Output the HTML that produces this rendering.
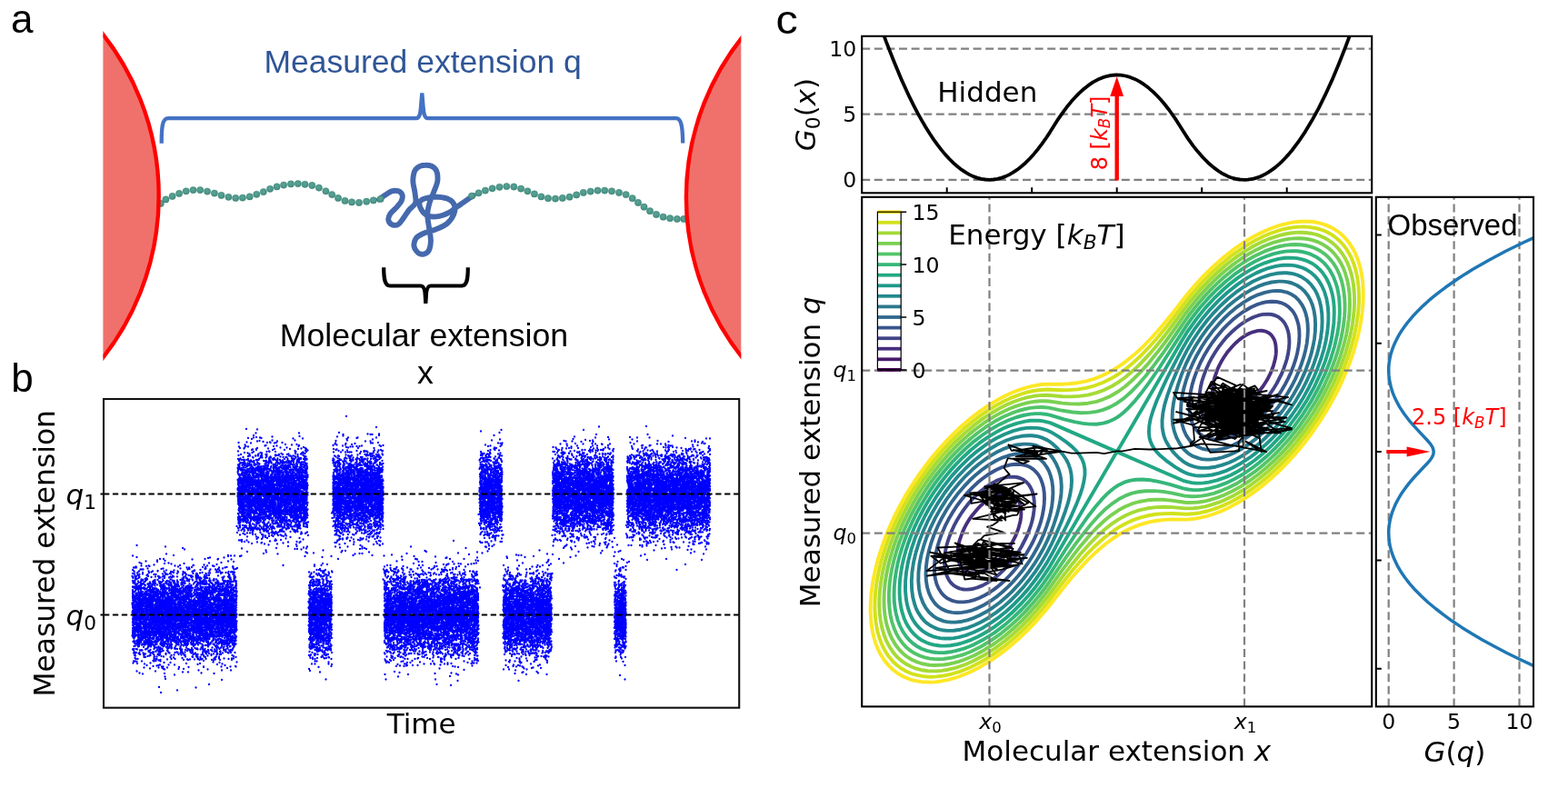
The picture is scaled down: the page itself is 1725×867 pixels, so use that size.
<!DOCTYPE html>
<html><head><meta charset="utf-8"><title>Figure</title>
<style>html,body{margin:0;padding:0;background:#fff;width:1725px;height:867px;overflow:hidden}svg{display:block}</style>
</head><body>
<svg width="1725" height="867" viewBox="0 0 1725 867">
<path transform="scale(.5)" fill="none" stroke="#0000ff" stroke-width="4.6" stroke-linecap="round" d="M291 1399h0m0-131h0m0 62h0m0 17h0m0-20h0m1-29h0m0 36h0m0-80h0m0 141h0m0-74h0m0-42h0m0 83h0m0-139h0m0 69h0m0 9h0m0 86h0m0 5h0m0-16h0m0-68h0m0 36h0m0-66h0m0-8h0m0 78h0m0-69h0m0 12h0m0 14h0m0 77h0m0 16h0m0-61h0m0 55h0m0-21h0m0 58h0m0-93h0m0-74h0m0 126h0m0-21h0m0-16h0m0-38h0m0 3h0m0-4h0m0 88h0m1-37h0m0-4h0m0 8h0m0-96h0m0 77h0m0 6h0m0 58h0m0-73h0m0 6h0m0 16h0m0-47h0m0 62h0m0-93h0m0 120h0m0-95h0m0 122h0m0-113h0m0 142h0m0-70h0m0-61h0m0 35h0m0-91h0m0 117h0m0-46h0m0 39h0m0-23h0m0-1h0m0-42h0m0-24h0m1-13h0m0 54h0m0 104h0m0-93h0m0 19h0m0-16h0m0 84h0m0-111h0m0 37h0m0 22h0m0 76h0m0-134h0m0 12h0m0-18h0m0 20h0m0-13h0m0 56h0m0 51h0m0-180h0m0 138h0m0 41h0m0-60h0m0 36h0m0-3h0m0-44h0m0-47h0m0 94h0m0-79h0m0 2h0m0-71h0m0 127h0m1-61h0m0 52h0m0 38h0m0-63h0m0 23h0m0 8h0m0 15h0m0-48h0m0 45h0m0-101h0m0 102h0m0-30h0m0-5h0m0 26h0m0 38h0m0-58h0m0 16h0m0-56h0m0 86h0m0-30h0m0-7h0m0-94h0m0 63h0m0-2h0m0 40h0m0 22h0m0-68h0m0-32h0m0 103h0m0-58h0m0 14h0m0 26h0m0-76h0m1 43h0m0-90h0m0 91h0m0-33h0m0 16h0m0 97h0m0-77h0m0-23h0m0 77h0m0-27h0m0-126h0m0 121h0m0-27h0m0 62h0m0-69h0m0 53h0m0-105h0m0 148h0m0-129h0m0 28h0m0 7h0m0-17h0m0 106h0m0-134h0m1 13h0m0-3h0m0 61h0m0 7h0m0-45h0m0 11h0m0 14h0m0 0h0m0 24h0m0 16h0m0 47h0m0-180h0m0 81h0m0-8h0m0-18h0m0 93h0m0-167h0m0 152h0m0-78h0m0 18h0m0-60h0m0 33h0m0 21h0m0 103h0m0-44h0m0-3h0m0 64h0m0-58h0m0-11h0m0-36h0m0-65h0m1 99h0m0-61h0m0-5h0m0 40h0m0 26h0m0 37h0m0-31h0m0-90h0m0 90h0m0-74h0m0-40h0m0 47h0m0 18h0m0 102h0m0-74h0m0-13h0m0-83h0m1 123h0m0-29h0m0 23h0m0-63h0m0 38h0m0-23h0m0 17h0m0-62h0m0 86h0m0 14h0m0-43h0m0 19h0m0-52h0m0 78h0m0 29h0m0 22h0m0-103h0m0-50h0m0 48h0m0-38h0m0-20h0m0 9h0m0 40h0m0-89h0m0 136h0m0-72h0m0-39h0m0 55h0m0-36h0m0-5h0m0 49h0m1 17h0m0-28h0m0 8h0m0-26h0m0 76h0m0-71h0m0-5h0m0 52h0m0 10h0m0 7h0m0-1h0m0-106h0m0 102h0m0-121h0m0 121h0m0-15h0m0 0h0m0 23h0m0-48h0m0 81h0m0-56h0m0 28h0m0 2h0m0-93h0m0 144h0m1-87h0m0 40h0m0-38h0m0 65h0m0-58h0m0-84h0m0 72h0m0 34h0m0-92h0m0 23h0m0 145h0m0-112h0m0 133h0m0-116h0m0 56h0m0-50h0m0 9h0m0-84h0m0 47h0m0-139h0m0 176h0m0-43h0m0 27h0m0 20h0m0-75h0m0 49h0m0 23h0m0-44h0m0-107h0m1 104h0m0 10h0m0 31h0m0-11h0m0 100h0m0-71h0m0 1h0m0-59h0m0 67h0m0-137h0m0 112h0m0-57h0m0 28h0m0-53h0m0 107h0m0-101h0m0 82h0m0-3h0m0 5h0m0-96h0m0 127h0m0-74h0m0 91h0m0-100h0m0 26h0m0 55h0m0-69h0m0-24h0m1 35h0m0-57h0m0 56h0m0-32h0m0 66h0m0-70h0m0 11h0m0 65h0m0-72h0m0 101h0m0-56h0m0-57h0m0 143h0m0-33h0m0-61h0m0-30h0m0 15h0m0 20h0m0-15h0m0-3h0m0 3h0m0-86h0m0 118h0m0-113h0m0 52h0m0 75h0m0-65h0m0 81h0m0-77h0m1 40h0m0-23h0m0-27h0m0 64h0m0-47h0m0-59h0m0 56h0m0-43h0m0 111h0m0-7h0m0-42h0m0 47h0m0-62h0m0 23h0m0 22h0m0-23h0m0 21h0m0-34h0m0 67h0m0-74h0m0-7h0m0-38h0m0 96h0m0 31h0m0-96h0m1-25h0m0 89h0m0-109h0m0-10h0m0 108h0m0 23h0m0 6h0m0 4h0m0-70h0m0-9h0m0 8h0m0-18h0m0 21h0m0-1h0m0-8h0m0-15h0m0 6h0m0 111h0m0-127h0m0 47h0m0-60h0m0 33h0m1 35h0m0-98h0m0 67h0m0-78h0m0 82h0m0 37h0m0-47h0m0 2h0m0 49h0m0-20h0m0 37h0m0-101h0m0 33h0m0 93h0m0-117h0m0 83h0m0-49h0m0 16h0m0 44h0m0 6h0m0-91h0m0 103h0m0-58h0m0-1h0m0-10h0m0-36h0m0 77h0m0-98h0m0 99h0m0-50h0m0 3h0m0-5h0m0-4h0m0-64h0m0 105h0m0 16h0m0-52h0m0 25h0m0-75h0m0 69h0m0-10h0m0 29h0m0-34h0m1 12h0m0-34h0m0 84h0m0-51h0m0-116h0m0 129h0m0 30h0m0-13h0m0-66h0m0 56h0m0-59h0m0 83h0m0-44h0m0 13h0m0 36h0m0 15h0m0-95h0m0-59h0m0 96h0m0-90h0m0 59h0m0-25h0m0 40h0m0 2h0m0-28h0m0 22h0m0 74h0m0-120h0m0 53h0m0 62h0m0-33h0m0 1h0m0-65h0m0 45h0m0 79h0m0-122h0m0 34h0m0 133h0m0-186h0m0 32h0m0 50h0m0-20h0m1-29h0m0-12h0m0 5h0m0-9h0m0-24h0m0 71h0m0-25h0m0 106h0m0-54h0m0 5h0m0 18h0m0-101h0m0 67h0m0 15h0m0-19h0m0 40h0m0-61h0m0-43h0m0 61h0m0 63h0m0-92h0m0 6h0m0-21h0m0 86h0m0-99h0m0 40h0m0 46h0m1 12h0m0-71h0m0-4h0m0 1h0m0-11h0m0 39h0m0-27h0m0 35h0m0-16h0m0 26h0m0-28h0m0 29h0m0-100h0m0 73h0m0-102h0m0 155h0m0-103h0m0 72h0m0-60h0m0 17h0m0-7h0m0-6h0m0 36h0m1 16h0m0-84h0m0 77h0m0-40h0m0 68h0m0 37h0m0-70h0m0-6h0m0 5h0m0-60h0m0 53h0m0-10h0m0-16h0m0 52h0m0-93h0m0 5h0m0-12h0m0 44h0m0 3h0m0-17h0m0 103h0m0-81h0m0 21h0m0 39h0m0-12h0m0-51h0m0-45h0m0 131h0m0-20h0m0-14h0m0-26h0m0 17h0m0-74h0m0 56h0m1-78h0m0 117h0m0-80h0m0 40h0m0-2h0m0 12h0m0-122h0m0 105h0m0 13h0m0-25h0m0-31h0m0 40h0m0-48h0m0 137h0m0-25h0m0-73h0m0 39h0m0-48h0m0 35h0m0-39h0m0 19h0m0 62h0m0-30h0m0-43h0m0-83h0m0 39h0m0 48h0m0 68h0m0-41h0m0 72h0m0-29h0m0-62h0m0 46h0m0-56h0m0 75h0m0-43h0m0-60h0m0 103h0m1 4h0m0-81h0m0 16h0m0 16h0m0-54h0m0 149h0m0-106h0m0-23h0m0 1h0m0 34h0m0 22h0m0 25h0m0-132h0m0 48h0m0-20h0m0 69h0m0-79h0m0-41h0m0 145h0m0-52h0m0-19h0m0-22h0m0-18h0m0 71h0m0-6h0m0-18h0m0 85h0m0-51h0m0-28h0m0-1h0m1-32h0m0 1h0m0 18h0m0 33h0m0 30h0m0 42h0m0-76h0m0-19h0m0 58h0m0 25h0m0-84h0m0-49h0m0 32h0m0 72h0m0-112h0m0 93h0m0-41h0m0 62h0m0-31h0m0-55h0m0 4h0m0-7h0m0 31h0m0 5h0m0 30h0m0 4h0m1-97h0m0 46h0m0 11h0m0 22h0m0 128h0m0-66h0m0-46h0m0-41h0m0 40h0m0-40h0m0-3h0m0-64h0m0 58h0m0 70h0m0-89h0m0-42h0m0 55h0m0 48h0m0-31h0m0-6h0m0 5h0m0 30h0m0-84h0m0 50h0m0-32h0m0 112h0m0-82h0m1 79h0m0-35h0m0-29h0m0 97h0m0-120h0m0 37h0m0 5h0m0-36h0m0 58h0m0-49h0m0 47h0m0 21h0m0-147h0m0 121h0m0 25h0m0-56h0m0 2h0m0-61h0m0 73h0m0-17h0m0 60h0m0-6h0m0 7h0m0-8h0m0-50h0m0 24h0m0 32h0m1-4h0m0-81h0m0 19h0m0 91h0m0-101h0m0 43h0m0-21h0m0-31h0m0-6h0m0 5h0m0 36h0m0 92h0m0-87h0m0-60h0m0 14h0m0-15h0m0 86h0m0-32h0m0 27h0m0 15h0m1-59h0m0 26h0m0-75h0m0 86h0m0-58h0m0 60h0m0 42h0m0 2h0m0-73h0m0-24h0m0 12h0m0 63h0m0-36h0m0-3h0m0 6h0m0 27h0m0 34h0m0-44h0m0 8h0m0-61h0m0-7h0m0 154h0m0-23h0m0-62h0m0-26h0m0 84h0m0-84h0m0-36h0m0-2h0m0 7h0m0 58h0m1-79h0m0 72h0m0-91h0m0 129h0m0-16h0m0 16h0m0-82h0m0-29h0m0 134h0m0-142h0m0 66h0m0-45h0m0 143h0m0-168h0m0 93h0m0 11h0m0-46h0m0 53h0m0-2h0m0-49h0m0 30h0m0-6h0m0 7h0m1-46h0m0-58h0m0 100h0m0 24h0m0 13h0m0-138h0m0 133h0m0-50h0m0 5h0m0-31h0m0 59h0m0 10h0m0-48h0m0 16h0m0-18h0m0 30h0m0 9h0m0 25h0m0-29h0m0-54h0m0-1h0m0 29h0m0-10h0m0 13h0m0-62h0m0 109h0m0-140h0m0 88h0m0 28h0m1-44h0m0-27h0m0 59h0m0 16h0m0-16h0m0-76h0m0 68h0m0-3h0m0-62h0m0-17h0m0 158h0m0-78h0m0-43h0m0 12h0m0 45h0m0-43h0m0-26h0m0 59h0m0 67h0m0-112h0m0 2h0m0 58h0m0-68h0m0 34h0m0-37h0m0 46h0m0 67h0m0-121h0m0 34h0m0-22h0m0 7h0m1-50h0m0 92h0m0 15h0m0 7h0m0-27h0m0 44h0m0-87h0m0 45h0m0-53h0m0 95h0m0-42h0m0-6h0m0-55h0m0 23h0m0-9h0m0 32h0m0-7h0m0 5h0m0-114h0m0 128h0m0-56h0m0 69h0m0 12h0m0 10h0m0-35h0m0-53h0m0-14h0m0 43h0m0 51h0m0-60h0m0 7h0m0-1h0m0 17h0m1 50h0m0-131h0m0 32h0m0 35h0m0 7h0m0 34h0m0-47h0m0-28h0m0 15h0m0 76h0m0-49h0m0 26h0m0 23h0m0-49h0m0 30h0m0-73h0m0 83h0m0-70h0m0 38h0m0-45h0m0 107h0m0-91h0m0-23h0m0-57h0m0 109h0m0 46h0m0 12h0m0-20h0m1-18h0m0-71h0m0 34h0m0 75h0m0-24h0m0 75h0m0-100h0m0-19h0m0 24h0m0-93h0m0 101h0m0-111h0m0 61h0m0 19h0m0-38h0m0 81h0m0-20h0m0 12h0m0-86h0m0 24h0m0 25h0m0 9h0m0 32h0m0-2h0m0-51h0m0-31h0m0 127h0m0-44h0m0 1h0m0-51h0m0 5h0m0 35h0m0-37h0m0 12h0m0 20h0m0-15h0m0-19h0m0 50h0m0 26h0m1-137h0m0 77h0m0 29h0m0-32h0m0 67h0m0-26h0m0-67h0m0 3h0m0 29h0m0-34h0m0 19h0m0 20h0m0-38h0m0 73h0m0-19h0m0-27h0m0-48h0m0 74h0m0-52h0m0 72h0m1-63h0m0 77h0m0-14h0m0-33h0m0-97h0m0 82h0m0-1h0m0 81h0m0-86h0m0-5h0m0-84h0m0 99h0m0 9h0m0-74h0m0 116h0m0-63h0m0-22h0m0 42h0m0-41h0m0 80h0m0-42h0m0 36h0m0 53h0m0-80h0m1-58h0m0 28h0m0 73h0m0 9h0m0-12h0m0-75h0m0-42h0m0 47h0m0-35h0m0 125h0m0-52h0m0-80h0m0 18h0m0-42h0m0 63h0m0 25h0m0 32h0m0-7h0m0 39h0m0-64h0m0 0h0m0 25h0m0 23h0m1-78h0m0 106h0m0-106h0m0 70h0m0-96h0m0 134h0m0-69h0m0-45h0m0 97h0m0-160h0m0 101h0m0 21h0m0 14h0m0-61h0m0 24h0m0-111h0m0 77h0m0 35h0m0 55h0m0-15h0m0-71h0m1 57h0m0 2h0m0-31h0m0 40h0m0 28h0m0-98h0m0 91h0m0-131h0m0 14h0m0 57h0m0 21h0m0 11h0m0-45h0m0-15h0m0 8h0m0 1h0m0-46h0m0 99h0m0-78h0m0 23h0m0-20h0m0 49h0m0 7h0m0 34h0m0-19h0m0-51h0m0 1h0m0 7h0m0-43h0m0 53h0m0 60h0m0-23h0m0-129h0m0 41h0m1 48h0m0 84h0m0-66h0m0-34h0m0 18h0m0-15h0m0 55h0m0-49h0m0 66h0m0-107h0m0 76h0m0-32h0m0-27h0m0 100h0m0 25h0m0-109h0m0 35h0m0-26h0m0 2h0m0-4h0m0 41h0m0-49h0m0 21h0m0-32h0m0 20h0m0 28h0m0-53h0m0 32h0m0-60h0m0 110h0m0-153h0m1 171h0m0-86h0m0 87h0m0-35h0m0-52h0m0 38h0m0 13h0m0 20h0m0-5h0m0-99h0m0 110h0m0-115h0m0 82h0m0-48h0m0 53h0m0-40h0m0 131h0m0-142h0m0-22h0m0 43h0m0 3h0m0-72h0m0 123h0m0-55h0m0-53h0m0 23h0m1 140h0m0-154h0m0 28h0m0 17h0m0-9h0m0 89h0m0-140h0m0 19h0m0 61h0m0-10h0m0-24h0m0 61h0m0-36h0m0-77h0m0 45h0m0 36h0m0-48h0m0 121h0m0-1h0m0-73h0m0 11h0m0-24h0m0 21h0m0 70h0m0-39h0m1 7h0m0-64h0m0-43h0m0 26h0m0 2h0m0 92h0m0-102h0m0-12h0m0 5h0m0 107h0m0-64h0m0-56h0m0 11h0m0 49h0m0-17h0m0 50h0m0-44h0m0 48h0m0-50h0m0-17h0m0 18h0m0 30h0m0-20h0m0-54h0m0 57h0m0 52h0m0-80h0m0-14h0m0 28h0m0 42h0m0-66h0m0 54h0m1 9h0m0-14h0m0-2h0m0 40h0m0-36h0m0-16h0m0-3h0m0 7h0m0 8h0m0-80h0m0 120h0m0-69h0m0 48h0m0-131h0m0 30h0m0 76h0m0-95h0m0 65h0m0-26h0m0 28h0m0-13h0m0 3h0m0-6h0m0 39h0m0-22h0m0-21h0m0 9h0m0-22h0m0-6h0m0 121h0m0-129h0m0 74h0m1-10h0m0-22h0m0 5h0m0-16h0m0 18h0m0 78h0m0-117h0m0 82h0m0-47h0m0 84h0m0-66h0m0-41h0m0-22h0m0 95h0m0 32h0m0-68h0m0 3h0m0-41h0m0 15h0m0 32h0m0 3h0m0-25h0m0 33h0m0-35h0m0 8h0m0 63h0m1 7h0m0-50h0m0-44h0m0 45h0m0-25h0m0-52h0m0 86h0m0 34h0m0-61h0m0 70h0m0-51h0m0-64h0m0 116h0m0-29h0m0 49h0m0-148h0m0 1h0m0 98h0m0-37h0m0 8h0m0-45h0m0-16h0m0 70h0m1-24h0m0-20h0m0 81h0m0-91h0m0 51h0m0 1h0m0-79h0m0 54h0m0 30h0m0-76h0m0 99h0m0-113h0m0 90h0m0 48h0m0-69h0m0-92h0m0 116h0m0-23h0m0 63h0m0-23h0m0-52h0m0-5h0m0 20h0m0-32h0m0 0h0m0 50h0m0 26h0m0-49h0m0-28h0m0 59h0m0 13h0m0-63h0m0 56h0m0 12h0m0-31h0m0-41h0m0 15h0m0-21h0m1 55h0m0-60h0m0 65h0m0-58h0m0 10h0m0 63h0m0-21h0m0-14h0m0 80h0m0-87h0m0-69h0m0 117h0m0-50h0m0-15h0m0 131h0m0-160h0m0 129h0m0-62h0m0-20h0m0 101h0m0-111h0m0 19h0m0 11h0m0 7h0m0-76h0m0 25h0m0 23h0m0 51h0m0-56h0m0 53h0m0-28h0m0-67h0m0 42h0m0 56h0m0-51h0m0-42h0m0 65h0m0-17h0m0-25h0m1 36h0m0-56h0m0 5h0m0 41h0m0-11h0m0 18h0m0-15h0m0 38h0m0-6h0m0-38h0m0 16h0m0 40h0m0 6h0m0-4h0m0-48h0m0 4h0m0 17h0m0-18h0m0-55h0m0-4h0m0 105h0m0-42h0m0 57h0m0-70h0m0 34h0m0-39h0m0-44h0m0-22h0m0 68h0m0 89h0m0-91h0m0-26h0m1 53h0m0 13h0m0 44h0m0-164h0m0 74h0m0 112h0m0-73h0m0-82h0m0-52h0m0 212h0m0-9h0m0-5h0m0-58h0m0-100h0m0 82h0m0-43h0m0 45h0m0-58h0m0 95h0m0-11h0m0-129h0m0 21h0m0 64h0m0-69h0m0 72h0m0 31h0m0-36h0m0 94h0m0-19h0m0-62h0m0-64h0m0 104h0m1-31h0m0-25h0m0-3h0m0 55h0m0 17h0m0 32h0m0-55h0m0-1h0m0-35h0m0 22h0m0-74h0m0 62h0m0-56h0m0 9h0m0-22h0m0 84h0m0-15h0m0 48h0m0-50h0m0-11h0m0 75h0m0-129h0m0 49h0m0-43h0m0 88h0m0-71h0m0 32h0m0-30h0m0 76h0m1-122h0m0 13h0m0 110h0m0-45h0m0 9h0m0-68h0m0 72h0m0 11h0m0-100h0m0 119h0m0-43h0m0-75h0m0 115h0m0-27h0m0-6h0m0-39h0m0 35h0m0-53h0m0 45h0m0-36h0m0-31h0m0 132h0m0-69h0m0 47h0m0-54h0m0-5h0m0 19h0m1 30h0m0-77h0m0 67h0m0 0h0m0-37h0m0-66h0m0 141h0m0-87h0m0 18h0m0 0h0m0 78h0m0-70h0m0 6h0m0-25h0m0 54h0m0 93h0m0-193h0m0 24h0m0 117h0m0-83h0m0 32h0m0-62h0m0 32h0m0-12h0m0 26h0m0 52h0m0-20h0m0-23h0m0-31h0m0 17h0m0 12h0m1-23h0m0 73h0m0 19h0m0-115h0m0 57h0m0-46h0m0 56h0m0 0h0m0-53h0m0 56h0m0-94h0m0 95h0m0 60h0m0-111h0m0 22h0m0 4h0m0-39h0m0 59h0m0-19h0m0-34h0m0 65h0m0 57h0m0-190h0m0 65h0m0-3h0m0 107h0m1-67h0m0 27h0m0 1h0m0-32h0m0-30h0m0 53h0m0-39h0m0-8h0m0-26h0m0 59h0m0 25h0m0 3h0m0-32h0m0-67h0m0 105h0m0-63h0m0 21h0m0 21h0m0-65h0m0 23h0m0-30h0m0 26h0m0 56h0m0 12h0m1-33h0m0-64h0m0 69h0m0-16h0m0 40h0m0-100h0m0 87h0m0-69h0m0 98h0m0 47h0m0-109h0m0 69h0m0-72h0m0 26h0m0-72h0m0 57h0m0-11h0m0-16h0m0 108h0m0-107h0m0 12h0m0 100h0m0-90h0m0-64h0m0 21h0m0 30h0m0-22h0m0 86h0m0-34h0m1-25h0m0 24h0m0-72h0m0 39h0m0-56h0m0 53h0m0 26h0m0 36h0m0-34h0m0-53h0m0 98h0m0-30h0m0-62h0m0 71h0m0-25h0m0-49h0m0 29h0m0 26h0m0-8h0m0 8h0m0-42h0m0 0h0m0-3h0m0 35h0m0-20h0m0-10h0m0 23h0m0-123h0m0 65h0m0 43h0m0-28h0m0 46h0m0-33h0m0 104h0m0-194h0m0 176h0m1-7h0m0-21h0m0 28h0m0-22h0m0-59h0m0-8h0m0 85h0m0-152h0m0 87h0m0-67h0m0 87h0m0-53h0m0 61h0m0-23h0m0 82h0m0-56h0m0-13h0m0-21h0m0 0h0m0 48h0m0-64h0m0 52h0m0-119h0m0 102h0m0-47h0m0 32h0m0-38h0m0 28h0m0 106h0m1-113h0m0 22h0m0-12h0m0 102h0m0-115h0m0 59h0m0-74h0m0 67h0m0-67h0m0 15h0m0 30h0m0-38h0m0-18h0m0 82h0m0-41h0m0-23h0m0 67h0m0-7h0m0 5h0m0-20h0m0-61h0m0 6h0m0 10h0m0 65h0m0 25h0m0-20h0m0-17h0m0-29h0m0 21h0m0 20h0m0-11h0m0 34h0m0-46h0m0 19h0m0-109h0m0 102h0m0 1h0m0 54h0m0-100h0m0 69h0m0-60h0m0-1h0m0-1h0m0 12h0m1 90h0m0-100h0m0-8h0m0 56h0m0-57h0m0 98h0m0-108h0m0 138h0m0-92h0m0-40h0m0-8h0m0 156h0m0-153h0m0 3h0m0 69h0m0-8h0m0-30h0m0 114h0m0-128h0m0 60h0m0-53h0m0 64h0m0-70h0m0-29h0m0 28h0m1 12h0m0 19h0m0-14h0m0-16h0m0 63h0m0-17h0m0 10h0m0-9h0m0-23h0m0-2h0m0-43h0m0 196h0m0-70h0m0-141h0m0 45h0m0 51h0m0 29h0m0-60h0m0 11h0m0-55h0m0 30h0m0 44h0m0 13h0m0-65h0m0 25h0m0-35h0m0 44h0m0-9h0m0-17h0m0-80h0m0 8h0m0 55h0m0-66h0m1 121h0m0-15h0m0 14h0m0-105h0m0 57h0m0 45h0m0 48h0m0-3h0m0-34h0m0 10h0m0-31h0m0 16h0m0-43h0m0 78h0m0-57h0m0-48h0m0 5h0m0 21h0m0-45h0m0 28h0m0 26h0m0-16h0m0 24h0m0-49h0m0 25h0m1-111h0m0 233h0m0-143h0m0 9h0m0 2h0m0 12h0m0 53h0m0-61h0m0 58h0m0-42h0m0 22h0m0 59h0m0-143h0m0 97h0m0-80h0m0 134h0m0-108h0m0-5h0m0 58h0m0-71h0m0 31h0m0 43h0m0-108h0m0 87h0m0 12h0m0 51h0m0-37h0m0-29h0m0-21h0m0-7h0m0 52h0m0-62h0m0 5h0m0 105h0m1-72h0m0-29h0m0 64h0m0-65h0m0-16h0m0 82h0m0-98h0m0 71h0m0-90h0m0-12h0m0 111h0m0-18h0m0 33h0m0-2h0m0-3h0m0-46h0m0 45h0m0 3h0m0 11h0m0 2h0m0-45h0m0 18h0m0 75h0m0-117h0m0 46h0m0-25h0m0 47h0m0 22h0m0 24h0m0-138h0m0 82h0m0-8h0m0-21h0m0 66h0m0-110h0m0 54h0m0 39h0m0 9h0m0-23h0m0 16h0m0-98h0m0 108h0m1-105h0m0-13h0m0 25h0m0-9h0m0 21h0m0-5h0m0-1h0m0 43h0m0-9h0m0 29h0m0-29h0m0 11h0m0-62h0m0-32h0m0 73h0m0 48h0m0-76h0m0 49h0m0-89h0m0-10h0m0 110h0m0-16h0m0-13h0m0 32h0m0-71h0m0 11h0m0 184h0m0-165h0m0 33h0m0-69h0m0 11h0m1 100h0m0-60h0m0 70h0m0-62h0m0 17h0m0-78h0m0 16h0m0-9h0m0 23h0m0-45h0m0 42h0m0-96h0m0 151h0m0-16h0m0-48h0m0 32h0m0-31h0m0 11h0m0 18h0m0 21h0m0-24h0m0 28h0m0-62h0m0 30h0m0-41h0m0 39h0m0-29h0m0 69h0m0-52h0m0 26h0m0-85h0m1 40h0m0 22h0m0-26h0m0 22h0m0 61h0m0 1h0m0-70h0m0-58h0m0 86h0m0-40h0m0 41h0m0 99h0m0-139h0m0-33h0m0 26h0m0-30h0m0 129h0m0-133h0m0 86h0m0-25h0m0-67h0m0 74h0m0-9h0m0 70h0m0-15h0m0-53h0m0 12h0m0-47h0m1 30h0m0 27h0m0-40h0m0 59h0m0-49h0m0 89h0m0-88h0m0 32h0m0 21h0m0-43h0m0-27h0m0-19h0m0 77h0m0-45h0m0 81h0m0-66h0m0-22h0m0 53h0m0-7h0m0-42h0m0 16h0m0 34h0m0-17h0m0-23h0m0 6h0m0-12h0m0 42h0m0 90h0m0-100h0m0-34h0m0-27h0m0 119h0m0-65h0m0 41h0m1-135h0m0 90h0m0-60h0m0 74h0m0-49h0m0 10h0m0-30h0m0 42h0m0-16h0m0 39h0m0 28h0m0-35h0m0-5h0m0-20h0m0 30h0m0 102h0m0-89h0m0-117h0m0 107h0m0 41h0m0-9h0m0-26h0m0-13h0m0 4h0m0-50h0m0-42h0m0 88h0m0 19h0m0-16h0m0 52h0m0-42h0m0-50h0m0-35h0m0 103h0m0-92h0m0 114h0m0-20h0m0-31h0m1-12h0m0 63h0m0-70h0m0 21h0m0 4h0m0-36h0m0 78h0m0-77h0m0 30h0m0-38h0m0 95h0m0 44h0m0-83h0m0-63h0m0 9h0m0 18h0m0 46h0m0 14h0m0-49h0m0-29h0m0 49h0m0 37h0m0-17h0m0-88h0m0 81h0m0-141h0m0 57h0m0 33h0m0 70h0m0-12h0m0-2h0m0-119h0m0 28h0m0 48h0m0 78h0m0-86h0m0 22h0m1 49h0m0-18h0m0-86h0m0-18h0m0 150h0m0-77h0m0-16h0m0-48h0m0 44h0m0-15h0m0-36h0m0 87h0m0-28h0m0-29h0m0 40h0m0-28h0m0 133h0m0-69h0m0-94h0m0 57h0m0-136h0m0 190h0m0-131h0m0 47h0m0 24h0m0-74h0m0 106h0m0 7h0m0 2h0m1-37h0m0-28h0m0-40h0m0-9h0m0 71h0m0 32h0m0 7h0m0-48h0m0-16h0m0-66h0m0 89h0m0-23h0m0 21h0m0-17h0m0 24h0m0-76h0m0 100h0m0-28h0m0 101h0m0-71h0m0 30h0m0-119h0m0 25h0m0-34h0m0 86h0m0-70h0m0-48h0m1 142h0m0-46h0m0-44h0m0 33h0m0 131h0m0-171h0m0 44h0m0-55h0m0 76h0m0-9h0m0 23h0m0-3h0m0-109h0m0 149h0m0-146h0m0 32h0m0 23h0m0-59h0m0 30h0m0 35h0m0 22h0m0 40h0m0-15h0m0-83h0m0 185h0m0-110h0m0 49h0m0-89h0m0 57h0m0-28h0m0-121h0m0 126h0m1-16h0m0 23h0m0-61h0m0 6h0m0 17h0m0-16h0m0 94h0m0-73h0m0 16h0m0 133h0m0-109h0m0-72h0m0 21h0m0-5h0m0 80h0m0-65h0m0 65h0m0-76h0m0 11h0m0 28h0m0-66h0m0-11h0m0 43h0m0 5h0m0-77h0m0 62h0m0-89h0m0 83h0m0-23h0m0 28h0m0-2h0m1-5h0m0 73h0m0-60h0m0-5h0m0 74h0m0-65h0m0 15h0m0 35h0m0-26h0m0 12h0m0-45h0m0 73h0m0-81h0m0 71h0m0 5h0m0-58h0m0 161h0m0-82h0m0-69h0m0-140h0m0 194h0m0-8h0m0-44h0m0 53h0m0-46h0m0 48h0m0-58h0m1 96h0m0-133h0m0-1h0m0 45h0m0 24h0m0-93h0m0 20h0m0 58h0m0-11h0m0-83h0m0 59h0m0 24h0m0 17h0m0 76h0m0-24h0m0-87h0m0 13h0m0 1h0m0 13h0m0 46h0m0-63h0m0 60h0m0-59h0m0 48h0m0-69h0m0-36h0m0 45h0m0-66h0m1 101h0m0-57h0m0 118h0m0-53h0m0-48h0m0 43h0m0 14h0m0-60h0m0 61h0m0 29h0m0-155h0m0 150h0m0 4h0m0-25h0m0-37h0m0-128h0m0 110h0m0 50h0m0 2h0m0-87h0m0 41h0m0 2h0m0 7h0m0-16h0m0 1h0m0 1h0m1 48h0m0-47h0m0 59h0m0-14h0m0-15h0m0-30h0m0 31h0m0-46h0m0-31h0m0 59h0m0-27h0m0 62h0m0 4h0m0-57h0m0 69h0m0-3h0m0-112h0m0 74h0m0 0h0m0 7h0m0 44h0m0-50h0m0-74h0m0 66h0m0 31h0m0-37h0m0 0h0m0 44h0m0-56h0m0 15h0m0-48h0m0 66h0m0 44h0m1-88h0m0 89h0m0-40h0m0 13h0m0 39h0m0 13h0m0-90h0m0-17h0m0 30h0m0 27h0m0 16h0m0-13h0m0 24h0m0-71h0m0 65h0m0-50h0m0 8h0m0-15h0m0 28h0m0-21h0m0 74h0m0-57h0m0 99h0m0-129h0m0 67h0m0-70h0m0-4h0m0 31h0m0 31h0m0-44h0m0 1h0m0 99h0m0-121h0m0-6h0m0 86h0m0-52h0m0 23h0m0 20h0m0-40h0m0-27h0m0-25h0m0-5h0m0 77h0m0-103h0m1 41h0m0-10h0m0 123h0m0-137h0m0 12h0m0 110h0m0-76h0m0 30h0m0-49h0m0 31h0m0-11h0m0 9h0m0 61h0m0-16h0m0-20h0m0-64h0m0 44h0m0 19h0m0-60h0m0-51h0m0 51h0m0 33h0m0-5h0m0-12h0m0 4h0m0 5h0m0 82h0m1-61h0m0 2h0m0 9h0m0-46h0m0 49h0m0-56h0m0 64h0m0-76h0m0 48h0m0-13h0m0-17h0m0-11h0m0 79h0m0 11h0m0-55h0m0-28h0m0 52h0m0-25h0m0 61h0m0-56h0m0 34h0m0-37h0m0 77h0m0-76h0m0-18h0m1 42h0m0-31h0m0 119h0m0-85h0m0-61h0m0 95h0m0-173h0m0 97h0m0 38h0m0 61h0m0-70h0m0-54h0m0 114h0m0-63h0m0 74h0m0-148h0m0 83h0m0-50h0m0 27h0m0-11h0m0 36h0m0-34h0m0 6h0m0 34h0m0-6h0m0 20h0m0 14h0m0-30h0m0-92h0m0 58h0m0 16h0m1 13h0m0-34h0m0 11h0m0 4h0m0-60h0m0 37h0m0 51h0m0-102h0m0 96h0m0 42h0m0-85h0m0 16h0m0-77h0m0 97h0m0-38h0m0 65h0m0-63h0m0 53h0m0-48h0m0 54h0m0-28h0m0-64h0m0 68h0m0-26h0m0 2h0m0 50h0m0-93h0m1-19h0m0 156h0m0-83h0m0-49h0m0 34h0m0-8h0m0-36h0m0 47h0m0 46h0m0 12h0m0 25h0m0-94h0m0 58h0m0-31h0m0-12h0m0 2h0m0 71h0m0-103h0m0-36h0m0 71h0m0 14h0m0 32h0m0-58h0m0-6h0m0 15h0m0-3h0m0-24h0m0 23h0m0 17h0m1-10h0m0-28h0m0-10h0m0 64h0m0-8h0m0 32h0m0-47h0m0 43h0m0-44h0m0 8h0m0-38h0m0 65h0m0 16h0m0 1h0m0-48h0m0-70h0m0 61h0m0 30h0m0 44h0m0-135h0m0-25h0m0 64h0m0 66h0m0-3h0m0 0h0m0-53h0m0-17h0m0 44h0m0-28h0m1 21h0m0 11h0m0-61h0m0 58h0m0-95h0m0 100h0m0-14h0m0 54h0m0-59h0m0 96h0m0-56h0m0-85h0m0 47h0m0-7h0m0-17h0m0-53h0m0 183h0m0-85h0m0-26h0m0-50h0m0 36h0m0 41h0m0-41h0m0 52h0m0-96h0m0 72h0m1 48h0m0-127h0m0 111h0m0-26h0m0 5h0m0-24h0m0 19h0m0-3h0m0-65h0m0 0h0m0-17h0m0-19h0m0 138h0m0-117h0m0 70h0m0-10h0m0-86h0m0 102h0m0 5h0m0 16h0m0-57h0m0 51h0m0 39h0m0-57h0m0-1h0m0-16h0m0 17h0m0 51h0m0-42h0m1-69h0m0 121h0m0 9h0m0-59h0m0-64h0m0 20h0m0-66h0m0 77h0m0-4h0m0-4h0m0-20h0m0 57h0m0-63h0m0 100h0m0-5h0m0-40h0m0-12h0m0 98h0m0-141h0m0 10h0m0 63h0m0-26h0m0-28h0m0 130h0m0-134h0m0-75h0m0 124h0m0-21h0m0-59h0m0 136h0m0-47h0m0-63h0m1 98h0m0-81h0m0 33h0m0-11h0m0 4h0m0 15h0m0 49h0m0 7h0m0-132h0m0 48h0m0-2h0m0 27h0m0 25h0m0-11h0m0-10h0m0-46h0m0-35h0m0 75h0m0 62h0m0-155h0m0 76h0m0 61h0m0-85h0m0 5h0m0-28h0m0 16h0m0 37h0m0-21h0m0 20h0m0-24h0m0 82h0m0-65h0m0 31h0m0-26h0m0 4h0m1-18h0m0 24h0m0-67h0m0 53h0m0-33h0m0-5h0m0 28h0m0 50h0m0 16h0m0-82h0m0-3h0m0 17h0m0 48h0m0-63h0m0-29h0m0 60h0m0 28h0m0 5h0m0-106h0m0 106h0m0-81h0m0 27h0m0 55h0m0-36h0m0-30h0m0 15h0m0 64h0m0-7h0m0-71h0m0 86h0m0-39h0m0-7h0m0-39h0m0 78h0m1-96h0m0-35h0m0 85h0m0-8h0m0 5h0m0 13h0m0 43h0m0 0h0m0-100h0m0 18h0m0 21h0m0-85h0m0 44h0m0 25h0m0 18h0m0 14h0m0 3h0m0-57h0m0 14h0m0 53h0m0-43h0m0 28h0m0 43h0m0-36h0m0 16h0m0-24h0m0-62h0m0 5h0m0 75h0m0-11h0m1-14h0m0-12h0m0 26h0m0 46h0m0-57h0m0 34h0m0-25h0m0-13h0m0 9h0m0 17h0m0-19h0m0 3h0m0-7h0m0-53h0m0 45h0m0-34h0m0-30h0m0 70h0m0-52h0m0 19h0m0 12h0m0 55h0m0-46h0m1 21h0m0-33h0m0 45h0m0 0h0m0 37h0m0-70h0m0-69h0m0-47h0m0 180h0m0-123h0m0 112h0m0-14h0m0 12h0m0-35h0m0 6h0m0 12h0m0-74h0m0 42h0m0 47h0m0 9h0m0-17h0m0-35h0m0-33h0m0 70h0m0-75h0m0 141h0m0-187h0m1 18h0m0 49h0m0 42h0m0-23h0m0 46h0m0-35h0m0-61h0m0 90h0m0-131h0m0 29h0m0 157h0m0-75h0m0-26h0m0 36h0m0-40h0m0-44h0m0 46h0m0 28h0m0 45h0m1-11h0m0-42h0m0 37h0m0-90h0m0 9h0m0 46h0m0 39h0m0-20h0m0-10h0m0-9h0m0-76h0m0-3h0m0 52h0m0 31h0m0 40h0m0 59h0m0-109h0m0 40h0m0-72h0m0 82h0m0-70h0m0 77h0m0-16h0m0 12h0m0-67h0m0 72h0m0-122h0m0 61h0m0-49h0m0 61h0m0 27h0m0-38h0m0-21h0m0 31h0m0-17h0m0 50h0m0 90h0m0-58h0m0-51h0m0-26h0m0-41h0m0 52h0m1 37h0m0-102h0m0 129h0m0 11h0m0-116h0m0 23h0m0 0h0m0 16h0m0-63h0m0 4h0m0 63h0m0-71h0m0 93h0m0 0h0m0 7h0m0-38h0m0-67h0m0 77h0m0 24h0m0-25h0m0 15h0m0-44h0m0-45h0m0 55h0m0 42h0m0-2h0m0-49h0m0 34h0m0-36h0m0 38h0m0-126h0m0 145h0m0-33h0m0-57h0m0 25h0m0 125h0m0-105h0m1 19h0m0-37h0m0 19h0m0-4h0m0 1h0m0-9h0m0 66h0m0-89h0m0 27h0m0 72h0m0 18h0m0-78h0m0 6h0m0-48h0m0 84h0m0 19h0m0-68h0m0 57h0m0-59h0m0-37h0m0 97h0m0-26h0m0-5h0m0-4h0m0-10h0m0 39h0m1-32h0m0-12h0m0 25h0m0-17h0m0-15h0m0-8h0m0 9h0m0-8h0m0 9h0m0-49h0m0 24h0m0 0h0m0-4h0m0 104h0m0-90h0m0 16h0m0-28h0m0 96h0m0-35h0m0 17h0m1-30h0m0-8h0m0-19h0m0-5h0m0 58h0m0-6h0m0-25h0m0-74h0m0 63h0m0-6h0m0-5h0m0-52h0m0 70h0m0 47h0m0 7h0m0-65h0m0 4h0m0-36h0m0-20h0m0 83h0m0-76h0m0-17h0m0 68h0m0-12h0m0 33h0m0-21h0m0-9h0m0-54h0m0 55h0m0-5h0m0 1h0m1 76h0m0-50h0m0-10h0m0 45h0m0 6h0m0-99h0m0 0h0m0 2h0m0 42h0m0-52h0m0 17h0m0-7h0m0 19h0m0 25h0m0 52h0m0 1h0m0 5h0m0-3h0m0-30h0m0-44h0m0 47h0m0 3h0m0-12h0m0-8h0m0-26h0m0 51h0m0 44h0m1 84h0m0-199h0m0 40h0m0-98h0m0 15h0m0 129h0m0-63h0m0 8h0m0 14h0m0 52h0m0-50h0m0-37h0m0 12h0m0 1h0m0 8h0m0 7h0m0-14h0m0 22h0m0-97h0m0 73h0m0-62h0m0 36h0m0 112h0m0-69h0m0-2h0m1 9h0m0 27h0m0-136h0m0 147h0m0-107h0m0 65h0m0-27h0m0-33h0m0 71h0m0-56h0m0 24h0m0 17h0m0 4h0m0-58h0m0 6h0m0 42h0m0 84h0m0-140h0m0-11h0m0 40h0m0-12h0m0-3h0m1 97h0m0-126h0m0 68h0m0 26h0m0 26h0m0-113h0m0 87h0m0 15h0m0-143h0m0 136h0m0-19h0m0-17h0m0 60h0m0-32h0m0-85h0m0 76h0m0 12h0m0-119h0m0 32h0m0-5h0m0 86h0m0-58h0m0 15h0m0 49h0m0-52h0m0 79h0m0 1h0m0-42h0m0-22h0m0-24h0m0 88h0m0-95h0m0 17h0m0 27h0m0-11h0m0-7h0m0 28h0m0 7h0m0-60h0m0 36h0m0-21h0m1 113h0m0-23h0m0-61h0m0 4h0m0 24h0m0-33h0m0-33h0m0 72h0m0-49h0m0-27h0m0 50h0m0-31h0m0 11h0m0-11h0m0 18h0m0 14h0m0 13h0m0 30h0m0-15h0m0-75h0m0 101h0m0-85h0m0 24h0m0 114h0m0-92h0m0-31h0m0 15h0m0-35h0m0 84h0m0-41h0m1-82h0m0 82h0m0 5h0m0 5h0m0-8h0m0-50h0m0 69h0m0 2h0m0-72h0m0 16h0m0 57h0m0-95h0m0 64h0m0-22h0m0-40h0m0 47h0m0-34h0m0 152h0m0-86h0m0-46h0m0 38h0m0-66h0m0-10h0m0 88h0m0-51h0m0 44h0m0-38h0m0 12h0m1 24h0m0-49h0m0 59h0m0-31h0m0-13h0m0-17h0m0 39h0m0 16h0m0-1h0m0-51h0m0 21h0m0-47h0m0 92h0m0 2h0m0-79h0m0 61h0m0-1h0m0-49h0m0 37h0m0-50h0m0-1h0m1 39h0m0-110h0m0 90h0m0 94h0m0-104h0m0 2h0m0-22h0m0 67h0m0-30h0m0 14h0m0-30h0m0 0h0m0-3h0m0 89h0m0-32h0m0-82h0m0 45h0m0 31h0m0-42h0m0 97h0m0-18h0m0-49h0m0 46h0m0-91h0m0 12h0m0-33h0m0 76h0m0 15h0m1-62h0m0 24h0m0 75h0m0-126h0m0 99h0m0-61h0m0-34h0m0 124h0m0-117h0m0 30h0m0 1h0m0 8h0m0-18h0m0-19h0m0 21h0m0 46h0m0-126h0m0 115h0m0-1h0m0-46h0m0 21h0m0-6h0m0 12h0m0 20h0m0 71h0m0-161h0m1 84h0m0-5h0m0-34h0m0 74h0m0-53h0m0 6h0m0 29h0m0 20h0m0-44h0m0 17h0m0 12h0m0-27h0m0 5h0m0 44h0m0 11h0m0-73h0m0 24h0m0-20h0m0 0h0m0-41h0m0 44h0m0-47h0m0 55h0m0-19h0m0 0h0m0 5h0m0-11h0m0 4h0m0-41h0m0 138h0m0-1h0m0-30h0m0-19h0m1-22h0m0-78h0m0 23h0m0 22h0m0 37h0m0-38h0m0 18h0m0-30h0m0 14h0m0 14h0m0 28h0m0 7h0m0-65h0m0 1h0m0 58h0m0-50h0m0 41h0m0 38h0m0-98h0m0 45h0m0 33h0m0-94h0m0 74h0m0-20h0m0 78h0m0-134h0m0 20h0m0 136h0m0-109h0m0-6h0m0-20h0m0 83h0m0-11h0m0-48h0m0 26h0m0-24h0m1 97h0m0-152h0m0 92h0m0-43h0m0-25h0m0 95h0m0 15h0m0-35h0m0-2h0m0-19h0m0 26h0m0-99h0m0 92h0m0-12h0m0-4h0m0-73h0m0 148h0m0-116h0m0 102h0m0-64h0m0-50h0m0 92h0m1-54h0m0-37h0m0 48h0m0-81h0m0 41h0m0 134h0m0-84h0m0 71h0m0-23h0m0-106h0m0 34h0m0-48h0m0 48h0m0 19h0m0 7h0m0-80h0m0 111h0m0 8h0m0 7h0m0-108h0m0 23h0m0 32h0m0 27h0m0 50h0m0-99h0m0-45h0m1 108h0m0-5h0m0-58h0m0 9h0m0-81h0m0 27h0m0 51h0m0 51h0m0 85h0m0-153h0m0 31h0m0-36h0m0-115h0m0 111h0m0-40h0m0 23h0m0 34h0m0-27h0m0 44h0m0 41h0m0-109h0m0-9h0m1 65h0m0-42h0m0 83h0m0 8h0m0-12h0m0-94h0m0 94h0m0-15h0m0 23h0m0-73h0m0 74h0m0-33h0m0-56h0m0-38h0m0 99h0m0-5h0m0-26h0m0 78h0m0-127h0m0 82h0m0 35h0m0-42h0m0 14h0m0 72h0m0-176h0m0 89h0m0 20h0m0-66h0m0-5h0m1 23h0m0 9h0m0 23h0m0 9h0m0-12h0m0 69h0m0-74h0m0 15h0m0-13h0m0-19h0m0-60h0m0 140h0m0-67h0m0-25h0m0 73h0m0-45h0m0-57h0m0 86h0m0 3h0m0-1h0m0 75h0m0-95h0m0 115h0m0-94h0m0-19h0m0-86h0m0 74h0m0 43h0m0-34h0m0 3h0m0 41h0m1-46h0m0 60h0m0 5h0m0-12h0m0-94h0m0 67h0m0-140h0m0 172h0m0-47h0m0-33h0m0 54h0m0 1h0m0-9h0m0 63h0m0-80h0m0-7h0m0 15h0m0-39h0m0 8h0m0-55h0m0 109h0m0-78h0m0 51h0m0-37h0m0 17h0m1 72h0m0-121h0m0-87h0m0 133h0m0 1h0m0-29h0m0 46h0m0-60h0m0 21h0m0 39h0m0-23h0m0 38h0m0-52h0m0 21h0m0 59h0m0-76h0m0 28h0m0-10h0m0 23h0m0 4h0m0-1h0m0-23h0m0-52h0m0 26h0m0 120h0m0-99h0m1-40h0m0 21h0m0 28h0m0 4h0m0 35h0m0-68h0m0 10h0m0 39h0m0-88h0m0 133h0m0-45h0m0 63h0m0-175h0m0 19h0m0 82h0m0 34h0m0-86h0m0 64h0m0 23h0m0 1h0m0 1h0m0-46h0m0 33h0m0-30h0m0-18h0m0 22h0m0 82h0m0-114h0m0-33h0m0 91h0m0-53h0m1 44h0m0 27h0m0-93h0m0 83h0m0-8h0m0-40h0m0-30h0m0 52h0m0-72h0m0 60h0m0 5h0m0 70h0m0-111h0m0 5h0m0 13h0m0 50h0m0-39h0m0 20h0m0-16h0m0 18h0m0 3h0m0-111h0m0 118h0m0 50h0m0-162h0m0 56h0m0 87h0m0-46h0m0-31h0m0 111h0m1-141h0m0 116h0m0-10h0m0-47h0m0 45h0m0 9h0m0-31h0m0-25h0m0-41h0m0 76h0m0-6h0m0-99h0m0 18h0m0-14h0m0 75h0m0-40h0m0 85h0m0-106h0m0 45h0m0-38h0m0 86h0m0-23h0m0-56h0m0 47h0m0 2h0m0 10h0m0 29h0m0-95h0m0-45h0m0 51h0m1 103h0m0-74h0m0-12h0m0-27h0m0 4h0m0 93h0m0-85h0m0 74h0m0-99h0m0 98h0m0-53h0m0-80h0m0 113h0m0-8h0m0 6h0m0-44h0m0 60h0m0-54h0m0 31h0m0-95h0m0 90h0m0 2h0m0-51h0m0 44h0m0-39h0m0 41h0m0 100h0m0-41h0m0-29h0m1-99h0m0 49h0m0 3h0m0 5h0m0-58h0m0 52h0m0-2h0m0 40h0m0-48h0m0 69h0m0-88h0m0 40h0m0-23h0m0-30h0m0 2h0m0-53h0m0 66h0m0 62h0m0-41h0m0 19h0m0-38h0m0 93h0m0-55h0m0 13h0m1 52h0m0-41h0m0 53h0m0-45h0m0-114h0m0 61h0m0 59h0m0 27h0m0-95h0m0-47h0m0 81h0m0 8h0m0 51h0m0-78h0m0-28h0m0 80h0m0-36h0m0-52h0m0 97h0m0-94h0m0 91h0m0-36h0m0-44h0m0 52h0m0-21h0m0 53h0m0 49h0m0-90h0m1 0h0m0-22h0m0-24h0m0 48h0m0 15h0m0-83h0m0 110h0m0-3h0m0-126h0m0-23h0m0 175h0m0-99h0m0 82h0m0-75h0m0 79h0m0-47h0m0 0h0m0 4h0m0-36h0m0 29h0m0 21h0m0-44h0m1 30h0m0-60h0m0 23h0m0 144h0m0-136h0m0-45h0m0 64h0m0-21h0m0 5h0m0 49h0m0-47h0m0 69h0m0-34h0m0 69h0m0-94h0m0-65h0m0 35h0m0-10h0m0-14h0m0 34h0m0 56h0m0-86h0m0 80h0m0-48h0m0 8h0m0-9h0m0 26h0m0-76h0m0 163h0m0-110h0m1-24h0m0-2h0m0-8h0m0 90h0m0-44h0m0 75h0m0-74h0m0 14h0m0-103h0m0 90h0m0-31h0m0-7h0m0 26h0m0-17h0m0 15h0m0-43h0m0 81h0m0 6h0m0-73h0m0 17h0m0 138h0m0-140h0m0 21h0m0 59h0m0-27h0m0-85h0m0 57h0m0 0h0m1 52h0m0-46h0m0-38h0m0 62h0m0-20h0m0-46h0m0-15h0m0 75h0m0 9h0m0-44h0m0-50h0m0 48h0m0-34h0m0 52h0m0-109h0m0 53h0m0 6h0m0 81h0m0-70h0m0 80h0m0-16h0m0-10h0m0-94h0m0 132h0m0-34h0m1 6h0m0-45h0m0-9h0m0-17h0m0 22h0m0-82h0m0 23h0m0 122h0m0 34h0m0-93h0m0-36h0m0 39h0m0 50h0m0-51h0m0-1h0m0-3h0m0 94h0m0-110h0m0 44h0m0-34h0m0-5h0m0 66h0m0-6h0m0-1h0m0-21h0m0-78h0m1 61h0m0-9h0m0-14h0m0 81h0m0-14h0m0 13h0m0-70h0m0-21h0m0 17h0m0 60h0m0-18h0m0-77h0m0 65h0m0-69h0m0 44h0m0 18h0m0-10h0m0-7h0m0-12h0m0 47h0m0 81h0m0-94h0m0-59h0m0 36h0m0-13h0m0 75h0m1-39h0m0-54h0m0 104h0m0-66h0m0 20h0m0-9h0m0 83h0m0-65h0m0 14h0m0-94h0m0-23h0m0 71h0m0-37h0m0 98h0m0-71h0m0 42h0m0-43h0m0 73h0m0-61h0m0 56h0m0-1h0m0-8h0m0-22h0m0-6h0m0-18h0m0 21h0m0-4h0m0-6h0m0-44h0m0 28h0m0-14h0m1 56h0m0 0h0m0-42h0m0 0h0m0-13h0m0-54h0m0 88h0m0-3h0m0-17h0m0 11h0m0-7h0m0 47h0m0-78h0m0 24h0m0 14h0m0 15h0m0 14h0m0-21h0m0-44h0m0 51h0m0 1h0m0 51h0m0-9h0m0-40h0m0 66h0m0-16h0m1-66h0m0-11h0m0-18h0m0-13h0m0 48h0m0 30h0m0-3h0m0-112h0m0 167h0m0-145h0m0 68h0m0-26h0m0 39h0m0 45h0m0-36h0m0-16h0m0-78h0m0-21h0m0 95h0m0-6h0m0 12h0m0-53h0m0-21h0m0 94h0m0-67h0m0 36h0m0-10h0m0-46h0m0 23h0m0 106h0m0-25h0m0-49h0m0 7h0m0-49h0m0 58h0m0 7h0m1 36h0m0 0h0m0-80h0m0-6h0m0 12h0m0 45h0m0-20h0m0-43h0m0 58h0m0-40h0m0 30h0m0 13h0m0-22h0m0-68h0m0 13h0m0-8h0m0 43h0m0 58h0m0 26h0m0-91h0m0 17h0m0-17h0m0 94h0m0-26h0m0-71h0m0 26h0m0 52h0m0-41h0m0-121h0m0 138h0m0-21h0m1-8h0m0-6h0m0-120h0m0 116h0m0 0h0m0 85h0m0-89h0m0-68h0m0 106h0m0-28h0m0-30h0m0 46h0m0 76h0m0-36h0m0-32h0m0-1h0m0 43h0m0-68h0m0-57h0m0 52h0m0 30h0m0-64h0m0-54h0m0 142h0m1-31h0m0 77h0m0-80h0m0 17h0m0-106h0m0 63h0m0 105h0m0-113h0m0-38h0m0 57h0m0-39h0m0 97h0m0-63h0m0 84h0m0-91h0m0-15h0m0 111h0m0-87h0m0 54h0m0-133h0m0 132h0m0-10h0m0-97h0m0 105h0m0-3h0m0-63h0m1 85h0m0-174h0m0 142h0m0-142h0m0 132h0m0 34h0m0-67h0m0 12h0m0-8h0m0-90h0m0 74h0m0-9h0m0 6h0m0 112h0m0-178h0m0 66h0m0 76h0m0-12h0m0-53h0m0 15h0m0 3h0m0 62h0m0-13h0m0-39h0m1 45h0m0-101h0m0 89h0m0-63h0m0-5h0m0 48h0m0-40h0m0 51h0m0-147h0m0 125h0m0 28h0m0-16h0m0-31h0m0-29h0m0 101h0m0-7h0m0-40h0m0 11h0m0-1h0m0-17h0m0 6h0m0-30h0m0 26h0m0 1h0m0-26h0m0-60h0m1 54h0m0-1h0m0 40h0m0 14h0m0-59h0m0-7h0m0 66h0m0-88h0m0 68h0m0 7h0m0-19h0m0-6h0m0 17h0m0-39h0m0 3h0m0 20h0m0 37h0m0 47h0m0-134h0m0 86h0m0-31h0m0-27h0m0-14h0m0 7h0m0-3h0m1-1h0m0-67h0m0 154h0m0-51h0m0-3h0m0-99h0m0 70h0m0-8h0m0 86h0m0-67h0m0 114h0m0-86h0m0-45h0m0-38h0m0 101h0m0-83h0m0 43h0m0 26h0m0-22h0m0-1h0m0 41h0m0-28h0m0-42h0m0 40h0m0 34h0m0-93h0m0 28h0m1 47h0m0 0h0m0-8h0m0 61h0m0-62h0m0-30h0m0 3h0m0 46h0m0-62h0m0 22h0m0 76h0m0-88h0m0 35h0m0-27h0m0 41h0m0-57h0m0 31h0m0-61h0m0 15h0m0 83h0m0-8h0m0-27h0m0-5h0m0 2h0m0-27h0m0 83h0m1-82h0m0-20h0m0 22h0m0-49h0m0 103h0m0-35h0m0-2h0m0 15h0m0-32h0m0-6h0m0 2h0m0 78h0m0-66h0m0 20h0m0 7h0m0 1h0m0 5h0m0 48h0m0 19h0m0-105h0m0-8h0m0 21h0m0 25h0m0-2h0m1-17h0m0 51h0m0 38h0m0-107h0m0 37h0m0 5h0m0 30h0m0 108h0m0-247h0m0 96h0m0-11h0m0-40h0m0 62h0m0 20h0m0-18h0m0-105h0m0 54h0m0 36h0m0-31h0m0-39h0m0 73h0m0 21h0m0-36h0m0-24h0m0-54h0m0 72h0m0-8h0m0 6h0m0 5h0m0 21h0m0 0h0m0 23h0m0-13h0m1-114h0m0 183h0m0-85h0m0-63h0m0 76h0m0-99h0m0 24h0m0 118h0m0 12h0m0 13h0m0-79h0m0 48h0m0-54h0m0 58h0m0-117h0m0 95h0m0-90h0m0 35h0m0 32h0m0-55h0m0 22h0m0 0h0m0-4h0m0 32h0m0-42h0m0 40h0m0 35h0m0-57h0m0 26h0m1 14h0m0-106h0m0 30h0m0-13h0m0-21h0m0 100h0m0 13h0m0-59h0m0 118h0m0-95h0m0-68h0m0 33h0m0 60h0m0-106h0m0 58h0m0-1h0m0 47h0m0 41h0m0-100h0m0-25h0m0 55h0m0-8h0m0 42h0m0-14h0m1 26h0m0-80h0m0 35h0m0-13h0m0 80h0m0-146h0m0 64h0m0 43h0m0-26h0m0 48h0m0-122h0m0 109h0m0-34h0m0-12h0m0-2h0m0 78h0m0-45h0m0-11h0m0 53h0m0-48h0m0-34h0m0 1h0m0 66h0m0 36h0m0-93h0m0 58h0m0-43h0m0 13h0m0-1h0m0-12h0m0-8h0m0 74h0m0-15h0m1-36h0m0 3h0m0-81h0m0 86h0m0 21h0m0-83h0m0 7h0m0 16h0m0 29h0m0-8h0m0-9h0m0-21h0m0 58h0m0 0h0m0-49h0m0-38h0m0 145h0m0 22h0m0-33h0m0-66h0m0 50h0m0-91h0m0 125h0m0 3h0m0-39h0m0-128h0m0-11h0m0 16h0m0 157h0m0-88h0m1-11h0m0 8h0m0-10h0m0 6h0m0-1h0m0-21h0m0 15h0m0-21h0m0 19h0m0 9h0m0 20h0m0-42h0m0 25h0m0 6h0m0-92h0m0 118h0m0 65h0m0-36h0m0 5h0m0-74h0m0-36h0m0 22h0m0-37h0m0 110h0m0-23h0m0-28h0m0-32h0m0-12h0m0 73h0m0-17h0m0-60h0m0 68h0m0-74h0m0 89h0m0-11h0m1 29h0m0-31h0m0-63h0m0 96h0m0-69h0m0-57h0m0 65h0m0 41h0m0-118h0m0 105h0m0-29h0m0 17h0m0 13h0m0 17h0m0-19h0m0-33h0m0 32h0m0 28h0m0 74h0m0-75h0m0-22h0m0-1h0m0-23h0m0 46h0m0 7h0m0-91h0m0 2h0m0 57h0m0-64h0m1 66h0m0 29h0m0-64h0m0-33h0m0-25h0m0 92h0m0-51h0m0 12h0m0-29h0m0 35h0m0 38h0m0-18h0m0-24h0m0-11h0m0-4h0m0 18h0m0-1h0m0 36h0m0 26h0m0-18h0m0 10h0m0 9h0m0-20h0m0-3h0m0-24h0m0 49h0m0-101h0m0 84h0m0-42h0m0-5h0m1 18h0m0-84h0m0 99h0m0 17h0m0-94h0m0 31h0m0 12h0m0 44h0m0 20h0m0 47h0m0-120h0m0-48h0m0 64h0m0 12h0m0 12h0m0-46h0m0 43h0m0-3h0m0-37h0m0 86h0m0-64h0m0-39h0m0-40h0m0 54h0m0 10h0m1-19h0m0 63h0m0 22h0m0-39h0m0-5h0m0 33h0m0-71h0m0 23h0m0 61h0m0-89h0m0 37h0m0-75h0m0 90h0m0-21h0m0 61h0m0-92h0m0-54h0m0 24h0m0 37h0m0 138h0m0-98h0m0 18h0m0-35h0m0 16h0m0-65h0m0 20h0m0 81h0m0-33h0m0 51h0m0-14h0m0-5h0m0-18h0m0-23h0m0 17h0m0 15h0m1-98h0m0 79h0m0-34h0m0-27h0m0-36h0m0 37h0m0-17h0m0 4h0m0 68h0m0-19h0m0 66h0m0 6h0m0-162h0m0 26h0m0 45h0m0 104h0m0-108h0m0 5h0m0 123h0m0-85h0m0-50h0m0 13h0m0 119h0m0-129h0m0-1h0m0 46h0m0-58h0m0-25h0m0 110h0m0-26h0m1 34h0m0-21h0m0-61h0m0 76h0m0-70h0m0 6h0m0 52h0m0-13h0m0 17h0m0-25h0m0 25h0m0 10h0m0-4h0m0-109h0m0 86h0m0 22h0m0 6h0m0-82h0m0 24h0m0-21h0m0 66h0m0 11h0m0-34h0m0-8h0m0-7h0m0 28h0m0-65h0m0 45h0m0-58h0m0 14h0m0 27h0m0-55h0m1 62h0m0-18h0m0 118h0m0-98h0m0 30h0m0-24h0m0 30h0m0 46h0m0-97h0m0 49h0m0 15h0m0 1h0m0-10h0m0-11h0m0-22h0m0-50h0m0 104h0m0-83h0m0 52h0m0-100h0m0 100h0m0 16h0m0-51h0m0 113h0m0-118h0m0 22h0m0 20h0m0-61h0m0-30h0m0 89h0m0-17h0m0 51h0m0-45h0m0-10h0m0-20h0m0 149h0m0-89h0m0 2h0m1-24h0m0-72h0m0 30h0m0-35h0m0 81h0m0-13h0m0-47h0m0 20h0m0 17h0m0-15h0m0 45h0m0-8h0m0-57h0m0 81h0m0-36h0m0 16h0m0 13h0m0-7h0m0-20h0m0-55h0m0 60h0m0 38h0m0-53h0m0 37h0m0-3h0m0-40h0m1 35h0m0-46h0m0-76h0m0 150h0m0-63h0m0 32h0m0-27h0m0-16h0m0 35h0m0-17h0m0-41h0m0 80h0m0-54h0m0 30h0m0-35h0m0-49h0m0 83h0m0-20h0m0-34h0m0 136h0m0-88h0m0-14h0m0-8h0m0-5h0m0-42h0m0 87h0m0 14h0m0-84h0m0 38h0m0-1h0m0 10h0m0 65h0m0-4h0m0-95h0m0 36h0m0 40h0m1-58h0m0 85h0m0-88h0m0-56h0m0 138h0m0-141h0m0 51h0m0 110h0m0-55h0m0-137h0m0 58h0m0 44h0m0 10h0m0 9h0m0 22h0m0-3h0m0-21h0m0 0h0m0-3h0m0-36h0m0-36h0m0 11h0m0 133h0m0-69h0m0-21h0m0 19h0m0 60h0m0-20h0m0-112h0m0 136h0m0-55h0m0 22h0m0-70h0m0 55h0m0-61h0m0 67h0m0-75h0m0 33h0m0-10h0m1 14h0m0-13h0m0-28h0m0 34h0m0-2h0m0-27h0m0 73h0m0-24h0m0-59h0m0 132h0m0-95h0m0-19h0m0-20h0m0-23h0m0 95h0m0-56h0m0-35h0m0 81h0m0 70h0m0-103h0m0-22h0m0 61h0m0-7h0m0-3h0m0-28h0m0 57h0m0 8h0m0-85h0m0 110h0m0-121h0m1 101h0m0-92h0m0 53h0m0 41h0m0-75h0m0 6h0m0-17h0m0 95h0m0 42h0m0-107h0m0-46h0m0 141h0m0-136h0m0 161h0m0-118h0m0 119h0m0-128h0m0-3h0m0-1h0m0 37h0m0-35h0m0 6h0m0-26h0m1 127h0m0-46h0m0-28h0m0-11h0m0-16h0m0 31h0m0-54h0m0 52h0m0-48h0m0-4h0m0-51h0m0 98h0m0-62h0m0 31h0m0 58h0m0-9h0m0-110h0m0 73h0m0-65h0m0 60h0m0 59h0m0 5h0m0-95h0m0 20h0m0 40h0m0-95h0m0 8h0m0-43h0m0 123h0m0 28h0m1-82h0m0 53h0m0 1h0m0 23h0m0-85h0m0 74h0m0 28h0m0-25h0m0 49h0m0-41h0m0-33h0m0-10h0m0-80h0m0 91h0m0-51h0m0 53h0m0 46h0m0-48h0m0-14h0m0 26h0m0-37h0m0-49h0m0 13h0m0 136h0m0-33h0m0-75h0m0 33h0m0-41h0m1 41h0m0 4h0m0 40h0m0-51h0m0-17h0m0 1h0m0-8h0m0 76h0m0-62h0m0 51h0m0-12h0m0-35h0m0 37h0m0-35h0m0-34h0m0 11h0m0-71h0m0 44h0m0 49h0m0-71h0m0 87h0m0-22h0m0 49h0m0-86h0m0 51h0m0-61h0m0 34h0m0 102h0m0-45h0m0-24h0m0-30h0m0 22h0m0 47h0m0-168h0m0 126h0m1 6h0m0-8h0m0-23h0m0-13h0m0 60h0m0-52h0m0-3h0m0 123h0m0-94h0m0 84h0m0-91h0m0 75h0m0-32h0m0-89h0m0 18h0m0 41h0m0-25h0m0 24h0m0-7h0m0 23h0m0-125h0m0 60h0m0-11h0m0 71h0m0-99h0m0 49h0m0 76h0m0-45h0m1 26h0m0-54h0m0-49h0m0-10h0m0 55h0m0 14h0m0 42h0m0-49h0m0 17h0m0 39h0m0-64h0m0-37h0m0 29h0m0 17h0m0 23h0m0-15h0m0 69h0m0-98h0m0 80h0m0-133h0m0 129h0m0-64h0m0 134h0m0-66h0m0-21h0m0 9h0m0 35h0m0-121h0m0 125h0m0-58h0m0-53h0m1 13h0m0 50h0m0 2h0m0 1h0m0 22h0m0-59h0m0 21h0m0 26h0m0 34h0m0-72h0m0 50h0m0-116h0m0 72h0m0-9h0m0 17h0m0 0h0m0 43h0m0-34h0m0-8h0m0 14h0m0-20h0m0 10h0m0-78h0m0 107h0m0 53h0m0-127h0m0-27h0m0 119h0m0-38h0m0 67h0m0-151h0m0 75h0m0-15h0m0 31h0m1-2h0m0-17h0m0-87h0m0 57h0m0-32h0m0 4h0m0 30h0m0 12h0m0-73h0m0 122h0m0-103h0m0 108h0m0-83h0m0 69h0m0-85h0m0 38h0m0 0h0m0 46h0m0 31h0m0-9h0m0 14h0m0-41h0m0 6h0m0-36h0m0 33h0m0-58h0m0-3h0m0 54h0m0-1h0m0-67h0m0 69h0m1 14h0m0-111h0m0 44h0m0 58h0m0 13h0m0-62h0m0 37h0m0-5h0m0 37h0m0 26h0m0-61h0m0-13h0m0-36h0m0-65h0m0 57h0m0 133h0m0-68h0m0 0h0m0 25h0m0-87h0m0 63h0m0-26h0m0 33h0m0-25h0m0-7h0m0-51h0m0 115h0m0-7h0m0-84h0m1 31h0m0-32h0m0 98h0m0-47h0m0 14h0m0 0h0m0-35h0m0 98h0m0-48h0m0-32h0m0 40h0m0-8h0m0-94h0m0 68h0m0-4h0m0-25h0m0-42h0m0 116h0m0-42h0m0-53h0m0-18h0m0 118h0m0 54h0m0-137h0m0 43h0m0-53h0m0 13h0m1-7h0m0 91h0m0-51h0m0 43h0m0 1h0m0-71h0m0 24h0m0-63h0m0 69h0m0-13h0m0-44h0m0 81h0m0-37h0m0 13h0m0 6h0m0-30h0m0-123h0m0 118h0m0-27h0m0-12h0m0 46h0m0-12h0m0-11h0m0 17h0m0 65h0m0 18h0m0-57h0m1 60h0m0-116h0m0 18h0m0-38h0m0 63h0m0-21h0m0 68h0m0-42h0m0-31h0m0 36h0m0-109h0m0 154h0m0-83h0m0 2h0m0 41h0m0-53h0m0-36h0m0 92h0m0-27h0m0 66h0m0-66h0m0 18h0m0 29h0m0-62h0m0 82h0m0-45h0m1 3h0m0 130h0m0-143h0m0 13h0m0-90h0m0 78h0m0-125h0m0 100h0m0-17h0m0 116h0m0-54h0m0-46h0m0 37h0m0 5h0m0 5h0m0-7h0m0-18h0m0-69h0m0 70h0m0-95h0m0 130h0m0-1h0m0-79h0m0 4h0m0 99h0m0-117h0m0 115h0m0-31h0m0-53h0m0-55h0m0 101h0m0-43h0m0 43h0m0-82h0m0-4h0m0 81h0m0-25h0m0-55h0m1 58h0m0-58h0m0 61h0m0-18h0m0 8h0m0 35h0m0-101h0m0 46h0m0 72h0m0-124h0m0 129h0m0 15h0m0-11h0m0-61h0m0 45h0m0-38h0m0 3h0m0-99h0m1 76h0m0 15h0m0-14h0m0-34h0m0 37h0m0 3h0m0 38h0m0-88h0m0 17h0m0 80h0m0-45h0m0 26h0m0-78h0m0 64h0m0 9h0m0-85h0m0 71h0m0-12h0m0-8h0m0 6h0m0 24h0m0 8h0m0-105h0m0 90h0m0-124h0m1 130h0m0 37h0m0-83h0m0 72h0m0-79h0m0 73h0m0-85h0m0 108h0m0-58h0m0 33h0m0-66h0m0 42h0m0-11h0m0 77h0m0-97h0m0-6h0m0 41h0m0-47h0m0-55h0m0 114h0m0-36h0m0-49h0m0 89h0m0 8h0m0-53h0m0-48h0m0 112h0m0-27h0m0-42h0m1-12h0m0 34h0m0-14h0m0 11h0m0 11h0m0-23h0m0 33h0m0 0h0m0-13h0m0 17h0m0 24h0m0-75h0m0 44h0m0 56h0m0-13h0m0-24h0m0-3h0m0-31h0m0 26h0m0 7h0m0-27h0m0 49h0m0 0h0m0-21h0m0 6h0m0-2h0m0-13h0m0 9h0m0 53h0m1-99h0m0-12h0m0 50h0m0-33h0m0 55h0m0-64h0m0-25h0m0 41h0m0-36h0m0 46h0m0-18h0m0 107h0m0-159h0m0 112h0m0-39h0m0 31h0m0-83h0m0 40h0m0 54h0m0-7h0m0-30h0m0 6h0m0-3h0m0 23h0m0 5h0m0 48h0m0-88h0m0 16h0m0-1h0m1-22h0m0 9h0m0-18h0m0-42h0m0 82h0m0-44h0m0 59h0m0 40h0m0-87h0m0-13h0m0 21h0m0 33h0m0-4h0m0 11h0m0-38h0m0 4h0m0 32h0m0-36h0m0 26h0m0-19h0m0 91h0m0-153h0m0 95h0m0-48h0m0 14h0m0 20h0m0-74h0m0 71h0m0-58h0m1-1h0m0-28h0m0 28h0m0 19h0m0 45h0m0-21h0m0-13h0m0 52h0m0 10h0m0-53h0m0 5h0m0-63h0m0 77h0m0-17h0m0 33h0m0-85h0m0 45h0m0 11h0m0 26h0m0 22h0m0-27h0m0-29h0m0 78h0m0-87h0m0-44h0m0-18h0m0 67h0m0 19h0m0-20h0m0 75h0m0-82h0m0 20h0m0-16h0m0 12h0m0 38h0m1-31h0m0 1h0m0-9h0m0-15h0m0-10h0m0-88h0m0 60h0m0 26h0m0 80h0m0-104h0m0 68h0m0 34h0m0-94h0m0 43h0m0-49h0m0 24h0m0-15h0m0 48h0m0-37h0m0-41h0m0 76h0m0-58h0m0 75h0m0-38h0m0 20h0m0-35h0m0-34h0m0 103h0m0-8h0m0-48h0m0-4h0m0 47h0m0-86h0m0 57h0m1 40h0m0-4h0m0-114h0m0 88h0m0-2h0m0-26h0m0 42h0m0-23h0m0 48h0m0-37h0m0-70h0m0 96h0m0-20h0m0 27h0m0-40h0m0-73h0m0 96h0m0-13h0m0 47h0m0-19h0m0 59h0m0-74h0m0-18h0m0-14h0m0-20h0m0-22h0m0 35h0m0-30h0m0-2h0m1 31h0m0 96h0m0-40h0m0-102h0m0 105h0m0-73h0m0 54h0m0 7h0m0 18h0m0-41h0m0 13h0m0-77h0m0 42h0m0-42h0m0 39h0m0 37h0m0-11h0m0-48h0m0 133h0m1-48h0m0-15h0m0 14h0m0-45h0m0 18h0m0 28h0m0-48h0m0-58h0m0-4h0m0 81h0m0-49h0m0 155h0m0-187h0m0 0h0m0 63h0m0-17h0m0 32h0m0-17h0m0-66h0m0-44h0m0 150h0m0-122h0m0 116h0m0 59h0m0-104h0m0-68h0m0 89h0m0-42h0m1 105h0m0-10h0m0-96h0m0 35h0m0-16h0m0-25h0m0 60h0m0 22h0m0-48h0m0 68h0m0-21h0m0 36h0m0-119h0m0 30h0m0-1h0m0 29h0m0-4h0m0-15h0m0 30h0m0-69h0m0 41h0m0 10h0m0 11h0m0-34h0m1-51h0m0 44h0m0 38h0m0-37h0m0 14h0m0 40h0m0-75h0m0-12h0m0 86h0m0-57h0m0 15h0m0-53h0m0 91h0m0-93h0m0-6h0m0 14h0m0 76h0m0-51h0m0 34h0m0 24h0m0-53h0m1 115h0m0-126h0m0 131h0m0-95h0m0 44h0m0-147h0m0 107h0m0 62h0m0-8h0m0-69h0m0 43h0m0-34h0m0-9h0m0-10h0m0 33h0m0-22h0m0 87h0m0-60h0m0 18h0m0-20h0m0-51h0m0-38h0m0 40h0m0 8h0m0 21h0m0-20h0m0-6h0m1 58h0m0-49h0m0 29h0m0 5h0m0-71h0m0 24h0m0-8h0m0-30h0m0 52h0m0 1h0m0 14h0m0 8h0m0-4h0m0-5h0m0-30h0m0 91h0m0-46h0m0 43h0m0-96h0m0 77h0m0 21h0m0-62h0m0 20h0m0-6h0m0-61h0m0 94h0m1-56h0m0-1h0m0 65h0m0-48h0m0-79h0m0 84h0m0-39h0m0 10h0m0 34h0m0-30h0m0 38h0m0-21h0m0-35h0m0 109h0m0-114h0m0 79h0m0-97h0m0 66h0m0-100h0m0 87h0m0-47h0m0 81h0m0 33h0m0-39h0m0-3h0m0-8h0m0-20h0m0 59h0m0 43h0m1-190h0m0 126h0m0-48h0m0 6h0m0-26h0m0 46h0m0-14h0m0 75h0m0-139h0m0 20h0m0 139h0m0-67h0m0-52h0m0 108h0m0-31h0m0-57h0m0 43h0m0 17h0m0 14h0m0 20h0m0-78h0m0-73h0m0 28h0m0 10h0m0 47h0m0-31h0m0-29h0m0 123h0m0-190h0m1 106h0m0 77h0m0-57h0m0-30h0m0 13h0m0 27h0m0-35h0m0 50h0m0-112h0m0 112h0m0-20h0m0-23h0m0-38h0m0 37h0m0 27h0m0 0h0m0 86h0m0-145h0m0 23h0m0 11h0m0-61h0m0 88h0m0 21h0m0-35h0m0-20h0m0 2h0m0 25h0m0-11h0m1-37h0m0 2h0m0 45h0m0-45h0m0 30h0m0 9h0m0-27h0m0-12h0m0 39h0m0-84h0m0 51h0m0 27h0m0 42h0m0-73h0m0 0h0m0-2h0m0 66h0m0-70h0m0 28h0m0-63h0m0-1h0m0 154h0m0-67h0m0-77h0m0 64h0m0-51h0m0-13h0m0 114h0m0-178h0m0 47h0m0 145h0m1-41h0m0-14h0m0 38h0m0-176h0m0 132h0m0 14h0m0-109h0m0 29h0m0 129h0m0-114h0m0 25h0m0-4h0m0-10h0m0 39h0m0 47h0m0-57h0m0 37h0m0-129h0m0 86h0m0-26h0m0 15h0m0-82h0m0 71h0m0 13h0m0-40h0m0 120h0m0-42h0m0-22h0m0-45h0m1 39h0m0 32h0m0 39h0m0-61h0m0-1h0m0-54h0m0 84h0m0-133h0m0 106h0m0-41h0m0 28h0m0 39h0m0-103h0m0 66h0m0 25h0m0-37h0m0-3h0m0 61h0m0-103h0m0 24h0m0 44h0m0-54h0m0 79h0m0 0h0m0-99h0m0 92h0m0-23h0m0-65h0m0 37h0m0 47h0m0-31h0m0 26h0m0-54h0m0 84h0m0-74h0m1-5h0m0 33h0m0-33h0m0 7h0m0-17h0m0 74h0m0-65h0m0 84h0m0-20h0m0-11h0m0-26h0m0 69h0m0-29h0m0-46h0m0 111h0m0-3h0m0-127h0m0 25h0m0 17h0m0-25h0m0 38h0m0-4h0m0 19h0m0 56h0m0-78h0m0 19h0m0-19h0m0-118h0m0 138h0m0-52h0m0 61h0m1-85h0m0 41h0m0 7h0m0-37h0m0 136h0m0-134h0m0 39h0m0-31h0m0-3h0m0-11h0m0 57h0m0 13h0m0-72h0m0 0h0m0 65h0m0-43h0m0-16h0m0-23h0m0 62h0m0 40h0m0-15h0m0-85h0m0 62h0m0 52h0m0-73h0m0-87h0m0 80h0m0-16h0m0 63h0m0-60h0m0 40h0m0 20h0m0-16h0m0 62h0m0-64h0m1-58h0m0 10h0m0 84h0m0-39h0m0-65h0m0 64h0m0 74h0m0-76h0m0 42h0m0 40h0m0-110h0m0-38h0m0 58h0m0-18h0m0-1h0m0 65h0m0-31h0m0-6h0m0 36h0m0 57h0m0-132h0m0 86h0m0-75h0m1 42h0m0-5h0m0-109h0m0 58h0m0 1h0m0 23h0m0-32h0m0 50h0m0-4h0m0 37h0m0-69h0m0 110h0m0-97h0m0 33h0m0-83h0m0 140h0m0-27h0m0 11h0m0 28h0m0-45h0m0-94h0m0 92h0m0-30h0m0 78h0m0-154h0m0 6h0m0 39h0m0-20h0m0 81h0m0-26h0m0 33h0m0 36h0m1-9h0m0-92h0m0 46h0m0-1h0m0-11h0m0-20h0m0-5h0m0 1h0m0-25h0m0-21h0m0 25h0m0 1h0m0 68h0m0 3h0m0 20h0m0-54h0m0-59h0m0-39h0m0 87h0m0 14h0m0-9h0m0 57h0m0-57h0m0 57h0m0-94h0m0 123h0m0-121h0m0 43h0m0 17h0m0-57h0m1 3h0m0 66h0m0-51h0m0-32h0m0 43h0m0 116h0m0-96h0m0 26h0m0-4h0m0-32h0m0-9h0m0 55h0m0-20h0m0 24h0m0-32h0m0 35h0m0-66h0m0 27h0m0-48h0m0-1h0m0-2h0m0 37h0m0 6h0m0-17h0m0 7h0m0-34h0m0 26h0m0-21h0m0-90h0m0 154h0m0-9h0m0-81h0m0 111h0m0-63h0m0-66h0m1 97h0m0 32h0m0-114h0m0 70h0m0-83h0m0 21h0m0 28h0m0 65h0m0 22h0m0-65h0m0 56h0m0-48h0m0-38h0m0 45h0m0 50h0m0-32h0m0-11h0m0-26h0m0 143h0m0-78h0m0-39h0m0 96h0m0-165h0m1 53h0m0-15h0m0 42h0m0-58h0m0 27h0m0 0h0m0-60h0m0 60h0m0-99h0m0 67h0m0 4h0m0-30h0m0 26h0m0-30h0m0 40h0m0 56h0m0-107h0m0 45h0m0 130h0m0-64h0m0-28h0m0 28h0m0-33h0m0-33h0m0 6h0m0 45h0m0-56h0m0 90h0m0-87h0m0 55h0m0-38h0m0-47h0m0 63h0m0-70h0m0 7h0m0 78h0m0-13h0m0 38h0m0-131h0m0 86h0m0-2h0m0-56h0m0-6h0m1 95h0m0-39h0m0 49h0m0-107h0m0 91h0m0 28h0m0-113h0m0 3h0m0 93h0m0-142h0m0 70h0m0 27h0m0-2h0m0-17h0m0 48h0m0 37h0m0-82h0m0-32h0m0-4h0m0 71h0m0-7h0m0-50h0m0 57h0m0-91h0m0 54h0m0 107h0m0-50h0m1-6h0m0-40h0m0-51h0m0 84h0m0 52h0m0-49h0m0 7h0m0-24h0m0 14h0m0 35h0m0-53h0m0-49h0m0-23h0m0 75h0m0 28h0m0-77h0m0 103h0m0-32h0m0-31h0m0 49h0m0-13h0m0-32h0m0-82h0m1 58h0m0 101h0m0-81h0m0-13h0m0-38h0m0 126h0m0-117h0m0 62h0m0 41h0m0-29h0m0-86h0m0 97h0m0-113h0m0 1h0m0 107h0m0-30h0m0 2h0m0-6h0m0 24h0m0-26h0m0 34h0m0-44h0m0-17h0m0 93h0m0-30h0m0-59h0m0 60h0m0-16h0m1-57h0m0 107h0m0-112h0m0 60h0m0-60h0m0 22h0m0-48h0m0 126h0m0-48h0m0-2h0m0-10h0m0-29h0m0 89h0m0-51h0m0-9h0m0-124h0m0 99h0m0-21h0m0 144h0m0-130h0m0 50h0m0-7h0m0-53h0m0 13h0m0-41h0m0 85h0m0-35h0m0 36h0m0-34h0m0-36h0m0 67h0m0-56h0m0 50h0m0 72h0m0-55h0m0-106h0m0 57h0m0 39h0m0-4h0m1-50h0m0-29h0m0-4h0m0 87h0m0 33h0m0-31h0m0-41h0m0 28h0m0-9h0m0-10h0m0 29h0m0-50h0m0 47h0m0-28h0m0-23h0m0 48h0m0-25h0m0-32h0m0 103h0m0-6h0m0 17h0m0-107h0m0 16h0m0 61h0m0-65h0m0 78h0m0-59h0m0 8h0m1 14h0m0-9h0m0-54h0m0 70h0m0-119h0m0 57h0m0 32h0m0 71h0m0-49h0m0-48h0m0-19h0m0 125h0m0 46h0m0-94h0m0-16h0m0-8h0m0 2h0m0 48h0m0-91h0m0 47h0m0-30h0m0 67h0m0-1h0m0-46h0m0-20h0m1 71h0m0 41h0m0-65h0m0 45h0m0-78h0m0 64h0m0-53h0m0 67h0m0-135h0m0 69h0m0 45h0m0-18h0m0-21h0m0 25h0m0 6h0m0-56h0m0-17h0m0 10h0m0 22h0m0-25h0m0 29h0m0-4h0m0-41h0m0 129h0m0-76h0m0-46h0m1 120h0m0-71h0m0-2h0m0-59h0m0 34h0m0 7h0m0-46h0m0 76h0m0-16h0m0-6h0m0-59h0m0 93h0m0 35h0m0-57h0m0 1h0m0 23h0m0 6h0m0-56h0m0 19h0m0-10h0m0 52h0m0-77h0m0 44h0m0 54h0m0-117h0m0 103h0m0-141h0m0 101h0m0 10h0m0 58h0m0-66h0m0-18h0m0 69h0m0 20h0m0-105h0m0 32h0m0-43h0m0 67h0m1-106h0m0 118h0m0-54h0m0-6h0m0 3h0m0 46h0m0 6h0m0-32h0m0-65h0m0 4h0m0 27h0m0 6h0m0 34h0m0 29h0m0-47h0m0 40h0m0-61h0m0 21h0m0 25h0m0 8h0m0-18h0m0 24h0m0-53h0m0 76h0m0-29h0m0 2h0m0-19h0m0-61h0m0 109h0m0-96h0m0 9h0m0 50h0m1-20h0m0 67h0m0-101h0m0-27h0m0 4h0m0 20h0m0 29h0m0 29h0m0-39h0m0-46h0m0-2h0m0 54h0m0 59h0m0 3h0m0-43h0m0 46h0m0-120h0m0 9h0m0 33h0m0 72h0m0-62h0m0-33h0m0-59h0m1 161h0m0 10h0m0-121h0m0 66h0m0-79h0m0 62h0m0 69h0m0-115h0m0 113h0m0-30h0m0 18h0m0 5h0m0-126h0m0 97h0m0-18h0m0-25h0m0 5h0m0 15h0m0 41h0m0-22h0m0-46h0m0 142h0m0-144h0m0 71h0m0-107h0m0 91h0m0-40h0m0 14h0m0 11h0m0 4h0m0-8h0m0-52h0m1 69h0m0-50h0m0 23h0m0-15h0m0 83h0m0-107h0m0 97h0m0-79h0m0 38h0m0-65h0m0 88h0m0-14h0m0-78h0m0 63h0m0-20h0m0 65h0m0-61h0m0 23h0m0-31h0m0-13h0m0 93h0m0-56h0m0-16h0m0 37h0m0 36h0m0-112h0m0 78h0m0-25h0m0 64h0m0-17h0m0-80h0m0 26h0m0 60h0m0 0h0m0-65h0m0 78h0m0 9h0m0-40h0m0 2h0m0 3h0m0-81h0m1-34h0m0 117h0m0-60h0m0 32h0m0-71h0m0 99h0m0-68h0m0 13h0m0 14h0m0-93h0m0-8h0m0 74h0m0-113h0m0 159h0m0-18h0m0-139h0m0 73h0m0 13h0m0 28h0m0 56h0m0-55h0m0-16h0m0-2h0m0-40h0m0 23h0m0 53h0m0-8h0m0-114h0m0 93h0m0 87h0m0-14h0m0-43h0m0-28h0m0 38h0m0-90h0m0 85h0m1 56h0m0 31h0m0-56h0m0-57h0m0-30h0m0 17h0m0-33h0m0 79h0m0 49h0m0-71h0m0-22h0m0 41h0m0 50h0m0-63h0m0-10h0m0 8h0m0-12h0m0 38h0m0-86h0m0 68h0m0-57h0m0 36h0m0 7h0m0-2h0m0 10h0m0 83h0m0-101h0m0 18h0m0-96h0m0 122h0m0-18h0m1-43h0m0 9h0m0 63h0m0 16h0m0-36h0m0-18h0m0-25h0m0-37h0m0-24h0m0 130h0m0-96h0m0-37h0m0 78h0m0-32h0m0 79h0m0 28h0m0-29h0m0-120h0m0 163h0m0-123h0m0-37h0m0 67h0m0 4h0m0 0h0m0-32h0m1 56h0m0-100h0m0 73h0m0 8h0m0-15h0m0 57h0m0-26h0m0-84h0m0 77h0m0 3h0m0-13h0m0 2h0m0 8h0m0-63h0m0-22h0m0 102h0m0-66h0m0 102h0m0-89h0m0-17h0m0 68h0m0-44h0m0 83h0m0-46h0m1-47h0m0 106h0m0-142h0m0 65h0m0-25h0m0-36h0m0-11h0m0 17h0m0 107h0m0-39h0m0-23h0m0-22h0m0 22h0m0 78h0m0-77h0m0 18h0m0 78h0m0-88h0m0-43h0m0 2h0m0 47h0m0-29h0m0 20h0m0-3h0m0 47h0m0-55h0m0 70h0m0-58h0m0 32h0m0 1h0m1-5h0m0-79h0m0 43h0m0 59h0m0-108h0m0 95h0m0-6h0m0-33h0m0 41h0m0-24h0m0 49h0m0-74h0m0 13h0m0-20h0m0 47h0m0-34h0m0-20h0m0 147h0m0-97h0m0-43h0m0 61h0m0-117h0m0 107h0m0 27h0m0-61h0m0-13h0m0 91h0m0-11h0m1-81h0m0 51h0m0-81h0m0 5h0m0 48h0m0-13h0m0 54h0m0-17h0m0-4h0m0-57h0m0 43h0m0-2h0m0-45h0m0-13h0m0-1h0m0 55h0m0-3h0m0-19h0m0 42h0m0-29h0m0-14h0m0 22h0m0-38h0m0 34h0m0 1h0m0-57h0m0-33h0m0 70h0m0-106h0m0 142h0m0 23h0m0 48h0m0-45h0m0 45h0m0-85h0m0 124h0m0-174h0m0 76h0m0-56h0m0-28h0m0 100h0m0-23h0m0 60h0m0-155h0m1 107h0m0-21h0m0-12h0m0-69h0m0 151h0m0-53h0m0-97h0m0 112h0m0-27h0m0 6h0m0-93h0m0 46h0m0-34h0m0 19h0m0 71h0m0-44h0m0 16h0m0-21h0m0-101h0m0 131h0m0 18h0m0 32h0m0-86h0m0 78h0m0-50h0m0 7h0m0 9h0m0-60h0m1 12h0m0 67h0m0-66h0m0 46h0m0-8h0m0 25h0m0 25h0m0-75h0m0 41h0m0 75h0m0-87h0m0-34h0m0 9h0m0-41h0m0 56h0m0-97h0m0 191h0m0-112h0m0 34h0m0 30h0m0 4h0m0-46h0m0-44h0m0 87h0m0-17h0m0-97h0m0 27h0m0 59h0m0-69h0m0 80h0m0 21h0m0-87h0m0 53h0m1 38h0m0-55h0m0 44h0m0-83h0m0 126h0m0-147h0m0 38h0m0 26h0m0-20h0m0 8h0m0 69h0m0-95h0m0-8h0m0 53h0m0 65h0m0-87h0m0 22h0m0-10h0m1-19h0m0-28h0m0 119h0m0-67h0m0 0h0m0 39h0m0-85h0m0 77h0m0-50h0m0 67h0m0-97h0m0 8h0m0 99h0m0-121h0m0 24h0m0 17h0m0 71h0m0-122h0m0 56h0m0 17h0m0 0h0m0-114h0m0 145h0m0-105h0m0 45h0m0 9h0m0-34h0m0 52h0m0-51h0m0 22h0m0 27h0m0 30h0m0-7h0m0-83h0m0 80h0m0-4h0m1-123h0m0 13h0m0 40h0m0 68h0m0-124h0m0 110h0m0 34h0m0-35h0m0 13h0m0-110h0m0 127h0m0-37h0m0 13h0m0 31h0m0-66h0m0 16h0m0-4h0m0 87h0m0-46h0m0-47h0m0-29h0m0-24h0m0-16h0m0 151h0m0-154h0m0 97h0m0-6h0m0 7h0m1-14h0m0-109h0m0 62h0m0 11h0m0 52h0m0-44h0m0 4h0m0 123h0m0 5h0m0-99h0m0-23h0m0-34h0m0 50h0m0-20h0m0 5h0m0 27h0m0-2h0m0 33h0m0-55h0m0-11h0m0-26h0m0 44h0m0 1h0m0 40h0m0-32h0m0 32h0m0 24h0m0-44h0m0-5h0m0-39h0m0 51h0m0-20h0m0 29h0m0 30h0m1-59h0m0-93h0m0 81h0m0-65h0m0 7h0m0 74h0m0 55h0m0-11h0m0-40h0m0-30h0m0 67h0m0-25h0m0 12h0m0-12h0m0-5h0m0-12h0m0-29h0m0 14h0m0 10h0m0-71h0m0 150h0m0-68h0m0 67h0m0-48h0m0-115h0m0 158h0m1 2h0m0-96h0m0 87h0m0-90h0m0 2h0m0 75h0m0-131h0m0 67h0m0 56h0m0-88h0m0 24h0m0 64h0m0-20h0m0-13h0m0-81h0m0 69h0m0 28h0m0 10h0m0 36h0m0-93h0m0-65h0m0 104h0m0 8h0m0 41h0m0-9h0m0-181h0m0 153h0m1-20h0m0-44h0m0-4h0m0 0h0m0-36h0m0 73h0m0 53h0m0 3h0m0-23h0m0-38h0m0 41h0m0-23h0m0-80h0m0 75h0m0 64h0m0-63h0m0-61h0m0 80h0m0 63h0m0-48h0m0-32h0m0 28h0m0 7h0m0-81h0m1 94h0m0-85h0m0 71h0m0 28h0m0-53h0m0 23h0m0 10h0m0-108h0m0 176h0m0-143h0m0 4h0m0 8h0m0 4h0m0-69h0m0 90h0m0 4h0m0 12h0m0-97h0m0 95h0m0 34h0m0-47h0m0-26h0m0 43h0m0-78h0m0 89h0m1 15h0m0-56h0m0 39h0m0-56h0m0-49h0m0 128h0m0-20h0m0-10h0m0-21h0m0-46h0m0-12h0m0 79h0m0 37h0m0-126h0m0 176h0m0-21h0m0-65h0m0-82h0m0 59h0m0-106h0m0 128h0m0-2h0m0-34h0m0 65h0m0-72h0m0 1h0m0-51h0m0 63h0m0 8h0m0-55h0m0 39h0m0-24h0m0 32h0m0-18h0m1-5h0m0 29h0m0-77h0m0 64h0m0-54h0m0 81h0m0-12h0m0-63h0m0 88h0m0-46h0m0 34h0m0-4h0m0-51h0m0 63h0m0-94h0m0 116h0m0-69h0m0-7h0m0 53h0m0-4h0m0-66h0m0 70h0m0-58h0m0-25h0m0 23h0m1-15h0m0-2h0m0 11h0m0 40h0m0-51h0m0 85h0m0-19h0m0 90h0m0-299h0m1 92h0m0-78h0m1-94h0m0 12h0m0 3h0m0-37h0m0-17h0m0 36h0m0-45h0m0 55h0m1 19h0m0 58h0m0-76h0m0-10h0m0 2h0m0 60h0m0-95h0m0 15h0m0 8h0m0 8h0m0 26h0m0 9h0m0-21h0m0-95h0m0 111h0m0-81h0m0 11h0m0 56h0m0 53h0m0-81h0m0 68h0m0 9h0m0-53h0m0-76h0m0 99h0m0-72h0m0 60h0m1 9h0m0-43h0m0 6h0m0 4h0m0 94h0m0-93h0m0-20h0m0 52h0m0-73h0m0 29h0m0 4h0m0-3h0m0-89h0m0 132h0m0 43h0m0-72h0m0 17h0m0 6h0m0-98h0m0 83h0m0-8h0m0 69h0m0-114h0m0 120h0m0-20h0m0-50h0m0 40h0m0-96h0m1-43h0m0 62h0m0 14h0m0 130h0m0-130h0m0 81h0m0-70h0m0 14h0m0 17h0m0 35h0m0-59h0m0-16h0m0 31h0m0-48h0m0 15h0m0 26h0m0-10h0m0-20h0m0 83h0m0-19h0m0-1h0m0-32h0m0 2h0m0 24h0m0 12h0m0-110h0m0 104h0m0-107h0m1 133h0m0-92h0m0 73h0m0 13h0m0-63h0m0 69h0m0-35h0m0-19h0m0-46h0m0 27h0m0 1h0m0 12h0m0-22h0m0 44h0m0-19h0m0 1h0m0 15h0m0-77h0m0 32h0m0 91h0m0 8h0m0-79h0m0 7h0m0 20h0m0 11h0m0-68h0m0-26h0m0 96h0m0-87h0m0-2h0m0 88h0m0-35h0m0-10h0m0-18h0m0 46h0m1-25h0m0 71h0m0 15h0m0-56h0m0-40h0m0 16h0m0 65h0m0-75h0m0 45h0m0-5h0m0-125h0m0 238h0m0-125h0m0 52h0m0 26h0m0-21h0m0-52h0m0 45h0m0-8h0m0-77h0m0 35h0m0-10h0m0-27h0m0 66h0m0-28h0m0-26h0m0 39h0m0-37h0m0 82h0m0-61h0m0-77h0m1 36h0m0 65h0m0-89h0m0-23h0m0 24h0m0 81h0m0-41h0m0-22h0m0 98h0m0-94h0m0 53h0m0-14h0m0-33h0m0 47h0m0-8h0m0 43h0m0-57h0m0 6h0m0-74h0m0 84h0m0-10h0m0-40h0m0 28h0m1 47h0m0-93h0m0-34h0m0 127h0m0 62h0m0-62h0m0-75h0m0 1h0m0 44h0m0 17h0m0-9h0m0-22h0m0-38h0m0 20h0m0-5h0m0 19h0m0 18h0m0-62h0m0 18h0m0 64h0m0-28h0m0-31h0m0 19h0m0 26h0m0-103h0m0 99h0m0 38h0m1-11h0m0-25h0m0 15h0m0-12h0m0-29h0m0-23h0m0 22h0m0 8h0m0 24h0m0 3h0m0-40h0m0 28h0m0-10h0m0 12h0m0 5h0m0-4h0m0-67h0m0-2h0m0-19h0m0 211h0m0-131h0m0 38h0m0-50h0m0 34h0m0 14h0m0-66h0m0 105h0m0-24h0m1-79h0m0 124h0m0-81h0m0-88h0m0 57h0m0 40h0m0 16h0m0-87h0m0 54h0m0 1h0m0 5h0m0-29h0m0-22h0m0 38h0m0-21h0m0 41h0m0-46h0m0-31h0m0 96h0m0-5h0m0 66h0m0-117h0m0 32h0m0 84h0m0-161h0m0 95h0m0 20h0m0-104h0m0 166h0m0-121h0m1-24h0m0-32h0m0 74h0m0 26h0m0-52h0m0-54h0m0 90h0m0 8h0m0 22h0m0-86h0m0-26h0m0 74h0m0-5h0m0 18h0m0-32h0m0 49h0m0-58h0m0-3h0m0 18h0m0-16h0m0-6h0m0 18h0m0 25h0m0-1h0m0-46h0m0-10h0m0 49h0m1 1h0m0-20h0m0 24h0m0 12h0m0-28h0m0-5h0m0-49h0m0 37h0m0-8h0m0 34h0m0-30h0m0 52h0m0 30h0m0-39h0m0-78h0m0 103h0m0-83h0m0 22h0m0-17h0m0 100h0m0-80h0m0-10h0m0-16h0m0 50h0m0-46h0m0 52h0m0-76h0m0 32h0m0 23h0m0 6h0m0-30h0m0 30h0m0 28h0m1-63h0m0 60h0m0-90h0m0-28h0m0 93h0m0-30h0m0 72h0m0-70h0m0 43h0m0 60h0m0-72h0m0-49h0m0 8h0m0-21h0m0 108h0m0-54h0m0-72h0m0 67h0m0-71h0m0 115h0m0-114h0m0 143h0m0-143h0m0 68h0m0 49h0m0-58h0m0 3h0m0-5h0m0-28h0m0 37h0m0-7h0m0 58h0m0-124h0m0 90h0m0 25h0m0-6h0m0-1h0m0 3h0m0-67h0m1 107h0m0-48h0m0-17h0m0-3h0m0-21h0m0 53h0m0-22h0m0-50h0m0 80h0m0-66h0m0 9h0m0 8h0m0 25h0m0 32h0m0-97h0m0 70h0m0 18h0m0-34h0m0-49h0m0 60h0m0 26h0m0-37h0m0-7h0m0 38h0m0-103h0m1 22h0m0 60h0m0-64h0m0-2h0m0 15h0m0-41h0m0 35h0m0 116h0m0-64h0m0-45h0m0 15h0m0-1h0m0 64h0m0-119h0m0 97h0m0-50h0m0 79h0m0-116h0m0 101h0m0-86h0m0-57h0m0 125h0m0-100h0m0 110h0m0-70h0m0 10h0m0-45h0m1 37h0m0-2h0m0-34h0m0 124h0m0-12h0m0 0h0m0-91h0m0 153h0m0-51h0m0-47h0m0-43h0m0 31h0m0-7h0m0 53h0m0-58h0m0 52h0m0-137h0m0 49h0m0-38h0m0 161h0m0 10h0m0-68h0m0-75h0m0 82h0m0-88h0m0 96h0m0-67h0m0-32h0m0-3h0m0 4h0m0 56h0m1 20h0m0-23h0m0 66h0m0 25h0m0-101h0m0-11h0m0 50h0m0-22h0m0 11h0m0-10h0m0-98h0m0 63h0m0 13h0m0 30h0m0-16h0m0 107h0m0-96h0m0-57h0m0 97h0m0-20h0m0-24h0m0 69h0m0-122h0m0 77h0m0 38h0m0-33h0m0 40h0m0-64h0m0-10h0m0 73h0m1-65h0m0-59h0m0 117h0m0-24h0m0 35h0m0-101h0m0 8h0m0 74h0m0-55h0m0 30h0m0-1h0m0-55h0m0 20h0m0-8h0m0 2h0m0 15h0m0-7h0m0 19h0m0 11h0m0 40h0m0-43h0m0-21h0m0 81h0m0-99h0m0-18h0m0 104h0m0-75h0m1 29h0m0-24h0m0 27h0m0-25h0m0-40h0m0 58h0m0-112h0m0 61h0m0 69h0m0 24h0m0 6h0m0-91h0m0 3h0m0 4h0m0 81h0m0-28h0m0 13h0m0 0h0m0 1h0m0-10h0m0-15h0m0-33h0m0-38h0m0 20h0m0 30h0m1-19h0m0 81h0m0-78h0m0 52h0m0-48h0m0-123h0m0 114h0m0 83h0m0-38h0m0-23h0m0 78h0m0-98h0m0 12h0m0 33h0m0-23h0m0-38h0m0 69h0m0-41h0m0-32h0m0 39h0m0 68h0m0-103h0m0 28h0m0-7h0m0 69h0m0-109h0m0 27h0m0 22h0m1 56h0m0 18h0m0 41h0m0-132h0m0 34h0m0 56h0m0-51h0m0-5h0m0-53h0m0 33h0m0-13h0m0-32h0m0 15h0m0-29h0m0 97h0m0-17h0m0 22h0m0 37h0m0-28h0m0 26h0m0-87h0m0 17h0m0 42h0m0-148h0m0 61h0m0 0h0m0 33h0m0 95h0m0-59h0m1 111h0m0-159h0m0 23h0m0 54h0m0 2h0m0-67h0m0 62h0m0-50h0m0 0h0m0-28h0m0 2h0m0 39h0m0-69h0m0 29h0m0-11h0m0 140h0m0-120h0m0 35h0m0 77h0m0-69h0m0-11h0m1 37h0m0-64h0m0-28h0m0 50h0m0-23h0m0 51h0m0-65h0m0 72h0m0 20h0m0-20h0m0-72h0m0-19h0m0 116h0m0-71h0m0 20h0m0-14h0m0-22h0m0 45h0m0-56h0m0 3h0m0 10h0m0-37h0m0 97h0m0-34h0m0-6h0m0 4h0m0 52h0m0-34h0m0 40h0m0-56h0m0 10h0m0-41h0m0 56h0m0-15h0m0-80h0m0 65h0m0-15h0m0 64h0m0-85h0m0 4h0m0-55h0m1 50h0m0 16h0m0-5h0m0 74h0m0-7h0m0-24h0m0-118h0m0 94h0m0 68h0m0-16h0m0-165h0m0 153h0m0-107h0m0 46h0m0 30h0m0 79h0m0-63h0m0 0h0m0-30h0m0 46h0m0-19h0m0-10h0m0-42h0m0 21h0m0 42h0m0 57h0m0-4h0m0-117h0m0-42h0m0 87h0m0 23h0m0 10h0m0-37h0m0 0h0m1 21h0m0-74h0m0 101h0m0 58h0m0-58h0m0-54h0m0 16h0m0 41h0m0-94h0m0 31h0m0-25h0m0 61h0m0-13h0m0-24h0m0-53h0m0 43h0m0 49h0m0-99h0m0 120h0m0-62h0m0-6h0m0 15h0m0 11h0m0-14h0m0 31h0m0-14h0m0 0h0m0-45h0m0 21h0m0 39h0m0 0h0m0-72h0m0 80h0m1-115h0m0 148h0m0-79h0m0-22h0m0 45h0m0 6h0m0-43h0m0 28h0m0 6h0m0-26h0m0 7h0m0-23h0m0 12h0m0 58h0m0-35h0m0 78h0m0-113h0m0 41h0m0-3h0m0-68h0m0 31h0m0 65h0m0-14h0m0-81h0m0 98h0m0-58h0m0 8h0m0-37h0m0 71h0m0-50h0m0 33h0m0-9h0m1 54h0m0 3h0m0 27h0m0-102h0m0 34h0m0 16h0m0-37h0m0 1h0m0-23h0m0 46h0m0 34h0m0 0h0m0-55h0m0 39h0m0-13h0m0-33h0m0-3h0m0 41h0m0-34h0m0 52h0m0-84h0m0-41h0m0 115h0m0-59h0m0 39h0m0-92h0m0 22h0m0 40h0m0 93h0m0-66h0m0-41h0m0 7h0m0 49h0m0-61h0m0 48h0m1-5h0m0-23h0m0 97h0m0-109h0m0 57h0m0 45h0m0-57h0m0-83h0m0 47h0m0 44h0m0-5h0m0 20h0m0 3h0m0-28h0m0 53h0m0 0h0m0-92h0m0-40h0m0 40h0m0 24h0m0 73h0m0-102h0m0-1h0m0 77h0m0-38h0m0 83h0m0-100h0m0-70h0m0 137h0m0 12h0m0-115h0m0 91h0m0-30h0m0-39h0m0 75h0m0-88h0m1 28h0m0-5h0m0 56h0m0-102h0m0 6h0m0 111h0m0-109h0m0 28h0m0-3h0m0 74h0m0 3h0m0-34h0m0 15h0m0-48h0m0-27h0m0-9h0m0 33h0m0 104h0m0-38h0m0-39h0m0 46h0m0-120h0m0 100h0m0-86h0m0 95h0m0-2h0m0-54h0m0 19h0m1 69h0m0-11h0m0-94h0m0 16h0m0 32h0m0-60h0m0 93h0m0-29h0m0 6h0m0 5h0m0 28h0m0-21h0m0-48h0m0 27h0m0 4h0m0 1h0m0 9h0m0-64h0m0-29h0m0 63h0m0-22h0m0 51h0m0-101h0m0 44h0m0-82h0m1 130h0m0-78h0m0 59h0m0 21h0m0-23h0m0 78h0m0-23h0m0 26h0m0-72h0m0-58h0m0 92h0m0-4h0m0-45h0m0 12h0m0-40h0m0-28h0m0 54h0m0 47h0m0-36h0m0-26h0m0-2h0m0 58h0m0-52h0m0 52h0m0-9h0m0-71h0m0-11h0m0 73h0m0 38h0m1-54h0m0-49h0m0 72h0m0-54h0m0 60h0m0 11h0m0-65h0m0 54h0m0-73h0m0 100h0m0-57h0m0-50h0m0 19h0m0 53h0m0 4h0m0 58h0m0-105h0m0 30h0m0 18h0m0 87h0m0-83h0m0-123h0m0 87h0m0-111h0m0 152h0m0 8h0m0-61h0m1-6h0m0 47h0m0-51h0m0 5h0m0 44h0m0-3h0m0 21h0m0 2h0m0-51h0m0 28h0m0 1h0m0-12h0m0-29h0m0 19h0m0-35h0m0 122h0m0-3h0m0-76h0m0-35h0m0 47h0m0 9h0m0-55h0m0-58h0m0 20h0m0 53h0m0 92h0m0-47h0m0-87h0m0 145h0m0-83h0m0-7h0m0-7h0m0 53h0m0-52h0m1 12h0m0 7h0m0-79h0m0 109h0m0-60h0m0 108h0m0-97h0m0 77h0m0-80h0m0 47h0m0-78h0m0 71h0m0-58h0m0-3h0m0 11h0m0-17h0m0-10h0m0 32h0m0-79h0m0 55h0m0 84h0m0 14h0m0-42h0m0-94h0m0 107h0m0 63h0m0-108h0m0 56h0m0-54h0m0-2h0m0 59h0m0-60h0m1 41h0m0-75h0m0 6h0m0-10h0m0 74h0m0 8h0m0-71h0m0 40h0m0 88h0m0-106h0m0-33h0m0 55h0m0 44h0m0 11h0m0-29h0m0-14h0m0-36h0m0 44h0m0 25h0m0-47h0m0-75h0m0 57h0m0 80h0m0-19h0m1 16h0m0-30h0m0-148h0m0 111h0m0 11h0m0 52h0m0-38h0m0-18h0m0 32h0m0-10h0m0-56h0m0 114h0m0-121h0m0 20h0m0-10h0m0 61h0m0-75h0m0 87h0m0-80h0m0-85h0m0 144h0m0-108h0m0 83h0m1 26h0m0 61h0m0-145h0m0 4h0m0 56h0m0 3h0m0 27h0m0-44h0m0-30h0m0-20h0m0 42h0m0-26h0m0-17h0m0 73h0m0 11h0m0 34h0m0-81h0m0 15h0m0 40h0m0-4h0m0-8h0m1-53h0m0 74h0m0-82h0m0 113h0m0-3h0m0-120h0m0 132h0m0-79h0m0 10h0m0-2h0m0-4h0m0 24h0m0-3h0m0-6h0m0-36h0m0 57h0m0-8h0m0-57h0m0 85h0m0-42h0m0-20h0m0 52h0m1-58h0m0 24h0m0 4h0m0 6h0m0-3h0m0-44h0m0 74h0m0-35h0m0 24h0m0-18h0m0-5h0m0 16h0m0-49h0m0 34h0m0 27h0m0 18h0m0-57h0m0-27h0m0 42h0m0 2h0m0-52h0m0 62h0m0 31h0m0-55h0m0-39h0m0 89h0m0-113h0m0 112h0m0-79h0m0-16h0m0-9h0m0 49h0m0 14h0m0-74h0m0 57h0m1 1h0m0 21h0m0 14h0m0-9h0m0 10h0m0 1h0m0 46h0m0-2h0m0-56h0m0-42h0m0-25h0m0 30h0m0-36h0m0 17h0m0 41h0m0-86h0m0 173h0m0-80h0m0-8h0m0-26h0m0 8h0m0-31h0m0 71h0m0-42h0m1-21h0m0 74h0m0 38h0m0-156h0m0 31h0m0 71h0m0-44h0m0 44h0m0-47h0m0 7h0m0 64h0m0-52h0m0 37h0m0-22h0m0-139h0m0 149h0m0 37h0m0-9h0m0-82h0m0 51h0m0 29h0m1 53h0m0-116h0m0-77h0m0 136h0m0 26h0m0-27h0m0 4h0m0-4h0m0-54h0m0-10h0m0-17h0m0 18h0m0-13h0m0 90h0m0-125h0m0 112h0m0-45h0m0 65h0m0-115h0m0 22h0m0-5h0m0 38h0m0 73h0m0-75h0m0 24h0m0 58h0m0-45h0m0-84h0m0-45h0m0 77h0m0 39h0m0-37h0m0 95h0m0-202h0m0 123h0m0-34h0m0 9h0m0 2h0m0-2h0m0 7h0m1 18h0m0 62h0m0-67h0m0-38h0m0 72h0m0-33h0m0 68h0m0-115h0m0 56h0m0-20h0m0-36h0m0 102h0m0-33h0m0-59h0m0 24h0m0-10h0m0 15h0m0 80h0m0-44h0m0 35h0m0-64h0m0 38h0m0 11h0m0-22h0m0 79h0m0-164h0m0 69h0m0-11h0m0-23h0m1 31h0m0-42h0m0 83h0m0-184h0m0 196h0m0-55h0m0 11h0m0-7h0m0-24h0m0 31h0m0-111h0m0 164h0m0-10h0m0 25h0m0-67h0m0-67h0m0 162h0m0-89h0m0-133h0m0 41h0m0 90h0m0 15h0m0-34h0m0 15h0m0 3h0m0-41h0m0-43h0m0 71h0m0-4h0m0 10h0m1-11h0m0-7h0m0-15h0m0 20h0m0 61h0m0-59h0m0 79h0m0-45h0m0 5h0m0-48h0m0 75h0m0-85h0m0 19h0m0 28h0m0-15h0m0-47h0m0 31h0m0 30h0m0-26h0m0-56h0m0 1h0m0 64h0m0-9h0m0 12h0m0-38h0m0-1h0m0 20h0m0-41h0m0 99h0m1-51h0m0 5h0m0 94h0m0-102h0m0-14h0m0 37h0m0 3h0m0 39h0m0-89h0m0-7h0m0 34h0m0-8h0m0-76h0m0 143h0m0-77h0m0-29h0m0 57h0m0-4h0m0 28h0m0-26h0m0-63h0m0 82h0m0-24h0m0-15h0m0-53h0m0 27h0m0 71h0m0-114h0m0 34h0m0 52h0m0-24h0m0-39h0m0 52h0m0-7h0m0 49h0m0-49h0m1-15h0m0-31h0m0 46h0m0-72h0m0 86h0m0-24h0m0 29h0m0 23h0m0-45h0m0 30h0m0-7h0m0 32h0m0-6h0m0-44h0m0-30h0m0 109h0m0-20h0m0-81h0m0 87h0m0-28h0m0 12h0m0-70h0m0 11h0m0-51h0m0 84h0m0-61h0m0 27h0m0-9h0m0-21h0m0 90h0m0-38h0m0-12h0m0 29h0m0-18h0m1 81h0m0-104h0m0 103h0m0-77h0m0 1h0m0-23h0m0-54h0m0 98h0m0 10h0m0-20h0m0 53h0m0-113h0m0 125h0m0-39h0m0-27h0m0 4h0m0-27h0m0 7h0m0 4h0m0-13h0m1 4h0m0 34h0m0-26h0m0 22h0m0 19h0m0-53h0m0-9h0m0 40h0m0 54h0m0-92h0m0 64h0m0-159h0m0 122h0m0 21h0m0-67h0m0 94h0m0-66h0m0-36h0m0 64h0m0 14h0m0-52h0m0 8h0m0 63h0m0-4h0m0-21h0m0-5h0m0-84h0m0 122h0m1-32h0m0 18h0m0 5h0m0 33h0m0-45h0m0 4h0m0-83h0m0 88h0m0 3h0m0-171h0m0 202h0m0 0h0m0-8h0m0-23h0m0-49h0m0-13h0m0-44h0m0 9h0m0 39h0m0 25h0m0 44h0m0-32h0m0-39h0m0 12h0m0 10h0m0-64h0m0 72h0m0 41h0m0-70h0m0-39h0m1 50h0m0-25h0m0 43h0m0 31h0m0-139h0m0 176h0m0-165h0m0 82h0m0 27h0m0-15h0m0 3h0m0-35h0m0 79h0m0-100h0m0 70h0m0 27h0m0-96h0m0 28h0m0 64h0m0-84h0m0 36h0m0 0h0m0 38h0m1-36h0m0 28h0m0-83h0m0 3h0m0 5h0m0-43h0m0 114h0m0-38h0m0-45h0m0-31h0m0-2h0m0 41h0m0-17h0m0 67h0m0 52h0m0-82h0m0-32h0m0 72h0m0-6h0m0-95h0m0 62h0m0-18h0m0 76h0m0-65h0m0 36h0m0-55h0m0 107h0m1-64h0m0 78h0m0-97h0m0-20h0m0 41h0m0-41h0m0 2h0m0-18h0m0 43h0m0 9h0m0 23h0m0-27h0m0-25h0m0-86h0m0 155h0m0-50h0m0-12h0m0 66h0m0-66h0m0-24h0m0 75h0m0 25h0m0-10h0m0 15h0m0-39h0m0-15h0m0 21h0m0 35h0m0-67h0m0 122h0m0-78h0m0-39h0m0-40h0m1 61h0m0-68h0m0 22h0m0 5h0m0-27h0m0 74h0m0-25h0m0 7h0m0 30h0m0-37h0m0 26h0m0-108h0m0 78h0m0-74h0m0 76h0m0-15h0m0 52h0m0-10h0m0 5h0m0-54h0m0 107h0m0-58h0m0-1h0m0-101h0m0 109h0m0-47h0m0 57h0m0-116h0m0 122h0m0-42h0m0-5h0m0-4h0m0 117h0m0-112h0m0-85h0m0 179h0m0-89h0m0 23h0m0 76h0m0-100h0m0-49h0m1 126h0m0-44h0m0-43h0m0-30h0m0 66h0m0-55h0m0 24h0m0 58h0m0-76h0m0 70h0m0-45h0m0 23h0m0-30h0m0 46h0m0-91h0m0 14h0m0 51h0m0 25h0m0-44h0m0 8h0m0 20h0m0-103h0m0 117h0m0-39h0m0-45h0m0 63h0m0 15h0m0 2h0m0-21h0m0-60h0m0 70h0m0-66h0m1 39h0m0-44h0m0 39h0m0 8h0m0 44h0m0-68h0m0-27h0m0 84h0m0 24h0m0-14h0m0-52h0m0 40h0m0-27h0m0-17h0m0-9h0m0 1h0m0-28h0m0 40h0m0 27h0m0-49h0m0 96h0m0-64h0m0 14h0m0 5h0m0 78h0m1-157h0m0-54h0m0 112h0m0 6h0m0 75h0m0-120h0m0 47h0m0-3h0m0-12h0m0 33h0m0-51h0m0 19h0m0-8h0m0 110h0m0-144h0m0 83h0m0-54h0m0 112h0m0-106h0m0 6h0m0-15h0m0 26h0m0-40h0m0 9h0m0 92h0m0-118h0m0 101h0m0-90h0m0 0h0m0 49h0m0 59h0m1-46h0m0-90h0m0 117h0m0 36h0m0-92h0m0 84h0m0-45h0m0 32h0m0-46h0m0-8h0m0-17h0m0 76h0m0-112h0m0 29h0m0 10h0m0 31h0m0-40h0m0 82h0m0-84h0m0-27h0m0 110h0m0-112h0m0 38h0m0 61h0m0-105h0m0 95h0m0-43h0m0 134h0m0-108h0m1 0h0m0 39h0m0-44h0m0 58h0m0-70h0m0 29h0m0-47h0m0-7h0m0 81h0m0-107h0m0 29h0m0 52h0m0-83h0m0 25h0m0 90h0m0-76h0m0 43h0m0 27h0m0-61h0m0-62h0m0 18h0m0 54h0m0 24h0m0-72h0m0 119h0m0-96h0m1-4h0m0-22h0m0 84h0m0-19h0m0-62h0m0 25h0m0 18h0m0-45h0m0 33h0m0 71h0m0-44h0m0-51h0m0 21h0m0 22h0m0-28h0m0 125h0m0-168h0m0 16h0m0 15h0m0-1h0m0 82h0m0-87h0m0-6h0m0 50h0m0-63h0m1-14h0m0 89h0m0 15h0m0-32h0m0 22h0m0 52h0m0-54h0m0 28h0m0-56h0m0-37h0m0 48h0m0 36h0m0 12h0m0-52h0m0-22h0m0 67h0m0-122h0m0 41h0m0 11h0m0 1h0m0-22h0m0 20h0m0 17h0m0 72h0m0 10h0m0-23h0m0-45h0m0-116h0m0 77h0m1 0h0m0 40h0m0-23h0m0 28h0m0 53h0m0-49h0m0-38h0m0 12h0m0-51h0m0 104h0m0-14h0m0-88h0m0 51h0m0 28h0m0 32h0m0-16h0m0-33h0m0 6h0m0 9h0m0 10h0m0-60h0m0 120h0m0-98h0m0 9h0m0-12h0m0 43h0m0-96h0m0 68h0m0 41h0m0-21h0m0-23h0m0 92h0m1-92h0m0 20h0m0 101h0m0-204h0m0 64h0m0-16h0m0 54h0m0-3h0m0 26h0m0-55h0m0-20h0m0 0h0m0 16h0m0-93h0m0 100h0m0 23h0m0-28h0m0 83h0m0-100h0m0 36h0m0-41h0m0 15h0m0-68h0m0 88h0m0 2h0m0-76h0m0 105h0m0 13h0m0 4h0m0-25h0m0-54h0m0 20h0m0-45h0m0 23h0m1 64h0m0-41h0m0-2h0m0 90h0m0-80h0m0-71h0m0 69h0m0-39h0m0-5h0m0 56h0m0-15h0m0 134h0m0-164h0m0-9h0m0 58h0m0-51h0m0 41h0m0 24h0m0-19h0m0-26h0m0-50h0m0 48h0m0 97h0m0-107h0m0 79h0m0-74h0m0-15h0m0 31h0m0 11h0m0-18h0m0 50h0m0 10h0m0-117h0m0-12h0m0 40h0m0 60h0m0 9h0m0-29h0m0-32h0m0 23h0m1-7h0m0 13h0m0-85h0m0 99h0m0-2h0m0-91h0m0 170h0m0-146h0m0 139h0m0-43h0m0-60h0m0-31h0m0 7h0m0 36h0m0 54h0m0-17h0m0-61h0m0 114h0m0-61h0m0-59h0m0 49h0m0 46h0m0 17h0m0-69h0m0-81h0m0 109h0m0-71h0m0 126h0m0-110h0m0-14h0m0 35h0m0 12h0m0-41h0m0-20h0m0 130h0m0-105h0m0 13h0m0-12h0m1 26h0m0 10h0m0-68h0m0 111h0m0-19h0m0-15h0m0 52h0m0-99h0m0 8h0m0-24h0m0 34h0m0 26h0m0-70h0m0 156h0m0-84h0m0 12h0m0-62h0m0-76h0m0 112h0m0-28h0m0 82h0m0-69h0m0-20h0m0 49h0m1-38h0m0 38h0m0 6h0m0-27h0m0 8h0m0 71h0m0-116h0m0 39h0m0 13h0m0-2h0m0 13h0m0 32h0m0-40h0m0-37h0m0-28h0m0-5h0m0 42h0m0-38h0m0 24h0m0 29h0m0-39h0m0 76h0m0-28h0m0 21h0m0-51h0m0 56h0m0-65h0m1 72h0m0 34h0m0-143h0m0 123h0m0-78h0m0 18h0m0 44h0m0-33h0m0 23h0m0-127h0m0 93h0m0 25h0m0 1h0m0-14h0m0-6h0m0 1h0m0-39h0m0 120h0m0-121h0m0 29h0m0 14h0m0 9h0m0-2h0m0-72h0m0 29h0m0 24h0m0 42h0m0-45h0m0 41h0m1-19h0m0-78h0m0 2h0m0 39h0m0-41h0m0 122h0m0-14h0m0 23h0m0-111h0m0 134h0m0-38h0m0-64h0m0 41h0m0-47h0m0-48h0m0 104h0m0-79h0m0 52h0m0 56h0m0-23h0m0-20h0m0 42h0m0 50h0m0-161h0m0 23h0m0 75h0m0-37h0m0-10h0m0 34h0m1-54h0m0-54h0m0 54h0m0 68h0m0-31h0m0 27h0m0-68h0m0 34h0m0-22h0m0 43h0m0-107h0m0 111h0m0-34h0m0-41h0m0 92h0m0-57h0m0 12h0m0-45h0m0 83h0m0-53h0m0-88h0m0 94h0m0 93h0m0-171h0m0 166h0m0-77h0m0 16h0m0-82h0m0 26h0m0 16h0m1 47h0m0-29h0m0 9h0m0-40h0m0 82h0m0-132h0m0 97h0m0 12h0m0 44h0m0-76h0m0 44h0m0-97h0m0 49h0m0 26h0m0-40h0m0 35h0m0-3h0m0 23h0m0-108h0m0 126h0m0-25h0m0-45h0m0-5h0m0-74h0m0 89h0m0-76h0m0 102h0m1-51h0m0 64h0m0 69h0m0-127h0m0 39h0m0 1h0m0 23h0m0-56h0m0-11h0m0 19h0m0 78h0m0-68h0m0-32h0m0 15h0m0 41h0m0-140h0m0 133h0m0-33h0m0 1h0m0 46h0m0-85h0m0 17h0m0 10h0m1 48h0m0 21h0m0-56h0m0-43h0m0 82h0m0-35h0m0-18h0m0 42h0m0-11h0m0 13h0m0-92h0m0 79h0m0-87h0m0-31h0m0 131h0m0 19h0m0-40h0m0 46h0m0 9h0m0-26h0m0-49h0m0 90h0m0-122h0m0 49h0m0 34h0m0 41h0m1-48h0m0-22h0m0 74h0m0-71h0m0-28h0m0 41h0m0 16h0m0 22h0m0-40h0m0-30h0m0-63h0m0 61h0m0-33h0m0 13h0m0-20h0m0 62h0m0-17h0m0 32h0m0-11h0m0-49h0m0 90h0m1-47h0m0-31h0m0-4h0m0 63h0m0-90h0m0 77h0m0-5h0m0 5h0m0 16h0m0-64h0m0 117h0m0-56h0m0 1h0m0 13h0m0-27h0m0-27h0m0-27h0m0 65h0m0-9h0m0-9h0m0-24h0m0 8h0m0 10h0m0-4h0m0-69h0m0 89h0m0-32h0m0 5h0m0-13h0m0 41h0m0-88h0m0 98h0m0-73h0m1 13h0m0 68h0m0-65h0m0 49h0m0 36h0m0-52h0m0-55h0m0 41h0m0 33h0m0 53h0m0-48h0m0-26h0m0 2h0m0 9h0m0 29h0m0-16h0m0-78h0m0 45h0m0 58h0m0-59h0m0 97h0m0-54h0m0-57h0m0-19h0m0 51h0m0-11h0m0-5h0m0-40h0m0 40h0m0 78h0m0-49h0m1-2h0m0-27h0m0 11h0m0 10h0m0 37h0m0-72h0m0 57h0m0 43h0m0-54h0m0 9h0m0-13h0m0-18h0m0-124h0m0 143h0m0 61h0m0-23h0m0-106h0m0 59h0m0 7h0m0-27h0m0 31h0m0-153h0m0 101h0m0 41h0m0-47h0m0 10h0m0-29h0m1 1h0m0 90h0m0-2h0m0-84h0m0 21h0m0-23h0m0 58h0m0-18h0m0 46h0m0-54h0m0 21h0m0 7h0m0 4h0m0-50h0m0 45h0m0-49h0m0 100h0m0-10h0m0-73h0m0 52h0m0-12h0m0 51h0m0-168h0m0 157h0m0-57h0m0-28h0m0 36h0m0 22h0m0-44h0m0-16h0m0 111h0m0-111h0m0-20h0m0-30h0m1 109h0m0-6h0m0-50h0m0 68h0m0-28h0m0-36h0m0 57h0m0-32h0m0-33h0m0 68h0m0-5h0m0-92h0m0 76h0m0 56h0m0-113h0m0 55h0m0-82h0m0 158h0m0-103h0m0-17h0m0 51h0m0-58h0m0 2h0m0 53h0m0-96h0m0 161h0m0-79h0m0-36h0m0 7h0m0 88h0m0-58h0m1-113h0m0 94h0m0-37h0m0-7h0m0 89h0m0-51h0m0-9h0m0-34h0m0 8h0m0 97h0m0-77h0m0 27h0m0-21h0m0-23h0m0 47h0m0-62h0m0 89h0m0 3h0m0-104h0m0 94h0m0-7h0m0 21h0m0-40h0m0 22h0m0-32h0m0-34h0m0 125h0m0-46h0m0 18h0m0-110h0m0 123h0m1-117h0m0 108h0m0-50h0m0 60h0m0-55h0m0 35h0m0-4h0m0-46h0m0 22h0m0 13h0m0-59h0m0 6h0m0 0h0m0 68h0m0-97h0m0 73h0m0 19h0m0-7h0m0-36h0m0-70h0m0 112h0m0 1h0m0 51h0m1-39h0m0 43h0m0-131h0m0-8h0m0 93h0m0-18h0m0 0h0m0-37h0m0 33h0m0 7h0m0-127h0m0 70h0m0 20h0m0 85h0m0-63h0m0 0h0m0 3h0m0-128h0m0 109h0m0 9h0m0-22h0m0 43h0m0 10h0m0 2h0m0 4h0m0-28h0m0-26h0m0 23h0m0-31h0m1 26h0m0-28h0m0-19h0m0 0h0m0 62h0m0-98h0m0 32h0m0 57h0m0-42h0m0 59h0m0-49h0m0-39h0m0 95h0m0-67h0m0 55h0m0-18h0m0-2h0m0 60h0m0-49h0m0-23h0m0-44h0m0 84h0m0-70h0m0 43h0m0 24h0m0-22h0m0 6h0m0 30h0m0 59h0m0-81h0m0-52h0m0 62h0m0-30h0m0-32h0m0 117h0m0-88h0m0-5h0m0 18h0m0-25h0m0-23h0m1 84h0m0-17h0m0-28h0m0 18h0m0-29h0m0 32h0m0-5h0m0-57h0m0 57h0m0-105h0m0 24h0m0 66h0m0-97h0m0 101h0m0-92h0m0 36h0m0 47h0m0 39h0m0-27h0m0 26h0m0 26h0m0 37h0m0-166h0m0 75h0m0 13h0m0 0h0m0-41h0m0 27h0m0-42h0m0 88h0m0-44h0m0-47h0m0 43h0m0-36h0m1 82h0m0-90h0m0 76h0m0-99h0m0 101h0m0-31h0m0-13h0m0 87h0m0-84h0m0-57h0m0 56h0m0-28h0m0 72h0m0-3h0m0-89h0m0 55h0m0-25h0m0 44h0m0-58h0m0-20h0m0 66h0m0-15h0m0 68h0m1-62h0m0-77h0m0 82h0m0-49h0m0-2h0m0 15h0m0 27h0m0 11h0m0-21h0m0 56h0m0 57h0m0-70h0m0-54h0m0 14h0m0 19h0m0 108h0m0-232h0m0 152h0m0 20h0m0-72h0m0 47h0m0 9h0m0-93h0m0-19h0m0 60h0m0 14h0m1-40h0m0-71h0m0 21h0m0 171h0m0-143h0m0 85h0m0-47h0m0 47h0m0-23h0m0-68h0m0 38h0m0-22h0m0 35h0m0 41h0m0 21h0m0-49h0m0-27h0m0-17h0m0 10h0m0 72h0m0-40h0m1-20h0m0 73h0m0-23h0m0-46h0m0 21h0m0 58h0m0-74h0m0 16h0m0-37h0m0-21h0m0 99h0m0-14h0m0-61h0m0-33h0m0 43h0m0 32h0m0 1h0m0-43h0m0 118h0m0-151h0m0 36h0m0 99h0m0-42h0m0-81h0m0 43h0m0-41h0m0 53h0m0-4h0m0 51h0m0-124h0m0-43h0m0 103h0m0 17h0m0 106h0m0-131h0m1 28h0m0-5h0m0-23h0m0-5h0m0 61h0m0 97h0m0-137h0m0-3h0m0 17h0m0-3h0m0-1h0m0-74h0m0 32h0m0 93h0m0-40h0m0-2h0m0 12h0m0-26h0m0-9h0m0-18h0m0 82h0m0 10h0m0-77h0m0 82h0m0-96h0m0-52h0m0 123h0m0-26h0m0-93h0m0 75h0m0-28h0m0 42h0m0 6h0m1-30h0m0-19h0m0 24h0m0-2h0m0-61h0m0 26h0m0 83h0m0-61h0m0 34h0m0-59h0m0 94h0m0-100h0m0 6h0m0 56h0m0 31h0m0-69h0m0-19h0m0 45h0m0 15h0m0 76h0m0-138h0m0 112h0m0-51h0m0-6h0m1 32h0m0 2h0m0 10h0m0-137h0m0 0h0m0 36h0m0 133h0m0-72h0m0-51h0m0 56h0m0 40h0m0-6h0m0-91h0m0-1h0m0-9h0m0 10h0m0 95h0m0-110h0m0 18h0m0 43h0m0-4h0m0-6h0m0 21h0m0 20h0m0 29h0m0-41h0m0 11h0m0-37h0m0 73h0m0-130h0m0 112h0m0-65h0m1 40h0m0-9h0m0-46h0m0 25h0m0-23h0m0-10h0m0 13h0m0 67h0m0-26h0m0-26h0m0-25h0m0 25h0m0-62h0m0 82h0m0-26h0m0-5h0m0 26h0m0-11h0m0-20h0m0-65h0m0 101h0m0-15h0m0-56h0m0 18h0m0 37h0m0-50h0m0 89h0m0-5h0m0-50h0m1-7h0m0 96h0m0-115h0m0 29h0m0-13h0m0 79h0m0-83h0m0-27h0m0 52h0m0 36h0m0 21h0m0-58h0m0 77h0m0-88h0m0-8h0m0 50h0m0 3h0m0-56h0m0-15h0m0 14h0m0 43h0m0-59h0m0 10h0m0 75h0m0 8h0m0-112h0m1 111h0m0-51h0m0 39h0m0 0h0m0 7h0m0-83h0m0 57h0m0-31h0m0 52h0m0 2h0m0 25h0m0-78h0m0-36h0m0 73h0m0 4h0m0 55h0m0-83h0m0 75h0m0-13h0m0-106h0m0 59h0m0 19h0m0 51h0m0-157h0m0 117h0m0-100h0m0 87h0m0-9h0m0-11h0m0 15h0m0-83h0m0 94h0m1 44h0m0-126h0m0 62h0m0-4h0m0-34h0m0-7h0m0 0h0m0 38h0m0-41h0m0 44h0m0-45h0m0 25h0m0-12h0m0-12h0m0 44h0m0-84h0m0 133h0m0-7h0m0 37h0m0-77h0m0-19h0m0-4h0m0-25h0m0 66h0m0-133h0m0 20h0m0 80h0m1-20h0m0-16h0m0 60h0m0-32h0m0-11h0m0 89h0m0-40h0m0 5h0m0-28h0m0-43h0m0 73h0m0-107h0m0 121h0m0-48h0m0 31h0m0 4h0m0-19h0m0-41h0m0 1h0m0 78h0m0-51h0m0-73h0m0 170h0m0-132h0m0 88h0m0 14h0m0-3h0m0-128h0m1 108h0m0-53h0m0 69h0m0-64h0m0 21h0m0-71h0m0-12h0m0 23h0m0 107h0m0-131h0m0 12h0m0 105h0m0 1h0m0-94h0m0 26h0m0 54h0m0-20h0m0-3h0m0 9h0m0-116h0m0 74h0m0 41h0m0 54h0m0-106h0m0 81h0m0-76h0m0 33h0m0-18h0m0 45h0m0-52h0m0-5h0m0-9h0m0 45h0m0 18h0m0 46h0m0-38h0m1 18h0m0-84h0m0-16h0m0 37h0m0-30h0m0-1h0m0-37h0m0 161h0m0-82h0m0-20h0m0 20h0m0-41h0m0 103h0m0-81h0m0-37h0m0-11h0m0 51h0m0 23h0m0-4h0m0-30h0m0-53h0m0 107h0m0-17h0m0-61h0m0 46h0m0 20h0m0-88h0m0 57h0m0 15h0m0 30h0m1-77h0m0 38h0m0 29h0m0-13h0m0 0h0m0-68h0m0 72h0m0-16h0m0 13h0m0-43h0m0 25h0m0 5h0m0 58h0m0-109h0m0 10h0m0 114h0m0-39h0m0-24h0m0-78h0m0-49h0m0 113h0m0-27h0m0 23h0m0-19h0m0 81h0m0-19h0m0-31h0m0 18h0m1-44h0m0 69h0m0-59h0m0 61h0m0-48h0m0-8h0m0-31h0m0 73h0m0-84h0m0 127h0m0-126h0m0 107h0m0-137h0m0 64h0m0 0h0m0-64h0m0 36h0m0 42h0m0 0h0m0 33h0m0-66h0m0 49h0m0-107h0m0 100h0m0-38h0m0 17h0m0-11h0m0 56h0m0-32h0m0-14h0m1 5h0m0-63h0m0 56h0m0-70h0m0 134h0m0-9h0m0-77h0m0 107h0m0-117h0m0 26h0m0-13h0m0 65h0m0-15h0m0-78h0m0 166h0m0-49h0m0-55h0m0 37h0m0-69h0m0-15h0m0 42h0m0 158h0m0-218h0m0 56h0m0 62h0m0-3h0m0-122h0m1 85h0m0-60h0m0 63h0m0-75h0m0 68h0m0-32h0m0 43h0m0-32h0m0-25h0m0 46h0m0-13h0m0 52h0m0-70h0m0 29h0m0-12h0m0-30h0m0 114h0m0-125h0m0-29h0m0 116h0m0-50h0m0 98h0m0-110h0m0 5h0m0 17h0m0-14h0m0-7h0m0 51h0m0-52h0m0-31h0m0 58h0m1 8h0m0 54h0m0-39h0m0-57h0m0 11h0m0 51h0m0 21h0m0-44h0m0 68h0m0-95h0m0-50h0m0 96h0m0-22h0m0 24h0m0-97h0m0 113h0m0-69h0m0-1h0m0 37h0m0-31h0m0 32h0m1-57h0m0 55h0m0-50h0m0-3h0m0-62h0m0 151h0m0-66h0m0 6h0m0-71h0m0 107h0m0 25h0m0-15h0m0-40h0m0-58h0m0 37h0m0 22h0m0 68h0m0-31h0m0-55h0m0 23h0m0 40h0m0 28h0m0-103h0m0 96h0m0 6h0m0-103h0m0 56h0m0 7h0m0 32h0m1-98h0m0 54h0m0 7h0m0-4h0m0 14h0m0-63h0m0-32h0m0 36h0m0 45h0m0 11h0m0-61h0m0 77h0m0-103h0m0 111h0m0-44h0m0-11h0m0-40h0m0-22h0m0-11h0m0 39h0m0-27h0m0 97h0m0-77h0m0 3h0m0 39h0m0 6h0m0-59h0m0 9h0m1 7h0m0 73h0m0-51h0m0 71h0m0-24h0m0-16h0m0-69h0m0 10h0m0 88h0m0 40h0m0-2h0m0-136h0m0 83h0m0-87h0m0 102h0m0-60h0m0-12h0m0 36h0m0-41h0m0-37h0m0 31h0m0 78h0m0-67h0m0-32h0m0 92h0m0-54h0m0-6h0m0 7h0m0-94h0m0 123h0m0-1h0m0-18h0m0 30h0m0-23h0m0-9h0m0 40h0m1-76h0m0 2h0m0 30h0m0 23h0m0-22h0m0-20h0m0-26h0m0 76h0m0 78h0m0-169h0m0 22h0m0 48h0m0-30h0m0 89h0m0-95h0m0-25h0m0 24h0m0-12h0m0 22h0m0 46h0m0-21h0m0-55h0m0 86h0m0-54h0m0 23h0m0 1h0m0-79h0m0 114h0m0-27h0m1 86h0m0-14h0m0-2h0m0-110h0m0 55h0m0 15h0m0-82h0m0 104h0m0-19h0m0-30h0m0 14h0m0 21h0m0-15h0m0-18h0m0-1h0m0 48h0m0-63h0m0 37h0m0-30h0m0-22h0m0 37h0m0-88h0m0 34h0m1-17h0m0 46h0m0 59h0m0-77h0m0 23h0m0-56h0m0 29h0m0 91h0m0-94h0m0 102h0m0-54h0m0 39h0m0-135h0m0 35h0m0 13h0m0 91h0m0-35h0m0 44h0m0-27h0m0-91h0m0 25h0m0 14h0m0 43h0m0 34h0m0-79h0m0 20h0m0 22h0m0-43h0m0-21h0m0 22h0m0-17h0m0-71h0m0 77h0m1 66h0m0-103h0m0 73h0m0-79h0m0 86h0m0-76h0m0 94h0m0-28h0m0 5h0m0 7h0m0-63h0m0-6h0m0-13h0m0 45h0m0-20h0m0 35h0m0-7h0m0 23h0m0-101h0m1 159h0m0-38h0m0-60h0m0 93h0m0-29h0m0-39h0m0-45h0m0 62h0m0-50h0m0 79h0m0-48h0m0 39h0m0-55h0m0 7h0m0-62h0m0 12h0m0 34h0m0 44h0m0 2h0m0-58h0m0 50h0m0 10h0m0-25h0m0-43h0m0 10h0m0 83h0m0-88h0m0-34h0m0 106h0m0 13h0m0-42h0m1 35h0m0-21h0m0-4h0m0-1h0m0 97h0m0-30h0m0-4h0m0-6h0m0-58h0m0 36h0m0-47h0m0-13h0m0-40h0m0 62h0m0-51h0m0 43h0m0-20h0m0 81h0m0-33h0m0-26h0m0 115h0m0-112h0m0 34h0m0-81h0m0 81h0m0-94h0m0 9h0m0 92h0m1-107h0m0 85h0m0-45h0m0 7h0m0 23h0m0-45h0m0 37h0m0-67h0m0 27h0m0 37h0m0-56h0m0 37h0m0 42h0m0-6h0m0-21h0m0 22h0m0-43h0m0-59h0m0 17h0m0 61h0m0 12h0m0-17h0m0 22h0m0-67h0m0 126h0m0-60h0m0 2h0m0-35h0m0 24h0m1 8h0m0-1h0m0 15h0m0 49h0m0-140h0m0 68h0m0-4h0m0-76h0m0 53h0m0-8h0m0 15h0m0 2h0m0 97h0m0-107h0m0 43h0m0-36h0m0 33h0m0-41h0m0 90h0m0-64h0m0-12h0m0 13h0m0-35h0m0 28h0m0-5h0m0-20h0m1 29h0m0-11h0m0 39h0m0 11h0m0-82h0m0 12h0m0 61h0m0 39h0m0-28h0m0-62h0m0 28h0m0-51h0m0 68h0m0-24h0m0-63h0m0 38h0m0-26h0m0 56h0m0 9h0m0 2h0m0 29h0m0-70h0m0 14h0m0 16h0m0 14h0m0-27h0m0 52h0m0-11h0m0 0h0m0-17h0m0 39h0m0-6h0m1-24h0m0-5h0m0-18h0m0 42h0m0 25h0m0-13h0m0-81h0m0 19h0m0-17h0m0 65h0m0-26h0m0-10h0m0-45h0m0 47h0m0-46h0m0 32h0m0 14h0m0 61h0m0-66h0m0 13h0m0 37h0m0-38h0m0-70h0m0-5h0m0 66h0m0-27h0m0 51h0m0-17h0m0 54h0m0-74h0m0 15h0m0-98h0m0 91h0m0 53h0m0-58h0m0-39h0m1 15h0m0-3h0m0 54h0m0-13h0m0-13h0m0 20h0m0-19h0m0-31h0m0-8h0m0-34h0m0 49h0m0 40h0m0-28h0m0 118h0m0-85h0m0-35h0m0 108h0m0-121h0m0 78h0m0-99h0m0 97h0m0-38h0m0 16h0m0 55h0m0-42h0m0 5h0m0-50h0m0 55h0m0-72h0m0 20h0m0 62h0m0-46h0m1-34h0m0 60h0m0-31h0m0 0h0m0-1h0m0 32h0m0-83h0m0 60h0m0-74h0m0 135h0m0-102h0m0 26h0m0 61h0m0-52h0m0-1h0m0-9h0m0-3h0m0-28h0m0-29h0m0 32h0m0 72h0m0 13h0m0-51h0m0-11h0m0-39h0m0 105h0m0-59h0m0 6h0m0 23h0m0-7h0m0-15h0m0 14h0m0 35h0m1-80h0m0 41h0m0-32h0m0 56h0m0-4h0m0-111h0m0 108h0m0-60h0m0 78h0m0-50h0m0-11h0m0 21h0m0-26h0m0-15h0m0 39h0m0-27h0m0 50h0m0-77h0m0 41h0m0 16h0m0 20h0m0-91h0m0 22h0m0 34h0m0-3h0m0 0h0m0 14h0m0 71h0m0-9h0m0-135h0m0 30h0m0 14h0m0 32h0m0-5h0m1 42h0m0-114h0m0 48h0m0 16h0m0 61h0m0-72h0m0-52h0m0 50h0m0 56h0m0-112h0m0 90h0m0-10h0m0-48h0m0 32h0m0-51h0m0 102h0m0-50h0m0-13h0m0-82h0m0 88h0m0 14h0m0-25h0m0 62h0m1-36h0m0 64h0m0-46h0m0 64h0m0-102h0m0 17h0m0-9h0m0 34h0m0-38h0m0 63h0m0-42h0m0 31h0m0-41h0m0-4h0m0 4h0m0 1h0m0 49h0m0 0h0m0-94h0m0 32h0m0 17h0m0 46h0m0-42h0m0 41h0m0 9h0m0-1h0m0-90h0m0 32h0m0 23h0m0-56h0m0 59h0m1 11h0m0-29h0m0 9h0m0-47h0m0 59h0m0-42h0m0 54h0m0 47h0m0-61h0m0-42h0m0 29h0m0-77h0m0 123h0m0-97h0m0 22h0m0-24h0m0 64h0m0 13h0m0-71h0m0-35h0m0 97h0m0-23h0m0-42h0m0 118h0m0-67h0m0-19h0m0 14h0m0-20h0m0 15h0m0 3h0m0-17h0m1 2h0m0-67h0m0 99h0m0-68h0m0 45h0m0-16h0m0 52h0m0-104h0m0 17h0m0 63h0m0-45h0m0-22h0m0-59h0m0 140h0m0 29h0m0-79h0m0 84h0m0-58h0m0-28h0m0-44h0m0 15h0m0 38h0m0 26h0m0 35h0m0-76h0m0 65h0m0 3h0m0-64h0m0-40h0m1 50h0m0-33h0m0 98h0m0-28h0m0-64h0m0 31h0m0-51h0m0 120h0m0-14h0m0-63h0m0 54h0m0-16h0m0-6h0m0-11h0m0 50h0m0-15h0m0-95h0m0 66h0m0 31h0m0-39h0m0-2h0m0 8h0m0 45h0m0-104h0m0 117h0m0 4h0m0-20h0m0-83h0m0 59h0m1 69h0m0-67h0m0-4h0m0-4h0m0 21h0m0 18h0m0-9h0m0 5h0m0-51h0m0 39h0m0 31h0m0-80h0m0-6h0m0 42h0m0-50h0m0 91h0m0-96h0m0 40h0m0-34h0m0 34h0m0-13h0m0 21h0m0-39h0m0 38h0m0-28h0m0 9h0m0-13h0m0 5h0m0-29h0m0 69h0m0-70h0m0-17h0m0 63h0m0 32h0m0-36h0m0 23h0m1-9h0m0-12h0m0 19h0m0-49h0m0-2h0m0 24h0m0-23h0m0 14h0m0-2h0m0-18h0m0 89h0m0 22h0m0-93h0m0 38h0m0 64h0m0-137h0m0 104h0m0-32h0m0 4h0m0-13h0m0-15h0m0 1h0m0-68h0m0 108h0m0 13h0m0 1h0m0-40h0m1-31h0m0-1h0m0-91h0m0 156h0m0-13h0m0-21h0m0-1h0m0-24h0m0-38h0m0 59h0m0 42h0m0-24h0m0-25h0m0 13h0m0-101h0m0 96h0m0-1h0m0-59h0m0 47h0m0-5h0m0 138h0m0-112h0m0 43h0m0-79h0m0 19h0m0-47h0m0 75h0m0-7h0m0-96h0m0 114h0m0 21h0m0-22h0m0 42h0m1-115h0m0 25h0m0 23h0m0-11h0m0 87h0m0-47h0m0-23h0m0 73h0m0-38h0m0-75h0m0 59h0m0-22h0m0 47h0m0-35h0m0-11h0m0-98h0m0 67h0m0 10h0m0 2h0m0-52h0m0 85h0m0-9h0m0-49h0m0 8h0m0-65h0m0 78h0m0-30h0m0 75h0m0 16h0m1-36h0m0 24h0m0 19h0m0-30h0m0-65h0m0-39h0m0 29h0m0 43h0m0 71h0m0-38h0m0-36h0m0 24h0m0 12h0m0 40h0m0-68h0m0-90h0m0 127h0m0-42h0m0-7h0m0 55h0m0 11h0m0-95h0m0 42h0m0 0h0m0 32h0m0 13h0m0-101h0m0 56h0m0-25h0m0 82h0m0 13h0m0-77h0m0-19h0m0 71h0m0 6h0m1-108h0m0 106h0m0-89h0m0 66h0m0-79h0m0 2h0m0 34h0m0 130h0m0-100h0m0-8h0m0-40h0m0 23h0m0 53h0m0-80h0m0 28h0m0 29h0m0 27h0m0-72h0m0 37h0m0-2h0m0 31h0m0-42h0m0 63h0m0-59h0m0-20h0m0 62h0m0-108h0m0 11h0m1 59h0m0 5h0m0 30h0m0-21h0m0-20h0m0-8h0m0-60h0m0 127h0m0-58h0m0 117h0m0-86h0m0-2h0m0 34h0m0-107h0m0 60h0m0-123h0m0 189h0m0-73h0m0 4h0m0-73h0m0 69h0m0-17h0m0 39h0m0-44h0m0 37h0m0 46h0m0 37h0m0-128h0m0 33h0m0 5h0m0 12h0m1-69h0m0 32h0m0 91h0m0-141h0m0-5h0m0 186h0m0-144h0m0 23h0m0 4h0m0-9h0m0-34h0m0 3h0m0 3h0m0 112h0m0-102h0m0-52h0m0 63h0m0 3h0m0 30h0m0 50h0m0-55h0m0-18h0m0 34h0m0 41h0m0-34h0m0 33h0m0-111h0m0 17h0m0 30h0m0-31h0m0-28h0m0 37h0m0 17h0m0 28h0m0 9h0m1-116h0m0-11h0m0 163h0m0-127h0m0 101h0m0 3h0m0-136h0m0 117h0m0-65h0m0 34h0m0-78h0m0 71h0m0 5h0m0 20h0m0-55h0m0 45h0m0 38h0m0-80h0m0 76h0m0-75h0m0 61h0m0 16h0m0 36h0m0-25h0m0-128h0m0 144h0m1-122h0m0 78h0m0-21h0m0-56h0m0 57h0m0-64h0m0-45h0m0 89h0m0-9h0m0 89h0m0-78h0m0-63h0m0 90h0m0-41h0m0 7h0m0 67h0m0-75h0m0 11h0m0 82h0m0-38h0m0-30h0m0 19h0m0-38h0m0 2h0m0 73h0m0-37h0m0 46h0m0-64h0m1 63h0m0-57h0m0 20h0m0-14h0m0 31h0m0-33h0m0 48h0m0-39h0m0 10h0m0-137h0m0 104h0m0 16h0m0-46h0m0-3h0m0 87h0m0-90h0m0-14h0m0 33h0m0 47h0m0-1h0m0-29h0m0 1h0m0 28h0m0 9h0m0-8h0m0-24h0m0 45h0m0-37h0m0 48h0m0-141h0m1 74h0m0-28h0m0 1h0m0 44h0m0-38h0m0-15h0m0 69h0m0-36h0m0 38h0m0-163h0m0 56h0m0 83h0m0-19h0m0 76h0m0-131h0m0 121h0m0-51h0m0 70h0m0-101h0m0-2h0m0-44h0m0 30h0m0 61h0m0-122h0m0 135h0m0-31h0m0 39h0m0 39h0m0-55h0m0-63h0m0 23h0m0 83h0m0-63h0m0 16h0m0 59h0m0-121h0m0-27h0m0 91h0m1-16h0m0-52h0m0 12h0m0 61h0m0 10h0m0-69h0m0 61h0m0 15h0m0-75h0m0 6h0m0 65h0m0-163h0m0 98h0m0 95h0m0-2h0m0-120h0m0 15h0m0 42h0m0-60h0m0 131h0m0 25h0m0-132h0m0 85h0m0 57h0m0-103h0m0-26h0m0 50h0m0-30h0m0-75h0m0 40h0m1-18h0m0 16h0m0 54h0m0 10h0m0 18h0m0-66h0m0 66h0m0-92h0m0 99h0m0-56h0m0 75h0m0-102h0m0 52h0m0-46h0m0 97h0m0-110h0m0 34h0m0-2h0m0 3h0m0 0h0m0 35h0m1 46h0m0-92h0m0 37h0m0-5h0m0-34h0m0-6h0m0 13h0m0-28h0m0 91h0m0-28h0m0-93h0m0 97h0m0-49h0m0 63h0m0-106h0m0 58h0m0 40h0m0-49h0m0 59h0m0 17h0m0-29h0m0-88h0m0 65h0m0-23h0m0 119h0m0-104h0m1-80h0m0 127h0m0 40h0m0-102h0m0-44h0m0 4h0m0 55h0m0 10h0m0 3h0m0-91h0m0 86h0m0 20h0m0-117h0m0 41h0m0 48h0m0-64h0m0 70h0m0-20h0m0 56h0m0-37h0m0 31h0m0-79h0m0-11h0m0 59h0m1 53h0m0-19h0m0-94h0m0 79h0m0-41h0m0 16h0m0 24h0m0 3h0m0 27h0m0-31h0m0-43h0m0-68h0m0 121h0m0-22h0m0-3h0m0-35h0m0 61h0m0-67h0m0 36h0m0 46h0m0-92h0m0-57h0m0 35h0m0 120h0m0-38h0m0 13h0m0-46h0m0 16h0m0 26h0m0 96h0m0-158h0m0 80h0m0-96h0m0-36h0m0 44h0m0 38h0m0 90h0m0-125h0m1 71h0m0-1h0m0-44h0m0 75h0m0-76h0m0 25h0m0-10h0m0-69h0m0 67h0m0-26h0m0 37h0m0 9h0m0-11h0m0 3h0m0-38h0m0-15h0m0 14h0m0 72h0m0-62h0m0-18h0m0 3h0m0 41h0m0 21h0m0-92h0m0-25h0m0 177h0m0-142h0m1 30h0m0 52h0m0-57h0m0 33h0m0 2h0m0-11h0m0 4h0m0-58h0m0 84h0m0 34h0m0-45h0m0-19h0m0 59h0m0-56h0m0-48h0m0 48h0m0 30h0m0-76h0m0 105h0m0-2h0m0-56h0m0-29h0m0 32h0m0-14h0m1 67h0m0-80h0m0 62h0m0-72h0m0 64h0m0-21h0m0 15h0m0-64h0m0 40h0m0 3h0m0 52h0m0-88h0m0 55h0m0 2h0m0-20h0m0 32h0m0-10h0m0-56h0m0 20h0m0 69h0m0-111h0m0 41h0m0 12h0m0-47h0m0 52h0m0-18h0m0-108h0m0 107h0m1-3h0m0 50h0m0-55h0m0-16h0m0-51h0m0 86h0m0-30h0m0 41h0m0-31h0m0 26h0m0 7h0m0 16h0m0 0h0m0-13h0m0-6h0m0 27h0m0-50h0m0 30h0m0-83h0m0 5h0m0-20h0m0 87h0m0-55h0m0 2h0m0 52h0m0 16h0m0-109h0m0 116h0m0 76h0m1-43h0m0-94h0m0 77h0m0 25h0m0-1h0m0-101h0m0-11h0m0 32h0m0 80h0m0-92h0m0-31h0m0 70h0m0-114h0m0 78h0m0 37h0m0-42h0m0-17h0m0 118h0m0-27h0m0 24h0m0-145h0m0 127h0m0-32h0m0-38h0m0 7h0m0 36h0m0-3h0m0-11h0m0 109h0m0-130h0m0 23h0m0 25h0m0-21h0m0-18h0m1-6h0m0 22h0m0 47h0m0-43h0m0 21h0m0-37h0m0 33h0m0-65h0m0 3h0m0 76h0m0-8h0m0-10h0m0-29h0m0-4h0m0 54h0m0-39h0m0-42h0m0 83h0m0-25h0m0 21h0m0-86h0m0 37h0m0-37h0m0 46h0m0-30h0m0 22h0m0 25h0m0 10h0m1 23h0m0-42h0m0-14h0m0-23h0m0-6h0m0-11h0m0 61h0m0-11h0m0 35h0m0-3h0m0-124h0m0 68h0m0 62h0m0-121h0m0 122h0m0-92h0m0 24h0m0-2h0m0 15h0m0-55h0m0 64h0m0-89h0m0 89h0m0-23h0m0-46h0m0 80h0m0-75h0m0 83h0m0 23h0m0-64h0m0 50h0m0 11h0m0-37h0m0 35h0m1-63h0m0-27h0m0-5h0m0 39h0m0 150h0m0-211h0m0 29h0m0 25h0m0-69h0m0 77h0m0 46h0m0 13h0m0-64h0m0 18h0m0-15h0m0 27h0m0-34h0m0 6h0m0 20h0m0-2h0m0-25h0m0-3h0m0-43h0m0 73h0m0 24h0m0-75h0m0 85h0m0-32h0m1-89h0m0 5h0m0 164h0m0-117h0m0 43h0m0-114h0m0 151h0m0-30h0m0 13h0m0 17h0m0-106h0m0 120h0m0-28h0m0-14h0m0-16h0m0-51h0m0 53h0m0 11h0m0 39h0m0-13h0m0 11h0m0 16h0m0-134h0m0 93h0m0-127h0m0 93h0m0 11h0m0 40h0m0 17h0m0-77h0m1 98h0m0-20h0m0-49h0m0-49h0m0-62h0m0 55h0m0 22h0m0-12h0m0-9h0m0 55h0m0-56h0m0 31h0m0-11h0m0-57h0m0 28h0m0 176h0m0-152h0m0 37h0m0 30h0m0-68h0m0 80h0m0-25h0m0-61h0m0 46h0m0-28h0m0 19h0m0 1h0m0-15h0m0-2h0m0-11h0m0-61h0m0 15h0m0 54h0m0 56h0m0 7h0m1-86h0m0 100h0m0-25h0m0-101h0m0 59h0m0 68h0m0-105h0m0 34h0m0 8h0m0 29h0m0-86h0m0-38h0m0 63h0m0 65h0m0-73h0m0 4h0m0 154h0m0-165h0m0-54h0m0 92h0m0-15h0m0 28h0m0 44h0m0-21h0m0 1h0m0 12h0m0-58h0m0 16h0m0 45h0m0-97h0m1 65h0m0-2h0m0-65h0m0 75h0m0-30h0m0-68h0m0 83h0m0-71h0m0 83h0m0 19h0m0-84h0m0 47h0m0 42h0m0-52h0m0 51h0m0-34h0m0 0h0m0 34h0m0-32h0m0-66h0m0 120h0m0-139h0m0 51h0m0 17h0m0-40h0m0 38h0m0 29h0m0-50h0m0 33h0m0-35h0m0 96h0m0-95h0m0 36h0m0-65h0m0 39h0m0-45h0m1 54h0m0 11h0m0 38h0m0 48h0m0-85h0m0 53h0m0-67h0m0-8h0m0 153h0m0-14h0m0-48h0m0-128h0m0 4h0m0 129h0m0-4h0m0-26h0m0-22h0m0-43h0m0 10h0m0 37h0m0-45h0m0 45h0m0-46h0m1 40h0m0-61h0m0 76h0m0-75h0m0 4h0m0 39h0m0-21h0m0-77h0m0 115h0m0-22h0m0 50h0m1 15h0m0 29h0m1 174h0m0-15h0m0 39h0m0-69h0m0 18h0m0 29h0m0 0h0m0-30h0m0 14h0m1-37h0m0 34h0m0 26h0m0-102h0m0 109h0m0-42h0m0 58h0m0 58h0m0-64h0m0 28h0m0-52h0m0 118h0m0-124h0m0-45h0m0 33h0m0 12h0m0 43h0m0-3h0m0-49h0m0-51h0m0 80h0m1 66h0m0-110h0m0 84h0m0-103h0m0 61h0m0-36h0m0 90h0m0-56h0m0 18h0m0-6h0m0-57h0m0 25h0m0-26h0m0 106h0m0-79h0m0 28h0m0-17h0m0-35h0m0-15h0m0-11h0m0 46h0m0-72h0m0 92h0m0-69h0m0 127h0m0-109h0m0 115h0m1-93h0m0-3h0m0 45h0m0-64h0m0 68h0m0-76h0m0 81h0m0 93h0m0-135h0m0 61h0m0-70h0m0 60h0m0-110h0m0 89h0m0-69h0m0 142h0m0-82h0m0-75h0m0 82h0m0-58h0m0 25h0m0 5h0m0-40h0m0 9h0m0 52h0m0 26h0m0-95h0m0 64h0m0-7h0m0 45h0m0-105h0m0 67h0m0-37h0m1 43h0m0-34h0m0-32h0m0 151h0m0-135h0m0 92h0m0-80h0m0-42h0m0-18h0m0 131h0m0-52h0m0-16h0m0 29h0m0 33h0m0-27h0m0 52h0m0-76h0m0-27h0m0 116h0m0-148h0m0 78h0m0-19h0m0 1h0m0 74h0m0-49h0m0 13h0m0 11h0m0-62h0m0 19h0m0 8h0m0 32h0m0-24h0m1-8h0m0 20h0m0-8h0m0-6h0m0 14h0m0 13h0m0-20h0m0 44h0m0-113h0m0 39h0m0 86h0m0-110h0m0 93h0m0-136h0m0 118h0m0-85h0m0 24h0m0 28h0m0-77h0m0 65h0m0 25h0m0-53h0m0 83h0m0 43h0m0-123h0m0 40h0m1-23h0m0-7h0m0 24h0m0-33h0m0-58h0m0 76h0m0 35h0m0 8h0m0 12h0m0 3h0m0-20h0m0-44h0m0 33h0m0 17h0m0-75h0m0 46h0m0-24h0m0 86h0m0-44h0m0-42h0m0-14h0m0-52h0m0 109h0m0-25h0m0 29h0m0-20h0m0-48h0m0 96h0m1 9h0m0-44h0m0 53h0m0 40h0m0-42h0m0-52h0m0 6h0m0-5h0m0-65h0m0 82h0m0 42h0m0-48h0m0 35h0m0-73h0m0 47h0m0-33h0m0 20h0m0-60h0m0 70h0m0 8h0m0-105h0m0 96h0m0 37h0m0-34h0m0-52h0m0 30h0m1-17h0m0-1h0m0 56h0m0-70h0m0 25h0m0-16h0m0-67h0m0-5h0m0 97h0m0-10h0m0 17h0m0 18h0m0 44h0m0-97h0m0 35h0m0 47h0m0-101h0m0 34h0m0 0h0m0-71h0m0 31h0m0 91h0m0-44h0m0-45h0m0 76h0m0-70h0m0 52h0m0 32h0m0-58h0m0 3h0m0-7h0m0-36h0m0 69h0m0 32h0m1-124h0m0 70h0m0 47h0m0-48h0m0 93h0m0-131h0m0 11h0m0 64h0m0-31h0m0 49h0m0-39h0m0 37h0m0-78h0m0 67h0m0-93h0m0 39h0m0 108h0m0-87h0m0-38h0m0-6h0m0-36h0m0 26h0m0 96h0m0-100h0m0 97h0m0-87h0m0 43h0m0-30h0m0 27h0m0-18h0m0 67h0m0 19h0m0-142h0m1 26h0m0 103h0m0-111h0m0 73h0m0-40h0m0-11h0m0 0h0m0 7h0m0-38h0m0 22h0m0 45h0m0-76h0m0 112h0m0-32h0m0-7h0m0 68h0m0-122h0m0 28h0m0-19h0m0 40h0m0-25h0m0 12h0m0 48h0m0 4h0m0 5h0m0-88h0m0 97h0m0 4h0m0-16h0m0 27h0m0-57h0m1 22h0m0-45h0m0 13h0m0-74h0m0 56h0m0 87h0m0-202h0m0 100h0m0 58h0m0 50h0m0-156h0m0 63h0m0-12h0m0-5h0m0 42h0m0 32h0m0-43h0m0 39h0m0-27h0m0 28h0m0-25h0m0 14h0m0 43h0m0-17h0m0-67h0m0-18h0m0 57h0m0-43h0m0 41h0m0-30h0m0-20h0m1 57h0m0-27h0m0 2h0m0-9h0m0 46h0m0-102h0m0 25h0m0 96h0m0-25h0m0 13h0m0-73h0m0 40h0m0 37h0m0-64h0m0-26h0m0 51h0m0-13h0m0-1h0m0 23h0m0-89h0m0 24h0m0 31h0m0 49h0m0-107h0m0 22h0m0 56h0m0 1h0m0 5h0m0-20h0m0 2h0m0-22h0m0 59h0m0-96h0m0 22h0m0-49h0m1-16h0m0 91h0m0 26h0m0-35h0m0 93h0m0-122h0m0 61h0m0 62h0m0-92h0m0 1h0m0-82h0m0 193h0m0-41h0m0-70h0m0 66h0m0 48h0m0-111h0m0-17h0m0 32h0m0-13h0m0 20h0m0 4h0m0 17h0m0 66h0m0-33h0m0-44h0m0-7h0m1-20h0m0-6h0m0 48h0m0 1h0m0-71h0m0 153h0m0-6h0m0-53h0m0 28h0m0-31h0m0 24h0m0-85h0m0 0h0m0 2h0m0-23h0m0 61h0m0-13h0m0 13h0m0-1h0m0-90h0m0 30h0m0 31h0m0-16h0m0 118h0m0-82h0m0-61h0m0 90h0m0-19h0m0-25h0m0 89h0m0-112h0m0 69h0m0-82h0m1 7h0m0-10h0m0 28h0m0-37h0m0 59h0m0-40h0m0 64h0m0-100h0m0 69h0m0-6h0m0 33h0m0 3h0m0-100h0m0 112h0m0-49h0m0-31h0m0 38h0m0 1h0m0-18h0m0-1h0m0-4h0m0 54h0m0-22h0m0-40h0m0 43h0m0 69h0m0-136h0m0 47h0m0-1h0m0 16h0m0-31h0m0 49h0m0-57h0m0-24h0m1 95h0m0-51h0m0 0h0m0-27h0m0 65h0m0 20h0m0-69h0m0 90h0m0-104h0m0 56h0m0-21h0m0-76h0m0 101h0m0-30h0m0-40h0m0 77h0m0-51h0m0 48h0m0-44h0m0-24h0m0 39h0m0-22h0m0 67h0m0-75h0m0 31h0m0-12h0m1 80h0m0-66h0m0-4h0m0-73h0m0 105h0m0-93h0m0 52h0m0-21h0m0 47h0m0-109h0m0 112h0m0-30h0m0-47h0m0 0h0m0 120h0m0-70h0m0 47h0m0-29h0m0-61h0m0 95h0m0-7h0m0-78h0m0 41h0m0 59h0m0-140h0m0 71h0m0 5h0m0-49h0m0 59h0m0-58h0m0 62h0m0 9h0m0-65h0m0 6h0m0 98h0m0-14h0m0-49h0m0 38h0m0-42h0m1-92h0m0 112h0m0-67h0m0 120h0m0-84h0m0-26h0m0 119h0m0-90h0m0-19h0m0 67h0m0-84h0m0 153h0m0-96h0m0-63h0m0 29h0m0 32h0m0 7h0m0-14h0m0-7h0m0 39h0m0-32h0m0-35h0m0 117h0m0-23h0m0-3h0m0-36h0m0 47h0m0-56h0m0 8h0m0 34h0m0-41h0m1-11h0m0-54h0m0 10h0m0 1h0m0 116h0m0-37h0m0-64h0m0 94h0m0-24h0m0-45h0m0 86h0m0-83h0m0 38h0m0-53h0m0 112h0m0-40h0m0-74h0m0 31h0m0-3h0m0-15h0m0-58h0m0 7h0m0 93h0m0 20h0m0-52h0m0-38h0m0 12h0m0 36h0m0 57h0m0-66h0m0 3h0m0-21h0m0-53h0m0 90h0m1-48h0m0 40h0m0-66h0m0 101h0m0-97h0m0 23h0m0 19h0m0 3h0m0-3h0m0-24h0m0 58h0m0-117h0m0 10h0m0 22h0m0 89h0m0-25h0m0 19h0m0-51h0m0 67h0m0-49h0m0-70h0m0 89h0m0-42h0m0 18h0m0 35h0m0 62h0m0-25h0m0-44h0m1-62h0m0 21h0m0 3h0m0 60h0m0-37h0m0-53h0m0 46h0m0 14h0m0 4h0m0 43h0m0-60h0m0 34h0m0-23h0m0-13h0m0 31h0m0-41h0m0 32h0m0-94h0m0 88h0m0 45h0m0-32h0m0 39h0m0-13h0m0-38h0m0 39h0m0 28h0m0-110h0m0 40h0m0-63h0m0-11h0m0 89h0m0-28h0m0-64h0m0 29h0m0 61h0m0-13h0m0 39h0m0-76h0m0 25h0m0-19h0m1 137h0m0-156h0m0 115h0m0-32h0m0 2h0m0 5h0m0-20h0m0-1h0m0-22h0m0 25h0m0 49h0m0-31h0m0-91h0m0 48h0m0-30h0m0 71h0m0-138h0m0 52h0m0 15h0m0-14h0m0 75h0m0-59h0m0-10h0m0-39h0m0 84h0m0-17h0m0 58h0m0-74h0m0 11h0m0 62h0m0-36h0m0-38h0m0 64h0m0-6h0m0-80h0m0 31h0m0 23h0m0-50h0m0 115h0m0-104h0m0-30h0m1 26h0m0 45h0m0 3h0m0-115h0m0 113h0m0-69h0m0 34h0m0 56h0m0-73h0m0 65h0m0 18h0m0-135h0m0 84h0m0-62h0m0 76h0m0 59h0m0-107h0m0 16h0m0-17h0m0-17h0m0 80h0m0-12h0m1-26h0m0 1h0m0 57h0m0-84h0m0-8h0m0 59h0m0 18h0m0 34h0m0-130h0m0 44h0m0 52h0m0 52h0m0-56h0m0-12h0m0 18h0m0-104h0m0 68h0m0-70h0m0 117h0m0-47h0m0-61h0m0 49h0m0 37h0m0 13h0m0-31h0m0 26h0m0 34h0m0-11h0m0-80h0m0 37h0m0 2h0m0 4h0m0 40h0m0-16h0m0-14h0m0-53h0m1 48h0m0 16h0m0 2h0m0-51h0m0 12h0m0 16h0m0 3h0m0 61h0m0-4h0m0-94h0m0-8h0m0-1h0m0 45h0m0-39h0m0 102h0m0 49h0m0-213h0m0 94h0m0 41h0m0-50h0m0-69h0m0-30h0m0 92h0m0-31h0m0 28h0m0 2h0m0 25h0m0-41h0m0 64h0m0-65h0m0 38h0m0 1h0m0 3h0m1-71h0m0 52h0m0-24h0m0 24h0m0 36h0m0-28h0m0 10h0m0 46h0m0-112h0m0 37h0m0 24h0m0-22h0m0 24h0m0 46h0m0-121h0m0 28h0m0 67h0m0 18h0m0-71h0m0-3h0m0 57h0m0-9h0m0-42h0m0-14h0m0-24h0m0 108h0m0-69h0m0 52h0m0-27h0m0-50h0m1 62h0m0-52h0m0-15h0m0 71h0m0-60h0m0-50h0m0 133h0m0-57h0m0-23h0m0 16h0m0-8h0m0 81h0m0-64h0m0-2h0m0 42h0m0-42h0m0-39h0m0-47h0m0 98h0m0 28h0m0-58h0m0 36h0m0 43h0m0-27h0m0-47h0m0-60h0m0 112h0m0-78h0m0 50h0m0-2h0m0 35h0m0-95h0m0 34h0m1 50h0m0-4h0m0-2h0m0 44h0m0-86h0m0-5h0m0 75h0m0-49h0m0 73h0m0-37h0m0-34h0m0 50h0m0-71h0m0-23h0m0 18h0m0 108h0m0-188h0m0 69h0m0 30h0m0-35h0m0-5h0m0 90h0m0 53h0m0-125h0m0-17h0m0 22h0m0 65h0m0-68h0m0 65h0m1-9h0m0-84h0m0 91h0m0 0h0m0-7h0m0-75h0m0 44h0m0 27h0m0-14h0m0 39h0m0-99h0m0 46h0m0-37h0m0 80h0m0-93h0m0 25h0m0 84h0m0-72h0m0 13h0m0 14h0m1-10h0m0-36h0m0 53h0m0-13h0m0-35h0m0 65h0m0-15h0m0-47h0m0-49h0m0 37h0m0-8h0m0 22h0m0 74h0m0 44h0m0-104h0m0 25h0m0-7h0m0-40h0m0 29h0m0-120h0m0 145h0m0-35h0m0 63h0m0-77h0m0 109h0m1-171h0m0 23h0m0 50h0m0 33h0m0-33h0m0 28h0m0-72h0m0 120h0m0 26h0m0-178h0m0 188h0m0-24h0m0-181h0m0 162h0m0-96h0m0 9h0m0 23h0m0 33h0m0 34h0m0-40h0m0 2h0m0-34h0m0 39h0m0 28h0m0-55h0m0 25h0m0-17h0m0-84h0m0 113h0m1-72h0m0 19h0m0-34h0m0 94h0m0 19h0m0 3h0m0-113h0m0-15h0m0 39h0m0 100h0m0-71h0m0-28h0m0 24h0m0-52h0m0 95h0m0-33h0m0-13h0m0 0h0m0-10h0m0 11h0m0 1h0m0 44h0m0-33h0m0-51h0m0 33h0m0 77h0m0-118h0m0 92h0m0-37h0m0 38h0m0-17h0m0-58h0m0 56h0m0-23h0m0-138h0m0 148h0m0 66h0m0-146h0m0 120h0m0-49h0m1 67h0m0-74h0m0 50h0m0-48h0m0-77h0m0-12h0m0 91h0m0-30h0m0-8h0m0 30h0m0-43h0m0 113h0m0-52h0m0-25h0m0 69h0m0-71h0m0-27h0m0 27h0m0-43h0m0 69h0m0-35h0m0 64h0m0 18h0m0-127h0m0 51h0m0-22h0m0-44h0m0 113h0m0-17h0m0-50h0m0 91h0m1-43h0m0-60h0m0 84h0m0 69h0m0-110h0m0 26h0m0 30h0m0-69h0m0 0h0m0 15h0m0-17h0m0 86h0m0 27h0m0 4h0m0-82h0m0 34h0m0-31h0m0-9h0m0-32h0m0 12h0m0-8h0m0 89h0m0-109h0m0 28h0m0 1h0m0-72h0m0 74h0m0-9h0m0 17h0m1 62h0m0 44h0m0-102h0m0 86h0m0-146h0m0 7h0m0 82h0m0 5h0m0-26h0m0 27h0m0-14h0m0-41h0m0 40h0m0 5h0m0-116h0m0 129h0m0-39h0m0 26h0m0-44h0m0 68h0m0-61h0m0 50h0m0-56h0m1 97h0m0-28h0m0-9h0m0-89h0m0 55h0m0 20h0m0 61h0m0-79h0m0 19h0m0-51h0m0 56h0m0-84h0m0 54h0m0-85h0m0 63h0m0-42h0m0 90h0m0-39h0m0-6h0m0-27h0m0 50h0m0-30h0m0 60h0m0-14h0m0-6h0m0-3h0m0 33h0m0-20h0m0-29h0m0 38h0m0-66h0m0 119h0m0-58h0m0-57h0m0-31h0m0 56h0m1-33h0m0-60h0m0 52h0m0 20h0m0 42h0m0-27h0m0 32h0m0-62h0m0 37h0m0 5h0m0 31h0m0-86h0m0 17h0m0 12h0m0 36h0m0-60h0m0 55h0m0-31h0m0-10h0m0 25h0m0 100h0m0-135h0m1 110h0m0-31h0m0 17h0m0-28h0m0-57h0m0 177h0m0-85h0m0-56h0m0-90h0m0 78h0m0 1h0m0 62h0m0-9h0m0-64h0m0-20h0m0-3h0m0 99h0m0-14h0m0-10h0m0-10h0m0-27h0m0 62h0m0-111h0m0 57h0m0 50h0m0-22h0m0-29h0m0 6h0m0-18h0m0 88h0m0-119h0m0 49h0m0-42h0m0 67h0m1 12h0m0-56h0m0-1h0m0 102h0m0-73h0m0-39h0m0 26h0m0-83h0m0 91h0m0-40h0m0-49h0m0 112h0m0-44h0m0-19h0m0 47h0m0-38h0m0 24h0m0-14h0m0 0h0m0-57h0m0 51h0m0 23h0m0-26h0m0 92h0m0 22h0m0-120h0m0 85h0m0-123h0m0 59h0m1-2h0m0-73h0m0 53h0m0 64h0m0-72h0m0 6h0m0-55h0m0 87h0m0-79h0m0 132h0m0-53h0m0-35h0m0 53h0m0 41h0m0-96h0m0-36h0m0 156h0m0-114h0m0-19h0m0 5h0m0 113h0m0-14h0m0-7h0m0-46h0m0 69h0m0-25h0m1-25h0m0-49h0m0-22h0m0 69h0m0-16h0m0 22h0m0-68h0m0-18h0m0 100h0m0-29h0m0-14h0m0-57h0m0 34h0m0-87h0m0 132h0m0-108h0m0 34h0m0 48h0m0-20h0m0 36h0m0-2h0m0-15h0m0 33h0m0 60h0m0-23h0m0-77h0m0-58h0m0 71h0m1-48h0m0 95h0m0-68h0m0 78h0m0-93h0m0-38h0m0 80h0m0 43h0m0-81h0m0 45h0m0-15h0m0-70h0m0 150h0m0-122h0m0 29h0m0 4h0m0 38h0m0-64h0m0 60h0m0-51h0m0 79h0m0-37h0m1-19h0m0 48h0m0-79h0m0 46h0m0 47h0m0-56h0m0-14h0m0 65h0m0-45h0m0 21h0m0-20h0m0-34h0m0-48h0m0 139h0m0-18h0m0 40h0m0-83h0m0-24h0m0 11h0m0-54h0m0 91h0m0-22h0m0-10h0m0 4h0m0-8h0m1-79h0m0 134h0m0-13h0m0-4h0m0-74h0m0 105h0m0-85h0m0 28h0m0 54h0m0 12h0m0-74h0m0 1h0m0 16h0m0 80h0m0-113h0m0 10h0m0-31h0m0 46h0m0 26h0m0-51h0m0 4h0m0 124h0m0-64h0m0 31h0m0-94h0m0 123h0m0-158h0m0 54h0m0 50h0m0-68h0m0 74h0m0-98h0m0 37h0m0-15h0m0 17h0m0 54h0m0-52h0m0-93h0m0 67h0m0 40h0m1 15h0m0-60h0m0 23h0m0-21h0m0 55h0m0-13h0m0-54h0m0 53h0m0-3h0m0 18h0m0-58h0m0 13h0m0 17h0m0-15h0m0-46h0m0 98h0m0-6h0m0-31h0m0-25h0m0 76h0m0 45h0m0-49h0m0-136h0m0 98h0m0-4h0m0-49h0m0 10h0m0 38h0m0 39h0m0 30h0m0-61h0m0-11h0m1 30h0m0-3h0m0 33h0m0-61h0m0-66h0m0 88h0m0 11h0m0-16h0m0-17h0m0-43h0m0 42h0m0-27h0m0 48h0m0-50h0m0 70h0m0 17h0m0-49h0m0-70h0m0 54h0m0 25h0m0-15h0m0 31h0m0 45h0m0-95h0m0 88h0m0-73h0m0-22h0m0-35h0m0 111h0m0-30h0m0 17h0m0-6h0m0-69h0m1 91h0m0-126h0m0 4h0m0 116h0m0-33h0m0-87h0m0 143h0m0-54h0m0-61h0m0 14h0m0 25h0m0 6h0m0 46h0m0-103h0m0 25h0m0 63h0m0-66h0m0 4h0m0 25h0m0-28h0m0 64h0m0-2h0m0-50h0m0 79h0m0 18h0m0-60h0m0-40h0m0 46h0m0-29h0m1 25h0m0-16h0m0 8h0m0-92h0m0 53h0m0 68h0m0-56h0m0 38h0m0-5h0m0 49h0m0-25h0m0-19h0m0 10h0m0-76h0m0 77h0m0-42h0m0-21h0m0 7h0m0 39h0m0 6h0m0-64h0m0 24h0m0 49h0m0-38h0m0 32h0m1 2h0m0-51h0m0 1h0m0-11h0m0 35h0m0-28h0m0 99h0m0-134h0m0 43h0m0 30h0m0-9h0m0-17h0m0 1h0m0-41h0m0 55h0m0-32h0m0-30h0m0 14h0m0 28h0m0 22h0m0 75h0m0-97h0m0 100h0m0-102h0m0 21h0m0 6h0m0 44h0m0-69h0m0-27h0m0-24h0m1-56h0m0 87h0m0 12h0m0 10h0m0-12h0m0-29h0m0 31h0m0 127h0m0-125h0m0 7h0m0 22h0m0-61h0m0 4h0m0 40h0m0 16h0m0-44h0m0 84h0m0-74h0m0 67h0m0-8h0m0-59h0m0 15h0m0 23h0m0-28h0m0 17h0m0 74h0m0-99h0m0 58h0m0-47h0m0 64h0m0-54h0m0-63h0m0 71h0m0 71h0m0 45h0m0-70h0m0-58h0m0-25h0m0 68h0m0-49h0m0 31h0m1 41h0m0-147h0m0 96h0m0-224h0m0 245h0m0-60h0m0-28h0m0 41h0m0 16h0m0 43h0m0 50h0m0 26h0m1-322h0m0 119h0m1-133h0m0-113h0m1 145h0m0-108h0m0-31h0m0 105h0m0-115h0m0 76h0m0 38h0m0-20h0m0-1h0m0-21h0m0 38h0m0-57h0m0-82h0m0 148h0m0-25h0m0-29h0m0-5h0m0 16h0m0-1h0m0-8h0m0 32h0m0-9h0m0-52h0m0 79h0m0-16h0m0-36h0m0 38h0m0-10h0m0-32h0m0 22h0m0-28h0m0-9h0m0 47h0m1 25h0m0-35h0m0-28h0m0 83h0m0-74h0m0-30h0m0 44h0m0-10h0m0-60h0m0 71h0m0 24h0m0-41h0m0-31h0m0 16h0m0-68h0m0 7h0m0 116h0m0-15h0m0 16h0m0-65h0m0 20h0m0-57h0m0 50h0m0 12h0m0-25h0m0 18h0m0-4h0m0-8h0m1-6h0m0 0h0m0 71h0m0 16h0m0-122h0m0 84h0m0 10h0m0-59h0m0-23h0m0 88h0m0-8h0m0 19h0m0-5h0m0 16h0m0-70h0m0 50h0m0-2h0m0-78h0m0 21h0m0 7h0m0 24h0m0-29h0m0 58h0m0-15h0m0-47h0m0 47h0m0 7h0m0 24h0m0-46h0m0 54h0m0-81h0m1 97h0m0-82h0m0 20h0m0 41h0m0-79h0m0-18h0m0-19h0m0 57h0m0 16h0m0 19h0m0-47h0m0 4h0m0 65h0m0-71h0m0-58h0m0 104h0m0 40h0m0-64h0m0 2h0m0 34h0m0-68h0m0 30h0m0 31h0m0-86h0m1 106h0m0 62h0m0-83h0m0-36h0m0-13h0m0-26h0m0 99h0m0 33h0m0-58h0m0-3h0m0-11h0m0-31h0m0-28h0m0 50h0m0 90h0m0-129h0m0 56h0m0 9h0m0-47h0m0 25h0m0-114h0m0 137h0m0-59h0m0 37h0m0-67h0m0-5h0m0 78h0m1-63h0m0 72h0m0-132h0m0 133h0m0 12h0m0 4h0m0-42h0m0-57h0m0 135h0m0-9h0m0-75h0m0 1h0m0-13h0m0-11h0m0-33h0m0 110h0m0 73h0m0-111h0m0-28h0m0 93h0m0-103h0m0 36h0m0-3h0m0 21h0m0-15h0m0 69h0m0-101h0m0 30h0m0-7h0m1 5h0m0-99h0m0 15h0m0 79h0m0 10h0m0-61h0m0 48h0m0 11h0m0-2h0m0-73h0m0 138h0m0-25h0m0 45h0m0-70h0m0-33h0m0 75h0m0-76h0m0-40h0m0-61h0m0 147h0m0-53h0m0 33h0m0-14h0m0 11h0m0 20h0m1-14h0m0-52h0m0 41h0m0 105h0m0-129h0m0 30h0m0-9h0m0 88h0m0-98h0m0-58h0m0 76h0m0-34h0m0-43h0m0 123h0m0-60h0m0 3h0m0 0h0m0-10h0m0 3h0m0 47h0m0 20h0m0-106h0m0 28h0m0-13h0m0-23h0m0 116h0m1-97h0m0 5h0m0 45h0m0-5h0m0 8h0m0 65h0m0-85h0m0 24h0m0-34h0m0-82h0m0 100h0m0 14h0m0 74h0m0-7h0m0-99h0m0 47h0m0-7h0m0-26h0m0 61h0m0-1h0m0-45h0m0-46h0m0 16h0m0 26h0m0-23h0m0-37h0m0 15h0m0 76h0m0-35h0m0 67h0m0-119h0m0 10h0m0-71h0m1 156h0m0 30h0m0-10h0m0-74h0m0-37h0m0 147h0m0-148h0m0 20h0m0 104h0m0-46h0m0-43h0m0-3h0m0 8h0m0 16h0m0 9h0m0-29h0m0 7h0m0-125h0m0 173h0m0-60h0m1-47h0m0 115h0m0-7h0m0 2h0m0-82h0m0 83h0m0-26h0m0 0h0m0 77h0m0-152h0m0 8h0m0-31h0m0 34h0m0 29h0m0-69h0m0 83h0m0 23h0m0 10h0m0-91h0m0 60h0m0 42h0m0-47h0m0-33h0m0 62h0m0-93h0m0-7h0m0 50h0m0 30h0m0-25h0m0 7h0m0 22h0m1 51h0m0-133h0m0 90h0m0 8h0m0-22h0m0-41h0m0 43h0m0-15h0m0 16h0m0-9h0m0 58h0m0-17h0m0-68h0m0 44h0m0 23h0m0 31h0m0-35h0m0 105h0m0-112h0m0 33h0m0-33h0m0-49h0m0-25h0m0-41h0m0 43h0m0 98h0m0-55h0m0-68h0m0 134h0m0-111h0m0 35h0m0 51h0m1-76h0m0-62h0m0 118h0m0-21h0m0-29h0m0 56h0m0-44h0m0 24h0m0-44h0m0 42h0m0-15h0m0-21h0m0 25h0m0 18h0m0 3h0m0-34h0m0 4h0m0-7h0m0 93h0m0-64h0m0-30h0m0 24h0m0 46h0m0-61h0m0 65h0m0-26h0m0-122h0m0 126h0m0 49h0m0-46h0m0 58h0m1-59h0m0-168h0m0 174h0m0 43h0m0-122h0m0 23h0m0 33h0m0 13h0m0-112h0m0 66h0m0-56h0m0 99h0m0-109h0m0 60h0m0 15h0m0-1h0m0 16h0m0 94h0m0-170h0m0 79h0m0-55h0m0 0h0m0 73h0m0-89h0m0 112h0m0-70h0m0 17h0m0-29h0m1 21h0m0-25h0m0 27h0m0-21h0m0 69h0m0-108h0m0 50h0m0 17h0m0 50h0m0-84h0m0 45h0m0-56h0m0-31h0m0 120h0m0 55h0m0-150h0m0 105h0m0-72h0m0 27h0m0-60h0m0 52h0m0-20h0m0 64h0m0-119h0m0 113h0m0-80h0m0 24h0m0 17h0m0 30h0m0 82h0m0-46h0m0-50h0m0 18h0m1 27h0m0-65h0m0 28h0m0 62h0m0-113h0m0-26h0m0 61h0m0-38h0m0 77h0m0-41h0m0 2h0m0 31h0m0-18h0m0 1h0m0-53h0m0 67h0m0-12h0m0 95h0m0-132h0m0 65h0m0-26h0m0-25h0m0-13h0m0 61h0m0-2h0m0-105h0m0 93h0m0-88h0m0 74h0m0-45h0m0-39h0m0 75h0m0 82h0m1-68h0m0-1h0m0 1h0m0-1h0m0-52h0m0-2h0m0 51h0m0 24h0m0 54h0m0-54h0m0-64h0m0-29h0m0 13h0m0 11h0m0 40h0m0-52h0m0 50h0m0-80h0m0 96h0m0-85h0m0 81h0m0 41h0m0-90h0m0 91h0m0-50h0m0 53h0m0-82h0m0 86h0m0-67h0m0 34h0m0-13h0m0-11h0m0-57h0m1 57h0m0-48h0m0-8h0m0-54h0m0 146h0m0-96h0m0 88h0m0 19h0m0 12h0m0-75h0m0 16h0m0-25h0m0-4h0m0 4h0m0-47h0m0 84h0m0-41h0m0 78h0m0-48h0m0-94h0m0 68h0m0 94h0m0-66h0m0-10h0m0 76h0m0-65h0m0-34h0m0 81h0m0-76h0m0 6h0m0 50h0m0-69h0m0 43h0m0-45h0m1 58h0m0-31h0m0 43h0m0-74h0m0-1h0m0 20h0m0-20h0m0 15h0m0 41h0m0 99h0m0-140h0m0 67h0m0-40h0m0 19h0m0 2h0m0-35h0m0-8h0m0 45h0m0 27h0m0-40h0m0-25h0m0-12h0m1 23h0m0 23h0m0-34h0m0-33h0m0 60h0m0-25h0m0-12h0m0 17h0m0 6h0m0-55h0m0 117h0m0-106h0m0 48h0m0-48h0m0 110h0m0-72h0m0 6h0m0-26h0m0 49h0m1-18h0m0-59h0m0 48h0m0 10h0m0 4h0m0-25h0m0-2h0m0-38h0m0 71h0m0-16h0m0-12h0m0 68h0m0-76h0m0 73h0m0-49h0m0-7h0m0-27h0m0-4h0m0 42h0m0-51h0m0 34h0m0 39h0m0-42h0m0-10h0m0 45h0m0 91h0m0-78h0m0-78h0m0 66h0m0 49h0m0-82h0m1-60h0m0 129h0m0-12h0m0-131h0m0 37h0m0-61h0m0 171h0m0-57h0m0-68h0m0 13h0m0 135h0m0-78h0m0 0h0m0 38h0m0-16h0m0-92h0m0 150h0m0-46h0m0-10h0m0-150h0m0 97h0m0 24h0m0 59h0m0-90h0m0 77h0m1-92h0m0-18h0m0 110h0m0-124h0m0 12h0m0 95h0m0 46h0m0-152h0m0 59h0m0 92h0m0-137h0m0 12h0m0 37h0m0-52h0m0 80h0m0-61h0m0 52h0m0-31h0m0 9h0m0-24h0m0 3h0m0 29h0m0-14h0m0 5h0m0-32h0m0 57h0m0 30h0m0-36h0m0-144h0m0 139h0m0 5h0m0-147h0m0 95h0m0-9h0m0 104h0m0-95h0m1 94h0m0-110h0m0-1h0m0 47h0m0-62h0m0 89h0m0-5h0m0-55h0m0 114h0m0-60h0m0-28h0m0-28h0m0-14h0m0 42h0m0 30h0m0-67h0m0 55h0m0-40h0m0-25h0m0 72h0m0 7h0m0 32h0m0-45h0m0-34h0m0 97h0m0-85h0m0 65h0m1-50h0m0 81h0m0-108h0m0 57h0m0-45h0m0-48h0m0 17h0m0 1h0m0 40h0m0-12h0m0 60h0m0-12h0m0-54h0m0 1h0m0 71h0m0-27h0m0-50h0m0-34h0m0 119h0m0-10h0m0 35h0m0-19h0m0-28h0m0-17h0m0-25h0m0-52h0m0 34h0m0 28h0m0 36h0m0-61h0m0 46h0m1-55h0m0 52h0m0-1h0m0 32h0m0-30h0m0 22h0m0-115h0m0 87h0m0 67h0m0-160h0m0 49h0m0-37h0m0 89h0m0-41h0m0 55h0m0-74h0m0-39h0m0 110h0m0-26h0m1-17h0m0 4h0m0-24h0m0 20h0m0 39h0m0 26h0m0-112h0m0 165h0m0-142h0m0-12h0m0 76h0m0-51h0m0 99h0m0-54h0m0-37h0m0 31h0m0 59h0m0-105h0m0 97h0m0-54h0m0 11h0m0-4h0m0-22h0m0 15h0m0-2h0m0 18h0m0-66h0m0 14h0m1 28h0m0 23h0m0-22h0m0 46h0m0-86h0m0 156h0m0-144h0m0-61h0m0 153h0m0-97h0m0 0h0m0 6h0m0 49h0m0-17h0m0-56h0m0 19h0m0 40h0m0 24h0m0-27h0m0-40h0m0-7h0m0-75h0m0 28h0m0 57h0m0 19h0m0-88h0m1 79h0m0 15h0m0 72h0m0-107h0m0 52h0m0-30h0m0 44h0m0-89h0m0 73h0m0-7h0m0 9h0m0-105h0m0 131h0m0-6h0m0 26h0m0-137h0m0 72h0m0-5h0m0-27h0m0-7h0m0-13h0m0-20h0m0 127h0m0-16h0m0-49h0m0-2h0m0 6h0m0-26h0m0-79h0m0 76h0m0 10h0m0 48h0m0-77h0m1 51h0m0 25h0m0-23h0m0-47h0m0 14h0m0 68h0m0-17h0m0-120h0m0 113h0m0-54h0m0 82h0m0-23h0m0-65h0m0 77h0m0-36h0m0-39h0m0 90h0m0 2h0m0-71h0m0 11h0m0-155h0m0 168h0m0 31h0m0-35h0m0-28h0m0 35h0m0-29h0m0 47h0m0-52h0m0 43h0m0-68h0m0 45h0m0 33h0m0 2h0m0 6h0m0 38h0m1-33h0m0-2h0m0 2h0m0 51h0m0-61h0m0-37h0m0 2h0m0 22h0m0-87h0m0 75h0m0-21h0m0 75h0m0 46h0m0-98h0m0-120h0m0 82h0m0 37h0m0-31h0m0 37h0m0 18h0m0-40h0m0 42h0m0 75h0m0-59h0m0-44h0m0 4h0m0 2h0m0-40h0m0 40h0m0 26h0m0-31h0m0 10h0m0-75h0m0 71h0m0-14h0m0-12h0m1 70h0m0-57h0m0-34h0m0 80h0m0-34h0m0-6h0m0 72h0m0-63h0m0 47h0m0-148h0m0 45h0m0-67h0m0 124h0m0-16h0m0-10h0m0 19h0m0 34h0m0-12h0m0-45h0m0 22h0m0-27h0m0 38h0m0-22h0m0 15h0m0 7h0m0 19h0m0-75h0m0 123h0m0-106h0m0-28h0m0 38h0m0 64h0m0-39h0m0 12h0m0-8h0m0 17h0m0 42h0m0-39h0m0-34h0m1 101h0m0-109h0m0 18h0m0-16h0m0 10h0m0-17h0m0-12h0m0 58h0m0-7h0m0-113h0m0 77h0m0-26h0m0 14h0m0-6h0m0 31h0m0 28h0m0-38h0m0 4h0m0-13h0m0 58h0m0-82h0m0 161h0m0-107h0m0-36h0m0 42h0m0-27h0m0 46h0m0-66h0m1 63h0m0-71h0m0-11h0m0 78h0m0-37h0m0-47h0m0 36h0m0-27h0m0-54h0m0 18h0m0 28h0m0 54h0m0 19h0m0-33h0m0 55h0m0-30h0m0-16h0m0-28h0m0 16h0m0-32h0m0 50h0m0 9h0m0 81h0m0-213h0m0 205h0m0-100h0m0-14h0m0 23h0m0 57h0m0 30h0m0-11h0m0-97h0m0-29h0m0 0h0m0 39h0m0 39h0m0-65h0m0 37h0m1-41h0m0 78h0m0 0h0m0-45h0m0 55h0m0-65h0m0 63h0m0-60h0m0 0h0m0 59h0m0-28h0m0 48h0m0-119h0m0 73h0m0-70h0m0 85h0m0-78h0m0-1h0m0 64h0m0-42h0m0-32h0m0 68h0m0-86h0m0 47h0m0 109h0m0-114h0m0 57h0m0 12h0m1 6h0m0-34h0m0-57h0m0 20h0m0-4h0m0 26h0m0-43h0m0 49h0m0-34h0m0-19h0m0 0h0m0 65h0m0 16h0m0-81h0m0 114h0m0-97h0m0 72h0m0-28h0m0-43h0m0 16h0m0-15h0m0 5h0m1 104h0m0-108h0m0 66h0m0-40h0m0-5h0m0-33h0m0 81h0m0-51h0m0 72h0m0 37h0m0-55h0m0-36h0m0 11h0m0 35h0m0-120h0m0 136h0m0-66h0m0-68h0m0 52h0m0 24h0m0 44h0m0-43h0m0 22h0m0-19h0m0-93h0m0 113h0m0-10h0m0-43h0m1-42h0m0 146h0m0-57h0m0-31h0m0 48h0m0-48h0m0-13h0m0-23h0m0 34h0m0 9h0m0 26h0m0-84h0m0 127h0m0-95h0m0 63h0m0-35h0m0 50h0m0-64h0m0 89h0m0-75h0m0-76h0m0 99h0m0 5h0m0-38h0m0 120h0m0-100h0m0 8h0m0 1h0m0 24h0m0-30h0m1 10h0m0-60h0m0-60h0m0 57h0m0 13h0m0 9h0m0-8h0m0-46h0m0 153h0m0-59h0m0 3h0m0-50h0m0 9h0m0-13h0m0 11h0m0 71h0m0-125h0m0 70h0m0-55h0m0 76h0m0-71h0m0-16h0m0 71h0m0 2h0m0 0h0m0 9h0m0-90h0m0 102h0m0-34h0m0 5h0m0-63h0m0 100h0m0 28h0m0 0h0m0-75h0m0-28h0m0 29h0m1 27h0m0 36h0m0-104h0m0 99h0m0-95h0m0 32h0m0-50h0m0-9h0m0 102h0m0 9h0m0-13h0m0-6h0m0-34h0m0 60h0m0 22h0m0-18h0m0-18h0m0 35h0m0-91h0m0 85h0m0-11h0m0 23h0m0 7h0m0-18h0m0-112h0m0 120h0m1-98h0m0 35h0m0-1h0m0 0h0m0-66h0m0 118h0m0-139h0m0 43h0m0 60h0m0-64h0m0 1h0m0 113h0m0-6h0m0-120h0m0 65h0m0-44h0m0-13h0m0 41h0m0 49h0m0 63h0m0-52h0m0-49h0m0-27h0m0 31h0m0-39h0m0 27h0m0-9h0m0 69h0m0-89h0m0-32h0m0 68h0m0-8h0m1-26h0m0-8h0m0 16h0m0 50h0m0-31h0m0 14h0m0 29h0m0-48h0m0 37h0m0-80h0m0 56h0m0-80h0m0 105h0m0 17h0m0-53h0m0 17h0m0-34h0m0 61h0m0-38h0m0 10h0m0-3h0m0-49h0m0 38h0m0-95h0m0 125h0m1-50h0m0 59h0m0-16h0m0-14h0m0-19h0m0 51h0m0-50h0m0 30h0m0-7h0m0 2h0m0 31h0m0-14h0m0-11h0m0 56h0m0-64h0m0 16h0m0-51h0m0 96h0m0-93h0m0 84h0m0 12h0m0-124h0m0 27h0m0 52h0m0-13h0m1 16h0m0-126h0m0 85h0m0 4h0m0 52h0m0-57h0m0 18h0m0-45h0m0 54h0m0-70h0m0 131h0m0-75h0m0 11h0m0 13h0m0 20h0m0-113h0m0 165h0m0-72h0m0-13h0m0 64h0m0-6h0m0-3h0m0-77h0m0 55h0m0-13h0m0-35h0m0 59h0m1-38h0m0-63h0m0 27h0m0-4h0m0-3h0m0 23h0m0 16h0m0-7h0m0-4h0m0-8h0m0-8h0m0 86h0m0-81h0m0 151h0m0-106h0m0-53h0m0 22h0m0-3h0m0-24h0m0 14h0m0 11h0m0-6h0m0 33h0m0-27h0m0-76h0m0 124h0m0-118h0m0 96h0m0 37h0m0-106h0m1 22h0m0 47h0m0-17h0m0 1h0m0-17h0m0 13h0m0-33h0m0-28h0m0 79h0m0-82h0m0 62h0m0-43h0m0 9h0m0 33h0m0 5h0m0 107h0m0-132h0m0-17h0m0 26h0m0 13h0m0 72h0m0-99h0m0-20h0m0 56h0m0-61h0m0 2h0m0 66h0m0 83h0m0-107h0m1 63h0m0-39h0m0-81h0m0 27h0m0 29h0m0 62h0m0-5h0m0-74h0m0 4h0m0 62h0m0-51h0m0 29h0m0 71h0m0-63h0m0-78h0m0 15h0m0 45h0m0 20h0m0 77h0m0-105h0m0-24h0m0 34h0m0 19h0m0-40h0m0 84h0m0-58h0m0 10h0m0-61h0m0-24h0m0 48h0m0 1h0m0-13h0m1 40h0m0-48h0m0 87h0m0-88h0m0 1h0m0 28h0m0-33h0m0 16h0m0 26h0m0-24h0m0 8h0m0-40h0m0-6h0m0 46h0m0 25h0m0-20h0m0-14h0m0 86h0m0-33h0m0-63h0m0-12h0m0-6h0m0 48h0m0 11h0m0-45h0m0-2h0m0 14h0m0 38h0m0-76h0m0 108h0m0-31h0m0-47h0m1 39h0m0 45h0m0-91h0m0 168h0m0-243h0m0 155h0m0-29h0m0-35h0m0 50h0m0-69h0m0 97h0m0-11h0m0-3h0m0-83h0m0 73h0m0-78h0m0 42h0m0-1h0m0 41h0m0 13h0m1-70h0m0-9h0m0 51h0m0-19h0m0-6h0m0 37h0m0-46h0m0 2h0m0-1h0m0 25h0m0-18h0m0-17h0m0-48h0m0 54h0m0 54h0m0-42h0m0-22h0m0-15h0m0 32h0m0 61h0m0-50h0m0 5h0m0-64h0m0 53h0m0 57h0m0-39h0m0-25h0m0 36h0m0-61h0m0 60h0m1-38h0m0 33h0m0 6h0m0 51h0m0-133h0m0 31h0m0 34h0m0-24h0m0-45h0m0 109h0m0-2h0m0-107h0m0 94h0m0-22h0m0 65h0m0-154h0m0 73h0m0-12h0m0-41h0m0-1h0m0 144h0m0-21h0m0-95h0m0 62h0m0-64h0m0 65h0m0-19h0m1-37h0m0-17h0m0 40h0m0-7h0m0-15h0m0-42h0m0 44h0m0 51h0m0 36h0m0-136h0m0 57h0m0 85h0m0 11h0m0-49h0m0 13h0m0-32h0m0 2h0m0-73h0m0 44h0m0-42h0m0 69h0m0-85h0m1 10h0m0-47h0m0 122h0m0-65h0m0 36h0m0 80h0m0-121h0m0 119h0m0-105h0m0 33h0m0 52h0m0-54h0m0-67h0m0 107h0m0-53h0m0-33h0m0-1h0m0-68h0m0 155h0m0-36h0m0 39h0m0-37h0m0-22h0m0-9h0m0-44h0m0 110h0m0 9h0m0-71h0m0-24h0m0 109h0m0-151h0m0 24h0m0 38h0m0 13h0m0-21h0m0 52h0m0-45h0m0 41h0m1-62h0m0 100h0m0-65h0m0 70h0m0-67h0m0-16h0m0 6h0m0-21h0m0 28h0m0 36h0m0 19h0m0 47h0m0-110h0m0-18h0m0 5h0m0 41h0m0 25h0m0-91h0m0 66h0m0 19h0m0 44h0m0-143h0m0 80h0m0 37h0m0 8h0m0-48h0m0-24h0m0 42h0m0-23h0m0-7h0m0 84h0m0-73h0m0 32h0m1-68h0m0 114h0m0-152h0m0 33h0m0 107h0m0-55h0m0-40h0m0 65h0m0-50h0m0 13h0m0-14h0m0 44h0m0-77h0m0 37h0m0-9h0m0 32h0m0-11h0m0-34h0m0-49h0m0-38h0m0 82h0m0 109h0m0-128h0m0 33h0m0 63h0m0-34h0m0-44h0m0 17h0m1 68h0m0-11h0m0-28h0m0-7h0m0 19h0m0-50h0m0 94h0m0-101h0m0 42h0m0-32h0m0 69h0m0-25h0m0 25h0m0-34h0m0-31h0m0 43h0m0-40h0m0 49h0m0-34h0m0 36h0m0 26h0m0-31h0m0 80h0m0-75h0m0-127h0m0 132h0m0-12h0m0-59h0m0 92h0m0-59h0m1 55h0m0-66h0m0-19h0m0-27h0m0 92h0m0 41h0m0-24h0m0-40h0m0-7h0m0-20h0m0 69h0m0-101h0m0 30h0m0 53h0m0 47h0m0-142h0m0 91h0m0-28h0m0-4h0m0-22h0m0 14h0m0 74h0m0-4h0m0-84h0m0 38h0m0-57h0m0 28h0m1 14h0m0 20h0m0-10h0m0 54h0m0-80h0m0 39h0m0-24h0m0 66h0m0-37h0m0-22h0m0 32h0m0-84h0m0 73h0m0-31h0m0-40h0m0 20h0m0 38h0m0 11h0m0 9h0m0-2h0m0-47h0m0 40h0m1-72h0m0 3h0m0 22h0m0 100h0m0-65h0m0-37h0m0-10h0m0 52h0m0 65h0m0-154h0m0-28h0m0 99h0m0-14h0m0 25h0m0-41h0m0 58h0m0-45h0m0-20h0m0 34h0m0 39h0m0 101h0m0-50h0m0-48h0m0-59h0m0 71h0m0-19h0m0 21h0m0-124h0m0 33h0m1 65h0m0-110h0m0 104h0m0-44h0m0 55h0m0-11h0m0-57h0m0-32h0m0 79h0m0 29h0m0-97h0m0 116h0m0-24h0m0 73h0m0-132h0m0-16h0m0 46h0m0-11h0m0 46h0m0 6h0m0 23h0m0-52h0m0-76h0m0 67h0m0-72h0m0 24h0m0 73h0m0 93h0m0-98h0m0 1h0m1 11h0m0-84h0m0 50h0m0-34h0m0-21h0m0 21h0m0 33h0m0-37h0m0 34h0m0-28h0m0 37h0m0-35h0m0 85h0m0-8h0m0-60h0m0-20h0m0-33h0m0 99h0m0-24h0m0 19h0m0-32h0m0 59h0m0-35h0m0-27h0m0 26h0m0-39h0m0-28h0m0 66h0m0 78h0m0-83h0m0 99h0m0-170h0m0 91h0m1-20h0m0-9h0m0-2h0m0 62h0m0 8h0m0-46h0m0-120h0m0 137h0m0-55h0m0 68h0m0-42h0m0-56h0m0 64h0m0-104h0m0 60h0m0 21h0m0 14h0m0 13h0m0-59h0m0 27h0m0-1h0m0 29h0m0 54h0m0-101h0m0 7h0m0 58h0m1-94h0m0 61h0m0-35h0m0-47h0m0 27h0m0 32h0m0 31h0m0-48h0m0 103h0m0-98h0m0 4h0m0 88h0m0-82h0m0 31h0m0 50h0m0 15h0m0-26h0m0-18h0m0-90h0m0 54h0m0 65h0m0-92h0m0-20h0m0-1h0m0 85h0m0-33h0m0-25h0m0 29h0m0-11h0m0-24h0m1 18h0m0-16h0m0 27h0m0-43h0m0 30h0m0-45h0m0 137h0m0-128h0m0 71h0m0-94h0m0 142h0m0-146h0m0-5h0m0 17h0m0 163h0m0-179h0m0 138h0m0-100h0m0 127h0m0-192h0m0 92h0m0 32h0m0-29h0m0 39h0m0 4h0m0 17h0m0 10h0m0-49h0m0 49h0m0-17h0m0-22h0m0-65h0m0 82h0m1-55h0m0-12h0m0 44h0m0 28h0m0 78h0m0-109h0m0-14h0m0 17h0m0-27h0m0 50h0m0-109h0m0-9h0m0 62h0m0-30h0m0 98h0m0-87h0m0 95h0m0-92h0m0 23h0m0 0h0m0-4h0m0 147h0m0-79h0m0-19h0m0-13h0m0-60h0m0 34h0m0 122h0m0-85h0m0-56h0m0 52h0m1-50h0m0 79h0m0-35h0m0 11h0m0-107h0m0 64h0m0-45h0m0 48h0m0 48h0m0-43h0m0 17h0m0 36h0m0-91h0m0 40h0m0 54h0m0-18h0m0 5h0m0-17h0m0 10h0m0-30h0m0-24h0m0 11h0m0 46h0m0-58h0m0 25h0m1-7h0m0 33h0m0-11h0m0-19h0m0 24h0m0 75h0m0-53h0m0-25h0m0-88h0m0 48h0m0 19h0m0-32h0m0-42h0m0 81h0m0 29h0m0-68h0m0-15h0m0 36h0m0-40h0m0 59h0m0 59h0m0-100h0m0-14h0m0 47h0m0 35h0m0-84h0m0 38h0m0 9h0m0-20h0m0 66h0m1-90h0m0 17h0m0-42h0m0 81h0m0-44h0m0 24h0m0 12h0m0-32h0m0 1h0m0 30h0m0 43h0m0-57h0m0 55h0m0-83h0m0 25h0m0 95h0m0-81h0m0 37h0m0-43h0m0-21h0m0 55h0m0-16h0m0 47h0m0-61h0m0 22h0m0 42h0m0-24h0m0 29h0m0-100h0m1 71h0m0-61h0m0 85h0m0-10h0m0-21h0m0-37h0m0 15h0m0-7h0m0 37h0m0-100h0m0 26h0m0 38h0m0-93h0m0 180h0m0-62h0m0 32h0m0-65h0m0-3h0m0 3h0m0 73h0m0 14h0m0-69h0m0 32h0m0-54h0m0-64h0m0 66h0m0 79h0m0-63h0m0 24h0m0-107h0m0 70h0m0 23h0m0-17h0m0 1h0m0 64h0m0-35h0m0-124h0m0 156h0m0-67h0m1-42h0m0-29h0m0 41h0m0 25h0m0-11h0m0 38h0m0-33h0m0-11h0m0 52h0m0-27h0m0 45h0m0-136h0m0 73h0m0 52h0m0-45h0m0-27h0m0 38h0m0 122h0m0-123h0m0 9h0m0-55h0m0 99h0m0-74h0m0 70h0m0 3h0m0-35h0m0 36h0m0-19h0m1-30h0m0 17h0m0-7h0m0 20h0m0 41h0m0-96h0m0 73h0m0-3h0m0 14h0m0 23h0m0-53h0m0-94h0m0 35h0m0 17h0m0 54h0m0 43h0m0-171h0m0 141h0m0-68h0m0-47h0m0 64h0m0-7h0m0 76h0m0-79h0m0 54h0m0-94h0m0 77h0m0-76h0m0 44h0m0-15h0m0 90h0m0-104h0m0-3h0m0 11h0m0 97h0m0-37h0m0-50h0m0 16h0m0-5h0m0-5h0m1 23h0m0-69h0m0 35h0m0-6h0m0 31h0m0 16h0m0-91h0m0-26h0m0 87h0m0 11h0m0 0h0m0 13h0m0-41h0m0 19h0m0 54h0m0-165h0m0 118h0m0-42h0m0 24h0m0 66h0m0-2h0m0-38h0m0-13h0m0-6h0m0-6h0m0 4h0m0-23h0m0-43h0m1 34h0m0 16h0m0 49h0m0-84h0m0 40h0m0 36h0m0-50h0m0-8h0m0 34h0m0-56h0m0 2h0m0 105h0m0 39h0m0-18h0m0-129h0m0 152h0m0-49h0m0-4h0m0 21h0m0-43h0m0-29h0m0 11h0m0-14h0m0 6h0m0 1h0m1 29h0m0 24h0m0-45h0m0 17h0m0-8h0m0 62h0m0 57h0m0-205h0m0 53h0m0 22h0m0-55h0m0 77h0m0-39h0m0 51h0m0-27h0m0-18h0m0 120h0m0-187h0m0 141h0m0-34h0m0-21h0m0-44h0m0-4h0m0 58h0m0-31h0m1 49h0m0 33h0m0-79h0m0-75h0m0 72h0m0 79h0m0-50h0m0 28h0m0-48h0m0 75h0m0-62h0m0 40h0m0-76h0m0 4h0m0 126h0m0-67h0m0-12h0m0 14h0m0-53h0m0-27h0m0 8h0m0 24h0m0-41h0m0 41h0m0 53h0m0-32h0m0 36h0m0-48h0m0 8h0m0-52h0m0 50h0m0-23h0m0-2h0m0 76h0m0 4h0m1-71h0m0-22h0m0 57h0m0-33h0m0-69h0m0 83h0m0 19h0m0-54h0m0-27h0m0 34h0m0-9h0m0 34h0m0 13h0m0-63h0m0 38h0m0-12h0m0 1h0m0 63h0m0-77h0m0-30h0m0 16h0m0 69h0m0-51h0m0 97h0m0-106h0m1 13h0m0 119h0m0-95h0m0 32h0m0-57h0m0 76h0m0-124h0m0 62h0m0 8h0m0 3h0m0-1h0m0 22h0m0 29h0m0-99h0m0-1h0m0 18h0m0 94h0m0-44h0m0-98h0m0 152h0m0-64h0m0-74h0m0 150h0m0-53h0m0 1h0m0-83h0m0 70h0m0 4h0m0-44h0m0 94h0m0-66h0m0 3h0m0-130h0m0 141h0m0-23h0m0 1h0m0-23h0m0 86h0m0-18h0m1 1h0m0-49h0m0-19h0m0 19h0m0-19h0m0 31h0m0-50h0m0-17h0m0 66h0m0-20h0m0-6h0m0 107h0m0-70h0m0-76h0m0 111h0m0 48h0m0-73h0m0-34h0m0 50h0m0-86h0m0 97h0m0-66h0m0 32h0m0-16h0m0 44h0m0-97h0m0 5h0m0 52h0m0-51h0m0 33h0m0 89h0m1-138h0m0 39h0m0 36h0m0 99h0m0-114h0m0 9h0m0 40h0m0-19h0m0-25h0m0-50h0m0 52h0m0 7h0m0-31h0m0-58h0m0 38h0m0 120h0m0-128h0m0 35h0m0 22h0m0-34h0m0 86h0m0-115h0m0 75h0m0-16h0m0 37h0m0 26h0m0-71h0m0-15h0m0 54h0m0-31h0m0 43h0m1-84h0m0 3h0m0 108h0m0-46h0m0 22h0m0-44h0m0 19h0m0 8h0m0-84h0m0 84h0m0-30h0m0-5h0m0-39h0m0 57h0m0-8h0m0-7h0m0-37h0m0 87h0m0-62h0m0 6h0m0 35h0m0-27h0m0-1h0m0 9h0m0 90h0m0-55h0m0 88h0m0-32h0m0-125h0m0-4h0m0 24h0m0-25h0m1 33h0m0 26h0m0 56h0m0-96h0m0 60h0m0-52h0m0-1h0m0 60h0m0-93h0m0-21h0m0 48h0m0 60h0m0-29h0m0-26h0m0 6h0m0 46h0m0 32h0m0-36h0m0 49h0m0-62h0m0 68h0m0-39h0m0-83h0m1-32h0m0 71h0m0-69h0m0-31h0m0 71h0m0 92h0m0-25h0m0 17h0m0-113h0m0 49h0m0 1h0m0 9h0m0-25h0m0-41h0m0 40h0m0 89h0m0-118h0m0 42h0m0 24h0m0-21h0m0 24h0m0-50h0m0-43h0m0 75h0m0-33h0m0 21h0m0-7h0m0-33h0m0 15h0m0 15h0m0 68h0m0-126h0m1 57h0m0 63h0m0-96h0m0 23h0m0 36h0m0-55h0m0-42h0m0 111h0m0-72h0m0 73h0m0-14h0m0 23h0m0-46h0m0-32h0m0 132h0m0-220h0m0 129h0m0-55h0m0 35h0m0-17h0m0 80h0m0-157h0m0 96h0m0-22h0m0 45h0m0 46h0m0 27h0m0-107h0m0 17h0m0 86h0m1-161h0m0 107h0m0-7h0m0 74h0m0-156h0m0 23h0m0 70h0m0-50h0m0-54h0m0 63h0m0-58h0m0-12h0m0 109h0m0-21h0m0-20h0m0-13h0m0 4h0m0-6h0m0 1h0m0 57h0m0-26h0m0 53h0m0-72h0m0 45h0m0-62h0m0-10h0m0 57h0m0-21h0m0 7h0m0 66h0m0-86h0m0-10h0m0 20h0m0-95h0m0 79h0m0-33h0m0 81h0m1 32h0m0-78h0m0 107h0m0-30h0m0-114h0m0 98h0m0-6h0m0-36h0m0-29h0m0 7h0m0 76h0m0-12h0m0-90h0m0 97h0m0-45h0m0 52h0m0-15h0m0 38h0m0-23h0m0-9h0m0-71h0m0-18h0m0 64h0m0-71h0m0 90h0m0-55h0m0 36h0m0-51h0m0 37h0m0 33h0m0-66h0m0 57h0m0-13h0m0 37h0m0-113h0m1 32h0m0 70h0m0-1h0m0 54h0m0-45h0m0-63h0m0 22h0m0 72h0m0 11h0m0-109h0m0 74h0m0-3h0m0-16h0m0-33h0m0-84h0m0 129h0m0-38h0m0 1h0m0-3h0m0 17h0m0-66h0m0 37h0m1 11h0m0-14h0m0-117h0m0 133h0m0-58h0m0 4h0m0 65h0m0 31h0m0-95h0m0 24h0m0-20h0m0 73h0m0-109h0m0 40h0m0 62h0m0-108h0m0 183h0m0-70h0m0-46h0m0 39h0m0-2h0m0 120h0m0-128h0m0 24h0m0-34h0m0 2h0m0-26h0m0 57h0m0-29h0m0-18h0m0-43h0m1 25h0m0 28h0m0 13h0m0 30h0m0-80h0m0 38h0m0-28h0m0 73h0m0-43h0m0 84h0m0-43h0m0-46h0m0 59h0m0-170h0m0 121h0m0 29h0m0 0h0m0-49h0m0-2h0m0 32h0m0-24h0m0-5h0m0 3h0m0 59h0m0-14h0m0-142h0m0 95h0m0-4h0m0-8h0m0 67h0m0-82h0m0 30h0m1 18h0m0-37h0m0-32h0m0 65h0m0-61h0m0 21h0m0 32h0m0 10h0m0 0h0m0-25h0m0 117h0m0-141h0m0 96h0m0-127h0m0 57h0m0 33h0m0-96h0m0 123h0m0 2h0m1-14h0m0-19h0m0-6h0m0-1h0m0 12h0m0-107h0m0 61h0m0 1h0m0 68h0m0 28h0m0-84h0m0 54h0m0 77h0m0-96h0m0-9h0m0 86h0m0-170h0m0 125h0m0-13h0m0-41h0m0-84h0m0 99h0m0-10h0m0-32h0m1-10h0m0 79h0m0-88h0m0 90h0m0-77h0m0-44h0m0 78h0m0 29h0m0 44h0m0-145h0m0 148h0m0 12h0m0-84h0m0-2h0m0 58h0m0-59h0m0 61h0m0-109h0m0 8h0m0 19h0m0-75h0m0 85h0m0-20h0m0 80h0m0-6h0m0-62h0m0-44h0m0 23h0m1 107h0m0-73h0m0-34h0m0 102h0m0-59h0m0 23h0m0 48h0m0 11h0m0-138h0m0 70h0m0-23h0m0-48h0m0-9h0m0 103h0m0-66h0m0 6h0m0-35h0m0 90h0m0-33h0m0-44h0m0 102h0m0-74h0m0 10h0m0-87h0m0 89h0m1-14h0m0 8h0m0-17h0m0 39h0m0 16h0m0 20h0m0-26h0m0-12h0m0 92h0m0-80h0m0-45h0m0-25h0m0 26h0m0 31h0m0 40h0m0-77h0m0-25h0m0-17h0m0 32h0m0 63h0m0-21h0m0-22h0m0 109h0m0-127h0m1 11h0m0 22h0m0 3h0m0-24h0m0-14h0m0-40h0m0 106h0m0 27h0m0-91h0m0 35h0m0 38h0m0-13h0m0-24h0m0-43h0m0-27h0m0 39h0m0 1h0m0 14h0m0 16h0m0 32h0m0 18h0m0-48h0m0-68h0m0 142h0m0-55h0m0-64h0m0 78h0m0-14h0m0 23h0m0-19h0m0-7h0m1-92h0m0 65h0m0-17h0m0 33h0m0 65h0m0-105h0m0 60h0m0-41h0m0 32h0m0 50h0m0 0h0m0 0h0m0-88h0m0 66h0m0-37h0m0-80h0m0 124h0m0-45h0m0-16h0m0 71h0m0-19h0m0-25h0m0-11h0m0 48h0m0-39h0m0-26h0m0 29h0m0-9h0m0 38h0m1-72h0m0 66h0m0-86h0m0 48h0m0-4h0m0 32h0m0-41h0m0-60h0m0 26h0m0 36h0m0 49h0m0-18h0m0-11h0m0-135h0m0 229h0m0-105h0m0-40h0m0 33h0m0-140h0m0 163h0m0 26h0m0-83h0m0-1h0m0 8h0m0 49h0m0-15h0m0 0h0m0 32h0m0 22h0m0-19h0m0-39h0m0-33h0m0-50h0m1 96h0m0-66h0m0 64h0m0-36h0m0 46h0m0 53h0m0-77h0m0-57h0m0 35h0m0-53h0m0 101h0m0-71h0m0 38h0m0 93h0m0 9h0m0-95h0m0-40h0m0 78h0m0-16h0m0 23h0m0-42h0m0 27h0m0-64h0m0-5h0m0 36h0m0 22h0m0-20h0m0 42h0m0 6h0m0-50h0m0 95h0m1-7h0m0-113h0m0 101h0m0-28h0m0-31h0m0 32h0m0-87h0m0 78h0m0-86h0m0 62h0m0 43h0m0-39h0m0-29h0m0 66h0m0-68h0m0-14h0m0-50h0m0 115h0m0 64h0m0-75h0m0-12h0m0 102h0m0-126h0m0-13h0m0 91h0m0 36h0m0-142h0m0 56h0m0-45h0m0 83h0m0 4h0m0-57h0m0-32h0m0-46h0m0 18h0m0 92h0m0-16h0m1 4h0m0-49h0m0 25h0m0-10h0m0-57h0m0 46h0m0-45h0m0 88h0m0-43h0m0 48h0m0 13h0m0 18h0m0-73h0m0-20h0m0 21h0m0-2h0m0 86h0m0-54h0m0-45h0m0-7h0m0 41h0m0 30h0m0-28h0m0-91h0m0 123h0m0-9h0m0-23h0m0 31h0m0-30h0m0-13h0m0-35h0m0 62h0m0 23h0m0-70h0m1 28h0m0-10h0m0 59h0m0-40h0m0-117h0m0 83h0m0 52h0m0-77h0m0 4h0m0 84h0m0-8h0m0-23h0m0 67h0m0-97h0m0 22h0m0 36h0m0 46h0m0 17h0m0-50h0m0-65h0m0 41h0m0-39h0m0 113h0m0-41h0m0-74h0m0-61h0m1 54h0m0 101h0m0-30h0m0-55h0m0 87h0m0-43h0m0-113h0m0 52h0m0-9h0m0 47h0m0-37h0m0 24h0m0 1h0m0 14h0m0-71h0m0-26h0m0 113h0m0 45h0m0-46h0m0 25h0m0-101h0m0 32h0m0-3h0m0-12h0m0-7h0m0 86h0m0 41h0m0-182h0m0 90h0m1 38h0m0-161h0m0 161h0m0-36h0m0 39h0m0-95h0m0 26h0m0 42h0m0 14h0m0-4h0m0 1h0m0-36h0m0 67h0m0-21h0m0 22h0m0-54h0m0-12h0m0-17h0m0 135h0m0-235h0m0 139h0m0-66h0m0 63h0m0 30h0m0-23h0m0-37h0m0-55h0m0 143h0m0-25h0m0-79h0m0 86h0m0-51h0m0 21h0m0-35h0m0 19h0m0 64h0m0-36h0m0 61h0m0-134h0m0 44h0m0 47h0m0-34h0m0-48h0m0 86h0m1-66h0m0 54h0m0-91h0m0 99h0m0-85h0m0 82h0m0-28h0m0-41h0m0 24h0m0 4h0m0-45h0m0 66h0m0-98h0m0 47h0m0 54h0m0 88h0m0-95h0m0-11h0m0 35h0m0-9h0m0-38h0m0-78h0m0 30h0m0 50h0m0 37h0m0-60h0m0-23h0m0 107h0m0-74h0m0 18h0m0-26h0m0 43h0m0 20h0m0-145h0m0 106h0m0 20h0m0 1h0m0 40h0m1-43h0m0-24h0m0 6h0m0 40h0m0-37h0m0-41h0m0-18h0m0 98h0m0-22h0m0-84h0m0 134h0m0-96h0m0 31h0m0 109h0m0-164h0m0 135h0m0-51h0m0-40h0m0 10h0m0-16h0m0 1h0m0 8h0m0 61h0m0-104h0m0 22h0m0 51h0m0-95h0m0 91h0m0 49h0m0-90h0m0 35h0m0-45h0m0 51h0m0 32h0m0-23h0m0-35h0m0-20h0m0 64h0m0-66h0m1 104h0m0-110h0m0 2h0m0 3h0m0-38h0m0 52h0m0 109h0m0-117h0m0 4h0m0 0h0m0 51h0m0 1h0m0 69h0m0-127h0m0 50h0m0 40h0m0-10h0m0-137h0m0 125h0m0-41h0m0-60h0m0 84h0m0 36h0m0-113h0m0 47h0m0-66h0m0 112h0m0-46h0m0-35h0m0 1h0m1 32h0m0-24h0m0 56h0m0-31h0m0-14h0m0 47h0m0-42h0m0-2h0m0-17h0m0-33h0m0 51h0m0 46h0m0 22h0m0-60h0m0-45h0m0 123h0m0-178h0m0 90h0m0 0h0m0 40h0m0-36h0m0 3h0m0-10h0m0 3h0m0 25h0m0-65h0m0 85h0m0-110h0m0-17h0m0 140h0m0-17h0m1-38h0m0-1h0m0 9h0m0 10h0m0-21h0m0 33h0m0-56h0m0 91h0m0 3h0m0-28h0m0-23h0m0 29h0m0-26h0m0 24h0m0-31h0m0 20h0m0-32h0m0-12h0m0 4h0m0 26h0m0 5h0m0-40h0m0 51h0m0-2h0m0 28h0m0-53h0m0 0h0m0 19h0m0-5h0m0-8h0m0-39h0m1 85h0m0-24h0m0-41h0m0 10h0m0-47h0m0 17h0m0 44h0m0 30h0m0-86h0m0 19h0m0 54h0m0-25h0m0-7h0m0-32h0m0 54h0m0-23h0m0-5h0m0-10h0m0 38h0m0-79h0m0 8h0m0 95h0m0-86h0m0 34h0m1-35h0m0 69h0m0 17h0m0-29h0m0-20h0m0 17h0m0 63h0m0-13h0m0-143h0m0 61h0m0-46h0m0 72h0m0-3h0m0 21h0m0-9h0m0-15h0m0-6h0m0 81h0m0-125h0m0 102h0m0 24h0m0-55h0m0-108h0m0 64h0m0 64h0m0-6h0m0-15h0m1 6h0m0 22h0m0 8h0m0-60h0m0 70h0m0-26h0m0 19h0m0-12h0m0-10h0m0-90h0m0 87h0m0 34h0m0-156h0m0 92h0m0 44h0m0-41h0m0 45h0m0-131h0m0 129h0m0-9h0m0-14h0m0 25h0m0-67h0m0-10h0m0 32h0m0 13h0m0 97h0m0-163h0m0 22h0m0 52h0m1-24h0m0 45h0m0-109h0m0 64h0m0-26h0m0 42h0m0-29h0m0 3h0m0-1h0m0 84h0m0-67h0m0-110h0m0 295h0m0-111h0m0-83h0m0 16h0m1 156h0m1-30h0m1 60h0m0 50h0m0-77h0m0 118h0m0-58h0m0 98h0m0-44h0m0-91h0m0 18h0m0 76h0m0-95h0m0-31h0m0 99h0m0 43h0m0 21h0m0-100h0m0 13h0m0 57h0m0-120h0m0 121h0m0 8h0m0 48h0m0-52h0m0-100h0m0 72h0m0-46h0m0 69h0m0-38h0m0-34h0m0-17h0m0 85h0m0-82h0m1 36h0m0 0h0m0 69h0m0-5h0m0-29h0m0 119h0m0-33h0m0-51h0m0-44h0m0 0h0m0 11h0m0 22h0m0 8h0m0-51h0m0 13h0m0 80h0m0-87h0m0 21h0m0 3h0m0-56h0m0 69h0m0 5h0m0-42h0m0-89h0m0 42h0m1 43h0m0 5h0m0-17h0m0-7h0m0 12h0m0 4h0m0 14h0m0 40h0m0 6h0m0-72h0m0 51h0m0-34h0m0 0h0m0 104h0m0-121h0m0 43h0m0-56h0m0-57h0m0 93h0m0-50h0m0 109h0m0-148h0m0 74h0m0 37h0m0-26h0m0 32h0m0-98h0m0 84h0m0-28h0m0 37h0m0-79h0m0 61h0m0 29h0m0-61h0m0 52h0m1-19h0m0 17h0m0-27h0m0 39h0m0-46h0m0 55h0m0 4h0m0-146h0m0 107h0m0-23h0m0-48h0m0 82h0m0-86h0m0 90h0m0-85h0m0 9h0m0 39h0m0-39h0m0 83h0m0-16h0m0-7h0m0 90h0m0 41h0m0-137h0m0-52h0m0-13h0m0 47h0m1 6h0m0-27h0m0 86h0m0-150h0m0 106h0m0-2h0m0 59h0m0-36h0m0 7h0m0-91h0m0 65h0m0-72h0m0 167h0m0-26h0m0-150h0m0 80h0m0-39h0m0 8h0m0 69h0m0-70h0m0 6h0m0-3h0m0 85h0m0-67h0m0-4h0m0-55h0m0 21h0m0 17h0m0 23h0m0 22h0m0-2h0m0 3h0m0-88h0m0 104h0m0-28h0m1-56h0m0 10h0m0 13h0m0 74h0m0-27h0m0-94h0m0 13h0m0-43h0m0 125h0m0-52h0m0 23h0m0 5h0m0-6h0m0 54h0m0 42h0m0-99h0m0-75h0m0 99h0m0-51h0m0 65h0m0-29h0m0 24h0m0-4h0m0-25h0m1-11h0m0-45h0m0 28h0m0 34h0m0-20h0m0 10h0m0 20h0m0-42h0m0 45h0m0-56h0m0-26h0m0 19h0m0 57h0m0 3h0m0 69h0m0-31h0m0-160h0m0 87h0m0 38h0m0-58h0m0 72h0m0-41h0m0 83h0m0 0h0m0-168h0m0 159h0m0-145h0m0 54h0m0 0h0m0 68h0m0-48h0m0 27h0m0-4h0m0-34h0m0 40h0m0-54h0m1 28h0m0 8h0m0-36h0m0 35h0m0 0h0m0-35h0m0 49h0m0-37h0m0 35h0m0-39h0m0 71h0m0 3h0m0-64h0m0 118h0m0-128h0m0-11h0m0 18h0m0-30h0m0 9h0m0 45h0m0 17h0m0-57h0m0 9h0m0 59h0m0-38h0m0 74h0m1-111h0m0 121h0m0-127h0m0-26h0m0 98h0m0 46h0m0-76h0m0-13h0m0-22h0m0 54h0m0-10h0m0 45h0m0 0h0m0-93h0m0 23h0m0 66h0m0-83h0m0 93h0m0-80h0m0 48h0m0 35h0m0-68h0m0 60h0m0-38h0m0 37h0m0-134h0m0 49h0m0 75h0m0-38h0m0 14h0m0-72h0m1 55h0m0-34h0m0 89h0m0-42h0m0 39h0m0-39h0m0 56h0m0-20h0m0-57h0m0 25h0m0-6h0m0-7h0m0 47h0m0-89h0m0 31h0m0-50h0m0 118h0m0-3h0m0 6h0m0-85h0m0-27h0m0 48h0m0-32h0m0 5h0m0-65h0m0 55h0m0 3h0m1 2h0m0 28h0m0 12h0m0-54h0m0 53h0m0 8h0m0 26h0m0-38h0m0-42h0m0-12h0m0 72h0m0 15h0m0-50h0m0 6h0m0 38h0m0 77h0m0-115h0m0-43h0m0 120h0m0-55h0m0-26h0m0-8h0m0 68h0m0-87h0m0 52h0m0-33h0m1-1h0m0 88h0m0-52h0m0-29h0m0 8h0m0-44h0m0 53h0m0 30h0m0-30h0m0 52h0m0-30h0m0-95h0m0 58h0m0 81h0m0-74h0m0-16h0m0-1h0m0 23h0m0 15h0m0 26h0m1-47h0m0-23h0m0-23h0m0 63h0m0 2h0m0 69h0m0-45h0m0-57h0m0 76h0m0-133h0m0 50h0m0-23h0m0-2h0m0 96h0m0 1h0m0-25h0m0-22h0m0 9h0m0-7h0m0 43h0m0 57h0m0-24h0m0-119h0m0 38h0m0 61h0m0-77h0m0-7h0m0-12h0m0 99h0m0-93h0m1 106h0m0-48h0m0 60h0m0-124h0m0-39h0m0 85h0m0 31h0m0-48h0m0 16h0m0-113h0m0 135h0m0 26h0m0-18h0m0-14h0m0 39h0m0-57h0m0-15h0m0 16h0m0 16h0m0-58h0m0 96h0m0-88h0m0 39h0m0-15h0m0-96h0m0 121h0m0-14h0m1 37h0m0-38h0m0-77h0m0 44h0m0 39h0m0 59h0m0-82h0m0 3h0m0 24h0m0 15h0m0-81h0m0 38h0m0-2h0m0 35h0m0-29h0m0 19h0m0-3h0m0-78h0m0 60h0m0 41h0m0 26h0m0 30h0m0-71h0m0-3h0m0-16h0m0-4h0m0 74h0m0-78h0m0-29h0m0 75h0m0-57h0m0-74h0m0 87h0m0-35h0m0 60h0m0 22h0m0-40h0m0 106h0m0-142h0m0 78h0m0-33h0m0-4h0m0 4h0m0 22h0m0-18h0m1-2h0m0-41h0m0 51h0m0 35h0m0-120h0m0-14h0m0 52h0m0 89h0m0-21h0m0-121h0m0 116h0m0-12h0m0 8h0m0-28h0m0 7h0m0 18h0m0-55h0m0 32h0m0-9h0m0-23h0m0 96h0m0-49h0m0-21h0m0 94h0m0-103h0m0-33h0m0 46h0m0 19h0m0-24h0m0 99h0m1-76h0m0-19h0m0-3h0m0 57h0m0-49h0m0 51h0m0-5h0m0 1h0m0-76h0m0 61h0m0-35h0m0 6h0m0 0h0m0-24h0m0 38h0m0-118h0m0 132h0m0-24h0m0 23h0m0 38h0m0-106h0m0-24h0m0 49h0m0-123h0m0 75h0m0 56h0m0-19h0m0 6h0m0 48h0m0-91h0m0 73h0m1 4h0m0-30h0m0 8h0m0-34h0m0 33h0m0 55h0m0-60h0m0 24h0m0-18h0m0 13h0m0 45h0m0-23h0m0-68h0m0-31h0m0 82h0m0-30h0m0 11h0m0-12h0m0-34h0m0 49h0m0 20h0m0 2h0m0 73h0m0-82h0m0-37h0m0 94h0m0-55h0m0 5h0m0 33h0m0-12h0m0-56h0m0 26h0m0 58h0m0 7h0m0-99h0m0 58h0m0 42h0m1 0h0m0-36h0m0-35h0m0-44h0m0 50h0m0-66h0m0 93h0m0 15h0m0-82h0m0 23h0m0 34h0m0 48h0m0-75h0m0-40h0m0 59h0m0-19h0m0 29h0m0 61h0m0-80h0m0-3h0m0-3h0m0-85h0m0 83h0m0 0h0m0 46h0m0-37h0m0-13h0m0-23h0m1 98h0m0-134h0m0 55h0m0 42h0m0-95h0m0 38h0m0-77h0m0 94h0m0 20h0m0-20h0m0 52h0m0-2h0m0-71h0m0 12h0m0-62h0m0 113h0m0 45h0m0-123h0m0 108h0m0-70h0m0-27h0m0 44h0m0-39h0m0 39h0m1-90h0m0 134h0m0 5h0m0-60h0m0 21h0m0 42h0m0-98h0m0 10h0m0 5h0m0-27h0m0 50h0m0-51h0m0-46h0m0 59h0m0 82h0m0-127h0m0 118h0m0-108h0m0 109h0m0 54h0m0-46h0m0 2h0m0-50h0m0-32h0m0 61h0m0-17h0m1-96h0m0 100h0m0 17h0m0-13h0m0-10h0m0 68h0m0-89h0m0 30h0m0-25h0m0 22h0m0-28h0m0-19h0m0 36h0m0-5h0m0 31h0m0-2h0m0-15h0m0-18h0m0-3h0m0-32h0m0-2h0m0 58h0m0-21h0m0-42h0m0 91h0m0-7h0m0-144h0m0 98h0m0 69h0m0-143h0m1-15h0m0 74h0m0 20h0m0 123h0m0-51h0m0-62h0m0-60h0m0-11h0m0-36h0m0 61h0m0-20h0m0 83h0m0 23h0m0-84h0m0 35h0m0-76h0m0 33h0m0 10h0m0 28h0m0 80h0m0-83h0m0 32h0m0-14h0m0-19h0m0 77h0m0-77h0m0-59h0m0 23h0m0 11h0m0-19h0m0 56h0m1-59h0m0 130h0m0-127h0m0 47h0m0-52h0m0 101h0m0-110h0m0 75h0m0-36h0m0 17h0m0 31h0m0-24h0m0 96h0m0-49h0m0-12h0m0 10h0m0-45h0m0-25h0m0-9h0m0 54h0m0-113h0m0 94h0m0 16h0m1 19h0m0-129h0m0 66h0m0 6h0m0-4h0m0-51h0m0 47h0m0 0h0m0 42h0m0-18h0m0-31h0m0 76h0m0-42h0m0-7h0m0 48h0m0 14h0m0-109h0m0 48h0m0 45h0m0-25h0m0-17h0m0-47h0m0 46h0m0 60h0m1-48h0m0-19h0m0 12h0m0-16h0m0 14h0m0-62h0m0 82h0m0 51h0m0-16h0m0-80h0m0 15h0m0-88h0m0 59h0m0 94h0m0-24h0m0-20h0m0-107h0m0 64h0m0-29h0m0 88h0m0 44h0m1-96h0m0 59h0m0 3h0m0-110h0m0-2h0m0 66h0m0-32h0m0 83h0m0 75h0m0-184h0m0 43h0m0 8h0m0-12h0m0 58h0m0-86h0m0 71h0m0-9h0m0 66h0m0-58h0m0-13h0m0 57h0m0-141h0m1 45h0m0 22h0m0-48h0m0 30h0m0 37h0m0 77h0m0-88h0m0-2h0m0 24h0m0-102h0m0 124h0m0-78h0m0 122h0m0-38h0m0 0h0m0 34h0m0-177h0m0 52h0m0 42h0m0-11h0m0 11h0m0-20h0m0-87h0m0 80h0m0 65h0m0-32h0m0 59h0m0-92h0m1 48h0m0-21h0m0-43h0m0 120h0m0-149h0m0 142h0m0-8h0m0-53h0m0 13h0m0 20h0m0 18h0m0-2h0m0-27h0m0-55h0m0 51h0m0 36h0m0 6h0m0-36h0m0-2h0m0-15h0m0 44h0m0-80h0m0 25h0m0 17h0m0-20h0m0 3h0m0-42h0m0 65h0m0 16h0m1-1h0m0-25h0m0-78h0m0 50h0m0-22h0m0 115h0m0-115h0m0 76h0m0-127h0m0 107h0m0 14h0m0 82h0m0-121h0m0 102h0m0-130h0m0 28h0m0 50h0m0-58h0m0-35h0m0 38h0m0 79h0m0-74h0m0 29h0m0-45h0m0-53h0m0 18h0m0 87h0m0 33h0m1-46h0m0 17h0m0-27h0m0 30h0m0-31h0m0 74h0m0 7h0m0-95h0m0 15h0m0 43h0m0-22h0m0-13h0m0-58h0m0-35h0m0 17h0m0 76h0m0-1h0m0-3h0m0-17h0m0 52h0m0-35h0m0-42h0m0 9h0m0-35h0m0 96h0m0-131h0m0 71h0m0 38h0m0 125h0m0-45h0m0-98h0m0 29h0m0-2h0m0 0h0m0-97h0m1 140h0m0-52h0m0-53h0m0 79h0m0-53h0m0 29h0m0-29h0m0-11h0m0-42h0m0 115h0m0-22h0m0-24h0m0-39h0m0 18h0m0-11h0m0 65h0m0-129h0m0 82h0m0 1h0m0 4h0m0 99h0m0-126h0m0 45h0m0-24h0m0 68h0m0-31h0m0-51h0m0-9h0m1 38h0m0-36h0m0 82h0m0-50h0m0 85h0m0-102h0m0-60h0m0 77h0m0-12h0m0 10h0m0-7h0m0 49h0m0 51h0m0-125h0m0 59h0m0-82h0m0 52h0m0 11h0m0 60h0m0-102h0m0 12h0m0 55h0m1-79h0m0 32h0m0 24h0m0 52h0m0-72h0m0 27h0m0-47h0m0 54h0m0-19h0m0 77h0m0-87h0m0 20h0m0-36h0m0-8h0m0 38h0m0 27h0m0-3h0m0-18h0m0 4h0m0-36h0m0 96h0m0-66h0m0 120h0m0-148h0m0 11h0m0 23h0m0-23h0m0-17h0m0 66h0m0-23h0m0-74h0m1 8h0m0 6h0m0 87h0m0 12h0m0-136h0m0 141h0m0-111h0m0 77h0m0 7h0m0-67h0m0-40h0m0 102h0m0-77h0m0 82h0m0-94h0m0 15h0m0 54h0m0 39h0m0-109h0m0 20h0m0 36h0m0 51h0m0 67h0m0-109h0m1 72h0m0-93h0m0 0h0m0-11h0m0 46h0m0-43h0m0 95h0m0-15h0m0-118h0m0 104h0m0-73h0m0-2h0m0 128h0m0-131h0m0 121h0m0-132h0m0 105h0m0-54h0m0 19h0m0 5h0m0-36h0m0-40h0m0 3h0m0 41h0m0-25h0m0-16h0m0-24h0m0 62h0m0 9h0m0 70h0m0-140h0m1 55h0m0-60h0m0 114h0m0 14h0m0 16h0m0-88h0m0 89h0m0-92h0m0 14h0m0-10h0m0 1h0m0 32h0m0-83h0m0 39h0m0 36h0m0-93h0m0 123h0m0-60h0m0 25h0m0-25h0m0-14h0m0-24h0m0 96h0m0-32h0m0-5h0m0 15h0m0-47h0m0 68h0m1-26h0m0 20h0m0 13h0m0-85h0m0 23h0m0-63h0m0 27h0m0 160h0m0-93h0m0-67h0m0 87h0m0 30h0m0-48h0m0 20h0m0 42h0m0-20h0m0-62h0m0 7h0m0-16h0m0 49h0m0-38h0m0 98h0m0-72h0m0-98h0m0 131h0m0-67h0m0 13h0m0 49h0m0-18h0m0-73h0m0 9h0m0 76h0m0 19h0m0-91h0m0 68h0m0-34h0m0-45h0m1 53h0m0 55h0m0-117h0m0 23h0m0 48h0m0-38h0m0-42h0m0 115h0m0-22h0m0-21h0m0-141h0m0 166h0m0-19h0m0-10h0m0 61h0m0-65h0m0-41h0m0-42h0m0 94h0m0-64h0m0 46h0m0 75h0m0-94h0m0 88h0m0-44h0m0-125h0m0 126h0m0-30h0m0-40h0m0 48h0m0 38h0m0-48h0m1 38h0m0-12h0m0 0h0m0-28h0m0-29h0m0 51h0m0-71h0m0 80h0m0-1h0m0-44h0m0 18h0m0 6h0m0-20h0m0-9h0m0 7h0m0 53h0m0-35h0m0 13h0m0-130h0m0 159h0m0-23h0m0-36h0m0 35h0m0-39h0m0 45h0m1 5h0m0-118h0m0 45h0m0 97h0m0-87h0m0 8h0m0 30h0m0-73h0m0 8h0m0-36h0m0 133h0m0-5h0m0-36h0m0-20h0m0 61h0m0-51h0m0 26h0m0-51h0m0 31h0m0 22h0m0 11h0m0-76h0m0 73h0m0-62h0m0 72h0m0-43h0m0 18h0m0 30h0m0-63h0m0 100h0m0-115h0m1-61h0m0 110h0m0-28h0m0-73h0m0 192h0m0 8h0m0-89h0m0 0h0m0-23h0m0 96h0m0-33h0m0-25h0m0-18h0m0-37h0m0 35h0m0 9h0m0-28h0m0-8h0m0-42h0m0-18h0m0 95h0m0-33h0m0 41h0m0-6h0m0-38h0m0 56h0m0-72h0m0 12h0m0 40h0m0 14h0m0-56h0m1-31h0m0 29h0m0 31h0m0 38h0m0-20h0m0 6h0m0-28h0m0-33h0m0 4h0m0 54h0m0 38h0m0-54h0m0-23h0m0 11h0m0-67h0m0 37h0m0-13h0m0 14h0m0-55h0m0 24h0m0 88h0m0-101h0m0 87h0m0-32h0m0 37h0m0-72h0m0-23h0m0 40h0m0 23h0m0-11h0m0 97h0m0-40h0m1-20h0m0-13h0m0 71h0m0-45h0m0-16h0m0-29h0m0-22h0m0 158h0m0-107h0m0-85h0m0 67h0m0 89h0m0-97h0m0 10h0m0-30h0m0-43h0m0 136h0m0-84h0m0 18h0m0-31h0m0 5h0m0 49h0m0 77h0m0-93h0m0 10h0m0-70h0m1 29h0m0 36h0m0 33h0m0 76h0m0-67h0m0-115h0m0-16h0m0 133h0m0-62h0m0 83h0m0-15h0m0-29h0m0 14h0m0-10h0m0-45h0m0-49h0m0 42h0m0 39h0m0-10h0m0 71h0m0-128h0m0 138h0m0-82h0m0 13h0m0 49h0m0-61h0m0 53h0m0-11h0m0-1h0m0 36h0m1-20h0m0-60h0m0-69h0m0 79h0m0 75h0m0-124h0m0 44h0m0 94h0m0-146h0m0 19h0m0-5h0m0 98h0m0-89h0m0 25h0m0 6h0m0-61h0m0-4h0m0 103h0m0-90h0m0-30h0m0 57h0m0-29h0m0 11h0m0 79h0m0-24h0m0 21h0m1 29h0m0-50h0m0-11h0m0 7h0m0-48h0m0 118h0m0-89h0m0-13h0m0-23h0m0 25h0m0 74h0m0-61h0m0-17h0m0 63h0m0-1h0m0-33h0m0 43h0m0-77h0m0-8h0m0 45h0m0-92h0m0 122h0m0-72h0m0-10h0m0 12h0m0-12h0m0 113h0m0-113h0m0 81h0m0 50h0m0-98h0m0-13h0m0 1h0m0 6h0m0 41h0m0-72h0m1 52h0m0 62h0m0-14h0m0-46h0m0-59h0m0 90h0m0 5h0m0-61h0m0-68h0m0 65h0m0 2h0m0 20h0m0-9h0m0-2h0m0 74h0m0-33h0m0-83h0m0-16h0m0 98h0m0 11h0m0-101h0m0 42h0m0-4h0m0-64h0m0 74h0m0 51h0m0-24h0m0-39h0m0-25h0m0 36h0m0 36h0m1-73h0m0 22h0m0 69h0m0-82h0m0 68h0m0-86h0m0 116h0m0 19h0m0-124h0m0 25h0m0-15h0m0 144h0m0-112h0m0-20h0m0 56h0m0 7h0m0 73h0m0-150h0m0 126h0m0-127h0m0 51h0m0 38h0m0-70h0m0 15h0m0-11h0m0 3h0m0 63h0m1-70h0m0-115h0m0 112h0m0 62h0m0-5h0m0-48h0m0 12h0m0 42h0m0-15h0m0 52h0m0-100h0m0-26h0m0 68h0m0 15h0m0 32h0m0-66h0m0 16h0m0-31h0m0-32h0m0 14h0m0 60h0m0-14h0m0 21h0m1-34h0m0-72h0m0 37h0m0 140h0m0-87h0m0 36h0m0-20h0m0-54h0m0 131h0m0-159h0m0-56h0m0 145h0m0-10h0m0-90h0m0 73h0m0-57h0m0 105h0m0-38h0m0-42h0m0 27h0m0 29h0m0 18h0m0-9h0m0-16h0m1-40h0m0 106h0m0-130h0m0 49h0m0-11h0m0 5h0m0 51h0m0-2h0m0-68h0m0 14h0m0-47h0m0 52h0m0-35h0m0-32h0m0 41h0m0 18h0m0-23h0m0 44h0m0 9h0m0-36h0m0 77h0m0-106h0m0 40h0m0-10h0m0 28h0m0-9h0m0-43h0m0-2h0m0-32h0m0 26h0m0-15h0m0 73h0m0-44h0m0 81h0m1-54h0m0-54h0m0 50h0m0 1h0m0 18h0m0 31h0m0-71h0m0 30h0m0-16h0m0 58h0m0-56h0m0-66h0m0 84h0m0-20h0m0 14h0m0 2h0m0-41h0m0-2h0m0-4h0m0-14h0m0 181h0m0-99h0m0-86h0m0 88h0m0-81h0m1 15h0m0 118h0m0-21h0m0-83h0m0 83h0m0-119h0m0 108h0m0-20h0m0-63h0m0 46h0m0-17h0m0 58h0m0-11h0m0-116h0m0 110h0m0 14h0m0-53h0m0-21h0m0-44h0m0 126h0m0-33h0m0-5h0m0-32h0m0-7h0m1 0h0m0 51h0m0-91h0m0 41h0m0-51h0m0 35h0m0 59h0m0-30h0m0 50h0m0-53h0m0 7h0m0-17h0m0-34h0m0 42h0m0 18h0m0-9h0m0-33h0m0 19h0m0 45h0m0-18h0m0 0h0m0 2h0m0-3h0m1-77h0m0 96h0m0 4h0m0-77h0m0-3h0m0 13h0m0-20h0m0 96h0m0-41h0m0-36h0m0 14h0m0-12h0m0-29h0m0 78h0m0 18h0m0-35h0m0-20h0m0 37h0m0-37h0m0-35h0m0 75h0m0-37h0m0-76h0m0 125h0m0-63h0m0-8h0m0 31h0m0 21h0m0-5h0m0-73h0m0 145h0m0-50h0m0-43h0m0-86h0m0 159h0m0-51h0m0-33h0m0 51h0m0 14h0m1-70h0m0 52h0m0-36h0m0 52h0m0-48h0m0 60h0m0 21h0m0-68h0m0-26h0m0-23h0m0 68h0m0 6h0m0-87h0m0 41h0m0 47h0m0-5h0m0-51h0m0 28h0m0 15h0m0-16h0m0-14h0m0-11h0m0 14h0m0 7h0m0 45h0m0-13h0m0-56h0m0 49h0m0-49h0m0 3h0m1 124h0m0-102h0m0-5h0m0 29h0m0-17h0m0-33h0m0-12h0m0 55h0m0-25h0m0-6h0m0 89h0m0-41h0m0-65h0m0 52h0m0-73h0m0 41h0m0 68h0m0-34h0m0-44h0m0 6h0m0-60h0m0 122h0m0-87h0m0 34h0m0-64h0m0 78h0m0-61h0m0-24h0m0 74h0m0-29h0m0 43h0m0-114h0m0 123h0m0-25h0m0 32h0m0-35h0m0 0h0m0-58h0m0 126h0m1-34h0m0-41h0m0-42h0m0 8h0m0 52h0m0-26h0m0 37h0m0 7h0m0 41h0m0-122h0m0 90h0m0-121h0m0 51h0m0 73h0m0-50h0m0-14h0m0 83h0m0-104h0m0-20h0m0 56h0m0 47h0m0-39h0m0 75h0m0-45h0m0-40h0m0-46h0m0-89h0m0 156h0m1 16h0m0-2h0m0-60h0m0 83h0m0-11h0m0-53h0m0-53h0m0 78h0m0-50h0m0 20h0m0-74h0m0 71h0m0 40h0m0-59h0m0 20h0m0-7h0m0-3h0m0 109h0m0-135h0m0 17h0m0 102h0m0-76h0m0 54h0m0-116h0m0 114h0m0-24h0m0 78h0m0-90h0m1-33h0m0 29h0m0-15h0m0 54h0m0-2h0m0 0h0m0-20h0m0-29h0m0-20h0m0 8h0m0 22h0m0-19h0m0 52h0m0-51h0m0 78h0m0-38h0m0 63h0m0-60h0m0-9h0m0 0h0m0 21h0m0-32h0m0-41h0m0-18h0m0 52h0m0-53h0m0 102h0m1-32h0m0 73h0m0-106h0m0 36h0m0 14h0m0 46h0m0-84h0m0 44h0m0-33h0m0-9h0m0-25h0m0 108h0m0-132h0m0 32h0m0 102h0m0-99h0m0 130h0m0-84h0m0-55h0m0 51h0m0-24h0m0-51h0m1 92h0m0-64h0m0 47h0m0-11h0m0 3h0m0-21h0m0 22h0m0 16h0m0-117h0m0 86h0m0-8h0m0 57h0m0-64h0m0-4h0m0-5h0m0 65h0m0-54h0m0-12h0m0 95h0m0-103h0m0 61h0m0 9h0m0 1h0m0-86h0m0 117h0m0-11h0m0-54h0m0 56h0m0-103h0m0 163h0m0-106h0m0 66h0m0-78h0m1 11h0m0-65h0m0 60h0m0-94h0m0 71h0m0 25h0m0 7h0m0 11h0m0-67h0m0 0h0m0 84h0m0-12h0m0-58h0m0-28h0m0 68h0m0-18h0m0 25h0m0 11h0m0-27h0m0-42h0m0 86h0m0-50h0m0-3h0m0-9h0m0 70h0m0-44h0m0 27h0m0-36h0m0-23h0m0 80h0m0-40h0m1 10h0m0-90h0m0-4h0m0 76h0m0-49h0m0 8h0m0-38h0m0 95h0m0 16h0m0 1h0m0-126h0m0 102h0m0 5h0m0-132h0m0 114h0m0 44h0m0-62h0m0-1h0m0 11h0m0 16h0m0 36h0m0-77h0m0-27h0m0 117h0m0-64h0m0 41h0m0 45h0m0-104h0m0 41h0m0-8h0m0 9h0m0 9h0m0-82h0m0 115h0m0-15h0m1-106h0m0 49h0m0 23h0m0 47h0m0-54h0m0-4h0m0-69h0m0 75h0m0-40h0m0 75h0m0 38h0m0-208h0m0 143h0m0-33h0m0 30h0m0-6h0m0 13h0m0-29h0m0-15h0m0 26h0m0-35h0m0 22h0m0 4h0m0 15h0m0-10h0m0 74h0m0-47h0m0-24h0m1 25h0m0-78h0m0 39h0m0 12h0m0 32h0m0-3h0m0-40h0m0-1h0m0 53h0m0-90h0m0 55h0m0-29h0m0 6h0m0 21h0m0-63h0m0 115h0m0 32h0m0-89h0m0 19h0m0-5h0m0-12h0m0 66h0m0-96h0m0 55h0m0 30h0m0 17h0m0-5h0m0-25h0m0 35h0m0-88h0m0-24h0m0-6h0m1 1h0m0 29h0m0 17h0m0 36h0m0-111h0m0 86h0m0 24h0m0-3h0m0 61h0m0-152h0m0 76h0m0-52h0m0 28h0m0 26h0m0 12h0m0-31h0m0-24h0m0 54h0m0-49h0m0-35h0m0 20h0m0 25h0m0-20h0m0 19h0m0 0h0m0-14h0m0 68h0m0 7h0m0-42h0m0-29h0m0-64h0m0 75h0m1-63h0m0 116h0m0-61h0m0-20h0m0 8h0m0 61h0m0-18h0m0-8h0m0-36h0m0 27h0m0 28h0m0-49h0m0 19h0m0-122h0m0 160h0m0-58h0m0 3h0m0 18h0m0-45h0m0 35h0m0 25h0m0-3h0m0 4h0m0-38h0m0 9h0m0 48h0m0-63h0m0 62h0m0 46h0m0-127h0m0 29h0m0 50h0m0-24h0m1-18h0m0 13h0m0-39h0m0 19h0m0-18h0m0 51h0m0-35h0m0 26h0m0 49h0m0-30h0m0-1h0m0-43h0m0 38h0m0-143h0m0 87h0m0 63h0m0-22h0m0-53h0m0 93h0m0-36h0m0-63h0m0 8h0m0 49h0m0-23h0m0-20h0m0 15h0m0 75h0m0-49h0m0 55h0m0-78h0m0 47h0m0-116h0m0 60h0m0 29h0m0 4h0m0-17h0m0 32h0m1 33h0m0-105h0m0-19h0m0 111h0m0-16h0m0-16h0m0 63h0m0-24h0m0-50h0m0-50h0m0 69h0m0 56h0m0-17h0m0-17h0m0-107h0m0 103h0m0-63h0m0 76h0m0-134h0m0 90h0m0 76h0m0-20h0m0-8h0m0-53h0m0 29h0m0-3h0m0-40h0m0-29h0m1-4h0m0 79h0m0 0h0m0-3h0m0-46h0m0 44h0m0-29h0m0 60h0m0-62h0m0 55h0m0 1h0m0 5h0m0-51h0m0 2h0m0-41h0m0 65h0m0-18h0m0 28h0m0 3h0m0-46h0m0 66h0m0-90h0m0 38h0m1-19h0m0 21h0m0-46h0m0 51h0m0-31h0m0 28h0m0-58h0m0 10h0m0 48h0m0 14h0m0-40h0m0 1h0m0 13h0m0-18h0m0 7h0m0-10h0m0 26h0m0-85h0m0 123h0m0-40h0m0 18h0m0-40h0m0-52h0m0-51h0m0 77h0m0-7h0m0-6h0m0 87h0m0-27h0m0-3h0m0-12h0m0-44h0m0 124h0m0-25h0m0-48h0m1-96h0m0 198h0m0-81h0m0 26h0m0-37h0m0-2h0m0 9h0m0 1h0m0 9h0m0-97h0m0 161h0m0-71h0m0-81h0m0 67h0m0 26h0m0-75h0m0 88h0m0-16h0m0 42h0m0-65h0m0 19h0m0-62h0m0 61h0m0 93h0m0-108h0m0-13h0m0 4h0m0-35h0m0-20h0m0 67h0m0 1h0m1-30h0m0-18h0m0 89h0m0-43h0m0-22h0m0 4h0m0 48h0m0 13h0m0-97h0m0-5h0m0 11h0m0 50h0m0-94h0m0 119h0m0 13h0m0-46h0m0 38h0m0-19h0m0-56h0m0 54h0m0-88h0m0 47h0m0 0h0m0 58h0m0 30h0m0 32h0m0-8h0m0-68h0m0-108h0m1 93h0m0 25h0m0 44h0m0-46h0m0-73h0m0 38h0m0-78h0m0 94h0m0-31h0m0 55h0m0-16h0m0-103h0m0 106h0m0-39h0m0 22h0m0-18h0m0 54h0m0-62h0m0 66h0m0-128h0m0 12h0m0 128h0m0-51h0m0 6h0m0-5h0m0-121h0m0 105h0m0-55h0m0 114h0m0-104h0m0 111h0m0-55h0m1-108h0m0 67h0m0 73h0m0-35h0m0-15h0m0 59h0m0 11h0m0-101h0m0-23h0m0 86h0m0-4h0m0 6h0m0-80h0m0 13h0m0 15h0m0-50h0m0 40h0m0-4h0m0 67h0m0-11h0m0-5h0m0 44h0m0-74h0m0 29h0m0 33h0m0-72h0m0 106h0m0-17h0m0 5h0m0-105h0m0 73h0m1-73h0m0 87h0m0 4h0m0-111h0m0 152h0m0-128h0m0 108h0m0-90h0m0-13h0m0-4h0m0-37h0m0 51h0m0-24h0m0 38h0m0-9h0m0 35h0m0 8h0m0 17h0m0 54h0m0-84h0m0 2h0m0-81h0m0 123h0m0-112h0m0 108h0m0-71h0m0-33h0m0 39h0m0-45h0m0 10h0m0 95h0m0-19h0m0 3h0m0 58h0m0-17h0m1-26h0m0-13h0m0-28h0m0-20h0m0 51h0m0-21h0m0 8h0m0 12h0m0 23h0m0-56h0m0-50h0m0 50h0m0 111h0m0-41h0m0-53h0m0-37h0m0 29h0m0 37h0m0-45h0m0 4h0m0-24h0m0 72h0m0-12h0m0 1h0m0-105h0m0 56h0m0 72h0m0-15h0m0-114h0m1 125h0m0-26h0m0-37h0m0-20h0m0 25h0m0-27h0m0 55h0m0-64h0m0 65h0m0-76h0m0 48h0m0 40h0m0-26h0m0-34h0m0-29h0m0 56h0m0-93h0m1 97h0m0 41h0m0-95h0m0 16h0m0-74h0m0 56h0m0 60h0m0 27h0m0-24h0m0 43h0m0-9h0m0 2h0m0 12h0m0-78h0m0 84h0m0-107h0m0 46h0m0 57h0m0-117h0m0 37h0m0 54h0m0-88h0m0 103h0m0-57h0m0-21h0m0-39h0m1 64h0m0 8h0m0-40h0m0-5h0m0 58h0m0-55h0m0 37h0m0 65h0m0-37h0m0 33h0m0-65h0m0-18h0m0 3h0m0-2h0m0 13h0m0-50h0m0 124h0m0-129h0m0 111h0m0 0h0m0-61h0m0 51h0m0 7h0m0-45h0m0-1h0m0-22h0m0 68h0m0-77h0m1 36h0m0 19h0m0-17h0m0-26h0m0-9h0m0 68h0m0-82h0m0-34h0m0 48h0m0 48h0m0-32h0m0-10h0m0 42h0m0-88h0m0 105h0m0-99h0m0 84h0m0-36h0m0 23h0m0-59h0m0-10h0m0 25h0m0 47h0m0-23h0m0-42h0m0 9h0m0 74h0m0-110h0m0 38h0m0 78h0m0 0h0m0-55h0m1 61h0m0-36h0m0 38h0m0 36h0m0-106h0m0-6h0m0 115h0m0-140h0m0 66h0m0-110h0m0-19h0m0 110h0m0 39h0m0-2h0m0-9h0m0-29h0m0 26h0m0-48h0m0 56h0m0-116h0m0 175h0m0 7h0m0-160h0m0 43h0m0 0h0m0 46h0m0 49h0m0-47h0m0-8h0m0 2h0m0-36h0m0-13h0m0 38h0m0 12h0m0 13h0m0-31h0m0 70h0m0-105h0m0 81h0m0 22h0m0-75h0m1 78h0m0-33h0m0-37h0m0 77h0m0-45h0m0-73h0m0 66h0m0-33h0m0-1h0m0 60h0m0 23h0m0-184h0m0 175h0m0-93h0m0 7h0m0 102h0m0-5h0m0-129h0m0 54h0m0-16h0m0 49h0m0-45h0m0-5h0m0-27h0m0-20h0m0 133h0m0-93h0m0 49h0m0-42h0m1-10h0m0-21h0m0 79h0m0-33h0m0 26h0m0-6h0m0-115h0m0 90h0m0-25h0m0-30h0m0 64h0m0-23h0m0 13h0m0 69h0m0-79h0m0-55h0m0 39h0m0 69h0m0-61h0m0 49h0m0-16h0m0-86h0m0 83h0m0-47h0m0 57h0m0 4h0m0-69h0m0 116h0m1-44h0m0 11h0m0 50h0m0-87h0m0-8h0m0 55h0m0-71h0m0-42h0m0 83h0m0 19h0m0-24h0m0 11h0m0 27h0m0-20h0m0-69h0m0 59h0m0 19h0m0-10h0m0-92h0m0 51h0m0 76h0m0-54h0m0-95h0m0 160h0m0-73h0m0 24h0m0-24h0m0 32h0m0 10h0m0-2h0m0-103h0m0 75h0m0 12h0m1-68h0m0 112h0m0-60h0m0-80h0m0 11h0m0 77h0m0-85h0m0 46h0m0 50h0m0-48h0m0-13h0m0 14h0m0 56h0m0 58h0m0-59h0m0-45h0m0 37h0m0-54h0m0-11h0m0 7h0m0 22h0m0 33h0m0-74h0m0 7h0m0 68h0m0 84h0m0-130h0m0-11h0m0-13h0m1 117h0m0-96h0m0 52h0m0 55h0m0-119h0m0-8h0m0-27h0m0 44h0m0 76h0m0-83h0m0 72h0m0-53h0m0 46h0m0-34h0m0 20h0m0-47h0m0 31h0m0-26h0m0 28h0m0 63h0m0-72h0m0-31h0m0 2h0m0 6h0m0-32h0m0 32h0m0 93h0m0-54h0m0 4h0m0 35h0m0 14h0m0-53h0m0 11h0m0-45h0m0 5h0m0 72h0m1-28h0m0-34h0m0 3h0m0-1h0m0-29h0m0 46h0m0-85h0m0 92h0m0-16h0m0-141h0m0 76h0m0 85h0m0 38h0m0 1h0m0-151h0m0 138h0m0-39h0m0-33h0m0 5h0m0-7h0m0-49h0m0 105h0m0-25h0m0 45h0m0-123h0m0 164h0m0-111h0m1 49h0m0 16h0m0 8h0m0-35h0m0-16h0m0 11h0m0-78h0m0 41h0m0 35h0m0-3h0m0 45h0m0 2h0m0-68h0m0-49h0m0 22h0m0 29h0m0 36h0m0-114h0m0 152h0m0-22h0m0-88h0m0 29h0m0-50h0m1 151h0m0-149h0m0 118h0m0-86h0m0 62h0m0-34h0m0 53h0m0-96h0m0 14h0m0 25h0m0 14h0m0-2h0m0-31h0m0 59h0m0-46h0m0-25h0m0 3h0m0 68h0m0-35h0m0 0h0m0 5h0m0 72h0m0-57h0m0 11h0m0-46h0m0 40h0m1-157h0m0 65h0m0 118h0m0-88h0m0 2h0m0-19h0m0 11h0m0 138h0m0-89h0m0-19h0m0 54h0m0 5h0m0-15h0m0-93h0m0 56h0m0-49h0m0 82h0m0-109h0m0 60h0m0-12h0m0 63h0m0 14h0m0-1h0m0 8h0m0-70h0m0 32h0m0-17h0m0 51h0m0-28h0m0 15h0m1-93h0m0 15h0m0-15h0m0 54h0m0-44h0m0 21h0m0 31h0m0 4h0m0-18h0m0 45h0m0-2h0m0-24h0m0 4h0m0-20h0m0-40h0m0 46h0m0 27h0m0-22h0m0-25h0m0 83h0m0-101h0m0-34h0m0 125h0m0-79h0m0 45h0m1-64h0m0 42h0m0 12h0m0 63h0m0-35h0m0-19h0m0-69h0m0 38h0m0-50h0m0 97h0m0-12h0m0-9h0m0-45h0m0 137h0m0-104h0m0-35h0m0-3h0m0 58h0m0-43h0m0 19h0m0 37h0m0-100h0m0 117h0m0-32h0m0-4h0m0-62h0m0 76h0m1-42h0m0 35h0m0-47h0m0 75h0m0-40h0m0 55h0m0-23h0m0-64h0m0 17h0m0-4h0m0 10h0m0 4h0m0-60h0m0 58h0m0 60h0m0-2h0m0-106h0m0 36h0m0-38h0m0 62h0m0 13h0m0-17h0m0 20h0m0-9h0m0-42h0m0 7h0m0-18h0m0 103h0m1-46h0m0-5h0m0 5h0m0-38h0m0-5h0m0 80h0m0-7h0m0-61h0m0 36h0m0-83h0m0 131h0m0-64h0m0-19h0m0-14h0m0 101h0m0-30h0m0 1h0m0-11h0m0-26h0m0 23h0m0-48h0m0 23h0m0-39h0m0 60h0m0-18h0m0 54h0m0-27h0m0 11h0m0-13h0m0-48h0m0 67h0m0-24h0m0 31h0m0-10h0m0-100h0m0 71h0m0-8h0m0-81h0m1 79h0m0-33h0m0-70h0m0 119h0m0 0h0m0 15h0m0 23h0m0-62h0m0-70h0m0 38h0m0 60h0m0 20h0m0-78h0m0 4h0m0 3h0m0 83h0m0-46h0m0 11h0m0-26h0m0 5h0m0 42h0m0-70h0m0 50h0m0-46h0m0 11h0m0-6h0m0 4h0m0-29h0m1 43h0m0-70h0m0 52h0m0 1h0m0 13h0m0-32h0m0 85h0m0-82h0m0 38h0m0-7h0m0-22h0m0-59h0m0 153h0m0-106h0m0 102h0m0-81h0m0 19h0m0-14h0m0 14h0m0 7h0m0-36h0m0-41h0m0 101h0m0-74h0m0-5h0m0 10h0m0-35h0m0 118h0m0-157h0m0 173h0m1-76h0m0 47h0m0-97h0m0 60h0m0-42h0m0 56h0m0-71h0m0 71h0m0-36h0m0 4h0m0 29h0m0 6h0m0-57h0m0 73h0m0-52h0m0-6h0m0 10h0m0 59h0m0-8h0m0-25h0m0-2h0m0 40h0m0 15h0m0-28h0m0-72h0m0 47h0m0-21h0m0-48h0m0 55h0m0-67h0m0 31h0m1 35h0m0-8h0m0-70h0m0 175h0m0-83h0m0 27h0m0-13h0m0-19h0m0-21h0m0 55h0m0-21h0m0-77h0m0 77h0m0-1h0m0-56h0m0 112h0m0-155h0m0 160h0m0-91h0m0 1h0m0 8h0m0 49h0m0-5h0m0 3h0m0-54h0m0 79h0m0-67h0m1 0h0m0-97h0m0 106h0m0-5h0m0-29h0m0 2h0m0-5h0m0-4h0m0-30h0m0 52h0m0-24h0m0 14h0m0 68h0m0-28h0m0 41h0m0-66h0m0-48h0m0 6h0m0 29h0m0-73h0m0 44h0m0 85h0m0-41h0m0 40h0m0-97h0m0 11h0m0 31h0m0-55h0m1 55h0m0 80h0m0-21h0m0-60h0m0-21h0m0 41h0m0 11h0m0 28h0m0 22h0m0-154h0m0 44h0m0-25h0m0 44h0m0 16h0m0 85h0m0-73h0m0 70h0m0-86h0m0 120h0m0-162h0m0 59h0m0-36h0m0 72h0m0-71h0m0 68h0m0-8h0m0-18h0m0 3h0m0-36h0m0-11h0m0 78h0m0-57h0m0 87h0m0-59h0m0-3h0m0-29h0m1 61h0m0-17h0m0-18h0m0-25h0m0 21h0m0-107h0m0 57h0m0 29h0m0 61h0m0 2h0m0-31h0m0 9h0m0 4h0m0 5h0m0-83h0m0 6h0m0 80h0m0-14h0m0-49h0m0 25h0m0-14h0m0 1h0m0-28h0m0 56h0m0-35h0m0 65h0m0-93h0m0 98h0m0-126h0m0 115h0m0 30h0m1-17h0m0-127h0m0 75h0m0 9h0m0-60h0m0-9h0m0 73h0m0 49h0m0-49h0m0-14h0m0 0h0m0 69h0m0-108h0m0 18h0m0 42h0m0-10h0m0 6h0m0-14h0m0 57h0m0-45h0m0-47h0m0 72h0m0-6h0m0-108h0m0 105h0m0-79h0m0 113h0m0-106h0m0 102h0m0-127h0m0 135h0m0-52h0m0-59h0m0 85h0m1-27h0m0-4h0m0-3h0m0-14h0m0 4h0m0 46h0m0-45h0m0-23h0m0 23h0m0-34h0m0 38h0m0 26h0m0-46h0m0-4h0m0 40h0m0 2h0m0-18h0m0-44h0m0 33h0m0 26h0m0 51h0m0-1h0m0-44h0m0-51h0m0 34h0m0 7h0m0-12h0m0 36h0m0 4h0m0-111h0m0 40h0m0 27h0m0-59h0m0 104h0m1-1h0m0-22h0m0-80h0m0 121h0m0-34h0m0-78h0m0 66h0m0 42h0m0-47h0m0 16h0m0-89h0m0 92h0m0-60h0m0 0h0m0 29h0m0-6h0m0-40h0m0 25h0m0 43h0m0 65h0m0-71h0m0-31h0m0 36h0m0-72h0m0-4h0m0 50h0m0 108h0m0-74h0m0-40h0m0-4h0m0 29h0m0-4h0m0 10h0m0 33h0m0-103h0m0 42h0m0 21h0m0-17h0m1-97h0m0 78h0m0 52h0m0 17h0m0-67h0m0-50h0m0 62h0m0-12h0m0-27h0m0 70h0m0 3h0m0 58h0m0-61h0m0-7h0m0 10h0m0-54h0m0 25h0m0 32h0m0 1h0m0-57h0m0 123h0m0-76h0m0 7h0m1-101h0m0 101h0m0-3h0m0-24h0m0-88h0m0 167h0m0-59h0m0-65h0m0 44h0m0 19h0m0 17h0m0 21h0m0-43h0m0-26h0m0 24h0m0-25h0m0 106h0m0-110h0m0-24h0m0-5h0m0 33h0m0 68h0m0-38h0m1 33h0m0 1h0m0-14h0m0-26h0m0 15h0m0-99h0m0 33h0m0-20h0m0 9h0m0-4h0m0 41h0m0 124h0m0-72h0m0-84h0m0 10h0m0 7h0m0-8h0m0 28h0m0-8h0m0 3h0m0 77h0m0-55h0m0 21h0m0-8h0m0-73h0m0 88h0m0-14h0m0-53h0m0 35h0m0 48h0m0-22h0m0 2h0m0-30h0m0-26h0m0-4h0m0 1h0m1 88h0m0 1h0m0-24h0m0-99h0m0 128h0m0-13h0m0-158h0m0 31h0m0 49h0m0-8h0m0 40h0m0-41h0m0 48h0m0-104h0m0 161h0m0 40h0m0-141h0m0 8h0m0 44h0m0-48h0m0-15h0m0-62h0m0 102h0m0 54h0m0-99h0m0 20h0m0 20h0m0 30h0m1-8h0m0-48h0m0 57h0m0 18h0m0-16h0m0 50h0m0-116h0m0 58h0m0 54h0m0-92h0m0 31h0m0-68h0m0 111h0m0 76h0m0-105h0m0-3h0m0-92h0m0 136h0m0-47h0m0-11h0m0-4h0m0 5h0m0 0h0m0 18h0m0 49h0m0-143h0m0 80h0m0-5h0m0 60h0m1-24h0m0-13h0m0 14h0m0-26h0m0-24h0m0-13h0m0 3h0m0 49h0m0 23h0m0 86h0m0-137h0m0-22h0m0-10h0m0 28h0m0 24h0m0-55h0m0-2h0m0-25h0m0 73h0m0-74h0m0 61h0m0 4h0m0-135h0m0 122h0m0-20h0m0 1h0m0 13h0m0 76h0m0-14h0m1-44h0m0-25h0m0-96h0m0 191h0m0-65h0m0-43h0m0-17h0m0 22h0m0 18h0m0 21h0m0-18h0m0 20h0m0-92h0m0 53h0m0 34h0m0 4h0m0-77h0m0 18h0m0 74h0m0 0h0m0-32h0m0 16h0m0-4h0m0 43h0m0-63h0m1 44h0m0 16h0m0-56h0m0 73h0m0-18h0m0-41h0m0 9h0m0-11h0m0-44h0m0 22h0m0 23h0m0 30h0m0-34h0m0-90h0m0 133h0m0 2h0m0-62h0m0 57h0m0 43h0m0-38h0m0-15h0m0-54h0m0-6h0m0 11h0m0 21h0m0 15h0m0-79h0m0 11h0m1 98h0m0-54h0m0 1h0m0 54h0m0-50h0m0 21h0m0-8h0m0-13h0m0 4h0m0 61h0m0-95h0m0-38h0m0 141h0m0-40h0m0-4h0m0 36h0m0-36h0m0-13h0m0-53h0m0 17h0m0-6h0m0 180h0m0-100h0m0 3h0m0-163h0m0 40h0m0 53h0m0 40h0m0-41h0m1 37h0m0 22h0m0-101h0m0 137h0m0-98h0m0-12h0m0-24h0m0 23h0m0-11h0m0 16h0m0 16h0m0 30h0m0-53h0m0 51h0m0 50h0m0-108h0m0 103h0m0-124h0m0 117h0m0-40h0m0-2h0m0 72h0m0-146h0m0 38h0m0 80h0m1-118h0m0 87h0m0-28h0m0 10h0m0-6h0m0 34h0m0-29h0m0 35h0m0-10h0m0-27h0m0 25h0m0-131h0m0 137h0m0-28h0m0 8h0m0-23h0m0 21h0m0-48h0m0 28h0m0 13h0m0 0h0m0-25h0m0-43h0m0 3h0m0 13h0m0 52h0m0-16h0m1-32h0m0-2h0m0 8h0m0 127h0m0-63h0m0-54h0m0 36h0m0-33h0m0 58h0m0-97h0m0 32h0m0 53h0m0-12h0m0-37h0m0 23h0m0-25h0m0-10h0m0 9h0m0 102h0m0-46h0m0-23h0m0-44h0m0 56h0m0-17h0m0-43h0m0 84h0m0-12h0m0-71h0m0 88h0m1-56h0m0 10h0m0 31h0m0 10h0m0-99h0m0 48h0m0 24h0m0-56h0m0-10h0m0 58h0m0 8h0m0-73h0m0 151h0m0-121h0m0 25h0m0-17h0m0 25h0m0 28h0m0-104h0m0 125h0m0-104h0m0 134h0m0-104h0m0-6h0m0 0h0m0 45h0m0 42h0m0-69h0m0-58h0m0 63h0m0 52h0m0-4h0m0 7h0m0-36h0m0 67h0m0-75h0m0 54h0m0-125h0m0 35h0m0-6h0m1 30h0m0-5h0m0-31h0m0 49h0m0 65h0m0-109h0m0 7h0m0-60h0m0 92h0m0-22h0m0 63h0m0-34h0m0 2h0m0 2h0m0 0h0m0-6h0m0-28h0m0-36h0m0 42h0m0-46h0m0-11h0m0 37h0m0 40h0m0-43h0m1 82h0m0-46h0m0 0h0m0 64h0m0-21h0m0-69h0m0 0h0m0 88h0m0-131h0m0 27h0m0 16h0m0 35h0m0 109h0m0-84h0m0-17h0m0 37h0m0-21h0m0-106h0m0 52h0m0 25h0m0 13h0m0-86h0m0 65h0m0-54h0m0 45h0m0 40h0m0-51h0m0 101h0m0-47h0m0-107h0m1 28h0m0 59h0m0-35h0m0 68h0m0 19h0m0-62h0m0-27h0m0 2h0m0 69h0m0-92h0m0-26h0m0 54h0m0-52h0m0 79h0m0 62h0m0-62h0m0-6h0m0-39h0m0 63h0m0-32h0m0-25h0m0 102h0m0-140h0m0 145h0m1-84h0m0 93h0m0-33h0m0 59h0m0-141h0m0 59h0m0-5h0m0 58h0m0-144h0m0 87h0m0 10h0m0-69h0m0-38h0m0 2h0m0-3h0m0 73h0m0-37h0m0 82h0m0-20h0m0-66h0m0 27h0m0 12h0m0-16h0m0 53h0m0-46h0m0-66h0m0 85h0m0-30h0m0-7h0m0 27h0m1-33h0m0 32h0m0 8h0m0 48h0m0 51h0m0-5h0m0-96h0m0-4h0m0 4h0m0-1h0m0-23h0m0 59h0m0-28h0m0-36h0m0-47h0m0 49h0m0 127h0m0-117h0m0 98h0m0-124h0m0 19h0m0-23h0m0 115h0m0-94h0m0 31h0m0 11h0m0-6h0m0-105h0m0 86h0m0 103h0m0-137h0m0 34h0m0 10h0m0-23h0m1 12h0m0 15h0m0 17h0m0-51h0m0-19h0m0 111h0m0 18h0m0-172h0m0 101h0m0 33h0m0-14h0m0-71h0m0-13h0m0 93h0m0-45h0m0 7h0m0 25h0m0-27h0m1 63h0m0 34h0m0-105h0m0-1h0m0-22h0m0 105h0m0-50h0m0 3h0m0-39h0m0 116h0m0-84h0m0-120h0m0 174h0m0-58h0m0 24h0m0-95h0m0 87h0m0 14h0m0-55h0m0 0h0m0 18h0m1-84h0m0 64h0m0 5h0m0 8h0m0-47h0m0 3h0m0 61h0m0 51h0m0-84h0m0 60h0m0 23h0m0-63h0m0-73h0m0 61h0m0-14h0m0 117h0m0-142h0m0 41h0m0 31h0m0 23h0m0-1h0m0-25h0m0-25h0m0-94h0m1 164h0m0-53h0m0 40h0m0-44h0m0-51h0m0 15h0m0-11h0m0 1h0m0 29h0m0-52h0m0-18h0m0 16h0m0 98h0m0-12h0m0-104h0m0 151h0m0-45h0m0-27h0m0 0h0m0-41h0m0 47h0m0-21h0m0 99h0m0-74h0m0-78h0m0 123h0m0-110h0m0 85h0m0-63h0m0 16h0m0-42h0m1 87h0m0-82h0m0 91h0m0-23h0m0-93h0m0 59h0m0 26h0m0-13h0m0 0h0m0-94h0m0 59h0m0 13h0m0 28h0m0-70h0m0 85h0m0-46h0m0-34h0m0 57h0m0-4h0m0 19h0m1 35h0m0-80h0m0-29h0m0 31h0m0 32h0m0-41h0m0 69h0m0-98h0m0 68h0m0-2h0m0-63h0m0 136h0m0-99h0m0 40h0m0 50h0m0-80h0m0 38h0m0 46h0m0-172h0m0 145h0m0-56h0m0 26h0m0-12h0m0 26h0m0 14h0m0-17h0m0 8h0m0-44h0m1 68h0m0-14h0m0-103h0m0-2h0m0 78h0m0 41h0m0-13h0m0-13h0m0-13h0m0 24h0m0-12h0m0-48h0m0 64h0m0-70h0m0 78h0m0-74h0m0 74h0m0-68h0m0-71h0m0 116h0m0 37h0m0-64h0m0 27h0m0-17h0m0-60h0m0 3h0m0 52h0m0 17h0m0-29h0m0 33h0m0-93h0m0 92h0m0-46h0m0 49h0m0-117h0m0 125h0m0 7h0m0 55h0m0-90h0m0 49h0m0-45h0m0-33h0m1 45h0m0-97h0m0 71h0m0 61h0m0-48h0m0 1h0m0 36h0m0-62h0m0 74h0m0-115h0m0 39h0m0-24h0m0 50h0m0 57h0m0-77h0m0-34h0m0 149h0m0-80h0m0-21h0m0 53h0m0 17h0m0-71h0m0-40h0m0 5h0m0 40h0m0-23h0m0-40h0m0 169h0m0-13h0m0-94h0m1 39h0m0-17h0m0-95h0m0 42h0m0 84h0m0-153h0m0 126h0m0-41h0m0 8h0m0 62h0m0-115h0m0 69h0m0 61h0m0-68h0m0-23h0m0-13h0m0-21h0m0-16h0m0 109h0m0-45h0m0 32h0m0 33h0m0-17h0m0-47h0m0 63h0m0-77h0m0 14h0m0-99h0m0 109h0m0 3h0m0-22h0m1-12h0m0 26h0m0 30h0m0 35h0m0-60h0m0-82h0m0 148h0m0-53h0m0 73h0m0-100h0m0-48h0m0 53h0m0 93h0m0-89h0m0 18h0m0-52h0m0 35h0m0 29h0m0 3h0m0-43h0m0 53h0m0-48h0m0 21h0m0-30h0m0 4h0m0 34h0m0 11h0m0-73h0m0 35h0m0-78h0m0 158h0m0 9h0m0-56h0m0-70h0m0-23h0m0 115h0m0-26h0m1 13h0m0-76h0m0-18h0m0-15h0m0 19h0m0 62h0m0-40h0m0 61h0m0-108h0m0 19h0m0 94h0m0-84h0m0 73h0m0-77h0m0 62h0m0-26h0m0-110h0m0 157h0m0-65h0m0 53h0m0-48h0m1 51h0m0-70h0m0 22h0m0 91h0m0-92h0m0-60h0m0 25h0m0-17h0m0 27h0m0 61h0m0-119h0m0 70h0m0 52h0m0 2h0m0-25h0m0 65h0m0-13h0m0-75h0m0 22h0m0-12h0m0-8h0m0 3h0m0 53h0m0-54h0m0 89h0m0-54h0m0-105h0m0 187h0m0-105h0m0-7h0m1-48h0m0 48h0m0-1h0m0 18h0m0 61h0m0-17h0m0-82h0m0 95h0m0-20h0m0-13h0m0 45h0m0-44h0m0-26h0m0-118h0m0 131h0m0 8h0m0 29h0m0 3h0m0-73h0m0 48h0m0-19h0m0 29h0m0-58h0m0-16h0m0 39h0m0-17h0m0-31h0m0 13h0m0 59h0m0 1h0m0-2h0m0-18h0m1 0h0m0 76h0m0-39h0m0-33h0m0 25h0m0-31h0m0-17h0m0 7h0m0 25h0m0 10h0m0-113h0m0 65h0m0-2h0m0 103h0m0-109h0m0 42h0m0-106h0m0 92h0m0 19h0m0-67h0m0 14h0m0 22h0m0-19h0m0 44h0m0-119h0m0 127h0m0-29h0m0-73h0m0 111h0m0-39h0m0 0h0m1 54h0m0 66h0m0-186h0m0 116h0m0-67h0m0 114h0m0-32h0m0-135h0m0 82h0m0 73h0m0-57h0m0-56h0m0 38h0m0 51h0m0 4h0m0-31h0m0 2h0m0-61h0m0 148h0m0-87h0m0-65h0m0-6h0m0 41h0m0 39h0m0-5h0m0-12h0m0 50h0m0-36h0m1-13h0m0-20h0m0 58h0m0-36h0m0 7h0m0-3h0m0-61h0m0 5h0m0 56h0m0-94h0m0 82h0m0-68h0m0 78h0m0-7h0m0 11h0m0-3h0m0-38h0m0 77h0m0-70h0m0 12h0m0-8h0m0 37h0m0-96h0m0-3h0m0 150h0m0-35h0m0-46h0m0 30h0m0-51h0m0-16h0m1-19h0m0 14h0m0 72h0m0 2h0m0 54h0m0-198h0m0 134h0m0-8h0m0-29h0m0-66h0m0 47h0m0 26h0m0 14h0m0-16h0m0 71h0m0 0h0m0-18h0m0 37h0m0-107h0m0-48h0m0 54h0m0-1h0m1-25h0m0 11h0m0 1h0m0 97h0m0 0h0m0-86h0m0 37h0m0 39h0m0-50h0m0 22h0m0-20h0m0-38h0m0 101h0m0-12h0m0-1h0m0-52h0m0-68h0m0 50h0m0 80h0m0-104h0m0 34h0m0-59h0m0 9h0m0 46h0m0 27h0m0 24h0m0-9h0m0 4h0m0-18h0m0-57h0m0-25h0m0 54h0m0-34h0m0 30h0m1-13h0m0-2h0m0 34h0m0-63h0m0 7h0m0 21h0m0-47h0m0 61h0m0 35h0m0-5h0m0 2h0m0 3h0m0-30h0m0 9h0m0 15h0m0-41h0m0-9h0m0 85h0m0-67h0m0 7h0m0-37h0m0 121h0m0-37h0m0-22h0m0 34h0m0-70h0m0-38h0m0 90h0m0-63h0m0-11h0m0 63h0m0-52h0m0-24h0m0 43h0m0-38h0m0 47h0m0-36h0m0 45h0m1-4h0m0 12h0m0-36h0m0-98h0m0 24h0m0 98h0m0-14h0m0 150h0m0-130h0m0 14h0m0-51h0m0 28h0m0-8h0m0 37h0m0-35h0m0 66h0m0-97h0m0 92h0m0-22h0m0-26h0m0 4h0m0-34h0m0 60h0m0 17h0m0-109h0m0-2h0m0 60h0m0-12h0m1-2h0m0-1h0m0 77h0m0-55h0m0-1h0m0-63h0m0 114h0m0 32h0m0-29h0m0-108h0m0 40h0m0-50h0m0 61h0m0 6h0m0-22h0m0 43h0m0-66h0m0 26h0m0 69h0m0-39h0m1 27h0m0-82h0m0-27h0m0-7h0m0 29h0m0-4h0m0 200h0m0-63h0m0-56h0m0-68h0m0 53h0m0 15h0m0-24h0m0-3h0m0 18h0m0-84h0m0 17h0m0 5h0m0 5h0m0-14h0m0 28h0m0 34h0m0-22h0m0 4h0m0-92h0m1 159h0m0-36h0m0-17h0m0-21h0m0-61h0m0 175h0m0-94h0m0-8h0m0-13h0m0-57h0m0-9h0m0 49h0m0-2h0m0 29h0m0-9h0m0-55h0m0 92h0m0-41h0m0 139h0m0-109h0m0 70h0m0-75h0m0-13h0m0 93h0m0-107h0m0-18h0m0 30h0m0-67h0m0 96h0m0-3h0m0-106h0m1 126h0m0-61h0m0-25h0m0 99h0m0 21h0m0-63h0m0-72h0m0 13h0m0 40h0m0 59h0m0-45h0m0 39h0m0-34h0m0-38h0m0 9h0m0 49h0m0-90h0m0 101h0m0 15h0m0-79h0m0 33h0m0-22h0m0 72h0m0-32h0m0-3h0m0 4h0m0-108h0m0 124h0m0-123h0m0 69h0m0-21h0m1-31h0m0 47h0m0 6h0m0 9h0m0-26h0m0 26h0m0 42h0m0 3h0m0-21h0m0-67h0m0 29h0m0-28h0m0-58h0m0 123h0m0-4h0m0-49h0m0-57h0m0 134h0m0 18h0m0-92h0m0 19h0m0-14h0m0 30h0m0 73h0m0-86h0m0 21h0m1 41h0m0-164h0m0 166h0m0-169h0m0 103h0m0 16h0m0-30h0m0-16h0m0 63h0m0-47h0m0 22h0m0-36h0m0 77h0m0-39h0m0-20h0m0 49h0m0-84h0m0 38h0m0 120h0m0-150h0m0 8h0m0 18h0m0-32h0m0 56h0m0 35h0m0-165h0m1 104h0m0 17h0m0 10h0m0-17h0m0 19h0m0-73h0m0 91h0m0-56h0m0-15h0m0 59h0m0 15h0m0-15h0m0-104h0m0 57h0m0 21h0m0 27h0m0-47h0m0 17h0m0 30h0m0-40h0m0-46h0m0 55h0m0 27h0m0-5h0m0-46h0m0 58h0m0-52h0m0 115h0m0-98h0m0 66h0m0-84h0m0 8h0m0-50h0m0 57h0m0 68h0m0-76h0m0 32h0m0 9h0m1-18h0m0-1h0m0 39h0m0 45h0m0-106h0m0 23h0m0-92h0m0 83h0m0 21h0m0 24h0m0-67h0m0 72h0m0-65h0m0 23h0m0-57h0m0 25h0m0 50h0m0-183h0m0 157h0m0-15h0m0 27h0m0 18h0m0-64h0m0-14h0m0 13h0m0 117h0m0-119h0m0 93h0m0-26h0m0 48h0m0-75h0m0-54h0m0 60h0m0-35h0m0-19h0m0 5h0m0 69h0m0-24h0m0-72h0m0 111h0m0 9h0m0 1h0m0-79h0m1 80h0m0-79h0m0-29h0m0 55h0m0-32h0m0-32h0m0 43h0m0 21h0m0-63h0m0 53h0m0 10h0m0-27h0m0-1h0m0 35h0m0 17h0m0-98h0m0 62h0m0-96h0m0 120h0m0-42h0m0 116h0m0-126h0m0 49h0m0-28h0m0-16h0m0 43h0m0-25h0m0-7h0m0 73h0m0-125h0m0 58h0m0-58h0m0-4h0m1 30h0m0 61h0m0 29h0m0-84h0m0 15h0m0 48h0m0-69h0m0 92h0m0 30h0m0-64h0m0 1h0m0-20h0m0-14h0m0 1h0m0-43h0m0 135h0m0-49h0m0-8h0m0 70h0m0-107h0m0-17h0m0 101h0m0-54h0m0-13h0m0-20h0m0 31h0m1-31h0m0-28h0m0 68h0m0-2h0m0-19h0m0-24h0m0-51h0m0 99h0m0 35h0m0-59h0m0 128h0m0-121h0m0-36h0m0 78h0m0 11h0m0-97h0m0 70h0m0 10h0m0-29h0m0 1h0m0 75h0m0-66h0m0-25h0m0 69h0m0-88h0m0 44h0m0-9h0m0-32h0m0 22h0m0 82h0m0-59h0m0-18h0m0-24h0m1 103h0m0-128h0m0-12h0m0 79h0m0-89h0m0 28h0m0-13h0m0 127h0m0-50h0m0-45h0m0 111h0m0-71h0m0-58h0m0 97h0m0 29h0m0-77h0m0-85h0m0 80h0m0-45h0m0 4h0m0 93h0m0-5h0m0-75h0m0 25h0m0 30h0m0-98h0m0 76h0m0 19h0m1-2h0m0-56h0m0-5h0m0-60h0m0 137h0m0 29h0m0-58h0m0-9h0m0-52h0m0 80h0m0 42h0m0-70h0m0-35h0m0 121h0m0 13h0m0-116h0m0 40h0m0-2h0m0-96h0m0 23h0m0 80h0m0 7h0m1-26h0m0-19h0m0 49h0m0-142h0m0 161h0m0-45h0m0 119h0m0-194h0m0 117h0m0-79h0m0-20h0m0 68h0m0-2h0m0 13h0m0-94h0m0 36h0m0 33h0m0-7h0m0 36h0m0 17h0m0-86h0m0 78h0m0 2h0m0-55h0m0-32h0m0 20h0m0 83h0m1-25h0m0-54h0m0-5h0m0 63h0m0-105h0m0 84h0m0-89h0m0-9h0m0 75h0m0-10h0m0 55h0m0-10h0m0-77h0m0 67h0m0-51h0m0-6h0m0 101h0m0-67h0m0-76h0m0 90h0m0 23h0m0-87h0m0 54h0m0 41h0m0-39h0m0 3h0m0-3h0m0-89h0m0 44h0m1-1h0m0 53h0m0-34h0m0 42h0m0 15h0m0-40h0m0 81h0m0-124h0m0 26h0m0 49h0m0-23h0m0 72h0m0-40h0m0-33h0m0-63h0m0 35h0m0 107h0m0-119h0m0 27h0m0 16h0m0 31h0m0-87h0m0 115h0m0-38h0m0-54h0m1 14h0m0 58h0m0 33h0m0-109h0m0 66h0m0-12h0m0-14h0m0-8h0m0 21h0m0-78h0m0 69h0m0-47h0m0 119h0m0 58h0m0-120h0m0-21h0m0-60h0m0-20h0m0 126h0m0-50h0m0 36h0m0-124h0m0 154h0m0-61h0m1 19h0m0 40h0m0-31h0m0-60h0m0-24h0m0 77h0m0-11h0m0-19h0m0 49h0m0-22h0m0-10h0m0 60h0m0-73h0m0 79h0m0-88h0m0 9h0m0-2h0m0-10h0m0 55h0m0-71h0m0 20h0m0-51h0m0 174h0m0-120h0m0 19h0m0-8h0m0 41h0m0-56h0m0-3h0m0-45h0m0 47h0m0 86h0m0 56h0m0-268h0m0 105h0m1 61h0m0 65h0m0-170h0m0 85h0m0 12h0m0 12h0m0-147h0m0 127h0m0-12h0m0-8h0m0 7h0m0-15h0m0-1h0m0-15h0m0 2h0m0-1h0m0 76h0m0-104h0m0 35h0m0-14h0m0 26h0m0 63h0m0-49h0m0-3h0m0 88h0m0-18h0m1-54h0m0 53h0m0-86h0m0-36h0m0 49h0m0-54h0m0 131h0m0-76h0m0 92h0m0-75h0m0-22h0m0-20h0m0-12h0m0 70h0m0-64h0m0-74h0m0 78h0m0 65h0m0-25h0m0 67h0m0-127h0m0 4h0m0-19h0m1 44h0m0-50h0m0 92h0m0-27h0m0 74h0m0-63h0m0 31h0m0-131h0m0 111h0m0-37h0m0 40h0m0 25h0m0-12h0m0-47h0m0 50h0m0-32h0m0 84h0m0-87h0m0-30h0m0 16h0m0-43h0m0 5h0m0 85h0m0-5h0m0 38h0m0-98h0m0 35h0m0-67h0m0 80h0m0-48h0m0 39h0m1 4h0m0-102h0m0 79h0m0 25h0m0-57h0m0 25h0m0 7h0m0-35h0m0 91h0m0-45h0m0 31h0m0-77h0m0 55h0m0-13h0m0-57h0m0 9h0m1 53h0m0-26h0m0 12h0m0 89h0m0-69h0m0 39h0m0-39h0m0 11h0m0-64h0m0 43h0m0-38h0m0 10h0m0 85h0m0-127h0m0 116h0m0-10h0m0-12h0m0-8h0m0-16h0m0 68h0m0-64h0m0-30h0m0-21h0m0 61h0m0 2h0m0 4h0m0-52h0m0 95h0m0 12h0m0-123h0m0 76h0m0 29h0m0-28h0m0-59h0m0 70h0m1-79h0m0 82h0m0 8h0m0-59h0m0 42h0m0-91h0m0 51h0m0 69h0m0-56h0m0 38h0m0-93h0m0 35h0m0 57h0m0-71h0m0 81h0m0-74h0m0 15h0m0-43h0m0 40h0m0 50h0m0-151h0m0 74h0m0 76h0m0-2h0m0-15h0m0-78h0m0-22h0m0 48h0m0 17h0m0-28h0m0 60h0m0-41h0m0 24h0m1-18h0m0 16h0m0-28h0m0 59h0m0-8h0m0 61h0m0-56h0m0-24h0m0 25h0m0 4h0m0 0h0m0-24h0m0-3h0m0-49h0m0 23h0m0-58h0m0 31h0m0 53h0m0-35h0m0 57h0m0 20h0m0-17h0m0-60h0m0-56h0m0 76h0m0-66h0m0 133h0m0-88h0m0-16h0m0 54h0m0-17h0m0 6h0m0 23h0m0 5h0m1-13h0m0 14h0m0-72h0m0 6h0m0 57h0m0 10h0m0-29h0m0-37h0m0 70h0m0-34h0m0 31h0m0-86h0m0 16h0m0 24h0m0-26h0m0 12h0m0 61h0m0 35h0m0-100h0m0 50h0m0 18h0m0-59h0m0 16h0m0-69h0m0 118h0m0-53h0m1 10h0m0 10h0m0-51h0m0-14h0m0 114h0m0-92h0m0 19h0m0 55h0m0-80h0m0 11h0m0 85h0m0-102h0m0 72h0m0-65h0m0 77h0m0-4h0m0-56h0m0-52h0m0 86h0m0 14h0m0-16h0m0-35h0m0 76h0m0 44h0m0-90h0m1-23h0m0 87h0m0 3h0m0-66h0m0-50h0m0 63h0m0-3h0m0-20h0m0 90h0m0-98h0m0 57h0m0 18h0m0-60h0m0-71h0m0 33h0m0 10h0m0 1h0m0 92h0m0-79h0m0-1h0m0-22h0m0 24h0m0 10h0m0-40h0m0 46h0m0 70h0m0-161h0m0 116h0m0-49h0m0-8h0m0 21h0m0-22h0m0 118h0m0-143h0m0 36h0m1 60h0m0-52h0m0 31h0m0 58h0m0 3h0m0-86h0m0-16h0m0-9h0m0 27h0m0-14h0m0 38h0m0 45h0m0 11h0m0-166h0m0 23h0m0 44h0m0 16h0m0-30h0m0 20h0m0 29h0m0 5h0m0 2h0m0-7h0m0 0h0m0-56h0m0 57h0m0-16h0m0-62h0m0 87h0m0-45h0m0 1h0m0 15h0m0-31h0m1 43h0m0 59h0m0-24h0m0-17h0m0-32h0m0 32h0m0-37h0m0 49h0m0-26h0m0-16h0m0 15h0m0 3h0m0-17h0m0 29h0m0-70h0m0 35h0m0-30h0m0-31h0m0 15h0m0-19h0m0 76h0m0-7h0m0-5h0m0-55h0m0 41h0m0 45h0m0-67h0m0 30h0m0-32h0m1 39h0m0-36h0m0 107h0m0-59h0m0 37h0m0 66h0m0-70h0m0-155h0m0 33h0m0 84h0m0-28h0m0 41h0m0 50h0m0-105h0m0 53h0m0-8h0m0 27h0m0-45h0m0-78h0m0 16h0m0 204h0m0-115h0m0-43h0m0-8h0m0 136h0m0-67h0m0-86h0m1 65h0m0-21h0m0 64h0m0-33h0m0-9h0m0-45h0m0 20h0m0-5h0m0 39h0m0-1h0m0 17h0m0-64h0m0 18h0m0 36h0m0-4h0m0-26h0m0 17h0m0 5h0m0-32h0m0 30h0m0-16h0m0 0h0m0-30h0m0 65h0m0-97h0m0 61h0m0-16h0m1 4h0m0 71h0m0-25h0m0-78h0m0 63h0m0-71h0m0 63h0m0 30h0m0-17h0m0-15h0m0-95h0m0 129h0m0 30h0m0-31h0m0-15h0m0-76h0m0 66h0m0-5h0m0 61h0m0-86h0m0-5h0m0-35h0m0 104h0m0-25h0m0 37h0m0-115h0m0 6h0m0 10h0m1 54h0m0 6h0m0-38h0m0 46h0m0-112h0m0 121h0m0-77h0m0 41h0m0-48h0m0 75h0m0-68h0m0-13h0m0-49h0m0 131h0m0-53h0m0 65h0m0 0h0m0-6h0m0-8h0m0-71h0m0 2h0m0 46h0m0 1h0m0-39h0m0 124h0m0-64h0m0 37h0m0-44h0m0 4h0m0 16h0m0-92h0m0 30h0m0-8h0m0-42h0m1 107h0m0-95h0m0 18h0m0 52h0m0-2h0m0-23h0m0-21h0m0 6h0m0-32h0m0 112h0m0-110h0m0 43h0m0-125h0m0 140h0m0 81h0m0-77h0m0 36h0m0 5h0m0 28h0m0-28h0m0 39h0m0-79h0m0 36h0m0-40h0m0-71h0m0 61h0m0 47h0m0-103h0m0 34h0m0 55h0m0-64h0m0 95h0m1-87h0m0 23h0m0-24h0m0 87h0m0-52h0m0 37h0m0 52h0m0-148h0m0 63h0m0-60h0m0 114h0m0-45h0m0-3h0m0-42h0m0 35h0m0-8h0m0-17h0m0-9h0m0-13h0m0 16h0m0 27h0m0 1h0m0 30h0m0 14h0m0-86h0m0 81h0m0-28h0m0 1h0m0 43h0m0-11h0m0-29h0m0 32h0m0-36h0m0-14h0m0-21h0m0-19h0m1 115h0m0-41h0m0-103h0m0 56h0m0 94h0m0-100h0m0 42h0m0-17h0m0-48h0m0 68h0m0-17h0m0 35h0m0-63h0m0 66h0m0-67h0m0 18h0m0 31h0m0-36h0m0 15h0m0-4h0m1-10h0m0 38h0m0-68h0m0 27h0m0-12h0m0 12h0m0 50h0m0-3h0m0-23h0m0 6h0m0-17h0m0-11h0m0 8h0m0 77h0m0-52h0m0-40h0m0-4h0m0 49h0m0 2h0m0-84h0m0 91h0m0-107h0m0 98h0m1-21h0m0 53h0m0-73h0m0 15h0m0 65h0m0-44h0m0-37h0m0 100h0m0-51h0m0-63h0m0 72h0m0-55h0m0 3h0m0-2h0m0 26h0m0-7h0m0-24h0m0 20h0m0 51h0m0-40h0m0-63h0m0 12h0m0 74h0m0-54h0m0 125h0m0-133h0m1-83h0m0 112h0m0-37h0m0 39h0m0 28h0m0-35h0m0 27h0m0-72h0m0 75h0m0-37h0m0-32h0m0 53h0m0 50h0m0-73h0m0 39h0m0-35h0m0 28h0m0-80h0m0 28h0m0 61h0m0-55h0m0-19h0m0 31h0m0 96h0m0-123h0m0-15h0m0 52h0m0 28h0m0-86h0m1 26h0m0 15h0m0 35h0m0-15h0m0-23h0m0 55h0m0 17h0m0-33h0m0 36h0m0-75h0m0 47h0m0-61h0m0 9h0m0-45h0m0 91h0m0-70h0m0 26h0m0 46h0m0 25h0m0-17h0m0-8h0m0 70h0m0-32h0m0-11h0m0-123h0m0 77h0m0 60h0m0-60h0m0 19h0m0-6h0m0 48h0m1-193h0m0 200h0m0-82h0m0-12h0m0 98h0m0-115h0m0-5h0m0 18h0m0 34h0m0-66h0m0-12h0m0 61h0m0 9h0m0 33h0m0-12h0m0 2h0m0-43h0m0 64h0m0-66h0m0-47h0m0 116h0m0-85h0m0-11h0m0 109h0m0-89h0m0-20h0m0 113h0m0-49h0m0-57h0m0 60h0m0-73h0m0 19h0m1 18h0m0-6h0m0-8h0m0 37h0m0 22h0m0 35h0m0-125h0m0 17h0m0 53h0m0 28h0m0-21h0m0 19h0m0-13h0m0-16h0m0 2h0m0-73h0m0 83h0m0 25h0m0-41h0m0 22h0m0 80h0m0-130h0m0-39h0m0 84h0m0 40h0m0-93h0m1 117h0m0-4h0m0-122h0m0 76h0m0-70h0m0 13h0m0 22h0m0-69h0m0-18h0m0 87h0m0 16h0m0 42h0m0-38h0m0-47h0m0 42h0m0 79h0m0-76h0m0-11h0m0-19h0m0 73h0m1-61h0m0 70h0m0-16h0m0-78h0m0 37h0m0 39h0m0 16h0m0-37h0m0-35h0m0-39h0m0 62h0m0-7h0m0-4h0m0-43h0m0 44h0m0-28h0m0-5h0m0-44h0m0 44h0m0 28h0m0 12h0m0 26h0m0 19h0m0-61h0m0 10h0m0 55h0m1-16h0m0-35h0m0 18h0m0 33h0m0-27h0m0-94h0m0 128h0m0-88h0m0 5h0m0 52h0m0-34h0m0-6h0m0-38h0m0 11h0m0 30h0m0 1h0m0 17h0m0-28h0m1 16h0m0-21h0m0-9h0m0 9h0m0-92h0m0 171h0m0-113h0m0 93h0m0 11h0m0-106h0m0 61h0m0-3h0m0 17h0m0-53h0m0 46h0m0-31h0m0 20h0m0 17h0m0-66h0m0 14h0m0-28h0m0 169h0m0-136h0m0 29h0m0 70h0m0-99h0m0 30h0m0 12h0m0-64h0m0 70h0m0 19h0m0-89h0m0 82h0m1 9h0m0-60h0m0-25h0m0-4h0m0 64h0m0-12h0m0-52h0m0-3h0m0 58h0m0-84h0m0 119h0m0 18h0m0-73h0m0 44h0m0 12h0m0-39h0m0-5h0m0-6h0m0-6h0m0-24h0m0 87h0m0-138h0m0 166h0m0-47h0m0-25h0m0-12h0m0 79h0m0-101h0m0-15h0m1 12h0m0 33h0m0-16h0m0 17h0m0-16h0m0 47h0m0 31h0m0-34h0m0-43h0m0 115h0m0-154h0m0 75h0m0-1h0m0-11h0m0 27h0m0-122h0m0-2h0m0 138h0m0-47h0m0 30h0m0-50h0m0 75h0m0 52h0m0-60h0m0-88h0m0-17h0m0-7h0m0 11h0m0-24h0m0 140h0m0-153h0m0 95h0m1 19h0m0-51h0m0-10h0m0 17h0m0-33h0m0 40h0m0 75h0m0-70h0m0-61h0m0 98h0m0-33h0m0 55h0m0-52h0m0 32h0m0 12h0m0-95h0m0-47h0m0 74h0m0-36h0m0 163h0m0-119h0m0 63h0m0-48h0m0-2h0m0 7h0m0 26h0m0-59h0m0 31h0m0 18h0m0-71h0m0 15h0m1 9h0m0-3h0m0 106h0m0-96h0m0-13h0m0 54h0m0-75h0m0 90h0m0-135h0m0 13h0m0 109h0m0 50h0m0-64h0m0-30h0m0 3h0m0-12h0m0 22h0m0 7h0m0 42h0m0 16h0m1 5h0m0-56h0m0 38h0m0-56h0m0-67h0m0 14h0m0 34h0m0-18h0m0 93h0m0 24h0m0-76h0m0-10h0m0 74h0m0-70h0m0 47h0m0-14h0m0-28h0m0-16h0m0 68h0m0-62h0m0 2h0m0 74h0m0-116h0m0 30h0m0 93h0m0-63h0m0-86h0m0 42h0m1 65h0m0-79h0m0 7h0m0 75h0m0-112h0m0 119h0m0-38h0m0-25h0m0 54h0m0-14h0m0-50h0m0-75h0m0 105h0m0 65h0m0-33h0m0-53h0m0 45h0m0-59h0m0 63h0m0 33h0m0-35h0m0 88h0m0-114h0m0 5h0m0 18h0m0 24h0m0-6h0m0-63h0m0 22h0m0 53h0m0-96h0m0 78h0m0-121h0m0 151h0m0-79h0m0 31h0m0 10h0m1-31h0m0-34h0m0 141h0m0-119h0m0 21h0m0-36h0m0 71h0m0-2h0m0-62h0m0 41h0m0 54h0m0 12h0m0-95h0m0 28h0m0-83h0m0 24h0m0 9h0m0 52h0m0 79h0m0-168h0m0 117h0m0-66h0m0 26h0m0 5h0m0-23h0m0-25h0m0 24h0m0-3h0m0 67h0m0-75h0m0 52h0m0-33h0m0-22h0m0 9h0m0-37h0m0 163h0m0-18h0m0-9h0m1-81h0m0 36h0m0 14h0m0 39h0m0-92h0m0-29h0m0-14h0m0 91h0m0-25h0m0-57h0m0 38h0m0-83h0m0 59h0m0 84h0m0-43h0m0-86h0m0 88h0m0-9h0m0 37h0m0-91h0m0-2h0m0 23h0m0-12h0m0 38h0m0-16h0m0-70h0m0 112h0m0-64h0m0-10h0m0 81h0m0 15h0m0-37h0m0-34h0m1 36h0m0 43h0m0 8h0m0-86h0m0-14h0m0 57h0m0-9h0m0 13h0m0-95h0m0 143h0m0-130h0m0 41h0m0 18h0m0 14h0m0 4h0m0 17h0m0-120h0m0 103h0m0-10h0m0-23h0m0 37h0m0-88h0m0 145h0m0-96h0m0 25h0m0-39h0m0 81h0m0-68h0m0 1h0m0 105h0m0-82h0m0 2h0m0-4h0m1-7h0m0 17h0m0 12h0m0-30h0m0-46h0m0 14h0m0 87h0m0 49h0m0-62h0m0-14h0m0 53h0m0-31h0m0-62h0m0 2h0m0-4h0m0-26h0m0 25h0m0 17h0m0 26h0m0-42h0m0-4h0m0 24h0m0-5h0m0-29h0m0 79h0m0 7h0m0-97h0m0-75h0m0 163h0m0-87h0m0 68h0m0-64h0m0 121h0m0-103h0m0 74h0m0-77h0m0 33h0m0 5h0m1-3h0m0 12h0m0-20h0m0-71h0m0 78h0m0 10h0m0-50h0m0-5h0m0 55h0m0-46h0m0 87h0m0-119h0m0 33h0m0-66h0m0 127h0m0-50h0m0-58h0m0 44h0m0 45h0m0 31h0m0-52h0m0 25h0m0 17h0m0-151h0m0 89h0m1 60h0m0-71h0m0 16h0m0-3h0m0 29h0m0 53h0m0-146h0m0 44h0m0 19h0m0 58h0m0-111h0m0 122h0m0-31h0m0-71h0m0 5h0m0 158h0m0-100h0m0-40h0m0 19h0m0 82h0m0-71h0m0-52h0m0 14h0m0 108h0m0-62h0m0 96h0m0-98h0m0 6h0m0 82h0m0-72h0m0-87h0m0 127h0m0-153h0m0 47h0m0 94h0m0 37h0m0-108h0m0-28h0m0 89h0m0-76h0m0 34h0m0-14h0m0 9h0m1 40h0m0 68h0m0-56h0m0-40h0m0 31h0m0-40h0m0-130h0m0 113h0m0 67h0m0 21h0m0 13h0m0-78h0m0-87h0m0 162h0m0-62h0m0-137h0m0 119h0m0 27h0m0-34h0m0 53h0m0-59h0m0 15h0m0-51h0m0-21h0m0 27h0m0 49h0m0-68h0m0 37h0m0-26h0m0 4h0m0 41h0m0-23h0m0 112h0m0-33h0m0-42h0m0-71h0m0 108h0m0 35h0m1-76h0m0 16h0m0-17h0m0 13h0m0-10h0m0 19h0m0-16h0m0-26h0m0-14h0m0 31h0m0 4h0m0-20h0m0 32h0m0-8h0m0-7h0m0-3h0m0-67h0m0 69h0m0 33h0m0-26h0m0 90h0m0-92h0m0 13h0m0-24h0m0 16h0m1 98h0m0-220h0m0 84h0m0 61h0m0-21h0m0-1h0m0 2h0m0-13h0m0-67h0m0 87h0m0 42h0m0 5h0m0-59h0m0 51h0m0-39h0m0-46h0m0 14h0m0 3h0m0-16h0m0 57h0m0-72h0m0 7h0m0 72h0m0-29h0m0 40h0m0-29h0m0-57h0m0 59h0m0-29h0m0-25h0m0 54h0m0-55h0m0 54h0m0-33h0m1 49h0m0-8h0m0-92h0m0 100h0m0-34h0m0 43h0m0 20h0m0 0h0m0-281h0m1 20h0m1-78h0m0 16h0m0 62h0m0-54h0m0-19h0m0-66h0m0 19h0m0 50h0m0 24h0m1 187h0m0-249h0m0 5h0m0 12h0m0 59h0m0-20h0m0-11h0m0 24h0m0 13h0m0-114h0m0 71h0m0-72h0m0 94h0m0-76h0m0 163h0m0-98h0m0-32h0m0 69h0m0 25h0m0-80h0m0 43h0m0-58h0m1-7h0m0-36h0m0 49h0m0 109h0m0-69h0m0 15h0m0 20h0m0-42h0m0-39h0m0-3h0m0 40h0m0-3h0m0 34h0m0-9h0m0 9h0m0-35h0m0-3h0m0 19h0m0-87h0m0 72h0m0-30h0m0 22h0m0 40h0m0 15h0m0-46h0m0 21h0m0-74h0m0-1h0m0 34h0m0-28h0m1 57h0m0-7h0m0-5h0m0 34h0m0-133h0m0 167h0m0-160h0m0 146h0m0-106h0m0-18h0m0 106h0m0-77h0m0 31h0m0-11h0m0-49h0m0-15h0m0 89h0m0-8h0m0-140h0m0 183h0m0 5h0m0 24h0m0-17h0m0-72h0m0 64h0m0-1h0m0 59h0m0-192h0m0 142h0m0-122h0m0 106h0m0-100h0m0 84h0m0 61h0m0-77h0m0 68h0m0-55h0m0 25h0m0-47h0m1-58h0m0 62h0m0-33h0m0 63h0m0 31h0m0-54h0m0-12h0m0-89h0m0 79h0m0 18h0m0 34h0m0 17h0m0-98h0m0 116h0m0-72h0m0 38h0m0-90h0m0 30h0m0 23h0m0 27h0m0-16h0m0 32h0m0-46h0m0 58h0m0-84h0m0 82h0m0-22h0m0-45h0m0-35h0m0-19h0m1 3h0m0 52h0m0 39h0m0 6h0m0-53h0m0-34h0m0 52h0m0-65h0m0 41h0m0 49h0m0-74h0m0 78h0m0-119h0m0 127h0m0-78h0m0-16h0m0 86h0m0-22h0m0 44h0m0-53h0m1-35h0m0 43h0m0-13h0m0 65h0m0-131h0m0 178h0m0-145h0m0 72h0m0-41h0m0 0h0m0-77h0m0 46h0m0 84h0m0-53h0m0-6h0m0-23h0m0 75h0m0-19h0m0 19h0m0-104h0m0 69h0m0 79h0m0-101h0m0 15h0m0 133h0m0-158h0m0 66h0m0-18h0m0 28h0m0-77h0m0 19h0m0 8h0m0 47h0m0-94h0m1 88h0m0-36h0m0 4h0m0-8h0m0-32h0m0 57h0m0 28h0m0-48h0m0-83h0m0 66h0m0-7h0m0 15h0m0 35h0m0-94h0m0 90h0m0-72h0m0 86h0m0-54h0m0-37h0m0 104h0m0-18h0m0-49h0m0 22h0m0-21h0m0 33h0m1-81h0m0 137h0m0-134h0m0 63h0m0 16h0m0-2h0m0-13h0m0 8h0m0 24h0m0 3h0m0-36h0m0 53h0m0-19h0m0-115h0m0 89h0m0-27h0m0-74h0m0 47h0m0 57h0m0-27h0m0 36h0m0 14h0m0-91h0m0 54h0m0 47h0m0-20h0m0-20h0m0-15h0m0 54h0m0-1h0m0-36h0m0-58h0m0 58h0m0-100h0m1 56h0m0-28h0m0 51h0m0 35h0m0-4h0m0 4h0m0-30h0m0 61h0m0-103h0m0-28h0m0 127h0m0-36h0m0-74h0m0 71h0m0-2h0m0-3h0m0-32h0m0 68h0m0-8h0m0-44h0m0 13h0m0-41h0m0 24h0m0 15h0m0 18h0m0 6h0m0-32h0m0-6h0m0 19h0m1 28h0m0 14h0m0-39h0m0 23h0m0-85h0m0 19h0m0 36h0m0 71h0m0-147h0m0 163h0m0-154h0m0 100h0m0 5h0m0 36h0m0-82h0m0-75h0m0-10h0m0 152h0m0-85h0m0 77h0m0-67h0m0 52h0m0-2h0m0-44h0m0 17h0m0 3h0m0 38h0m0-37h0m0-6h0m0-8h0m0-16h0m0-10h0m0-29h0m1 73h0m0-47h0m0 31h0m0 43h0m0-3h0m0-98h0m0 43h0m0-38h0m0 95h0m0-94h0m0 146h0m0-126h0m0-3h0m0 20h0m0-5h0m0 50h0m0-14h0m0-29h0m0 35h0m0-77h0m0 42h0m0-61h0m0 88h0m0 18h0m0 32h0m0-86h0m0 83h0m0-110h0m0 93h0m0-68h0m0 11h0m1-19h0m0 46h0m0-34h0m0 8h0m0 16h0m0-15h0m0 67h0m0-69h0m0 13h0m0 13h0m0 44h0m0-85h0m0 35h0m0-7h0m0 81h0m0-117h0m0 0h0m0 50h0m0-2h0m0 11h0m0-45h0m0 108h0m0-131h0m0 82h0m0-78h0m0 47h0m0-72h0m1 36h0m0 21h0m0-24h0m0 46h0m0-30h0m0 31h0m0-64h0m0 163h0m0-91h0m0 33h0m0-166h0m0 75h0m0 56h0m0 83h0m0-109h0m0 64h0m0-114h0m0 49h0m0 14h0m0 21h0m0-104h0m0 64h0m0 14h0m0-11h0m0 44h0m0-33h0m0 16h0m0-60h0m1 85h0m0-97h0m0 27h0m0-57h0m0 7h0m0 98h0m0-19h0m0-90h0m0 62h0m0 65h0m0-2h0m0 2h0m0-108h0m0 117h0m0-81h0m0 59h0m0-105h0m0 99h0m0-107h0m0 54h0m0-4h0m0 97h0m0-86h0m0-38h0m0 35h0m0 45h0m0 7h0m0-36h0m1 19h0m0 49h0m0 1h0m0 0h0m0 5h0m0-122h0m0 28h0m0 54h0m0-37h0m0 5h0m0 83h0m0-48h0m0 44h0m0-85h0m0 51h0m0 39h0m0-30h0m0-65h0m0-13h0m0-14h0m0 81h0m0-69h0m0 7h0m0 35h0m0 109h0m0-28h0m0-97h0m0-27h0m0 113h0m0-164h0m0 110h0m0-69h0m1 14h0m0 34h0m0-63h0m0 54h0m0 7h0m0-82h0m0 70h0m0 0h0m0-15h0m0 2h0m0 21h0m0-23h0m0 43h0m0-45h0m0-33h0m0 78h0m0-26h0m0 53h0m0-37h0m0 23h0m0 0h0m0-53h0m0 21h0m0-53h0m0 91h0m0-100h0m0 59h0m0-19h0m0 74h0m0-58h0m0-6h0m0 75h0m0-132h0m0 54h0m0 38h0m0-27h0m0-26h0m1 35h0m0-91h0m0 110h0m0 9h0m0-42h0m0 117h0m0-178h0m0 61h0m0 60h0m0-105h0m0 53h0m0-15h0m0 3h0m0-10h0m0 1h0m0-52h0m0 68h0m0-16h0m0 43h0m0-16h0m0 34h0m0 18h0m0-49h0m0 77h0m0-98h0m0 12h0m0 54h0m1 39h0m0-94h0m0-21h0m0 151h0m0-98h0m0-52h0m0-3h0m0 23h0m0 7h0m0 6h0m0-41h0m0-12h0m0 76h0m0-79h0m0 42h0m0 4h0m0-18h0m0-7h0m0 112h0m0-84h0m0-60h0m0 56h0m0 74h0m0-25h0m0-96h0m0-10h0m0 34h0m0 63h0m0-90h0m0-24h0m0 167h0m0-143h0m0 51h0m0 43h0m0 2h0m0-59h0m0 38h0m0 20h0m0-99h0m1 124h0m0-112h0m0 46h0m0-32h0m0 18h0m0-26h0m0 16h0m0 23h0m0 10h0m0-52h0m0 44h0m0-31h0m0 21h0m0 13h0m0-101h0m0 77h0m0-41h0m0 34h0m0 77h0m0-39h0m0 5h0m0-73h0m0 102h0m0-49h0m0-103h0m0 135h0m0-61h0m0 29h0m0-56h0m0 104h0m0-53h0m0 33h0m0-4h0m0-53h0m0 42h0m0-17h0m1 48h0m0-45h0m0 2h0m0-18h0m0 20h0m0-18h0m0-22h0m0 45h0m0 22h0m0-12h0m0-56h0m0 21h0m0-68h0m0 197h0m0-126h0m0-52h0m0 124h0m0-83h0m0-9h0m0 7h0m0 69h0m0-80h0m0 41h0m0 29h0m0-39h0m0-72h0m0 143h0m0-105h0m0 13h0m0-4h0m0 69h0m0-39h0m0-54h0m0 125h0m1-33h0m0 80h0m0-142h0m0 48h0m0-6h0m0 78h0m0-166h0m0 107h0m0-52h0m0 39h0m0-43h0m0-18h0m0 110h0m0 52h0m0-77h0m0-51h0m0 13h0m0 5h0m0-41h0m0 12h0m0 83h0m0-59h0m0-46h0m0 79h0m0-69h0m0 32h0m0-45h0m0-41h0m0 74h0m0 12h0m0 18h0m1 29h0m0-87h0m0-50h0m0 115h0m0-102h0m0 126h0m0-43h0m0-22h0m0-16h0m0 18h0m0 3h0m0-45h0m0 15h0m0 39h0m0 97h0m0-74h0m0-5h0m0-83h0m0 73h0m0-3h0m0 16h0m0-41h0m0 81h0m0 27h0m0-13h0m0-3h0m1-59h0m0 20h0m0-20h0m0 62h0m0-62h0m0-52h0m0 44h0m0-60h0m0 38h0m0-11h0m0 77h0m0-76h0m0 2h0m0-57h0m0 48h0m0 40h0m0 82h0m0-84h0m0-26h0m0 56h0m0 6h0m0-53h0m0 45h0m0-124h0m0 144h0m0-5h0m0 13h0m0-83h0m0-38h0m0 106h0m0-57h0m1-13h0m0 22h0m0-33h0m0 45h0m0-10h0m0-105h0m0 108h0m0-38h0m0 44h0m0 40h0m0-145h0m0 111h0m0-103h0m0 8h0m0 28h0m0 38h0m0-38h0m0-8h0m0 140h0m0-11h0m0-5h0m0-28h0m0-18h0m0-38h0m0 94h0m0-91h0m1-55h0m0 85h0m0-35h0m0-23h0m0 56h0m0-13h0m0 4h0m0-31h0m0 37h0m0-23h0m0-27h0m0 42h0m0-20h0m0 77h0m0-52h0m0 34h0m0-43h0m0 44h0m0-25h0m0 14h0m0-88h0m0 85h0m0 14h0m0-88h0m0 22h0m1 54h0m0-28h0m0-58h0m0 49h0m0 35h0m0-88h0m0 48h0m0-12h0m0 45h0m0 23h0m0-31h0m0-63h0m0 40h0m0 77h0m0-52h0m0 7h0m0 67h0m0-99h0m0 25h0m0 11h0m0-36h0m0 23h0m0 52h0m0-76h0m0 27h0m0-24h0m0 47h0m0-36h0m0 104h0m0-126h0m1-2h0m0-6h0m0-18h0m0 15h0m0 91h0m0-4h0m0-43h0m0-9h0m0-22h0m0-7h0m0 47h0m0-61h0m0 74h0m0-50h0m0 16h0m0-52h0m0-65h0m0 131h0m0-10h0m0 5h0m0-14h0m0-2h0m0 31h0m0-6h0m0-44h0m0 58h0m0-58h0m1 8h0m0 4h0m0 87h0m0-4h0m0-36h0m0 26h0m0-73h0m0 56h0m0-2h0m0 40h0m0-101h0m0 32h0m0 9h0m0-47h0m0 25h0m0 39h0m0 59h0m0-116h0m0-19h0m0 21h0m0 56h0m0 78h0m0-135h0m0 1h0m0 13h0m0 11h0m0-39h0m0 102h0m0-125h0m0 50h0m1 45h0m0-69h0m0 57h0m0-56h0m0-18h0m0 37h0m0-29h0m0 47h0m0-17h0m0 76h0m0-18h0m0-12h0m0-9h0m0 67h0m0-98h0m0-4h0m0 51h0m0-20h0m0-15h0m0-35h0m0 39h0m0 20h0m1-61h0m0-7h0m0 50h0m0 65h0m0-101h0m0 24h0m0 33h0m0 32h0m0-40h0m0-13h0m0 79h0m0-138h0m0 43h0m0 97h0m0-46h0m0-32h0m0-72h0m0 56h0m0 77h0m0-24h0m0-124h0m0 83h0m0 7h0m0-53h0m0 26h0m0 38h0m0-8h0m0-22h0m0-19h0m0 25h0m0 13h0m0 71h0m0-121h0m1-19h0m0 62h0m0-24h0m0 21h0m0-79h0m0 21h0m0 59h0m0 6h0m0-8h0m0 6h0m0-34h0m0 49h0m0-3h0m0 25h0m0-16h0m0 19h0m0-24h0m0-80h0m0 74h0m0-8h0m0 2h0m0-24h0m0-26h0m0 39h0m0-48h0m0 63h0m1-20h0m0-70h0m0 113h0m0-21h0m0-38h0m0-116h0m0 102h0m0 44h0m0-39h0m0 14h0m0 61h0m0-80h0m0-19h0m0-32h0m0 89h0m0 30h0m0-39h0m0-31h0m0 1h0m0 28h0m0 34h0m0 78h0m0-211h0m0 99h0m0 52h0m0-38h0m0-10h0m0-67h0m0 129h0m0-55h0m0-62h0m0 60h0m0-10h0m0-36h0m0 22h0m0 6h0m0 90h0m1-150h0m0 10h0m0 68h0m0-68h0m0 129h0m0-63h0m0 2h0m0-49h0m0 31h0m0 8h0m0-4h0m0 8h0m0 90h0m0-134h0m0 46h0m0-11h0m0-40h0m0 90h0m0-146h0m0 187h0m0-141h0m0 64h0m0 27h0m0 36h0m0-59h0m0 3h0m0 31h0m0-31h0m0-92h0m0 92h0m0 10h0m0-17h0m0 42h0m1-33h0m0 19h0m0-103h0m0 30h0m0 29h0m0-92h0m0 46h0m0 34h0m0-41h0m0 17h0m0 28h0m0 3h0m0 41h0m0-31h0m0 9h0m0 28h0m0 65h0m0-23h0m0-26h0m0-41h0m0 62h0m0-62h0m0-21h0m0-13h0m0 10h0m0-82h0m0 89h0m0-36h0m0 73h0m0-8h0m0-31h0m0 23h0m0 47h0m0-67h0m0-2h0m0 16h0m0 24h0m0-72h0m0 64h0m0-25h0m0-10h0m0 110h0m0-88h0m0-56h0m0 59h0m1-16h0m0 45h0m0-93h0m0-7h0m0 5h0m0 46h0m0 63h0m0-128h0m0 71h0m0-40h0m0 120h0m0-6h0m0-87h0m0 23h0m0-23h0m0-18h0m0 30h0m0 99h0m0-179h0m0 81h0m0 2h0m0-18h0m0-10h0m0 129h0m0-157h0m0 18h0m0 90h0m0-26h0m0 24h0m0 3h0m0-80h0m0 90h0m1-92h0m0 39h0m0 33h0m0-11h0m0-70h0m0 69h0m0 29h0m0-98h0m0 16h0m0 113h0m0-47h0m0-25h0m0-54h0m0 69h0m0-56h0m0-27h0m0 59h0m0 21h0m0-67h0m0 85h0m0-10h0m1-107h0m0 150h0m0-120h0m0 31h0m0 38h0m0-36h0m0-70h0m0 138h0m0-88h0m0 10h0m0-47h0m0 12h0m0-52h0m0 102h0m0-51h0m0 114h0m0-26h0m0 46h0m0-63h0m0 41h0m0-7h0m0-112h0m0 15h0m0 6h0m0 48h0m0-63h0m0 81h0m0 54h0m0-74h0m0 27h0m1-41h0m0-16h0m0 62h0m0-61h0m0 111h0m0-31h0m0-130h0m0 111h0m0-57h0m0 26h0m0 29h0m0 17h0m0-89h0m0-11h0m0 46h0m0 24h0m0-55h0m0 45h0m1 20h0m0-22h0m0-19h0m0-72h0m0 79h0m0-11h0m0 6h0m0-10h0m0-18h0m0-4h0m0 90h0m0-32h0m0-80h0m0 70h0m0-87h0m0 77h0m0 9h0m0-58h0m0 81h0m0 45h0m0-112h0m0-18h0m0 67h0m0-68h0m0 87h0m0-87h0m0 118h0m0-137h0m0 143h0m0-88h0m0 90h0m0-150h0m1 16h0m0 61h0m0-44h0m0 60h0m0-43h0m0 86h0m0-3h0m0-59h0m0 25h0m0-86h0m0 87h0m0-9h0m0-2h0m0-7h0m0 43h0m0-24h0m0 0h0m0-54h0m0 35h0m0-34h0m0-1h0m0 67h0m0-43h0m1 14h0m0-71h0m0-52h0m0 192h0m0-117h0m0-11h0m0 74h0m0 18h0m0-42h0m0-60h0m0 37h0m0 40h0m0-44h0m0 64h0m0-87h0m0 0h0m0 45h0m0-22h0m0-12h0m0 31h0m0 69h0m0-47h0m0-67h0m0 82h0m0-27h0m0 24h0m0-44h0m0 31h0m0 0h0m0-23h0m0 1h0m0 11h0m0 23h0m0-46h0m0-69h0m0 57h0m1 48h0m0 33h0m0-118h0m0 104h0m0-72h0m0 29h0m0 37h0m0-67h0m0 85h0m0-40h0m0-37h0m0-1h0m0 16h0m0 52h0m0-101h0m0 44h0m0-61h0m0 63h0m0-8h0m0 59h0m0-18h0m0 0h0m0 35h0m0-7h0m0-83h0m0 86h0m0-55h0m0 15h0m0 41h0m0-52h0m0-10h0m0 55h0m0-70h0m0 121h0m0-59h0m1-43h0m0-12h0m0-23h0m0 56h0m0-91h0m0 110h0m0 15h0m0-124h0m0-17h0m0 135h0m0-1h0m0 38h0m0-30h0m0-55h0m0 55h0m0-11h0m0-31h0m0-9h0m0 20h0m0 31h0m0-73h0m0-5h0m0 22h0m0 40h0m0-21h0m0 16h0m0-1h0m1-20h0m0 77h0m0-50h0m0-34h0m0-54h0m0 63h0m0 9h0m0-23h0m0-7h0m0 24h0m0-92h0m0 75h0m0 14h0m0-8h0m0 7h0m0-1h0m0-68h0m0 54h0m0 30h0m0-11h0m0 16h0m0 20h0m0-63h0m0 65h0m0-42h0m0-8h0m0-17h0m0 35h0m0 12h0m0-5h0m0-59h0m0 68h0m0-16h0m0-150h0m0 140h0m0-16h0m0 62h0m1-71h0m0 95h0m0-118h0m0-43h0m0 62h0m0 40h0m0-55h0m0 89h0m0-82h0m0-30h0m0 20h0m0-13h0m0 74h0m0 54h0m0-92h0m0 61h0m0-104h0m0 63h0m0 33h0m0 10h0m0-31h0m0 39h0m0-172h0m0 104h0m0 67h0m0-82h0m0 89h0m0-22h0m0-27h0m0-7h0m0-14h0m0 12h0m0-58h0m0 51h0m0 2h0m0 39h0m0 20h0m0 0h0m0-81h0m1 29h0m0-15h0m0-5h0m0-93h0m0 132h0m0-8h0m0 8h0m0 15h0m0-37h0m0-5h0m0 56h0m0-48h0m0 65h0m0-57h0m0-15h0m0 18h0m0 6h0m0 18h0m0-95h0m0-2h0m0 62h0m0-33h0m0-74h0m0 115h0m0-50h0m0 54h0m0 4h0m0-20h0m0 37h0m0-7h0m0 77h0m0-74h0m0-84h0m0-37h0m0 66h0m0 8h0m0 38h0m0-10h0m0-2h0m0-42h0m1-15h0m0-8h0m0-22h0m0 112h0m0-31h0m0-11h0m0 0h0m0 53h0m0-6h0m0-70h0m0 65h0m0-45h0m0-8h0m0 30h0m0-76h0m0 83h0m0 4h0m1 11h0m0-10h0m0-2h0m0 2h0m0-18h0m0 54h0m0-201h0m0 94h0m0 82h0m0-48h0m0 15h0m0-17h0m0 23h0m0 42h0m0-49h0m0 58h0m0-22h0m0-37h0m0-5h0m0 29h0m0-68h0m0 76h0m0-37h0m0 11h0m0 67h0m0-26h0m0-121h0m0 90h0m0 9h0m0-51h0m0 1h0m0 19h0m0 39h0m0-88h0m0 52h0m0 9h0m0 7h0m1 85h0m0-169h0m0 37h0m0 37h0m0 39h0m0 39h0m0-61h0m0-72h0m0 98h0m0-84h0m0 64h0m0 28h0m0-64h0m0-27h0m0-15h0m0-4h0m0-52h0m0 101h0m0 64h0m0-87h0m0-13h0m0 16h0m0 60h0m0-105h0m0 55h0m0 122h0m0-115h0m0 20h0m0 34h0m0-22h0m0-106h0m1 113h0m0-141h0m0 123h0m0 16h0m0-75h0m0 138h0m0-50h0m0-83h0m1 245h0m1-112h0m0 154h0m0 72h0m0-104h0m0 95h0m0-18h0m0-88h0m0 54h0m0 52h0m1-48h0m0-25h0m0 5h0m0 76h0m0-80h0m0 9h0m0 36h0m0 7h0m0-22h0m0 51h0m0-28h0m0-40h0m0 69h0m0 11h0m0 0h0m0-46h0m0 31h0m0 1h0m0-68h0m0 46h0m0-1h0m0-4h0m0-32h0m0 39h0m0-10h0m0-127h0m0 48h0m0 60h0m0 121h0m0-158h0m0 40h0m0-40h0m0 28h0m0-70h0m0 65h0m1-35h0m0 19h0m0-4h0m0 67h0m0-58h0m0-3h0m0 72h0m0-120h0m0 88h0m0-45h0m0 16h0m0 37h0m0-58h0m0 66h0m0-25h0m0 42h0m0 7h0m0-33h0m0-104h0m0 123h0m0-49h0m0-25h0m0 36h0m0 23h0m0-84h0m1 149h0m0-68h0m0-62h0m0 3h0m0 33h0m0-6h0m0 87h0m0-77h0m0 15h0m0-14h0m0 55h0m0-96h0m0 21h0m0 36h0m0-64h0m0 79h0m0-15h0m0 13h0m0-42h0m0 52h0m0-67h0m0 83h0m0-16h0m0-29h0m0 22h0m0 10h0m1 5h0m0-19h0m0-37h0m0 53h0m0-3h0m0-14h0m0-52h0m0-4h0m0 31h0m0-36h0m0 90h0m0 11h0m0 7h0m0-136h0m0 20h0m0 62h0m0 52h0m0-81h0m0-43h0m0-32h0m0 108h0m0 51h0m0-85h0m0 71h0m0-73h0m0-15h0m0 6h0m0 31h0m0 11h0m0-56h0m0-1h0m0-50h0m0 48h0m0 70h0m0-37h0m0 58h0m0-80h0m0 72h0m1-71h0m0-5h0m0-67h0m0 51h0m0 81h0m0-18h0m0 1h0m0 27h0m0-12h0m0-13h0m0-40h0m0 50h0m0 51h0m0-155h0m0 114h0m0-71h0m0-18h0m0 72h0m0 40h0m0-35h0m0-58h0m0 6h0m0 46h0m0-30h0m0-14h0m0 52h0m0 16h0m0-32h0m0 71h0m0-104h0m0 71h0m0-24h0m1-26h0m0-45h0m0 41h0m0 47h0m0-42h0m0 111h0m0-64h0m0-26h0m0-88h0m0 32h0m0-23h0m0 21h0m0 75h0m0-31h0m0-17h0m0 110h0m0-80h0m0-17h0m0-57h0m0 102h0m0-42h0m0-45h0m0-35h0m0 7h0m0 95h0m0 33h0m0-92h0m0-21h0m0 105h0m0-23h0m0-21h0m0 13h0m0-53h0m1 43h0m0-74h0m0 108h0m0-57h0m0-31h0m0 16h0m0 42h0m0-75h0m0 14h0m0 29h0m0-5h0m0 12h0m0 4h0m0 26h0m0-61h0m0 13h0m0 7h0m0 54h0m0-38h0m0-39h0m0 94h0m0-23h0m0-85h0m0 65h0m0-103h0m0 81h0m0 2h0m0 32h0m1-6h0m0-49h0m0 24h0m0-60h0m0 134h0m0-38h0m0 9h0m0-55h0m0 101h0m0-34h0m0 4h0m0-96h0m0-9h0m0 45h0m0-9h0m0-27h0m0 23h0m0 17h0m0-2h0m0-16h0m0 62h0m0-69h0m0 11h0m0 43h0m0-41h0m0-4h0m0-2h0m0 35h0m0 21h0m0-22h0m0-11h0m0-127h0m1 121h0m0-27h0m0-61h0m0 49h0m0 74h0m0 40h0m0 5h0m0-61h0m0 27h0m0-84h0m0 36h0m0 28h0m0-41h0m0-68h0m0 42h0m0 11h0m0 68h0m0-31h0m0 40h0m0-13h0m0-18h0m0 54h0m0-97h0m0-91h0m0 177h0m0-22h0m0-32h0m0 38h0m1-3h0m0-2h0m0-51h0m0 52h0m0-15h0m0-1h0m0-40h0m0 44h0m0-8h0m0 34h0m0 30h0m0-71h0m0-42h0m0 55h0m0-52h0m0 55h0m0-36h0m0-61h0m0 22h0m0-17h0m0 55h0m0 30h0m0 49h0m0-16h0m0-115h0m0 11h0m0 45h0m1 51h0m0-77h0m0 72h0m0 28h0m0-8h0m0 61h0m0-103h0m0 53h0m0-24h0m0-59h0m0 51h0m0-65h0m0-72h0m0 131h0m0-57h0m0-3h0m0 83h0m0-108h0m0 117h0m0-95h0m0-2h0m0 22h0m0 93h0m0-175h0m0 133h0m0-37h0m1 11h0m0 26h0m0-56h0m0 49h0m0 5h0m0-92h0m0 135h0m0-55h0m0-7h0m0-42h0m0 65h0m0-8h0m0 1h0m0-2h0m0-29h0m0 0h0m0 5h0m0 23h0m0-29h0m0-5h0m0 8h0m0 29h0m0 1h0m0-43h0m0 28h0m0-35h0m0-5h0m0 74h0m1-4h0m0-37h0m0 34h0m0-23h0m0-39h0m0 8h0m0-11h0m0-26h0m0 104h0m0-44h0m0-29h0m0-37h0m0-12h0m0 86h0m0-30h0m0-69h0m0 92h0m0-66h0m0 75h0m0-52h0m0 40h0m0 33h0m0-16h0m0 76h0m0-106h0m0-5h0m0-32h0m0 160h0m0-155h0m0 22h0m0 21h0m1-8h0m0 78h0m0-115h0m0 13h0m0 60h0m0-49h0m0 38h0m0-73h0m0 15h0m0-3h0m0-10h0m0 112h0m0-93h0m0 65h0m0 66h0m0-73h0m0-57h0m0 83h0m0-142h0m0 81h0m0-6h0m0 69h0m0-82h0m0-41h0m0 59h0m0-14h0m0 26h0m0 17h0m0-113h0m0 25h0m0 94h0m1-45h0m0-63h0m0 163h0m0-178h0m0 81h0m0 0h0m0 64h0m0 21h0m0-141h0m0 1h0m0 28h0m0 57h0m0-12h0m0 58h0m0-44h0m0-49h0m0 107h0m0-83h0m0 4h0m0-50h0m0 27h0m0-41h0m0 75h0m0-52h0m0 85h0m0-8h0m0-9h0m0 44h0m0-105h0m0 135h0m0-66h0m1 4h0m0 19h0m0-51h0m0 57h0m0-16h0m0-96h0m0 76h0m0-62h0m0-11h0m0-37h0m0 130h0m0-94h0m0 50h0m0 1h0m0-29h0m0 79h0m0-138h0m0 89h0m0-57h0m0 39h0m0-15h0m0 80h0m0-33h0m0-68h0m0 42h0m1 32h0m0-81h0m0 0h0m0 39h0m0 23h0m0-1h0m0-50h0m0 116h0m0-66h0m0-67h0m0 63h0m0 14h0m0-37h0m0 61h0m0-30h0m0 25h0m0-88h0m0 124h0m0-48h0m0-43h0m0 88h0m0-34h0m0-43h0m0 33h0m0 28h0m0-138h0m1 73h0m0 45h0m0 25h0m0-6h0m0-40h0m0-53h0m0 28h0m0-35h0m0 12h0m0 82h0m0-1h0m0-18h0m0 24h0m0-19h0m0-109h0m0 87h0m0-17h0m0 20h0m0 28h0m0-100h0m0 120h0m0-98h0m0 38h0m0-1h0m0 34h0m0-32h0m1-36h0m0-1h0m0 27h0m0-46h0m0 20h0m0 71h0m0 37h0m0-71h0m0-87h0m0 127h0m0 50h0m0-68h0m0-34h0m0-24h0m0 33h0m0-41h0m0 63h0m0-20h0m0-40h0m0-13h0m0 49h0m0-17h0m0 34h0m0-4h0m0-39h0m0 10h0m0 1h0m0 107h0m1-33h0m0-35h0m0-77h0m0 44h0m0-34h0m0 35h0m0-41h0m0-24h0m0 99h0m0 4h0m0 18h0m0 35h0m0-103h0m0 39h0m0-37h0m0-20h0m0 84h0m0-56h0m0 26h0m0 66h0m0-128h0m0-9h0m0 57h0m0 89h0m0-88h0m0 69h0m0-80h0m0-43h0m0 72h0m0 15h0m0 32h0m0-19h0m0-17h0m0 11h0m0-117h0m1 107h0m0-2h0m0-51h0m0 5h0m0 25h0m0 9h0m0-50h0m0 39h0m0-12h0m0 7h0m0 37h0m0-55h0m0 42h0m0 9h0m0-79h0m0 28h0m0 14h0m0-43h0m0 129h0m0-145h0m0 89h0m0-36h0m0 1h0m0-7h0m0 98h0m0-86h0m0-80h0m0 110h0m0 1h0m1-25h0m0-29h0m0 49h0m0 6h0m0-39h0m0-31h0m0 54h0m0 102h0m0-180h0m0 63h0m0-22h0m0-11h0m0 113h0m0-94h0m0 55h0m0-93h0m0 103h0m0-46h0m0-16h0m0 19h0m0-15h0m0-1h0m0-14h0m0-56h0m0 66h0m1 77h0m0 14h0m0-100h0m0 13h0m0-28h0m0 77h0m0-38h0m0-2h0m0 0h0m0 114h0m0-113h0m0-69h0m0 181h0m0-116h0m0 47h0m0 15h0m0-107h0m0 71h0m0 11h0m0-41h0m0 25h0m0 17h0m0-42h0m0-2h0m0 59h0m0-82h0m0 82h0m0-116h0m0 79h0m0-9h0m0 46h0m0 11h0m1-117h0m0 75h0m0-34h0m0-36h0m0 85h0m0 3h0m0-65h0m0 117h0m0-117h0m0-37h0m0 59h0m0-5h0m0 88h0m0-93h0m0 10h0m0 14h0m0 12h0m0 38h0m0-66h0m0 34h0m0-92h0m0 104h0m1-113h0m0 31h0m0-19h0m0 96h0m0-89h0m0 54h0m0-29h0m0 120h0m0-114h0m0-13h0m0 96h0m0-33h0m0-38h0m0 8h0m0-59h0m0 35h0m0 99h0m0-101h0m0 18h0m0-50h0m0 43h0m0-5h0m0-24h0m0 22h0m0 2h0m0-29h0m0-15h0m0 67h0m1-54h0m0 58h0m0 9h0m0 24h0m0 43h0m0 27h0m0 27h0m0-130h0m0-77h0m0 140h0m0-50h0m0-1h0m0 34h0m0-15h0m0-29h0m0-69h0m0-11h0m0 75h0m0 80h0m0-55h0m0-19h0m0-7h0m0 33h0m0-37h0m0 67h0m0-47h0m0 13h0m0-20h0m0 6h0m0 77h0m0-45h0m0 10h0m1-28h0m0 32h0m0-48h0m0-29h0m0-13h0m0 4h0m0 54h0m0-100h0m0 152h0m0-33h0m0-33h0m0-12h0m0 2h0m0 65h0m0-85h0m0 96h0m0-108h0m0 73h0m0-47h0m0 128h0m0-140h0m0-6h0m1 78h0m0-75h0m0 56h0m0-35h0m0-55h0m0-2h0m0 75h0m0-44h0m0 58h0m0-8h0m0-65h0m0 41h0m0-24h0m0 65h0m0 18h0m0-51h0m0 37h0m0-21h0m0-95h0m0 102h0m0-37h0m0 11h0m0-86h0m0 73h0m0-1h0m0-9h0m0-39h0m0 1h0m1 86h0m0-83h0m0-4h0m0 23h0m0 39h0m0-45h0m0 27h0m0 10h0m0 30h0m0-11h0m0-42h0m0-23h0m0-2h0m0-81h0m0 115h0m0-45h0m0-23h0m0 113h0m0-32h0m0 17h0m0-44h0m0-29h0m0 100h0m0-12h0m0-13h0m0 45h0m0-73h0m0-40h0m0 79h0m0 10h0m0-38h0m0-72h0m0 66h0m0 122h0m0-98h0m0-47h0m0-9h0m1 31h0m0-34h0m0 79h0m0-82h0m0 63h0m0-23h0m0 47h0m0-73h0m0 41h0m0 86h0m0-70h0m0-6h0m0-59h0m0 0h0m0-19h0m0 110h0m0-72h0m0 63h0m0-39h0m0-10h0m0 57h0m0-61h0m0-25h0m0 64h0m0-53h0m0 105h0m0-113h0m0 92h0m0 15h0m0-29h0m0 8h0m0-80h0m0 94h0m0-125h0m0 85h0m0-41h0m0-27h0m1-61h0m0 148h0m0 26h0m0-33h0m0 14h0m0-41h0m0 45h0m0-39h0m0 12h0m0-150h0m0 87h0m0 118h0m0-89h0m0 67h0m0-86h0m0-11h0m0-53h0m0 122h0m0-59h0m0-34h0m0 80h0m0-77h0m0 59h0m0 7h0m0-50h0m0 26h0m1-20h0m0-25h0m0 85h0m0 24h0m0-59h0m0 56h0m0-27h0m0-92h0m0 46h0m0-28h0m0 99h0m0-30h0m0-79h0m0 74h0m0 0h0m0-1h0m0-110h0m0 50h0m0 25h0m0 7h0m0-67h0m0 102h0m0 25h0m0-84h0m0 19h0m0 14h0m0-39h0m0 59h0m0 20h0m0-20h0m0-40h0m0 61h0m1-15h0m0-9h0m0-36h0m0-35h0m0 103h0m0-29h0m0-43h0m0-28h0m0 38h0m0-8h0m0-21h0m0 45h0m0 37h0m0-80h0m0 42h0m0 12h0m0-47h0m0 43h0m0 26h0m0-43h0m0 6h0m0-21h0m0 56h0m0 86h0m0-93h0m0 10h0m0 27h0m0-57h0m0-89h0m0 39h0m0 42h0m1-32h0m0 87h0m0 19h0m0-32h0m0-101h0m0 55h0m0 16h0m0-43h0m0 186h0m0-162h0m0-32h0m0 39h0m0 42h0m0-58h0m0 72h0m0-31h0m0-21h0m0 40h0m0-81h0m0 94h0m0-35h0m0 19h0m0-1h0m0-72h0m0 44h0m0 37h0m0-170h0m0 117h0m0-34h0m0 80h0m0-53h0m0-11h0m0 84h0m0-76h0m1 110h0m0-116h0m0-26h0m0 42h0m0-9h0m0 21h0m0-46h0m0 96h0m0-43h0m0 37h0m0-58h0m0-8h0m0 17h0m0 10h0m0 33h0m0 29h0m0-156h0m0 28h0m0 85h0m0-24h0m0-106h0m0 94h0m0 23h0m0-55h0m1 102h0m0-89h0m0-33h0m0 67h0m0 102h0m0-72h0m0-66h0m0 12h0m0 121h0m0-37h0m0-22h0m0 26h0m0-26h0m0-24h0m0 7h0m0-33h0m0 107h0m0-155h0m0 64h0m0-10h0m0 6h0m0-71h0m0 30h0m0 51h0m0 1h0m0-54h0m0 21h0m0-19h0m0 78h0m0-74h0m0 12h0m0-4h0m0 75h0m0-33h0m1 90h0m0-130h0m0 128h0m0-93h0m0-49h0m0 12h0m0-16h0m0 103h0m0-59h0m0-20h0m0 22h0m0-13h0m0 34h0m0-40h0m0 42h0m0-22h0m0-11h0m0-80h0m0 127h0m0 64h0m0-62h0m0-14h0m0-25h0m0 55h0m0 55h0m0-50h0m0-35h0m0 13h0m0 19h0m0-107h0m0 87h0m0-111h0m1 129h0m0-3h0m0-51h0m0 43h0m0 12h0m0-106h0m0 88h0m0-116h0m0 22h0m0 48h0m0-27h0m0 98h0m0-109h0m0 27h0m0 6h0m0-1h0m0 31h0m0 87h0m0-99h0m0-48h0m0 32h0m0-30h0m0 65h0m0 50h0m0-70h0m0 25h0m0-78h0m0 23h0m1 46h0m0-8h0m0-7h0m0-95h0m0 115h0m0-8h0m0-12h0m0 34h0m0-96h0m0 36h0m0 34h0m0-8h0m0-25h0m0-31h0m0 91h0m0-32h0m0-11h0m0-3h0m0 44h0m0 7h0m0-45h0m0-24h0m0 4h0m0 35h0m0-73h0m0 95h0m0-49h0m0 26h0m0 33h0m0-92h0m0 75h0m1-48h0m0 7h0m0 27h0m0-17h0m0-15h0m0-39h0m0 125h0m0-27h0m0-108h0m0-68h0m0 149h0m0 10h0m0 64h0m0-101h0m0-17h0m0 0h0m0-47h0m0 59h0m0 30h0m0 1h0m0-6h0m0 1h0m0 30h0m0-43h0m0 106h0m0-85h0m0 24h0m0-55h0m0 11h0m0 43h0m0-82h0m0 62h0m0-7h0m0 17h0m1-59h0m0 109h0m0-58h0m0-21h0m0 23h0m0-70h0m0 52h0m0-36h0m0 12h0m0 27h0m0 14h0m0 51h0m0-49h0m0-36h0m0-66h0m0 48h0m0 32h0m0-1h0m0-6h0m0 5h0m0-8h0m0 56h0m0-60h0m0-45h0m0 28h0m0-19h0m0 10h0m0 99h0m0-85h0m0 77h0m1 57h0m0-91h0m0-88h0m0 85h0m0 107h0m0-117h0m0 22h0m0 20h0m0-5h0m0-41h0m0 29h0m0-4h0m0 1h0m0-64h0m0 56h0m0-64h0m0-21h0m0 141h0m0-137h0m0 37h0m0 64h0m0-45h0m0-25h0m0 80h0m0-71h0m0 39h0m0-24h0m0 31h0m0-65h0m0 11h0m0 104h0m0-102h0m0-28h0m0 17h0m0-12h0m0-30h0m0 22h0m0 48h0m1 20h0m0 26h0m0 8h0m0-81h0m0 26h0m0 35h0m0-28h0m0-34h0m0 54h0m0-34h0m0 48h0m0 17h0m0-96h0m0-23h0m0 93h0m0-8h0m0-61h0m0 77h0m0-95h0m0-52h0m0 169h0m0-93h0m0 48h0m0 39h0m0-100h0m0 94h0m1-54h0m0 54h0m0-19h0m0 102h0m0-118h0m0 14h0m0-12h0m0 68h0m0-45h0m0-39h0m0-26h0m0 39h0m0 30h0m0-58h0m0 108h0m0-71h0m0 10h0m0 17h0m0 28h0m0-19h0m0-72h0m0 58h0m0-14h0m0-84h0m0 77h0m0-11h0m0 109h0m0-145h0m0 107h0m0-96h0m1 4h0m0-16h0m0 62h0m0-99h0m0 150h0m0-60h0m0-80h0m0 44h0m0 48h0m0 36h0m0-111h0m0 49h0m0-62h0m0 54h0m0 31h0m0-86h0m0 69h0m0-7h0m0 15h0m0-43h0m0 17h0m0-6h0m0 31h0m0-18h0m0-71h0m0 40h0m0 79h0m0-62h0m0 2h0m0 2h0m0-26h0m0 4h0m0 63h0m0-46h0m0-30h0m0-3h0m0 65h0m0-37h0m0 59h0m0 29h0m0-105h0m0 69h0m0-13h0m0 1h0m1-51h0m0 40h0m0-6h0m0 49h0m0-71h0m0 134h0m0-97h0m0-17h0m0 20h0m0 24h0m0-73h0m0 5h0m0 29h0m0 48h0m0 10h0m0-71h0m0 0h0m0-56h0m0 75h0m0 49h0m0-81h0m0 1h0m0 74h0m0-97h0m0-20h0m0 38h0m0-29h0m0 53h0m0-45h0m0 101h0m0-82h0m0 14h0m0 9h0m1-50h0m0 62h0m0 55h0m0-94h0m0 17h0m0-13h0m0 59h0m0-18h0m0 37h0m0-81h0m0-38h0m0 46h0m0 51h0m0-16h0m0 19h0m0-83h0m0 40h0m0-13h0m0-33h0m0 28h0m0-48h0m0 91h0m0-6h0m0 49h0m0-99h0m0-21h0m0 106h0m0-10h0m0-62h0m0 25h0m1 43h0m0-80h0m0 66h0m0-71h0m0-28h0m0 94h0m0-11h0m0-63h0m0 9h0m0 17h0m0 5h0m0 44h0m0 47h0m0-35h0m0-113h0m0 118h0m0-62h0m0 15h0m0 17h0m0 25h0m0 5h0m0-77h0m0 36h0m0-128h0m0 100h0m0 72h0m1-67h0m0-20h0m0 10h0m0 77h0m0-28h0m0 32h0m0 3h0m0-49h0m0 68h0m0-43h0m0-43h0m0-35h0m0 15h0m0 51h0m0 44h0m0-22h0m0 22h0m0-38h0m0-10h0m0-17h0m0-10h0m0 28h0m0-44h0m0 13h0m0-9h0m0-37h0m0 112h0m0 7h0m0-88h0m0 8h0m0 39h0m0 72h0m0-107h0m1-54h0m0 145h0m0 19h0m0-60h0m0-11h0m0-54h0m0-30h0m0 103h0m0 11h0m0-98h0m0 28h0m0 103h0m0-119h0m0 74h0m0-101h0m0 96h0m0-29h0m0 30h0m0-2h0m0-47h0m0 70h0m0-137h0m0 31h0m0 92h0m0 16h0m0-99h0m0-26h0m0 67h0m1 134h0m0-112h0m0-31h0m0 1h0m0 13h0m0 31h0m0-61h0m0 36h0m0 52h0m0 36h0m0-144h0m0 91h0m0-29h0m0-36h0m0 6h0m0 92h0m0-89h0m0 38h0m0 51h0m0-118h0m0-46h0m0 108h0m0 19h0m0-87h0m0 38h0m0-15h0m0-35h0m0-40h0m1 109h0m0-48h0m0 69h0m0-12h0m0-21h0m0 27h0m0 31h0m0-65h0m0-6h0m0-77h0m0 213h0m0-66h0m0-69h0m0 4h0m0 5h0m1 13h0m0 94h0m0-133h0m0 72h0m0-33h0m0-30h0m0 19h0m0 48h0m0-40h0m0 25h0m0-80h0m0 49h0m0-59h0m0 0h0m0 7h0m0 37h0m0 17h0m0 34h0m0-2h0m0-54h0m0-20h0m0 77h0m0-51h0m0 82h0m0-29h0m0-70h0m0 42h0m1-56h0m0 66h0m0-72h0m0 88h0m0-6h0m0-25h0m0 47h0m0-21h0m0-13h0m0-9h0m0 60h0m0-67h0m0-69h0m0 136h0m0-101h0m0 89h0m0-57h0m0 16h0m0 40h0m0-80h0m0-12h0m0 103h0m0-23h0m1-74h0m0 14h0m0 43h0m0-46h0m0-15h0m0 115h0m0-142h0m0 47h0m0 4h0m0-26h0m0 9h0m0 55h0m0-33h0m0-42h0m0 50h0m0-20h0m0-3h0m0-7h0m0 9h0m0 52h0m0-13h0m1-23h0m0 14h0m0-57h0m0-10h0m0 108h0m0 31h0m0-27h0m0-46h0m0-53h0m0 24h0m0 18h0m0 54h0m0-5h0m0-59h0m0 25h0m0 1h0m0-63h0m0 99h0m0 19h0m0-119h0m0 99h0m1-44h0m0-39h0m0 11h0m0 43h0m0-5h0m0-61h0m0 37h0m0 9h0m0-30h0m0 79h0m0-55h0m0 0h0m0 9h0m0 3h0m0 78h0m0-84h0m0 42h0m0-29h0m0 27h0m0-22h0m0-17h0m0-19h0m0 54h0m1-45h0m0 68h0m0-71h0m0 25h0m0-6h0m0 37h0m0-84h0m0 68h0m0 5h0m0-77h0m0 80h0m0 11h0m0-67h0m0 108h0m0-51h0m0-69h0m0 25h0m0 9h0m0-26h0m0 25h0m0 33h0m0-100h0m0 93h0m0 10h0m0-84h0m0 0h0m0 66h0m1-74h0m0 113h0m0-45h0m0 5h0m0-120h0m0 132h0m0-4h0m0-44h0m0 56h0m0-29h0m0-49h0m0 24h0m0-45h0m0 29h0m0-60h0m0 100h0m0 35h0m0 14h0m0-60h0m0-11h0m0 83h0m0-47h0m0-66h0m0 29h0m0-8h0m0 19h0m0 54h0m0-30h0m0-31h0m1-33h0m0 37h0m0-74h0m0 131h0m0-4h0m0-28h0m0 20h0m0 6h0m0-67h0m0 57h0m0-83h0m0 67h0m0-77h0m0 39h0m0-25h0m0 105h0m0-76h0m0 47h0m0-73h0m0 119h0m0-110h0m0 32h0m0-10h0m0-34h0m0 61h0m0-6h0m0-2h0m0-29h0m0-28h0m0 33h0m0 47h0m0 34h0m0-78h0m0 97h0m1-135h0m0 15h0m0 23h0m0 92h0m0-171h0m0 102h0m0 56h0m0-55h0m0-16h0m0-53h0m0 29h0m0 50h0m0-62h0m0 106h0m0-104h0m0 56h0m0-9h0m0-26h0m0 17h0m0-73h0m0 73h0m0-2h0m0 16h0m0-44h0m0 138h0m0-32h0m0-51h0m0-36h0m0 36h0m0-16h0m0-74h0m0 90h0m1 35h0m0-7h0m0-109h0m0-22h0m0 57h0m0 36h0m0-26h0m0-16h0m0 35h0m0 29h0m0 21h0m0-51h0m0 20h0m0-18h0m0-33h0m0-20h0m0 19h0m0 35h0m0-61h0m0 47h0m0 13h0m0 70h0m0-13h0m0-82h0m0 15h0m0-34h0m0 91h0m0-15h0m0-17h0m0 26h0m1-36h0m0 40h0m0-10h0m0-92h0m0 14h0m0 46h0m0-16h0m0-10h0m0-68h0m0 125h0m0-59h0m0-20h0m0 70h0m0-68h0m0 11h0m0 68h0m0 72h0m0-197h0m0 165h0m0-103h0m0 52h0m0-66h0m0 18h0m0-29h0m0 90h0m0 1h0m0-79h0m0 41h0m0-44h0m0 10h0m0 75h0m1-87h0m0 44h0m0-28h0m0 48h0m0 24h0m0-27h0m0-64h0m0 9h0m0 23h0m0-49h0m0 74h0m0-30h0m0 76h0m0-170h0m0 100h0m0 61h0m0-52h0m0 81h0m0-88h0m0 29h0m0-4h0m0 32h0m0-39h0m0-38h0m0-29h0m0-11h0m0 5h0m1 68h0m0-71h0m0 65h0m0 46h0m0-24h0m0-66h0m0 25h0m0-58h0m0 136h0m0-104h0m0 48h0m0 51h0m0-33h0m0 51h0m0-44h0m0-64h0m0 34h0m0-20h0m0-12h0m0 46h0m0-2h0m0-80h0m0 22h0m0 51h0m0-30h0m0 23h0m0 17h0m0 4h0m0 9h0m0-20h0m0-2h0m0-98h0m0 100h0m0-87h0m0 146h0m0 4h0m0-99h0m0 5h0m0 91h0m1-2h0m0-27h0m0-14h0m0-71h0m0 63h0m0 32h0m0-52h0m0-29h0m0-2h0m0 26h0m0-5h0m0-35h0m0 43h0m0-16h0m0-3h0m0 61h0m0-79h0m0 55h0m0-84h0m0 47h0m0 25h0m0 22h0m0-95h0m0 92h0m0-4h0m0-91h0m0 190h0m0-106h0m0 11h0m0 50h0m1-100h0m0-4h0m0-36h0m0 27h0m0-48h0m0 32h0m0 99h0m0-59h0m0 45h0m0-120h0m0 60h0m0 36h0m0-49h0m0 82h0m0-9h0m0-73h0m0 68h0m0-51h0m0 113h0m0-72h0m0-1h0m0-31h0m0-29h0m0 107h0m0-187h0m0 148h0m0 58h0m0-102h0m0 94h0m0-91h0m1 48h0m0-25h0m0-37h0m0 47h0m0 92h0m0-167h0m0 125h0m0-59h0m0 6h0m0-82h0m0 78h0m0 39h0m0-22h0m0-32h0m0 0h0m0 23h0m0 3h0m0-18h0m0-8h0m0 72h0m0 17h0m0-119h0m0 4h0m0 99h0m0-3h0m0-36h0m0 0h0m0-46h0m0 23h0m1 22h0m0-21h0m0-63h0m0 89h0m0-62h0m0 33h0m0 56h0m0 31h0m0-76h0m0 9h0m0 3h0m0-9h0m0 26h0m0-50h0m0-34h0m0 37h0m0 111h0m0-42h0m0 7h0m0-104h0m0 20h0m0-1h0m0 79h0m0-3h0m0-48h0m0 0h0m0-12h0m1-11h0m0 47h0m0-45h0m0 32h0m0-24h0m0 51h0m0 19h0m0-65h0m0-11h0m0 2h0m0-14h0m0-10h0m0 101h0m0-69h0m0 31h0m0-1h0m0-100h0m0 46h0m0 41h0m0-35h0m0 51h0m0-4h0m0-37h0m0 10h0m0 24h0m0-9h0m0-94h0m0 74h0m0 33h0m0 63h0m1-61h0m0-58h0m0-54h0m0 6h0m0 85h0m0-26h0m0 23h0m0 17h0m0 19h0m0-114h0m0 57h0m0 111h0m0-150h0m0 48h0m0-11h0m0-21h0m0 35h0m0-23h0m0-13h0m0 50h0m0 21h0m0-110h0m0 114h0m0-40h0m1-30h0m0 87h0m0 21h0m0 1h0m0-76h0m0-4h0m0 1h0m0 67h0m0-24h0m0-39h0m0-73h0m0 141h0m0-103h0m0 31h0m0-26h0m0-19h0m0 79h0m0-97h0m0 31h0m0 15h0m0 52h0m0-80h0m0-17h0m0 94h0m0-59h0m0 46h0m0 17h0m0-109h0m0 119h0m0-109h0m0 53h0m0-6h0m0 100h0m1-35h0m0-132h0m0 110h0m0 13h0m0-92h0m0 63h0m0-33h0m0 79h0m0-8h0m0-50h0m0-22h0m0 60h0m0-76h0m0 40h0m0 31h0m0-23h0m0 65h0m0 0h0m0-108h0m0 5h0m0-66h0m0 74h0m0 6h0m0-24h0m0 28h0m0 79h0m0-77h0m0 14h0m0-42h0m0 18h0m0 109h0m0-68h0m0 15h0m0-81h0m0 119h0m0-51h0m1 33h0m0-65h0m0-8h0m0-19h0m0 87h0m0-20h0m0-2h0m0 96h0m0-157h0m0 32h0m0 99h0m0-122h0m0 3h0m0 72h0m0 33h0m0-72h0m0 47h0m0 6h0m0-75h0m0-96h0m0 89h0m0 103h0m0-11h0m0-54h0m0 72h0m0-56h0m0-61h0m0 1h0m0-7h0m0 54h0m1-29h0m0 41h0m0-22h0m0-42h0m0 85h0m0-77h0m0 62h0m0-12h0m0-111h0m0 62h0m0-50h0m0 81h0m0-41h0m0 17h0m0 65h0m0-30h0m0 29h0m0-36h0m0-23h0m0 34h0m0 44h0m0-159h0m0 118h0m0-19h0m0-4h0m0 4h0m0 13h0m0-55h0m0 21h0m0 35h0m0 18h0m0-13h0m0 13h0m0-105h0m0 90h0m0-85h0m1 45h0m0 24h0m0-58h0m0 33h0m0 7h0m0 29h0m0-49h0m0 53h0m0-137h0m0 167h0m0-156h0m0 90h0m0-11h0m0 86h0m0-5h0m0-89h0m0 11h0m0-35h0m0-2h0m0-29h0m0 142h0m0-114h0m0 44h0m0 2h0m0 22h0m0-21h0m0-36h0m0 14h0m0 54h0m0-22h0m0 47h0m0-87h0m0 26h0m1 66h0m0-113h0m0 76h0m0-16h0m0-2h0m0-48h0m0 65h0m0 24h0m0 29h0m0-103h0m0 8h0m0 6h0m0 9h0m0 45h0m0-7h0m0-41h0m0 35h0m0 11h0m0-104h0m0 74h0m0-27h0m0 30h0m0-20h0m0 54h0m0-65h0m0 60h0m0-27h0m0 120h0m0-71h0m0-60h0m0 94h0m0-89h0m0-27h0m0 21h0m0 116h0m1-73h0m0 21h0m0-82h0m0 26h0m0-5h0m0-6h0m0-48h0m0-2h0m0 57h0m0 80h0m0-48h0m0-22h0m0-65h0m0 3h0m0-21h0m0 140h0m0-85h0m0-13h0m0-24h0m0 59h0m0-19h0m0 30h0m0-41h0m0-26h0m0 119h0m1-30h0m0 17h0m0-4h0m0-61h0m0 40h0m0-54h0m0 44h0m0 26h0m0-126h0m0 66h0m0-9h0m0 1h0m0-21h0m0 58h0m0-59h0m0 36h0m0-26h0m0 14h0m0-23h0m0 84h0m0-108h0m0 49h0m0-40h0m0 57h0m0 1h0m0-26h0m0-51h0m0-13h0m0 103h0m0 30h0m0-43h0m0 54h0m0 2h0m0-65h0m0 29h0m1-26h0m0-33h0m0 53h0m0-41h0m0-18h0m0 68h0m0-41h0m0 74h0m0-54h0m0-33h0m0-32h0m0 80h0m0-52h0m0 11h0m0-1h0m0 24h0m0 2h0m0 9h0m0-19h0m0-12h0m0 21h0m0 9h0m0-14h0m0 16h0m0-68h0m0 30h0m0 8h0m0-122h0m0 162h0m0 35h0m0-102h0m0 21h0m0 8h0m1 34h0m0 51h0m0-53h0m0-120h0m0 77h0m0 42h0m0-49h0m0 17h0m0-6h0m0 63h0m0-12h0m0 6h0m0-86h0m0 22h0m0 6h0m0 88h0m0-114h0m0 74h0m0-48h0m0-36h0m0 107h0m0-76h0m0 67h0m0-13h0m0-63h0m0 56h0m0-16h0m0 26h0m0-40h0m0 20h0m0 8h0m0 42h0m0 54h0m1-141h0m0-27h0m0-20h0m0 86h0m0-13h0m0 74h0m0-97h0m0 82h0m0-52h0m0 39h0m0-81h0m0-12h0m0 26h0m0 61h0m0-40h0m0 15h0m0 16h0m0-24h0m0 15h0m0-41h0m0 30h0m0 26h0m0 10h0m1 75h0m0-118h0m0 72h0m0-12h0m0-69h0m0 4h0m0 19h0m0-57h0m0 67h0m0 11h0m0 37h0m0-145h0m0 60h0m0-47h0m0 69h0m0-50h0m0 41h0m0-17h0m0 2h0m0 63h0m0-45h0m0 20h0m0-42h0m0 69h0m0-77h0m0 65h0m0-18h0m1 72h0m0-47h0m0-42h0m0 27h0m0 11h0m0-90h0m0 65h0m0 35h0m0-5h0m0-68h0m0 16h0m0-6h0m0-37h0m0 26h0m0 24h0m0 5h0m0 54h0m0-50h0m0-58h0m0 97h0m0-93h0m0 63h0m0-26h0m1-2h0m0 38h0m0-34h0m0 25h0m0 8h0m0-104h0m0 56h0m0 16h0m0 41h0m0-41h0m0 3h0m0-6h0m0-2h0m0 1h0m0-18h0m0-12h0m0 76h0m0-71h0m0 30h0m0 28h0m0-45h0m0 36h0m0-15h0m0-65h0m0 10h0m0-13h0m0 107h0m0-20h0m0-24h0m0 23h0m0 26h0m0-48h0m0-79h0m1 9h0m0 18h0m0 12h0m0 62h0m0-29h0m0 10h0m0-44h0m0 88h0m0-93h0m0 19h0m0 2h0m0 70h0m0-59h0m0 65h0m0 23h0m0-138h0m0 54h0m0 38h0m0-107h0m0 76h0m0 91h0m0-54h0m0-75h0m0 97h0m1-42h0m0 19h0m0-80h0m0-3h0m0 73h0m0-91h0m0 151h0m0-72h0m0 29h0m0-7h0m0-55h0m0 8h0m0-77h0m0 123h0m0-70h0m0-2h0m0 69h0m0-48h0m0-36h0m0 77h0m0-55h0m0-72h0m0 108h0m0-19h0m0 83h0m0-52h0m0 35h0m0-99h0m1 105h0m0-59h0m0 18h0m0-27h0m0 18h0m0 42h0m0-79h0m0 49h0m0 21h0m0 23h0m0-98h0m0 25h0m0-1h0m0 51h0m0 3h0m0-58h0m0 102h0m0-128h0m0 1h0m0 3h0m0 45h0m0 58h0m0-64h0m0 47h0m0 29h0m0-114h0m0 22h0m0-35h0m0 0h0m1 13h0m0 93h0m0-51h0m0-20h0m0-47h0m0 81h0m0-68h0m0 7h0m0-9h0m0 80h0m0-9h0m0 39h0m0-56h0m0 59h0m0-26h0m0-53h0m0-66h0m0 100h0m0-103h0m0 57h0m0 27h0m0-22h0m0 74h0m0-77h0m0 123h0m0-164h0m0 9h0m0 83h0m0 32h0m0-59h0m0 8h0m0-43h0m0 11h0m0-1h0m0-35h0m0-9h0m1 84h0m0-1h0m0-45h0m0 41h0m0-58h0m0 30h0m0-2h0m0 16h0m0 17h0m0-7h0m0 1h0m0-31h0m0 30h0m0-45h0m0 61h0m0-72h0m0 94h0m0-46h0m0-57h0m0 81h0m0 35h0m0 4h0m0-31h0m0-27h0m1 37h0m0-19h0m0-23h0m0-50h0m0 152h0m0-119h0m0-14h0m0 10h0m0 59h0m0-57h0m0 1h0m0 11h0m0 46h0m0-25h0m0-48h0m0-10h0m0 112h0m1-33h0m0-89h0m0-1h0m0 91h0m0-17h0m0-56h0m0 31h0m0 18h0m0 3h0m0-10h0m0-29h0m0-14h0m0-17h0m0 32h0m0 33h0m0-1h0m0 10h0m0 53h0m0-30h0m0-60h0m0-2h0m0 89h0m0-85h0m0 17h0m0 30h0m0-24h0m0 15h0m0-16h0m0 69h0m0-41h0m0-64h0m0 53h0m0 26h0m0-85h0m0-35h0m0 68h0m1 27h0m0-41h0m0 11h0m0-32h0m0 142h0m0-145h0m0 107h0m0-78h0m0 41h0m0-11h0m0 74h0m0 6h0m0-57h0m0-11h0m0-49h0m0 66h0m0-3h0m0 10h0m0 5h0m0-55h0m0-26h0m0 82h0m0-29h0m0-22h0m0-1h0m0 44h0m0-65h0m0 71h0m0-142h0m0 131h0m0-38h0m1-75h0m0 48h0m0 2h0m0 72h0m0-109h0m0 88h0m0-28h0m0-47h0m0-1h0m0-24h0m0 103h0m0-21h0m0-14h0m0 19h0m0 40h0m0-65h0m0 16h0m0-62h0m0 48h0m0 50h0m0-44h0m0-57h0m0 2h0m0 110h0m0-74h0m0-52h0m0 173h0m0-106h0m0-84h0m0 115h0m0-32h0m0 43h0m0-34h0m0 6h0m1-47h0m0 10h0m0-19h0m0 42h0m0 24h0m0-38h0m0 102h0m0-31h0m0-83h0m0 57h0m0-74h0m0 35h0m0 108h0m0-67h0m0-44h0m0-46h0m0 78h0m0-26h0m0 30h0m0-8h0m0-8h0m0 11h0m0 32h0m0-42h0m0-2h0m0 36h0m0-59h0m0-11h0m0 76h0m0-65h0m0 38h0m0 5h0m1-46h0m0 58h0m0-25h0m0-122h0m0 100h0m0-41h0m0 65h0m0 81h0m0-37h0m0-53h0m0 42h0m0-63h0m0 44h0m0-92h0m0 149h0m0 51h0m0-118h0m0-28h0m0 13h0m0-34h0m0 70h0m0-8h0m0-101h0m0 115h0m0-113h0m0 84h0m0 19h0m0 10h0m0-66h0m0 45h0m0-56h0m0 27h0m0 2h0m1-23h0m0 27h0m0 51h0m0-48h0m0-19h0m0 46h0m0-75h0m0-11h0m0 89h0m0 9h0m0-27h0m0-50h0m0 16h0m0-7h0m0-104h0m0 168h0m0-76h0m0 10h0m0 93h0m0-29h0m0-16h0m0 49h0m0-67h0m0 8h0m0-72h0m0 147h0m0-87h0m0 38h0m0 73h0m0-126h0m0 82h0m0-14h0m0-44h0m0-7h0m0 105h0m0-104h0m0-47h0m0-28h0m0 142h0m1-33h0m0-118h0m0 115h0m0-22h0m0-15h0m0 14h0m0 11h0m0-43h0m0 83h0m0-25h0m0-35h0m0-8h0m0 6h0m0-27h0m0 73h0m0-116h0m0-10h0m0 94h0m0-74h0m0 72h0m0 67h0m0-113h0m0 39h0m0-11h0m0 41h0m0-114h0m0 126h0m0 3h0m0 36h0m0-180h0m0 135h0m0-22h0m0-57h0m0 61h0m1 3h0m0-74h0m0 71h0m0-44h0m0 53h0m0-116h0m0 104h0m0-67h0m0 91h0m0-20h0m0 1h0m0 33h0m0-64h0m0-15h0m0-7h0m0 77h0m0-30h0m0 48h0m0-106h0m0 17h0m0-21h0m0 3h0m0 69h0m0-87h0m0-54h0m0 141h0m0-32h0m0 24h0m0 53h0m0-114h0m1 65h0m0-46h0m0-94h0m0 118h0m0-14h0m0 14h0m0 16h0m0 36h0m0-110h0m0 153h0m0-36h0m0-22h0m0-69h0m0 14h0m0-12h0m0 0h0m0 87h0m0-82h0m0 112h0m0-80h0m0-31h0m0 97h0m0-44h0m0-41h0m1 59h0m0-21h0m0-28h0m0 71h0m0-84h0m0 54h0m0-54h0m0 4h0m0 73h0m0-132h0m0 129h0m0-109h0m0-5h0m0 85h0m0-51h0m0 6h0m0 21h0m0-68h0m0 31h0m0 28h0m0 67h0m0-103h0m0 62h0m0-23h0m0 46h0m0-58h0m0 1h0m0-17h0m0 32h0m0-10h0m0 38h0m0-138h0m0 132h0m0 16h0m1-20h0m0-32h0m0 94h0m0-98h0m0-39h0m0 77h0m0-53h0m0 24h0m0 54h0m0-48h0m0 11h0m0 68h0m0-117h0m0 12h0m0 32h0m0 74h0m0-39h0m0-33h0m0-58h0m0 55h0m0-12h0m0 36h0m0-31h0m0 35h0m0-102h0m0 129h0m0-70h0m0 1h0m0 71h0m0-118h0m1 85h0m0-84h0m0 21h0m0-35h0m0 99h0m0-96h0m0 83h0m0-105h0m0 80h0m0-37h0m0 59h0m0-41h0m0 63h0m0-52h0m0-36h0m0 91h0m0-29h0m0-87h0m0 58h0m0 73h0m0-35h0m0-15h0m0 35h0m0-71h0m0 14h0m0 54h0m1-2h0m0 20h0m0-87h0m0-12h0m0 27h0m0 40h0m0 19h0m0-90h0m0 115h0m0-144h0m0 146h0m0-74h0m0-29h0m0 45h0m0-92h0m0 106h0m0-54h0m0 9h0m0-25h0m0 85h0m0-89h0m0 21h0m1-81h0m0 99h0m0-28h0m0-8h0m0 75h0m0-33h0m0 10h0m0-47h0m0 69h0m0-1h0m0 2h0m0-50h0m0 103h0m0-77h0m0-82h0m0 84h0m0 72h0m0-88h0m0-47h0m0 35h0m0-66h0m0 48h0m0 22h0m0 79h0m0-72h0m0-28h0m0 35h0m0-6h0m0 36h0m0-114h0m0 71h0m0-41h0m0 69h0m0-17h0m0 51h0m0-42h0m0-3h0m1-11h0m0 12h0m0-86h0m0 145h0m0-45h0m0-28h0m0 21h0m0 14h0m0-16h0m0-93h0m0 154h0m0-87h0m0 28h0m0-17h0m0 22h0m0-87h0m0 56h0m0 24h0m0 2h0m0-47h0m0 76h0m0-29h0m0-11h0m0 37h0m0 41h0m0-64h0m1-1h0m0-9h0m0-81h0m0 120h0m0-74h0m0 106h0m0-71h0m0-14h0m0 25h0m1-101h0m0-84h0m1 42h0m0-79h0m0-5h0m0-91h0m0 19h0m0-55h0m0 50h0m0 27h0m0 49h0m0-37h0m0-18h0m0-40h0m0 51h0m1 33h0m0 17h0m0-97h0m0 30h0m0 17h0m0-5h0m0-49h0m0 0h0m0 164h0m0-72h0m0 3h0m0-69h0m0 21h0m0-42h0m0 32h0m0-13h0m0 20h0m0 35h0m0-132h0m0 10h0m0 55h0m0 77h0m0-76h0m0 27h0m0 43h0m0-58h0m0 44h0m0-53h0m0 50h0m0-40h0m0 70h0m0 33h0m1-117h0m0 49h0m0-80h0m0 79h0m0-42h0m0 52h0m0-38h0m0 4h0m0 37h0m0-37h0m0-38h0m0 124h0m0-45h0m0-69h0m0-10h0m0 82h0m0 8h0m0 0h0m0-96h0m0 163h0m0-91h0m0 17h0m0-85h0m0 106h0m0-53h0m0 11h0m0-1h0m0-5h0m0 32h0m0-50h0m1 13h0m0 27h0m0-19h0m0-48h0m0 39h0m0-4h0m0-8h0m0 25h0m0-44h0m0-3h0m0 29h0m0-18h0m0 126h0m0-129h0m0-30h0m0 2h0m0 47h0m0 9h0m0 54h0m0-99h0m0 73h0m0-19h0m0 15h0m0 26h0m0-87h0m0 43h0m0-9h0m0-59h0m0-3h0m0 60h0m0 65h0m0-34h0m0-42h0m1 33h0m0 4h0m0-22h0m0 40h0m0-82h0m0 78h0m0-76h0m0-52h0m0 137h0m0-55h0m0 35h0m0 3h0m0-5h0m0-67h0m0-28h0m0 37h0m0 74h0m0-28h0m1-43h0m0 89h0m0-28h0m0 53h0m0-68h0m0-7h0m0-22h0m0 87h0m0-79h0m0 45h0m0-46h0m0-4h0m0 17h0m0 86h0m0-107h0m0 10h0m0-54h0m0 113h0m0-43h0m0 70h0m0-113h0m0 56h0m0-54h0m0 28h0m0 13h0m0 11h0m0-61h0m0 56h0m0-18h0m0-8h0m0-42h0m0 25h0m1-20h0m0-13h0m0 8h0m0 56h0m0-12h0m0 5h0m0-83h0m0 140h0m0 23h0m0-19h0m0-77h0m0 10h0m0 108h0m0-109h0m0 11h0m0 24h0m0-29h0m0 20h0m0 23h0m0-17h0m0-29h0m0-45h0m0 69h0m0-24h0m0-33h0m0 57h0m1-64h0m0 34h0m0 2h0m0 13h0m0-57h0m0 88h0m0-79h0m0 70h0m0-59h0m0 13h0m0 123h0m0-140h0m0 29h0m0 13h0m0-14h0m0 15h0m0 0h0m0-29h0m0-76h0m0 89h0m0-8h0m0 33h0m0-32h0m0-45h0m0 121h0m0-22h0m0-7h0m0 12h0m0 11h0m0-29h0m0-41h0m0 37h0m0-20h0m0-30h0m0 29h0m0 69h0m0-97h0m0 13h0m0 41h0m0-45h0m1-16h0m0 9h0m0 36h0m0 9h0m0-66h0m0 107h0m0-102h0m0 74h0m0 15h0m0-28h0m0 7h0m0-14h0m0 68h0m0-65h0m0 53h0m0-20h0m0-60h0m0 49h0m0-71h0m0 36h0m0-19h0m0 0h0m0 2h0m0 16h0m0-43h0m0 66h0m0-80h0m0 102h0m0-64h0m0 44h0m0 55h0m0-103h0m0 91h0m0-107h0m0 95h0m0-78h0m0 46h0m0-11h0m1-71h0m0 49h0m0-64h0m0 18h0m0 29h0m0-12h0m0-14h0m0 24h0m0 22h0m0 65h0m0-47h0m0-34h0m0-74h0m0 98h0m0-4h0m0 67h0m0-4h0m0-9h0m0-46h0m0 36h0m0-61h0m0 49h0m0 28h0m0-98h0m0-4h0m0 22h0m0 94h0m0 14h0m0-82h0m0 23h0m0 37h0m0-36h0m1-35h0m0-13h0m0 18h0m0 13h0m0-99h0m0 124h0m0-72h0m0 93h0m0-109h0m0 88h0m0-65h0m0 28h0m0 64h0m0-8h0m0-29h0m0-20h0m0 39h0m0 42h0m0-69h0m0-12h0m0 49h0m0-74h0m0 41h0m0-74h0m0 21h0m0 82h0m0 7h0m0-59h0m0 34h0m0 18h0m0-114h0m0 73h0m1 75h0m0-134h0m0 45h0m0 1h0m0 33h0m0-107h0m0 117h0m0-23h0m0 41h0m0-44h0m0-2h0m0-42h0m0 61h0m0-103h0m0 6h0m0 55h0m0 25h0m0-61h0m0 49h0m0-32h0m0 19h0m0 116h0m0-103h0m0 67h0m0-75h0m0 80h0m0-89h0m0 18h0m1-68h0m0 112h0m0-92h0m0 62h0m0 14h0m0-55h0m0 46h0m0-64h0m0 23h0m0 93h0m0-133h0m0 101h0m0-54h0m0-80h0m0 10h0m0 116h0m0-80h0m0-15h0m0 92h0m0-4h0m0-97h0m0 9h0m0 33h0m0 3h0m1-17h0m0 66h0m0-2h0m0 56h0m0-115h0m0 40h0m0-3h0m0-6h0m0-11h0m0 18h0m0-13h0m0-21h0m0 46h0m0-9h0m0 56h0m0-36h0m0 4h0m0-17h0m0-55h0m0 64h0m0-39h0m0 39h0m0-7h0m0-36h0m0 17h0m0 47h0m0-57h0m1 25h0m0 13h0m0-10h0m0 35h0m0-49h0m0-28h0m0 176h0m0-105h0m0-107h0m0 46h0m0-49h0m0 67h0m0-78h0m0 108h0m0-122h0m0 122h0m0 32h0m0-27h0m0-15h0m0-63h0m0 19h0m0 36h0m0-29h0m0 14h0m0 59h0m0-90h0m0 23h0m0 10h0m0 3h0m1 24h0m0-19h0m0 5h0m0-50h0m0 80h0m0 45h0m0-103h0m0 32h0m0-6h0m0 19h0m0 33h0m0-56h0m0-34h0m0 57h0m0 58h0m0-98h0m0 23h0m0-20h0m0 56h0m0-10h0m0 21h0m0-27h0m0-12h0m0-78h0m0 114h0m0-67h0m0 43h0m0 3h0m0-47h0m0-49h0m0 62h0m0 91h0m1-95h0m0 45h0m0-12h0m0-14h0m0-57h0m0 31h0m0 4h0m0 17h0m0 33h0m0 1h0m0-7h0m0 22h0m0 10h0m0-145h0m0 40h0m0 60h0m0-53h0m0 34h0m0 37h0m0 28h0m0-84h0m0 49h0m0-10h0m0 0h0m0 63h0m0-27h0m0 44h0m0-115h0m1 47h0m0-93h0m0 111h0m0-60h0m0 24h0m0-36h0m0 56h0m0-16h0m0-57h0m0-72h0m0 107h0m0-8h0m0 83h0m0-66h0m0 14h0m0 23h0m0 34h0m0-59h0m0 35h0m0-36h0m0-5h0m0-6h0m0-61h0m0 19h0m0 11h0m0-32h0m0 51h0m0 69h0m0-78h0m0-24h0m1 103h0m0-78h0m0-47h0m0 88h0m0-45h0m0-44h0m0 49h0m0 7h0m0-13h0m0 71h0m0-68h0m0 33h0m0-28h0m0 5h0m0-36h0m0 30h0m0 17h0m0-2h0m0-66h0m0 166h0m0-42h0m0-48h0m0-59h0m0 46h0m0 40h0m0-24h0m0-34h0m1 77h0m0 16h0m0-79h0m0 33h0m0 0h0m0-27h0m0-46h0m0-17h0m0 28h0m0-20h0m0 112h0m0-49h0m0-59h0m0 31h0m0-38h0m0 123h0m0-157h0m0 90h0m0-3h0m0-80h0m0 43h0m0 45h0m0 17h0m0-60h0m0-27h0m0 90h0m0-15h0m0-58h0m1 24h0m0 3h0m0 0h0m0-8h0m0-24h0m0 89h0m0-20h0m0-21h0m0 21h0m0 59h0m0-102h0m0 67h0m0-43h0m0 5h0m0 55h0m0-35h0m0-43h0m0 37h0m0-79h0m0-7h0m0-21h0m0 94h0m0 38h0m0-24h0m0-72h0m0 72h0m0-21h0m0-66h0m0-27h0m0 111h0m0 27h0m1 0h0m0-75h0m0 57h0m0-37h0m0 7h0m0 89h0m0-42h0m0-46h0m0 84h0m0-170h0m0 84h0m0 55h0m0-42h0m0-4h0m0 30h0m0-27h0m0-35h0m0-8h0m0-29h0m0 59h0m0-51h0m0 18h0m0 33h0m0 77h0m0-92h0m0-77h0m0 118h0m0 20h0m0-76h0m0 132h0m0-124h0m0 36h0m0-12h0m0 1h0m0 8h0m0 20h0m0-22h0m0 40h0m0-45h0m0 46h0m0 3h0m0-20h0m1 34h0m0-39h0m0 46h0m0-115h0m0 70h0m0 27h0m0-27h0m0-32h0m0 76h0m0 1h0m0-21h0m0-38h0m0 30h0m0-101h0m0 24h0m0 49h0m0-84h0m0 73h0m0-73h0m0 71h0m0 66h0m0-83h0m0-1h0m0-63h0m0 96h0m0-56h0m0-2h0m0 19h0m1 37h0m0-25h0m0 47h0m0-46h0m0 87h0m0-76h0m0-43h0m0 71h0m0-67h0m0-7h0m0-40h0m0 47h0m0 54h0m0-98h0m0 104h0m0 29h0m0 48h0m0-174h0m0 110h0m0-6h0m0 21h0m0-2h0m0 3h0m0-71h0m0 95h0m0-24h0m0-42h0m1-3h0m0-40h0m0 93h0m0 29h0m0 37h0m0-193h0m0 91h0m0-9h0m0 40h0m0-117h0m0 134h0m0-120h0m0 46h0m0 28h0m0-8h0m0 36h0m0-135h0m0 136h0m0-107h0m0 59h0m0-20h0m0 105h0m0-135h0m0 19h0m0 88h0m0-28h0m0-70h0m0 39h0m0 20h0m0 30h0m0-17h0m0 121h0m0-129h0m0-115h0m0 94h0m0 22h0m0-33h0m0 1h0m0 8h0m0-18h0m0 18h0m0 28h0m0 3h0m0-57h0m0-22h0m0 79h0m0-65h0m1 41h0m0 30h0m0-2h0m0-13h0m0-41h0m0 55h0m0-24h0m0 42h0m0-93h0m0 91h0m0-50h0m0-6h0m0 95h0m0-21h0m0-100h0m0 32h0m0-119h0m0 204h0m0-90h0m0 22h0m0-20h0m0-48h0m0 31h0m0-28h0m0 43h0m1 57h0m0-78h0m0 34h0m0-24h0m0 13h0m0-28h0m0-28h0m0 124h0m0-105h0m0 56h0m0-11h0m0 36h0m0-108h0m0 80h0m0-41h0m0 86h0m0-114h0m0 59h0m0-9h0m0 55h0m0-9h0m0-14h0m0 88h0m0-54h0m0-87h0m0 87h0m0-53h0m0 34h0m0-57h0m0 65h0m0-34h0m0-24h0m0 35h0m0 5h0m0-33h0m0 12h0m0-49h0m1 34h0m0 7h0m0 3h0m0-13h0m0-43h0m0 85h0m0-53h0m0 32h0m0-81h0m0 96h0m0-65h0m0 18h0m0 10h0m0 56h0m0-14h0m0-37h0m0-34h0m0 20h0m0-3h0m0 12h0m0 65h0m0-63h0m0-65h0m0 117h0m0-41h0m0-64h0m0 48h0m0-80h0m0 104h0m0 51h0m0-28h0m0-4h0m0-42h0m0 33h0m0-2h0m0-37h0m1 14h0m0-53h0m0 11h0m0 50h0m0 85h0m0-96h0m0 39h0m0-62h0m0 20h0m0 77h0m0-64h0m0 11h0m0-1h0m0-46h0m0 109h0m0-69h0m0 39h0m0-59h0m0 9h0m0 67h0m0 10h0m0-24h0m0-54h0m0-30h0m0 57h0m0-48h0m0 0h0m0 40h0m0-37h0m0 30h0m0-78h0m0 56h0m0 5h0m0 7h0m0-19h0m0-40h0m0 35h0m0 3h0m0 77h0m0-66h0m0 21h0m0 82h0m1-110h0m0-17h0m0 148h0m0-140h0m0 62h0m0-45h0m0 85h0m0-101h0m0 102h0m0-193h0m0 130h0m0-63h0m0 24h0m0-38h0m0 75h0m0 1h0m0 25h0m0-87h0m0 15h0m0 58h0m0-38h0m0 21h0m0-41h0m0 61h0m1-32h0m0 16h0m0 16h0m0-92h0m0 98h0m0-112h0m0 47h0m0-4h0m0-64h0m0 110h0m0 20h0m0-68h0m0 55h0m0 26h0m0 18h0m0-24h0m0-22h0m0 44h0m0-67h0m0 20h0m0-2h0m0 20h0m0-41h0m0 56h0m1-13h0m0-32h0m0-110h0m0 164h0m0-45h0m0-18h0m0 4h0m0 25h0m0-52h0m0 44h0m0 0h0m0 58h0m0-100h0m0-14h0m0 55h0m0 101h0m0-157h0m0 89h0m0-107h0m0 86h0m0 48h0m0-72h0m0 65h0m0-34h0m0-33h0m0 19h0m0-63h0m1 70h0m0 24h0m0-49h0m0 4h0m0 38h0m0-33h0m0 22h0m0-38h0m0 91h0m0-188h0m0 130h0m0-97h0m0-3h0m0 94h0m0-65h0m0-10h0m0 34h0m0-6h0m0 24h0m0 106h0m0-123h0m0 42h0m0-64h0m0 94h0m0-20h0m0-53h0m1 0h0m0 59h0m0-71h0m0-33h0m0 108h0m0-14h0m0-98h0m0 94h0m0-7h0m0-31h0m0-11h0m0 14h0m0 39h0m0-88h0m0 44h0m0-65h0m0 48h0m0 10h0m0 37h0m0 50h0m0 36h0m0-115h0m0 34h0m0-96h0m0 25h0m1 65h0m0-63h0m0 4h0m0 33h0m0 7h0m0 56h0m0-94h0m0 16h0m0 6h0m0 83h0m0-71h0m0-2h0m0 42h0m0 9h0m0-8h0m0-18h0m0-11h0m0 71h0m0-67h0m0-26h0m0-37h0m0 122h0m0-106h0m0-8h0m0 34h0m0 40h0m0-3h0m0-53h0m0 23h0m0 46h0m0-47h0m0 48h0m0-19h0m0-72h0m0 105h0m1-51h0m0 5h0m0 52h0m0 14h0m0-19h0m0-53h0m0-15h0m0-8h0m0 30h0m0-9h0m0 66h0m0-61h0m0 59h0m0-3h0m0-62h0m0-28h0m0 80h0m0-37h0m0-68h0m0 55h0m0-13h0m0 23h0m0-5h0m0 2h0m0 72h0m0-131h0m0 23h0m0 62h0m1-15h0m0-117h0m0 109h0m0-98h0m0 163h0m0-98h0m0 49h0m0-61h0m0 88h0m0 30h0m0-114h0m0 11h0m0 45h0m0 10h0m0-57h0m0 41h0m0-60h0m0 14h0m0 23h0m0-18h0m0-65h0m0 33h0m0 68h0m1 65h0m0-73h0m0-22h0m0-37h0m0 57h0m0-56h0m0 56h0m0-79h0m0 54h0m0-11h0m0-8h0m0-19h0m0 57h0m0-11h0m0 5h0m0 20h0m0-5h0m0-25h0m0 50h0m0-63h0m0 35h0m0-32h0m0 8h0m0 33h0m0-16h0m0-7h0m0-25h0m1 49h0m0-36h0m0 38h0m0 0h0m0-2h0m0 47h0m0-42h0m0 38h0m0-54h0m0-13h0m0-10h0m0 45h0m0 5h0m0-94h0m0-10h0m0 29h0m0 45h0m0-10h0m0 1h0m0 12h0m0-52h0m0 75h0m0-39h0m0-39h0m0 22h0m0-25h0m0 72h0m1-15h0m0-20h0m0-18h0m0 28h0m0 97h0m0-66h0m0-18h0m0-14h0m0-9h0m0 43h0m0-117h0m0 85h0m0 33h0m0-7h0m0-58h0m0 41h0m0 58h0m0 8h0m0-34h0m0-78h0m0 40h0m0 52h0m0-54h0m0 35h0m0-38h0m0 82h0m0-64h0m0-38h0m0 55h0m0 115h0m0-44h0m1-120h0m0 79h0m0-10h0m0-52h0m0 64h0m0-67h0m0-26h0m0 8h0m0 16h0m0 56h0m0-74h0m0 18h0m0 83h0m0-47h0m0-33h0m0 66h0m0-103h0m0 15h0m0 135h0m0-79h0m0-3h0m0-1h0m0-74h0m0 67h0m0 12h0m0 28h0m0-115h0m0 22h0m0 21h0m0 9h0m0 128h0m1-92h0m0-127h0m0 81h0m0-6h0m0 67h0m0-9h0m0-72h0m0 55h0m0 0h0m0-119h0m0 122h0m0-27h0m0-12h0m0-43h0m0 52h0m0-31h0m0 16h0m0 57h0m0 25h0m0-30h0m0-101h0m0 117h0m0-18h0m0-17h0m0 22h0m0 34h0m0 7h0m0-109h0m0 59h0m0-30h0m1 114h0m0-114h0m0-46h0m0 121h0m0-32h0m0 26h0m0 64h0m0-93h0m0-93h0m0 145h0m0-80h0m0-89h0m0 104h0m0-76h0m0 109h0m0-53h0m0-22h0m0 115h0m0-69h0m0-81h0m0 30h0m0 136h0m0-151h0m0 88h0m0-39h0m0 43h0m0-74h0m0-2h0m1-30h0m0 17h0m0-73h0m0 107h0m0-27h0m0 60h0m0 24h0m0 26h0m0-85h0m0 69h0m0 23h0m0-87h0m0-22h0m0-57h0m0 21h0m0 69h0m0 43h0m0 44h0m0-60h0m0-63h0m0 33h0m0-30h0m0 21h0m0 52h0m0-78h0m0 57h0m0-15h0m0-7h0m0 91h0m0-54h0m0-35h0m0-57h0m0 31h0m0 34h0m0-33h0m1 36h0m0 5h0m0 45h0m0-84h0m0 83h0m0-98h0m0-11h0m0 124h0m0-54h0m0-12h0m0-16h0m0-30h0m0-12h0m0 37h0m0 74h0m0-83h0m0-1h0m0 29h0m0 31h0m0-37h0m0-4h0m0-20h0m0 94h0m0-72h0m0-65h0m0 71h0m0-12h0m0 13h0m0-42h0m0 53h0m0-42h0m0-9h0m0 83h0m0-31h0m0-5h0m1-29h0m0 11h0m0-7h0m0 19h0m0 47h0m0-51h0m0 64h0m0-35h0m0 42h0m0-38h0m0-23h0m0-138h0m0 178h0m0 24h0m0-91h0m0 74h0m0-80h0m0 32h0m0 4h0m0-80h0m0 55h0m0-22h0m0-17h0m0 21h0m0 112h0m0-105h0m1 37h0m0 27h0m0-15h0m0-16h0m0-28h0m0 4h0m0 12h0m0 43h0m0-93h0m0 52h0m0 15h0m0-46h0m0 9h0m0 8h0m0 16h0m0 47h0m0-137h0m0 82h0m0 15h0m0-17h0m0-35h0m0 1h0m0 15h0m0-8h0m0 43h0m0-18h0m0-32h0m0 37h0m0 92h0m0-83h0m0-34h0m0 8h0m1 73h0m0-86h0m0 14h0m0-6h0m0 47h0m0-39h0m0-26h0m0 55h0m0-7h0m0 42h0m0 11h0m0-58h0m0-19h0m0-47h0m0 116h0m0-64h0m0 39h0m0-35h0m0 80h0m0-28h0m0-99h0m0 62h0m0 59h0m1-32h0m0-5h0m0 74h0m0-163h0m0 90h0m0-79h0m0 55h0m0 50h0m0-76h0m0 12h0m0-31h0m0-59h0m0 166h0m0-94h0m0 95h0m0-198h0m0 183h0m0-13h0m0-37h0m0 58h0m0-36h0m0 42h0m0-132h0m0 21h0m1 24h0m0-1h0m0 20h0m0 44h0m0-23h0m0-87h0m0 87h0m0-27h0m0 8h0m0-6h0m0 22h0m0-23h0m0 23h0m0-18h0m0 40h0m0-60h0m0 34h0m0 33h0m0-97h0m0 100h0m0 16h0m1-48h0m0 24h0m0-26h0m0 20h0m0-6h0m0-2h0m0-107h0m0 84h0m0-30h0m0 38h0m0-76h0m0 69h0m0 32h0m0-66h0m0 64h0m0-20h0m0-53h0m0-7h0m0 97h0m0-47h0m0-15h0m0 73h0m0-40h0m0-57h0m0 145h0m0-226h0m0 122h0m0 29h0m0-62h0m0 62h0m0-21h0m0 7h0m0 1h0m0-12h0m0-43h0m0 3h0m1-11h0m0-13h0m0-15h0m0 65h0m0-29h0m0 29h0m0 23h0m0-93h0m0 19h0m0 83h0m0-58h0m0 57h0m0 104h0m0-194h0m0 7h0m0 44h0m0 4h0m0 84h0m0-159h0m0 61h0m0 19h0m0-22h0m0 7h0m1 50h0m0-17h0m0-5h0m0-31h0m0 44h0m0-74h0m0 94h0m0-31h0m0 23h0m0-33h0m0-65h0m0 67h0m0-15h0m0-69h0m0 94h0m0 2h0m0-16h0m0-4h0m0-20h0m0 24h0m0 23h0m0-8h0m0 8h0m0-80h0m0 47h0m0 49h0m0-102h0m0 54h0m0-10h0m0 43h0m0-90h0m0 5h0m0 58h0m0-38h0m1 99h0m0-85h0m0 2h0m0 118h0m0-100h0m0-81h0m0 69h0m0 27h0m0 20h0m0-50h0m0 10h0m0 56h0m0 10h0m0-113h0m0 78h0m0-42h0m0-18h0m0 14h0m0-52h0m0 130h0m0-68h0m0 19h0m0 16h0m0-29h0m0 12h0m0 4h0m0 44h0m0-74h0m0 85h0m0-97h0m1 48h0m0-4h0m0-22h0m0-82h0m0 163h0m0-22h0m0-19h0m0-71h0m0 136h0m0-121h0m0-26h0m0 118h0m0-26h0m0-65h0m0-10h0m0-22h0m0 26h0m0 50h0m0 4h0m0-13h0m0-116h0m0 159h0m0-98h0m0 49h0m0 46h0m0-41h0m0 11h0m0-21h0m0-61h0m1 73h0m0 51h0m0-74h0m0-17h0m0 39h0m0 39h0m0-95h0m0 83h0m0-30h0m0 48h0m0-59h0m0-28h0m0 64h0m0-52h0m0-11h0m0-12h0m0 0h0m0-30h0m0 154h0m0-84h0m0-65h0m0 51h0m0-18h0m0-39h0m0 81h0m0 31h0m0-31h0m0-40h0m1 67h0m0 17h0m0-21h0m0-55h0m0 31h0m0-14h0m0 56h0m0-149h0m0 126h0m0 2h0m0-47h0m0 24h0m0 23h0m0-44h0m0-2h0m0 38h0m0-62h0m0 106h0m0-129h0m0 4h0m0 14h0m0 55h0m0 58h0m0-131h0m0 107h0m0-3h0m0-129h0m0 73h0m0 8h0m0 13h0m0 11h0m0 25h0m0-24h0m0-16h0m0-23h0m0 60h0m0 25h0m0-99h0m1 24h0m0 7h0m0 22h0m0 10h0m0 12h0m0-86h0m0 151h0m0-70h0m0-77h0m0-9h0m0 26h0m0 63h0m0-71h0m0 20h0m0 7h0m0-61h0m0 61h0m0 23h0m0 86h0m0-144h0m0 63h0m0 22h0m0-34h0m0 76h0m0 44h0m0-78h0m0-87h0m0 56h0m0-86h0m0 69h0m1 26h0m0-31h0m0 33h0m0-7h0m0-30h0m0-55h0m0 27h0m0-32h0m0 20h0m0-14h0m0 32h0m0 47h0m0-2h0m0-33h0m0 27h0m0 4h0m0-18h0m0-22h0m0 75h0m0-27h0m0-3h0m0-14h0m0-17h0m0-41h0m0 151h0m0-55h0m1 6h0m0-48h0m0 15h0m0-14h0m0-41h0m0 62h0m0-115h0m0 170h0m0-95h0m0 6h0m0 4h0m0-4h0m0-9h0m0 28h0m0 38h0m0-94h0m0 33h0m0-19h0m0-30h0m0 94h0m0-14h0m0 15h0m0-115h0m0 118h0m0-10h0m0 17h0m0-67h0m0-17h0m0 36h0m0 62h0m0 14h0m1-94h0m0 61h0m0-35h0m0 19h0m0-26h0m0 72h0m0 16h0m0-101h0m0 3h0m0 70h0m0-95h0m0 67h0m0-26h0m0-49h0m0-20h0m0 50h0m0-32h0m0 11h0m0 22h0m0-8h0m0 31h0m0 59h0m0 7h0m0-129h0m0 6h0m0 17h0m0 12h0m0-64h0m0 30h0m0 82h0m0 35h0m0-92h0m0 57h0m0-18h0m1-31h0m0 85h0m0-121h0m0 67h0m0-42h0m0 28h0m0 20h0m0 9h0m0 23h0m0 1h0m0-86h0m0 100h0m0-110h0m0 40h0m0 53h0m0-3h0m0-67h0m0-42h0m0 105h0m0-56h0m0 77h0m0-89h0m0 43h0m1 0h0m0-53h0m0 34h0m0 9h0m0-20h0m0-5h0m0 55h0m0 57h0m0-68h0m0-12h0m0 2h0m0 21h0m0-38h0m0 38h0m0-102h0m0 91h0m0 68h0m0-134h0m0 52h0m0 27h0m0-83h0m0 8h0m0 33h0m0 67h0m0-35h0m0-65h0m0-21h0m0 46h0m1-97h0m0 102h0m0 80h0m0-40h0m0-4h0m0-46h0m0-63h0m0 7h0m0 121h0m0-58h0m0-10h0m0 117h0m0-105h0m0-23h0m0 70h0m0-64h0m0 74h0m0-31h0m0-11h0m0 5h0m0-28h0m0-27h0m0 36h0m0 17h0m0-34h0m1 45h0m0 32h0m0-5h0m0-70h0m0 95h0m0-27h0m0 6h0m0-70h0m0 48h0m0-47h0m0 48h0m0 20h0m0 22h0m0 25h0m0-139h0m0 31h0m0-10h0m0 9h0m0-63h0m0 78h0m0-72h0m0 85h0m1-93h0m0 112h0m0 11h0m0-74h0m0 23h0m0-46h0m0 36h0m0-45h0m0 91h0m0-25h0m0-76h0m0 112h0m0 24h0m0-158h0m0 13h0m0 112h0m0 27h0m0-151h0m0 62h0m0 9h0m0-26h0m0 28h0m0 8h0m0 6h0m0-14h0m0 38h0m0-26h0m0 23h0m0 24h0m0 22h0m1-5h0m0-15h0m0-25h0m0-35h0m0 65h0m0-67h0m0 54h0m0-7h0m0 0h0m0-25h0m0 10h0m0-33h0m0-20h0m0 16h0m0-5h0m0 91h0m0-129h0m0 4h0m0 138h0m0-75h0m0 64h0m0-32h0m0-69h0m0 38h0m0 2h0m0 34h0m0-45h0m0-77h0m0 49h0m0 97h0m0-105h0m0 32h0m0 76h0m0-35h0m0 54h0m1-60h0m0 8h0m0-55h0m0 68h0m0-23h0m0-70h0m0-56h0m0 137h0m0-36h0m0-8h0m0-26h0m0 20h0m0 19h0m0-44h0m0 54h0m0-17h0m0-78h0m0 109h0m0 22h0m0 7h0m0 23h0m0-71h0m0 23h0m0-9h0m0 60h0m0-92h0m0 29h0m0-1h0m0 9h0m0 2h0m1-87h0m0 50h0m0-75h0m0 69h0m0 1h0m0 37h0m0-32h0m0 76h0m0-145h0m0 54h0m0 0h0m0 19h0m0 24h0m0-90h0m0 39h0m0 47h0m0-29h0m0 30h0m0 61h0m0-75h0m0-1h0m0 31h0m0 49h0m0-62h0m0-154h0m0 192h0m1-93h0m0 15h0m0 93h0m0-107h0m0 54h0m0-11h0m0-57h0m0 26h0m0 47h0m0-90h0m0 7h0m0 30h0m0 6h0m0 12h0m0 3h0m0-76h0m0 80h0m0-11h0m0 115h0m0-75h0m0-3h0m0-65h0m0-4h0m0 53h0m0-47h0m0 58h0m0-2h0m0 11h0m1-7h0m0-21h0m0 26h0m0-14h0m0 47h0m0-111h0m0 118h0m0-36h0m0-27h0m0-1h0m0 0h0m0-6h0m0 1h0m0 22h0m0-51h0m0-11h0m0 29h0m0 1h0m0 80h0m0-30h0m0-100h0m0 62h0m0 105h0m0-70h0m0 21h0m0-13h0m0-96h0m0 116h0m0-70h0m0 106h0m0-54h0m0-3h0m0-44h0m0 66h0m0-100h0m0-4h0m1 76h0m0 12h0m0-80h0m0 79h0m0-27h0m0 10h0m0-52h0m0 29h0m0-32h0m0-34h0m0-13h0m0-16h0m0 52h0m0 35h0m0-7h0m0 19h0m0 24h0m0-32h0m0-58h0m0 139h0m0-119h0m0 45h0m0-73h0m0 6h0m0 113h0m0-41h0m0-4h0m0-56h0m0 59h0m0-5h0m0 3h0m0 4h0m0-70h0m0 88h0m1-109h0m0 53h0m0-27h0m0 109h0m0 9h0m0-112h0m0 101h0m0-98h0m0 80h0m0-48h0m0-8h0m0-94h0m0 132h0m0-38h0m0-27h0m0 90h0m0 16h0m0-73h0m0 101h0m0-112h0m0 68h0m0-89h0m0 15h0m0 15h0m0 43h0m0 7h0m0-1h0m0-15h0m1 28h0m0-94h0m0 82h0m0-104h0m0 16h0m0 48h0m0 42h0m0 65h0m0-119h0m0 60h0m0 22h0m0-95h0m0 45h0m0-1h0m0 44h0m0-63h0m0 3h0m0 41h0m0 63h0m0-69h0m0 3h0m0-18h0m0 20h0m0-86h0m1 45h0m0 69h0m0-24h0m0-10h0m0-32h0m0-14h0m0-46h0m0 36h0m0 124h0m0-88h0m0-25h0m0 18h0m0-59h0m0 21h0m0 54h0m0-4h0m0 18h0m0 50h0m0-60h0m0-8h0m0 10h0m0-32h0m0 31h0m0-27h0m0 51h0m0-89h0m0 21h0m0 11h0m0 75h0m1-122h0m0 111h0m0 58h0m0-159h0m0 56h0m0-71h0m0 16h0m0 26h0m0 32h0m0 53h0m0-134h0m0 111h0m0-29h0m0-6h0m0-38h0m0 83h0m0-34h0m0-22h0m0-46h0m0 6h0m1 41h0m0 72h0m0-24h0m0-112h0m0 69h0m0-42h0m0 90h0m0-30h0m0 78h0m0-92h0m0 16h0m0-10h0m0 68h0m0-12h0m0-58h0m0 2h0m0 68h0m0 1h0m0-25h0m0-14h0m0-61h0m0 65h0m0-118h0m0 29h0m0 94h0m0-114h0m0 88h0m0-57h0m0 28h0m0-67h0m0 63h0m0 44h0m0-5h0m0-35h0m0 37h0m0-88h0m0-29h0m0 23h0m0-12h0m1 36h0m0 26h0m0 1h0m0-33h0m0-35h0m0 83h0m0 60h0m0-78h0m0 64h0m0-81h0m0-30h0m0 112h0m0-88h0m0-7h0m0 97h0m0 23h0m0-8h0m0-60h0m0-26h0m0 3h0m0 18h0m0 70h0m0-89h0m0 38h0m0-54h0m0 49h0m0-13h0m0 14h0m0-47h0m0 30h0m0 119h0m1-148h0m0-12h0m0 9h0m0-37h0m0 129h0m0-30h0m0-17h0m0-61h0m0 98h0m0-26h0m0-27h0m0 11h0m0-55h0m0 78h0m0-92h0m0 36h0m0-10h0m0 21h0m0-26h0m0 141h0m0-65h0m0-19h0m0-3h0m0 36h0m0-83h0m1-46h0m0 104h0m0-91h0m0 83h0m0 13h0m0-68h0m0 12h0m0 22h0m0-12h0m0-50h0m0 76h0m0 21h0m0-57h0m0 47h0m0 4h0m0 45h0m0-66h0m0 0h0m0 28h0m0-29h0m0 53h0m0-90h0m0 25h0m0 68h0m0-123h0m1 98h0m0-39h0m0 2h0m0-26h0m0-17h0m0 83h0m0-91h0m0 87h0m0-96h0m0 62h0m0-42h0m0-51h0m0 88h0m0-1h0m0 43h0m0 43h0m0-71h0m0-76h0m0 91h0m0-44h0m0-58h0m0 97h0m0-50h0m0 141h0m0-123h0m0 58h0m0-59h0m0 6h0m0 44h0m0-31h0m0-46h0m1 87h0m0-1h0m0-48h0m0 8h0m0 3h0m0-5h0m0 30h0m0-57h0m0 75h0m0-29h0m0-99h0m0 33h0m0 68h0m0-33h0m0-1h0m0-19h0m0-3h0m0-11h0m0 2h0m0 91h0m0-20h0m0-4h0m0-45h0m0-18h0m0 101h0m0-12h0m0 5h0m0-30h0m0 58h0m0-89h0m0 58h0m0-92h0m0 84h0m0-29h0m0-19h0m0 20h0m0 7h0m1-55h0m0 40h0m0 69h0m0-101h0m0-54h0m0 67h0m0 29h0m0-5h0m0 14h0m0 17h0m0-122h0m0 67h0m0 97h0m0-136h0m0 85h0m0-21h0m0-40h0m0-23h0m0-5h0m0 46h0m0-109h0m0 40h0m0 104h0m0-21h0m0-48h0m0 19h0m0 69h0m0 0h0m0-144h0m0 71h0m0-7h0m0 39h0m0 14h0m0-87h0m0 50h0m0-13h0m0 55h0m1-46h0m0 83h0m0-11h0m0-52h0m0-8h0m0-85h0m0 123h0m0-33h0m0 64h0m0-74h0m0-14h0m0 11h0m0 91h0m0-165h0m0 98h0m0-84h0m0 125h0m0-49h0m0 55h0m0-67h0m0-12h0m0-9h0m0 40h0m0-13h0m0 42h0m0-86h0m0 0h0m0 21h0m0 58h0m0-6h0m0 4h0m0 53h0m0-7h0m0-71h0m0-30h0m0 35h0m1 33h0m0-11h0m0 4h0m0-48h0m0-2h0m0-11h0m0 3h0m0-5h0m0 28h0m0 13h0m0 0h0m0 55h0m0-98h0m0 36h0m0 31h0m0-30h0m0-16h0m0 33h0m0-42h0m0 17h0m0 95h0m0-90h0m0-75h0m0-28h0m0 22h0m0 89h0m0 28h0m0-27h0m0-24h0m0 22h0m1 20h0m0-71h0m0 50h0m0 52h0m0-36h0m0-28h0m0 43h0m0-76h0m0 145h0m0-80h0m0-93h0m0 73h0m0 68h0m0-90h0m0 33h0m0-27h0m0 73h0m0-29h0m0 44h0m0-100h0m0 22h0m0-79h0m0 88h0m0-24h0m0-3h0m1 4h0m0-29h0m0 45h0m0 29h0m0 46h0m0-73h0m0-17h0m0-1h0m0 13h0m0 56h0m0-94h0m0 103h0m0 15h0m0-113h0m0 92h0m0-59h0m0-2h0m0 11h0m0-49h0m0-2h0m0 22h0m0 54h0m0 7h0m0-14h0m0 34h0m1-21h0m0 20h0m0-129h0m0 24h0m0 67h0m0-3h0m0-129h0m0 47h0m0 93h0m0 10h0m0-7h0m0-31h0m0 36h0m0-35h0m0-42h0m0 89h0m0-52h0m0 4h0m0 42h0m0-12h0m0-34h0m0-4h0m0 27h0m0-117h0m0 97h0m0-9h0m0-44h0m0 49h0m0 119h0m0-165h0m0-13h0m0 30h0m0 53h0m0 3h0m0-63h0m1 11h0m0 10h0m0 7h0m0 5h0m0-31h0m0 68h0m0-58h0m0 64h0m0-42h0m0 52h0m0-46h0m0-118h0m0 118h0m0-13h0m0-20h0m0 5h0m0-78h0m0 75h0m0-14h0m0 71h0m0-23h0m0-109h0m0 12h0m0 140h0m0 16h0m0-90h0m0 6h0m0 64h0m0-32h0m0-26h0m0-42h0m0 90h0m0-26h0m0 26h0m0-35h0m0 3h0m0 56h0m0-3h0m1-38h0m0-16h0m0 66h0m0-80h0m0 65h0m0-53h0m0-69h0m0 43h0m0 5h0m0-91h0m0 171h0m0-34h0m0 30h0m0-27h0m0 23h0m0-64h0m0-61h0m0 84h0m0-51h0m0-6h0m0 17h0m0 24h0m0 49h0m1-45h0m0 76h0m0-104h0m0 12h0m0-11h0m0 136h0m0-124h0m0 35h0m0-52h0m0 36h0m0 14h0m0-8h0m0 31h0m0-136h0m0 52h0m0 38h0m0 26h0m0-19h0m0-4h0m0-48h0m0 64h0m0-51h0m1 43h0m0 35h0m0-89h0m0 68h0m0-21h0m0 62h0m0-33h0m0-30h0m0 26h0m0-40h0m0 53h0m0-16h0m0-64h0m0 22h0m0 23h0m0 81h0m0-91h0m0 129h0m0-121h0m0-38h0m0 52h0m0 19h0m0-60h0m0 32h0m0 77h0m0-116h0m0 18h0m0-1h0m0 82h0m0-42h0m0 77h0m0-70h0m0-20h0m1 100h0m0-98h0m0 33h0m0-26h0m0-9h0m0 41h0m0-6h0m0-124h0m0 81h0m0-46h0m0 51h0m0-32h0m0 72h0m0-44h0m0-17h0m0 29h0m0-39h0m0 96h0m0-69h0m0-16h0m0 63h0m0-100h0m0 36h0m0 20h0m0 63h0m1-67h0m0-27h0m0 37h0m0-26h0m0 69h0m0-13h0m0-55h0m0 18h0m0 60h0m0-42h0m0-98h0m0 106h0m0-21h0m0 6h0m0 99h0m0-80h0m0 31h0m0-76h0m0-9h0m0 24h0m0 58h0m0-96h0m0 35h0m0 9h0m1 17h0m0-5h0m0-80h0m0 162h0m0-117h0m0 78h0m0-116h0m0 107h0m0-77h0m0-61h0m0 29h0m0 120h0m0-76h0m0-97h0m0 32h0m0 57h0m0 61h0m0-50h0m0 2h0m0 21h0m0-35h0m0 51h0m0-34h0m0 21h0m0 32h0m0-12h0m0-8h0m0-91h0m0-61h0m0 122h0m0-16h0m0 54h0m0 13h0m0 46h0m0-102h0m0 34h0m0-92h0m0 6h0m0 42h0m1 42h0m0 40h0m0-113h0m0 26h0m0 82h0m0-62h0m0-53h0m0 77h0m0-24h0m0 58h0m0-48h0m0-66h0m0 92h0m0-51h0m0-33h0m0 88h0m0-65h0m0 8h0m0-72h0m0 92h0m0-35h0m0-17h0m0 21h0m0 26h0m0-92h0m0 87h0m0 46h0m0-5h0m0-65h0m0 45h0m0-23h0m1-9h0m0-13h0m0 34h0m0-46h0m0 87h0m0-54h0m0-4h0m0 12h0m0 39h0m0-91h0m0 32h0m0 11h0m0 39h0m0-29h0m0-67h0m0 42h0m0 89h0m0-42h0m0-150h0m0 125h0m0-8h0m0-12h0m0-4h0m1 21h0m0 14h0m0 2h0m0-90h0m0 86h0m0-30h0m0 30h0m0 7h0m0-11h0m0 8h0m0 46h0m0-84h0m0 2h0m0 73h0m0-68h0m0-22h0m0 124h0m0-88h0m0-13h0m0-8h0m0 25h0m0 7h0m0-43h0m0 23h0m0 39h0m0-73h0m0 51h0m0-68h0m0 73h0m0 11h0m1 27h0m0-2h0m0-68h0m0 4h0m0 40h0m0-18h0m0-103h0m0 157h0m0-50h0m0-37h0m0 78h0m0-48h0m0-74h0m0 56h0m0-20h0m0 34h0m0 13h0m0-104h0m0 115h0m0-3h0m0-37h0m0 68h0m0-42h0m1 67h0m0-57h0m0-25h0m0-1h0m0-5h0m0-7h0m0 67h0m0-103h0m0-4h0m0 141h0m0-94h0m0 33h0m0-67h0m0 13h0m0 131h0m0-77h0m0 39h0m0-46h0m0 53h0m0-54h0m0-99h0m0 78h0m0 2h0m0-33h0m0 116h0m0-67h0m0 16h0m0-31h0m0-14h0m1 86h0m0-38h0m0-23h0m0-42h0m0 64h0m0-61h0m0 91h0m0-90h0m0 16h0m0 4h0m0 23h0m0 45h0m0-60h0m0 35h0m0-57h0m0 44h0m0-27h0m0-19h0m0 64h0m0-12h0m0-8h0m0-82h0m0 79h0m0-101h0m0 101h0m0 49h0m0-78h0m0 28h0m0-18h0m0-28h0m0 82h0m0-4h0m0-83h0m0 77h0m0 10h0m0-100h0m0 9h0m0-16h0m0 79h0m0-21h0m1 70h0m0-36h0m0-61h0m0-21h0m0 48h0m0 5h0m0 6h0m0-39h0m0 70h0m0-76h0m0 30h0m0 66h0m0-26h0m0 10h0m0-26h0m0 61h0m0-60h0m0-41h0m0 54h0m0 26h0m1-80h0m0 4h0m0 46h0m0 22h0m0-48h0m0-6h0m0 85h0m0-221h0m0 204h0m0-83h0m0-30h0m0 110h0m0-15h0m0-41h0m0 20h0m0-76h0m0 70h0m0-48h0m0 39h0m0 2h0m0-21h0m0-35h0m0 18h0m0 105h0m0-59h0m0-5h0m0 23h0m0-54h0m0 48h0m0-22h0m0 39h0m1-41h0m0-48h0m0-32h0m0 193h0m0-151h0m0 5h0m0 40h0m0-74h0m0 12h0m0 87h0m0-96h0m0 45h0m0 31h0m0 14h0m0-87h0m0 78h0m0-22h0m0-25h0m0-58h0m0 83h0m0 58h0m0-71h0m0 56h0m0-59h0m0-12h0m0 43h0m0 1h0m0 36h0m0-84h0m1 22h0m0-28h0m0 152h0m0-61h0m0-28h0m0-36h0m0 7h0m0 14h0m0 30h0m0-16h0m0-22h0m0 61h0m0-26h0m0-10h0m0-15h0m0-75h0m0 59h0m0 14h0m0-78h0m0-3h0m0 77h0m0-10h0m0-53h0m0 54h0m0-73h0m0 98h0m0 16h0m0-39h0m0-69h0m0 7h0m0 44h0m0 19h0m1-53h0m0 51h0m0 4h0m0 30h0m0-46h0m0 32h0m0-22h0m0 63h0m0-54h0m0-38h0m0 44h0m0-75h0m0 78h0m0 18h0m0-44h0m0-20h0m0 15h0m0 58h0m0 37h0m0-51h0m0 37h0m0-90h0m0 43h0m1-14h0m0-24h0m0 69h0m0-20h0m0 6h0m0-39h0m0 34h0m0-121h0m0 227h0m0-178h0m0 71h0m0 36h0m0-38h0m0-89h0m0 104h0m0-13h0m0-21h0m0-23h0m0 14h0m0 8h0m0-29h0m0 40h0m0-38h0m0-39h0m0 107h0m0-50h0m0-71h0m0 77h0m0 32h0m0-8h0m0-54h0m0 69h0m0 22h0m0-106h0m1 37h0m0 29h0m0-71h0m0 11h0m0 2h0m0 104h0m0-102h0m0 34h0m0-56h0m0 121h0m0-77h0m0 83h0m0-93h0m0 0h0m0 60h0m0 11h0m0-36h0m0 16h0m0-52h0m0 49h0m0 11h0m0-103h0m0 33h0m0 16h0m0-19h0m0 40h0m0 46h0m0-111h0m0 23h0m0 61h0m0-96h0m0 84h0m0-22h0m0 32h0m0-21h0m1 24h0m0-21h0m0 52h0m0-40h0m0-46h0m0 51h0m0 10h0m0-42h0m0 18h0m0-26h0m0 3h0m0-13h0m0 49h0m0 10h0m0 21h0m0-36h0m0 48h0m0-20h0m0 50h0m0-91h0m0-5h0m0-103h0m0 97h0m0-1h0m0-18h0m1 157h0m0-97h0m0-3h0m0 18h0m0-58h0m0 18h0m0-73h0m0 73h0m0-40h0m0 76h0m0-21h0m0 3h0m0-13h0m0-105h0m0 104h0m0 5h0m0-121h0m0 76h0m0 83h0m0-33h0m1-47h0m0 4h0m0-5h0m0 69h0m0-57h0m0 96h0m0-146h0m0 97h0m0-92h0m0 84h0m0 9h0m0-43h0m0-2h0m0-38h0m0 68h0m0 30h0m0-126h0m0 78h0m0-83h0m0-2h0m0 64h0m0 66h0m0-2h0m0-55h0m0-18h0m0 42h0m0 24h0m0 5h0m0-5h0m1-26h0m0-19h0m0 25h0m0-51h0m0 118h0m0-21h0m0-96h0m0 31h0m0-6h0m0-11h0m0 90h0m0-119h0m0 20h0m0 15h0m0 16h0m0-60h0m0-34h0m0 88h0m0-22h0m0-21h0m0 76h0m0-51h0m0 21h0m1 73h0m0-85h0m0-19h0m0 53h0m0 31h0m0-84h0m0 32h0m0-27h0m0 72h0m0-68h0m0 45h0m0-72h0m0 42h0m0 21h0m0 67h0m0-175h0m0 91h0m0 44h0m0-47h0m0 32h0m0 66h0m0-154h0m0 56h0m0 46h0m0-1h0m0-11h0m0-75h0m0 62h0m0-11h0m0-21h0m0 71h0m0 2h0m0 9h0m0-31h0m0 28h0m1 8h0m0-37h0m0 6h0m0-32h0m0 12h0m0 23h0m0-44h0m0-15h0m0-35h0m0 104h0m0-105h0m0-7h0m0 15h0m0 45h0m0 28h0m0-67h0m0 16h0m0 24h0m0-44h0m0 24h0m0-14h0m1 36h0m0 14h0m0-53h0m0 21h0m0-12h0m0 107h0m0-60h0m0-3h0m0 8h0m0 31h0m0-47h0m0 52h0m0-136h0m0 144h0m0-86h0m0 9h0m0-7h0m0 59h0m0-4h0m0-30h0m0 10h0m0 92h0m0-126h0m0 42h0m0-28h0m0-70h0m1 101h0m0-21h0m0-11h0m0 46h0m0-2h0m0-64h0m0 47h0m0-34h0m0-7h0m0-57h0m0 0h0m0 59h0m0-32h0m0 19h0m0 94h0m0-64h0m0 8h0m0-95h0m0 46h0m0 27h0m0 10h0m0-33h0m0 24h0m0 26h0m1-40h0m0 139h0m0-36h0m0-55h0m0 79h0m0-95h0m0-18h0m0-23h0m0 36h0m0-101h0m0 89h0m0 55h0m0 26h0m0-92h0m0 31h0m0 60h0m0-139h0m0 105h0m0-18h0m0-35h0m0 127h0m0-124h0m0 33h0m0-71h0m0-31h0m0 71h0m0-33h0m0-11h0m0 61h0m1-42h0m0 52h0m0 19h0m0 11h0m0 55h0m0-143h0m0 12h0m0-8h0m0 59h0m0 54h0m0-7h0m0-45h0m0 60h0m0-107h0m0-7h0m0-39h0m0 52h0m0 41h0m0-5h0m0-16h0m0 8h0m0 8h0m0 14h0m0 78h0m0-137h0m0 49h0m0-22h0m0 18h0m0-25h0m0-77h0m0 91h0m1 87h0m0-43h0m0-9h0m0-30h0m0 15h0m0 22h0m0-124h0m0 8h0m0 32h0m0 66h0m0 2h0m0-28h0m0-9h0m0-45h0m0 74h0m0-39h0m0 16h0m0-20h0m0 3h0m0 37h0m0 4h0m0-61h0m0-19h0m0 85h0m0-102h0m0 31h0m0 53h0m0-20h0m0 0h0m0 87h0m1-94h0m0 56h0m0 31h0m0-52h0m0 49h0m0-28h0m0-65h0m0 96h0m0 2h0m0-100h0m0-39h0m0 84h0m0-30h0m0-8h0m0 140h0m0-173h0m0 80h0m0-25h0m0-75h0m0 93h0m0-49h0m0 2h0m0 94h0m0-43h0m0-43h0m0 65h0m0-83h0m0 68h0m0 59h0m0-152h0m0 1h0m0 35h0m0 58h0m0-29h0m0-15h0m0-17h0m1 39h0m0 13h0m0 38h0m0-101h0m0 37h0m0-57h0m0 0h0m0 58h0m0-31h0m0 30h0m0-11h0m0-10h0m0 19h0m0-61h0m0 145h0m0-55h0m0-10h0m0-51h0m0-1h0m0-10h0m0 23h0m0-32h0m0 26h0m0 149h0m0-155h0m0 39h0m1 5h0m0 27h0m0 40h0m0-85h0m0 126h0m0-141h0m0 15h0m0 55h0m0-51h0m0 9h0m0 24h0m0-79h0m0 117h0m0-72h0m0 28h0m0-31h0m0-45h0m0-22h0m1 93h0m0-115h0m0 68h0m0 48h0m0-50h0m0-89h0m0 198h0m0-31h0m0-95h0m0 92h0m0-77h0m0 7h0m0 1h0m0-31h0m0 85h0m0-73h0m0 32h0m0-50h0m0-40h0m0 18h0m0 136h0m0-58h0m0 88h0m0-21h0m0-36h0m0-10h0m0 39h0m0-58h0m0 14h0m0-4h0m0-19h0m0 35h0m0-81h0m0 27h0m0 83h0m0 20h0m0-17h0m0-83h0m0-48h0m0 144h0m0-93h0m1-27h0m0 113h0m0-42h0m0-21h0m0-39h0m0-23h0m0 22h0m0 41h0m0-2h0m0-9h0m0 85h0m0-55h0m0 9h0m0 17h0m0 31h0m0-114h0m0 155h0m0-49h0m0-104h0m0 49h0m0-3h0m0-47h0m0 127h0m0-85h0m0 0h0m0-46h0m0 38h0m0 16h0m0-23h0m0-38h0m1 113h0m0-116h0m0 44h0m0-1h0m0 39h0m0-68h0m0 54h0m0 13h0m0-74h0m0-11h0m0 23h0m0 35h0m0-47h0m0 79h0m0-19h0m0-28h0m0 39h0m0 43h0m0-101h0m0 54h0m0-65h0m0-26h0m0 84h0m0-14h0m0-12h0m0-28h0m0 33h0m0-108h0m0 102h0m0 46h0m0 17h0m0 13h0m0-52h0m0 27h0m0-66h0m1 28h0m0 107h0m0-14h0m0-104h0m0-1h0m0-23h0m0 106h0m0-79h0m0-24h0m0 23h0m0 12h0m0 21h0m0-60h0m0 12h0m0-70h0m0 96h0m0 72h0m0-46h0m0-111h0m0 144h0m0-23h0m0-37h0m0-12h0m0 5h0m0 21h0m0 41h0m0-30h0m1 9h0m0-36h0m0-17h0m0 60h0m0-147h0m0 91h0m0 67h0m0-124h0m0 156h0m0-72h0m0-39h0m0 39h0m0-19h0m0 61h0m0-137h0m0 34h0m0 14h0m0 55h0m0 0h0m0-25h0m0 16h0m0 9h0m0-66h0m0 92h0m0 2h0m0-101h0m1 126h0m0-78h0m0 49h0m0-81h0m0 111h0m0-66h0m0-53h0m0 16h0m0 23h0m0-20h0m0 36h0m0 14h0m0-28h0m0-28h0m0 24h0m0 1h0m0-3h0m0 37h0m0-49h0m0 39h0m0-45h0m0 36h0m0 76h0m0-96h0m0 100h0m0-64h0m0-46h0m0 30h0m0-2h0m0 8h0m0 32h0m0-45h0m1-24h0m0-2h0m0 99h0m0-160h0m0 46h0m0 7h0m0 100h0m0-64h0m0-2h0m0 9h0m0 20h0m0-4h0m0-37h0m0 19h0m0 57h0m0-94h0m0 29h0m0 76h0m0 5h0m0-121h0m0 131h0m0-101h0m0 81h0m0 6h0m0-77h0m0-12h0m0 14h0m0-22h0m0 32h0m0-69h0m0 1h0m0 39h0m0-37h0m1 129h0m0-73h0m0-9h0m0-39h0m0 56h0m0-10h0m0-30h0m0 3h0m0 10h0m0-7h0m0 23h0m0 40h0m0 17h0m0-118h0m0 0h0m0 101h0m0-108h0m0 32h0m0 71h0m0-97h0m0 80h0m0-83h0m0 10h0m0-13h0m0 71h0m0-11h0m0 56h0m0-112h0m0 12h0m0 7h0m0 29h0m0 86h0m0-39h0m1-7h0m0 68h0m0-105h0m0 35h0m0-50h0m0 55h0m0-25h0m0-40h0m0 18h0m0-2h0m0 84h0m0-64h0m0-74h0m0 63h0m0 21h0m0-18h0m0 1h0m0 59h0m0 29h0m0-116h0m0 124h0m0-151h0m0 6h0m0 9h0m0 102h0m0-85h0m1 52h0m0-30h0m0 51h0m0-58h0m0 34h0m0 93h0m0-152h0m0 13h0m0-13h0m0 34h0m0-31h0m0 40h0m0 13h0m0-18h0m0 55h0m0 7h0m0-41h0m0-13h0m0-20h0m0 62h0m0-70h0m0 67h0m0-85h0m0 95h0m0-60h0m0 59h0m0-100h0m0 56h0m0-26h0m0-7h0m0 93h0m0-118h0m0-15h0m1 116h0m0-117h0m0 92h0m0-67h0m0 27h0m0 20h0m0-41h0m0 72h0m0-17h0m0-12h0m0 15h0m0-18h0m0 50h0m0-30h0m0-18h0m0-9h0m0-3h0m0 60h0m0-18h0m0-6h0m0-11h0m0-13h0m0 43h0m0-141h0m0 142h0m0-81h0m0 152h0m0-135h0m0 41h0m1-60h0m0 38h0m0-70h0m0 71h0m0 47h0m0-7h0m0-56h0m0 32h0m0-57h0m0 10h0m0 99h0m0-151h0m0 123h0m0 28h0m0-164h0m0 139h0m0-129h0m0 8h0m0 155h0m0-22h0m0-96h0m0 82h0m0-38h0m0 51h0m0-109h0m0 85h0m0-53h0m1 11h0m0 8h0m0 71h0m0-59h0m0-109h0m0 146h0m0-47h0m1 137h0m1-40h0m0 56h0m0 71h0m0 14h0m0-56h0m0 18h0m0 70h0m0 24h0m0-22h0m0 35h0m0-12h0m0-13h0m0 37h0m0-124h0m1-11h0m0 104h0m0-56h0m0 13h0m0 60h0m0-40h0m0-14h0m0 51h0m0-71h0m0 36h0m0-33h0m0 36h0m0-49h0m0 58h0m0 1h0m0 53h0m0-70h0m0-29h0m0 59h0m0-69h0m0 114h0m0-210h0m0 115h0m0 38h0m0-77h0m0 76h0m1 30h0m0 51h0m0-166h0m0 154h0m0-120h0m0 86h0m0-145h0m0 62h0m0 87h0m0-66h0m0 22h0m0-3h0m0-52h0m0 13h0m0-31h0m0 76h0m0 54h0m0-56h0m0 14h0m0-88h0m0 13h0m0 95h0m0 2h0m0-52h0m0-45h0m0 68h0m0-26h0m0 38h0m0-87h0m0 61h0m1-20h0m0 54h0m0-11h0m0-24h0m0-12h0m0-47h0m0 86h0m0-127h0m0 114h0m0 62h0m0-107h0m0 29h0m0-9h0m0 101h0m0-79h0m0 41h0m0-94h0m0-10h0m0 7h0m0-8h0m0 76h0m0-13h0m0 82h0m0-66h0m0-41h0m0 31h0m0 62h0m0-79h0m0-48h0m0 126h0m0-11h0m0-99h0m1 73h0m0-123h0m0 75h0m0 64h0m0-34h0m0 4h0m0-28h0m0-8h0m0 20h0m0-21h0m0 12h0m0-22h0m0 52h0m0-17h0m0 86h0m0-91h0m0-22h0m0 44h0m0-54h0m0 53h0m0-7h0m0 0h0m0-47h0m0 85h0m0-43h0m0 40h0m0-29h0m0-36h0m0-45h0m0 119h0m0-61h0m0 14h0m0 35h0m0-123h0m0 98h0m0-18h0m0-38h0m1-22h0m0 48h0m0 22h0m0-71h0m0 68h0m0-35h0m0 24h0m0 27h0m0-27h0m0-97h0m0 90h0m0 16h0m0-24h0m0 64h0m0-37h0m0-12h0m0-33h0m0 93h0m0-33h0m0-148h0m0 128h0m0-43h0m0 91h0m0-36h0m0 29h0m0-165h0m0 143h0m0-47h0m0 6h0m0-19h0m0 10h0m0 39h0m0 33h0m0-64h0m1 40h0m0-57h0m0 1h0m0 10h0m0 18h0m0 17h0m0 44h0m0-74h0m0 18h0m0 42h0m0-18h0m0-2h0m0-83h0m0-104h0m0 107h0m0 66h0m0-29h0m0 66h0m0-89h0m0 36h0m0 16h0m0 24h0m0-17h0m0-2h0m0 27h0m1-42h0m0 49h0m0-68h0m0 17h0m0 70h0m0-93h0m0-40h0m0 70h0m0 22h0m0-29h0m0-19h0m0 14h0m0-119h0m0 183h0m0-79h0m0 20h0m0-10h0m0-3h0m0 34h0m0-5h0m0 15h0m0-79h0m0 34h0m0 42h0m0-14h0m0-49h0m0 46h0m0 29h0m0-62h0m0-22h0m1 44h0m0-44h0m0 58h0m0-80h0m0 83h0m0 20h0m0-24h0m0-76h0m0 121h0m0-40h0m0-63h0m0 15h0m0 36h0m0-14h0m0-41h0m0 40h0m0-27h0m0 58h0m0-80h0m0 74h0m0-60h0m1 100h0m0-18h0m0-53h0m0-21h0m0 17h0m0 44h0m0-12h0m0 11h0m0-17h0m0-100h0m0 74h0m0 13h0m0-39h0m0 38h0m0 20h0m0-71h0m0 79h0m0-57h0m0 33h0m0-77h0m0 24h0m0 66h0m0 36h0m0-107h0m0 60h0m0-33h0m0-4h0m0 35h0m0 6h0m0-25h0m0 71h0m0-9h0m0-65h0m0-121h0m0 101h0m0-30h0m1 98h0m0-105h0m0 59h0m0-48h0m0 3h0m0-25h0m0 127h0m0-54h0m0 46h0m0-15h0m0-34h0m0 95h0m0-99h0m0 12h0m0 55h0m0-147h0m0 10h0m0 60h0m0 38h0m0 57h0m0-78h0m0 85h0m0-88h0m0 28h0m0-2h0m0-7h0m0-20h0m0-33h0m0 31h0m0-32h0m0 52h0m0 79h0m1-39h0m0-86h0m0 32h0m0 94h0m0-53h0m0-39h0m0 75h0m0-51h0m0 21h0m0 25h0m0-44h0m0-20h0m0 20h0m0 63h0m0-67h0m0-48h0m0 24h0m0 35h0m0 23h0m0-66h0m0 41h0m1-116h0m0 127h0m0-33h0m0-43h0m0 20h0m0-17h0m0 66h0m0-10h0m0-69h0m0 61h0m0-36h0m0 40h0m0-42h0m0 8h0m0 11h0m0-2h0m0 36h0m0 22h0m0-25h0m0-31h0m0 30h0m0-40h0m0 95h0m0-45h0m0 106h0m0-130h0m0 20h0m0-34h0m0-32h0m0 79h0m0-55h0m0 6h0m0 8h0m0 4h0m0 32h0m0 1h0m1-15h0m0 15h0m0-57h0m0-4h0m0 72h0m0 6h0m0 25h0m0-161h0m0 91h0m0 48h0m0-34h0m0 48h0m0-70h0m0 18h0m0 0h0m0 9h0m0-120h0m0 70h0m0 115h0m0-154h0m0-75h0m0 132h0m0-13h0m0 27h0m0-108h0m0 179h0m0-60h0m0 18h0m0-133h0m0 105h0m0-30h0m1 117h0m0-160h0m0 74h0m0-31h0m0 47h0m0 59h0m0-55h0m0-82h0m0 70h0m0-34h0m0 63h0m0-53h0m0-8h0m0 39h0m0 60h0m0-137h0m0 43h0m0-24h0m0 121h0m0-88h0m0-2h0m0-21h0m0 47h0m0-55h0m0 51h0m0 16h0m0 6h0m0-15h0m1 9h0m0-72h0m0 67h0m0-11h0m0-25h0m0-80h0m0 118h0m0-33h0m0 23h0m0-50h0m0 13h0m0-39h0m0 14h0m0 42h0m0 21h0m0 3h0m0-3h0m0-16h0m0 18h0m0 26h0m0-113h0m0 71h0m0 15h0m0 12h0m0-82h0m0-36h0m0 92h0m0-51h0m0-22h0m0 137h0m0-120h0m0 52h0m0 21h0m0-80h0m0 102h0m0-57h0m0-35h0m1 5h0m0 107h0m0-73h0m0 54h0m0-21h0m0 6h0m0-48h0m0-53h0m0 116h0m0-33h0m0-5h0m0-17h0m0 57h0m0-86h0m0 90h0m0-31h0m0 6h0m0-28h0m0 47h0m0 48h0m0-128h0m0-22h0m0 1h0m0-70h0m0 120h0m0-17h0m0 58h0m0-22h0m0 21h0m0-24h0m0-72h0m1 83h0m0-46h0m0 100h0m0-121h0m0 113h0m0-118h0m0 126h0m0-62h0m0 7h0m0-41h0m0-40h0m0 47h0m0-35h0m0-1h0m0 17h0m0 29h0m0 0h0m0-16h0m0 61h0m0-62h0m0-9h0m0 67h0m0-87h0m0 7h0m0 89h0m0-15h0m0 16h0m0-104h0m0 58h0m1-88h0m0 167h0m0-42h0m0-9h0m0-72h0m0 96h0m0-27h0m0-23h0m0-25h0m0-85h0m0 94h0m0-28h0m0 0h0m0 76h0m0 13h0m0-93h0m0 59h0m0-20h0m0-28h0m0-74h0m0 144h0m0-62h0m0 36h0m0 22h0m0-45h0m0-16h0m0-2h0m0 32h0m0-26h0m0-20h0m0 75h0m0-51h0m0 36h0m0-63h0m0 7h0m0 99h0m0-6h0m0-88h0m0 43h0m1 41h0m0-33h0m0-28h0m0-17h0m0 9h0m0 59h0m0 26h0m0-59h0m0 23h0m0 7h0m0-67h0m0 82h0m0-27h0m0-70h0m0 114h0m0-107h0m0-17h0m0 22h0m0 41h0m0-33h0m0 10h0m0-46h0m0 74h0m0 89h0m0-81h0m0-27h0m0-31h0m0 18h0m0-16h0m0 101h0m0-43h0m0-95h0m0 19h0m0 134h0m0-38h0m0-37h0m0-22h0m0-7h0m1 67h0m0-149h0m0 95h0m0 30h0m0 18h0m0-100h0m0 47h0m0 33h0m0-18h0m0 63h0m0-26h0m0-90h0m0 34h0m0 20h0m0-49h0m0 35h0m0 13h0m0-122h0m0 137h0m0 63h0m0-35h0m0-7h0m0 23h0m0-87h0m0 73h0m0 20h0m0-33h0m0-13h0m0 28h0m0-111h0m0 113h0m0-115h0m0 55h0m0 17h0m0-30h0m0 31h0m0-60h0m0 102h0m0-37h0m1-29h0m0 44h0m0-13h0m0-74h0m0 19h0m0-42h0m0 10h0m0 103h0m0-15h0m0-6h0m0-17h0m0-12h0m0 64h0m0-93h0m0 81h0m0 9h0m0-91h0m0 44h0m0 41h0m0 32h0m0-66h0m0-57h0m0 54h0m0 3h0m0 4h0m0-75h0m0 52h0m1 8h0m0-3h0m0 84h0m0-98h0m0 92h0m0-4h0m0-96h0m0 16h0m0-43h0m0 65h0m0 62h0m0-44h0m0-106h0m0 61h0m0 1h0m0 44h0m0-68h0m0 23h0m0 25h0m0-10h0m0 24h0m0-39h0m0-50h0m0 35h0m0 80h0m0-105h0m0 72h0m0 6h0m1 8h0m0-35h0m0 10h0m0 43h0m0-2h0m0-56h0m0-9h0m0 16h0m0-5h0m0 20h0m0-41h0m0 4h0m0 174h0m0-139h0m0 50h0m0-36h0m0-6h0m0-11h0m0 111h0m0-80h0m0-25h0m0 25h0m0-55h0m0 31h0m0-29h0m0 24h0m0 72h0m0-27h0m0-52h0m0 20h0m0-48h0m0 60h0m1-40h0m0-20h0m0 70h0m0-102h0m0 78h0m0-34h0m0-15h0m0 25h0m0 22h0m0 23h0m0-32h0m0 34h0m0-1h0m0-26h0m0-14h0m0-13h0m0 90h0m0-82h0m0 24h0m0 5h0m0 22h0m0 52h0m0-58h0m0-88h0m0 96h0m0-96h0m0 44h0m0-14h0m0 13h0m0 1h0m0 9h0m0 13h0m0 40h0m0-34h0m0-44h0m0 22h0m0 48h0m0 24h0m1-47h0m0-34h0m0 29h0m0 12h0m0-17h0m0-38h0m0 84h0m0-64h0m0-93h0m0 147h0m0-127h0m0 139h0m0-20h0m0-88h0m0 60h0m0-91h0m0 67h0m0-9h0m0 90h0m0-176h0m0 104h0m0 43h0m0-45h0m0-37h0m0 68h0m0-5h0m0 17h0m0-40h0m0-26h0m0 46h0m0-68h0m1-128h0m0-19h0m2 82h0m0-209h0m0 30h0m0 89h0m0-46h0m0-45h0m0 93h0m0 33h0m0-80h0m0-22h0m0 79h0m0-113h0m0-15h0m0 20h0m0 31h0m0 41h0m0-109h0m0 108h0m0-8h0m0-65h0m0-22h0m0 81h0m0 70h0m1-83h0m0-42h0m0 59h0m0-52h0m0 19h0m0 3h0m0 4h0m0-78h0m0 123h0m0-34h0m0-93h0m0 102h0m0-50h0m0-21h0m0 26h0m0 16h0m0-43h0m0 50h0m0 40h0m0-22h0m0-85h0m0 77h0m0-4h0m0 26h0m1 25h0m0-39h0m0 39h0m0-38h0m0-40h0m0-2h0m0 80h0m0-30h0m0 17h0m0-12h0m0 36h0m0-42h0m0-15h0m0 4h0m0 49h0m0-113h0m0 88h0m0 30h0m0-60h0m0 8h0m0-39h0m0 26h0m0 49h0m0-58h0m0-39h0m0 119h0m0-56h0m0 2h0m0-93h0m0 104h0m0-82h0m1 71h0m0-66h0m0 30h0m0 35h0m0-38h0m0 8h0m0 8h0m0-2h0m0 0h0m0 56h0m0-40h0m0-33h0m0 47h0m0-27h0m0-2h0m0 1h0m0-14h0m0 131h0m0-193h0m0 62h0m0 52h0m0 33h0m0-106h0m0 35h0m0-36h0m1 41h0m0-38h0m0 47h0m0 49h0m0-74h0m0 27h0m0-28h0m0 23h0m0-21h0m0 76h0m0-78h0m0 32h0m0-54h0m0-13h0m0 70h0m0-10h0m0-32h0m0 23h0m0 49h0m0-40h0m0-23h0m0 0h0m0 6h0m0 31h0m0-67h0m0 65h0m0-32h0m0-21h0m0 56h0m0 0h0m0-2h0m0 127h0m0-177h0m1-26h0m0 95h0m0-25h0m0-71h0m0-16h0m0 17h0m0 81h0m0-50h0m0 18h0m0 101h0m0-27h0m0-56h0m0-41h0m0 58h0m0-59h0m0 2h0m0 3h0m0 0h0m0 63h0m0-52h0m0-27h0m0 41h0m0-22h0m0 3h0m0-19h0m0-5h0m0 34h0m0-68h0m1 93h0m0-24h0m0-28h0m0 115h0m0-31h0m0-174h0m0 117h0m0 56h0m0-10h0m0-94h0m0 26h0m0-8h0m0 63h0m0-9h0m0-44h0m0 91h0m0-47h0m0-17h0m0-19h0m0 37h0m0-101h0m0 72h0m0-32h0m0 41h0m0 6h0m0-71h0m1 78h0m0-43h0m0-7h0m0 38h0m0 28h0m0-7h0m0-4h0m0-45h0m0 37h0m0 73h0m0-193h0m0 111h0m0 7h0m0 14h0m0-57h0m0 42h0m0-33h0m0-47h0m0 46h0m0 29h0m0 25h0m1-40h0m0-63h0m0 40h0m0 20h0m0 66h0m0-80h0m0 2h0m0-48h0m0 47h0m0 45h0m0 23h0m0-46h0m0 4h0m0 38h0m0-18h0m0-71h0m0-24h0m0 45h0m0-12h0m0 118h0m0-60h0m0-90h0m0 158h0m1-31h0m0 1h0m0-59h0m0 106h0m0-110h0m0-8h0m0 31h0m0-2h0m0-21h0m0 79h0m0-79h0m0-34h0m0 162h0m0-80h0m0-71h0m0 3h0m0 39h0m0-26h0m0 66h0m0-71h0m0 19h0m0 28h0m0-27h0m0 16h0m0-88h0m0 42h0m0-3h0m0 18h0m0 70h0m0-33h0m0-14h0m0-17h0m0 25h0m1-57h0m0-38h0m0 93h0m0 39h0m0-79h0m0 81h0m0-90h0m0 37h0m0 72h0m0-71h0m0-11h0m0 10h0m0 20h0m0 2h0m0-1h0m0 13h0m0 6h0m0-46h0m0-44h0m0 35h0m0 8h0m0-93h0m0 101h0m0-62h0m0 47h0m0 23h0m0-37h0m0 50h0m0 79h0m0-120h0m0 40h0m0-59h0m0 56h0m1-12h0m0 19h0m0 1h0m0-122h0m0 97h0m0-14h0m0 67h0m0-35h0m0-39h0m0 89h0m0-24h0m0-74h0m0 57h0m0-25h0m0 12h0m0 36h0m0-52h0m0-114h0m0 186h0m0-71h0m0 9h0m0-24h0m0 77h0m0-14h0m0-58h0m0 7h0m0 91h0m1-64h0m0-60h0m0 20h0m0-34h0m0 56h0m0-16h0m0 117h0m0-156h0m0-16h0m0 2h0m0 32h0m0-20h0m0 43h0m0 81h0m0-53h0m0-8h0m0-24h0m0-42h0m0 107h0m0-61h0m0-1h0m0-15h0m0 54h0m0-4h0m0-14h0m0-6h0m0-100h0m0 172h0m0-81h0m0 72h0m0-25h0m1-22h0m0 33h0m0-42h0m0-1h0m0-10h0m0-42h0m0 58h0m0-30h0m0 72h0m0-55h0m0 31h0m0 64h0m0-104h0m0-7h0m0 12h0m0-13h0m0 84h0m0 8h0m0-28h0m0-66h0m0-37h0m0 45h0m0 94h0m0-30h0m0-14h0m0-58h0m0 41h0m0 12h0m0 4h0m0-14h0m0 4h0m0-32h0m0 40h0m0-56h0m0-15h0m0 125h0m0-159h0m1 59h0m0 52h0m0-9h0m0 36h0m0-118h0m0-6h0m0-29h0m0 176h0m0-22h0m0-81h0m0 22h0m0 31h0m0-46h0m0 4h0m0 11h0m0-79h0m0 85h0m0-29h0m0 14h0m0 66h0m1-47h0m0-33h0m0 91h0m0-76h0m0-17h0m0 9h0m0-28h0m0-12h0m0 41h0m0 55h0m0-64h0m0-44h0m0-53h0m0 146h0m0-74h0m0-12h0m0 37h0m0 12h0m0-67h0m0 62h0m0 13h0m0 17h0m0-21h0m0-33h0m0-51h0m0 90h0m1 23h0m0-97h0m0 108h0m0-23h0m0-13h0m0 84h0m0-46h0m0-80h0m0-42h0m0 26h0m0 27h0m0-25h0m0 103h0m0-44h0m0-5h0m0 22h0m0 0h0m0 27h0m0-58h0m0 54h0m1-26h0m0-19h0m0 16h0m0-23h0m0-6h0m0 28h0m0-25h0m0-42h0m0 75h0m0-7h0m0-74h0m0 72h0m0-21h0m0 25h0m0-89h0m0 107h0m0-28h0m0-19h0m0 50h0m0-10h0m0 2h0m0-25h0m0 72h0m1-93h0m0-22h0m0 25h0m0-18h0m0 3h0m0 48h0m0-23h0m0 18h0m0-23h0m0 30h0m0-12h0m0-4h0m0 68h0m0-91h0m0-30h0m0 55h0m0-70h0m0 40h0m0-52h0m0 26h0m0 52h0m0-60h0m0 32h0m0 76h0m1-63h0m0 30h0m0-26h0m0-83h0m0 43h0m0 16h0m0 76h0m0-28h0m0 22h0m0 0h0m0-126h0m0 27h0m0 45h0m0 2h0m0 24h0m0-49h0m0-1h0m0 34h0m0-39h0m0 31h0m0-9h0m0 8h0m0-16h0m1 2h0m0 36h0m0 21h0m0-48h0m0-20h0m0 50h0m0-49h0m0 13h0m0 16h0m0-10h0m0 76h0m0-36h0m0 20h0m0-2h0m0-109h0m0 14h0m0-33h0m0 138h0m0-22h0m0-18h0m0-32h0m0 16h0m0 53h0m0-37h0m0-3h0m0 9h0m0-72h0m0 92h0m1-83h0m0 84h0m0-86h0m0 51h0m0-59h0m0 111h0m0-111h0m0 103h0m0-125h0m0 16h0m0 145h0m0-141h0m0 105h0m0 8h0m0-90h0m0 96h0m0-134h0m0 15h0m0 11h0m0 34h0m0-36h0m0 80h0m0-81h0m0 0h0m0-1h0m0 85h0m0-38h0m0-13h0m0-46h0m0 53h0m0 46h0m0 9h0m0-104h0m1-61h0m0 136h0m0-105h0m0 131h0m0-15h0m0-19h0m0-41h0m0 35h0m0-130h0m0 87h0m0-18h0m0 100h0m0-87h0m0 30h0m0-58h0m0 55h0m0 48h0m0-11h0m0 10h0m0 38h0m0-165h0m0 73h0m0 9h0m0 16h0m0-32h0m0 31h0m0 5h0m0-18h0m0-30h0m0 30h0m0 19h0m0-46h0m0 29h0m1-42h0m0 47h0m0 63h0m0-32h0m0-4h0m0-24h0m0-4h0m0 16h0m0-79h0m0 35h0m0 35h0m0 32h0m0-73h0m0-55h0m0 69h0m0-7h0m0 36h0m0-38h0m0 3h0m0 91h0m0-13h0m0-15h0m0 12h0m0-34h0m0 25h0m0-95h0m0 4h0m0 64h0m0 14h0m0-88h0m0 124h0m0-22h0m0-51h0m1 19h0m0-13h0m0 46h0m0-122h0m0 71h0m0-8h0m0 20h0m0-53h0m0 58h0m0 55h0m0-23h0m0-29h0m0 15h0m0-71h0m0 49h0m0-97h0m0 124h0m0-59h0m0 15h0m0 55h0m0-66h0m0 83h0m0-73h0m0 13h0m0 21h0m0 14h0m0-40h0m1 27h0m0 11h0m0-64h0m0 37h0m0 7h0m0 49h0m0-62h0m0 34h0m0-74h0m0 20h0m0-42h0m0 85h0m0 13h0m0-6h0m0 60h0m0-156h0m0 62h0m0-43h0m0 79h0m0-20h0m0 19h0m0 16h0m1-14h0m0-77h0m0-21h0m0 79h0m0 32h0m0-31h0m0-21h0m0 10h0m0 39h0m0-44h0m0 17h0m0-52h0m0-17h0m0 122h0m0-19h0m0 42h0m0-83h0m0-10h0m0 35h0m0-25h0m0-41h0m0 32h0m0 23h0m0 11h0m0-113h0m0 80h0m0-45h0m0 38h0m0-23h0m0 84h0m0-75h0m0 31h0m0-11h0m0 31h0m0 47h0m0 16h0m0-24h0m0-108h0m0 10h0m1 110h0m0-40h0m0-52h0m0 4h0m0-38h0m0 11h0m0 58h0m0-40h0m0 12h0m0 86h0m0-16h0m0-83h0m0-6h0m0-2h0m0 97h0m0 7h0m0-101h0m0 27h0m0-5h0m0 91h0m0-55h0m0 46h0m0-35h0m0-30h0m0-9h0m0-93h0m1 160h0m0-48h0m0-47h0m0 74h0m0-70h0m0 21h0m0-64h0m0 165h0m0-84h0m0-10h0m0 35h0m0 7h0m0-21h0m0 85h0m0-15h0m0-124h0m0 65h0m0-118h0m0 16h0m0 176h0m0-132h0m0-17h0m0 30h0m0-35h0m0 58h0m0-45h0m0 32h0m0 35h0m0-15h0m0 49h0m1-61h0m0-6h0m0-47h0m0 53h0m0-83h0m0 56h0m0 0h0m0 41h0m0-109h0m0 11h0m0 59h0m0 62h0m0-60h0m0 29h0m0 7h0m0-38h0m0 48h0m0 32h0m0-79h0m0-81h0m0 107h0m0-44h0m0 23h0m1 49h0m0 58h0m0-94h0m0-88h0m0 101h0m0-17h0m0-39h0m0 59h0m0 3h0m0-26h0m0 9h0m0-46h0m0 30h0m0 2h0m0-37h0m0 18h0m0 13h0m0 1h0m0-53h0m0 88h0m0-15h0m0 127h0m0-159h0m0 6h0m0-23h0m0 6h0m1 21h0m0-24h0m0 32h0m0 49h0m0-1h0m0-97h0m0 67h0m0 38h0m0-87h0m0 1h0m0 48h0m0 25h0m0-62h0m0 27h0m0-37h0m0 53h0m0-62h0m0 64h0m0-31h0m0 62h0m0 20h0m0-48h0m0-7h0m0 25h0m0-7h0m0 4h0m0-30h0m0 25h0m0-52h0m0-17h0m0 97h0m0-71h0m0 7h0m0 25h0m0-35h0m0 54h0m1 32h0m0-43h0m0-69h0m0 79h0m0 35h0m0-42h0m0 20h0m0-33h0m0 5h0m0-132h0m0 85h0m0-55h0m0 107h0m0-42h0m0 18h0m0 31h0m0-2h0m0-56h0m0 100h0m0-57h0m0-60h0m0 36h0m0-50h0m0-15h0m0 57h0m0 83h0m0-88h0m0-48h0m0 53h0m0-13h0m0 12h0m1 40h0m0-45h0m0 66h0m0-97h0m0-55h0m0 101h0m0 31h0m0-25h0m0 8h0m0 0h0m0 102h0m0-144h0m0 33h0m0 72h0m0-75h0m0-15h0m0-45h0m0 53h0m0 118h0m0-103h0m0 35h0m0 19h0m0-22h0m0-31h0m0-23h0m0-68h0m0 75h0m0 95h0m0-9h0m0-124h0m0 49h0m0 29h0m0-69h0m0 39h0m1-26h0m0 3h0m0-89h0m0 153h0m0-108h0m0 119h0m0-21h0m0-48h0m0-40h0m0-1h0m0 68h0m0-11h0m0-24h0m0-24h0m0 3h0m0 121h0m0-83h0m0 24h0m0 5h0m0-76h0m0 33h0m0 61h0m0-77h0m0-36h0m0 77h0m0 5h0m0 52h0m1-50h0m0-26h0m0-12h0m0-14h0m0 96h0m0 33h0m0-79h0m0 51h0m0 8h0m0-38h0m0-128h0m0 116h0m0 38h0m0-60h0m0-10h0m0-3h0m0 45h0m0 23h0m0 14h0m0-60h0m0 28h0m0-56h0m0-10h0m0-45h0m0 37h0m0 57h0m0-16h0m1-29h0m0 46h0m0-51h0m0-7h0m0 39h0m0 25h0m0-23h0m0-1h0m0-29h0m0-50h0m0 101h0m0-72h0m0 62h0m0-7h0m0 29h0m0-29h0m0 40h0m0-98h0m0 67h0m0-55h0m0 72h0m0-65h0m0-14h0m0 21h0m0 27h0m0-92h0m0 39h0m0 71h0m0-49h0m0 86h0m0-29h0m0-54h0m0-36h0m0 62h0m0-4h0m1-14h0m0-21h0m0 94h0m0-49h0m0-42h0m0 17h0m0-1h0m0 2h0m0 32h0m0 69h0m0 1h0m0-87h0m0-41h0m0 117h0m0-41h0m0-18h0m0-61h0m0 11h0m0 36h0m0-21h0m0-67h0m0 42h0m0 91h0m0-65h0m0 115h0m0-69h0m0-24h0m0-8h0m0-69h0m0 62h0m0 117h0m0-189h0m0 158h0m0-148h0m0 99h0m1-72h0m0-11h0m0 70h0m0-52h0m0 13h0m0 60h0m0-64h0m0 87h0m0-57h0m0-2h0m0 9h0m0 68h0m0-98h0m0-30h0m0 79h0m0-73h0m0 69h0m0-81h0m0 98h0m0-81h0m0 48h0m0-61h0m0-42h0m0 83h0m0 8h0m0 30h0m0-42h0m0 31h0m0 31h0m0-79h0m0 78h0m0-50h0m0 16h0m0 55h0m1-50h0m0-91h0m0 90h0m0 33h0m0-63h0m0 151h0m0-152h0m0 8h0m0 52h0m0 58h0m0-116h0m0-40h0m0 87h0m0-8h0m0 17h0m0-20h0m0 38h0m0-18h0m0-13h0m0-18h0m0-32h0m0-31h0m0 61h0m0 42h0m0-29h0m0-81h0m0 66h0m0-35h0m0 101h0m0-67h0m0-65h0m0 31h0m0 2h0m1 60h0m0-17h0m0-12h0m0 30h0m0-49h0m0 15h0m0 42h0m0-32h0m0 9h0m0-11h0m0-93h0m0 32h0m0 35h0m0-10h0m0 30h0m0 20h0m0 76h0m0-104h0m0-14h0m0 14h0m0-13h0m0 43h0m0 12h0m0-25h0m0 12h0m0-43h0m0 74h0m0-18h0m0-24h0m0-112h0m0 34h0m0 110h0m0-40h0m0-10h0m1 20h0m0 29h0m0-9h0m0-26h0m0-17h0m0-79h0m0 171h0m0-141h0m0 40h0m0 39h0m0 59h0m0-119h0m0 108h0m0-112h0m0 119h0m0-102h0m0 2h0m0-49h0m0 94h0m0 0h0m0-5h0m0 35h0m0-32h0m0 61h0m0-143h0m0 5h0m0 106h0m0-60h0m0 85h0m0-83h0m0 23h0m0 53h0m1-15h0m0 55h0m0-87h0m0-166h0m0 152h0m0-105h0m0 62h0m0 42h0m0 27h0m0-30h0m0-6h0m0-21h0m0 47h0m0-45h0m0-20h0m0 85h0m0-88h0m0 41h0m0 38h0m0-32h0m0 11h0m0 43h0m0-13h0m0-103h0m0 50h0m0 42h0m0-61h0m0 30h0m0 29h0m0-52h0m0 62h0m0-123h0m0 116h0m1-33h0m0-6h0m0 30h0m0-46h0m0 13h0m0 127h0m0-67h0m0-21h0m0-71h0m0 93h0m0-50h0m0-1h0m0 113h0m0-109h0m0-85h0m0 132h0m0-86h0m0-51h0m0 143h0m0-112h0m0 115h0m0-60h0m0-8h0m0-13h0m0 72h0m0-19h0m1-60h0m0 26h0m0-26h0m0 106h0m0-111h0m0 28h0m0 8h0m0 96h0m0-92h0m0-2h0m0-64h0m0 73h0m0 26h0m0-79h0m0 7h0m0 12h0m0 26h0m0-61h0m0 94h0m0-39h0m0 48h0m0-92h0m0-10h0m0 63h0m0-19h0m0 54h0m0-101h0m0 21h0m0 10h0m0 59h0m0-5h0m0 23h0m0 97h0m0-157h0m1-14h0m0-105h0m0 171h0m0-37h0m0-89h0m0 90h0m0-43h0m0 94h0m0-60h0m0-21h0m0 20h0m0-90h0m0 98h0m0-2h0m0 21h0m0-15h0m0-70h0m0 119h0m0-48h0m0-54h0m0 95h0m0-34h0m0 24h0m0-2h0m0-51h0m0 8h0m0 113h0m0-95h0m0-2h0m0-3h0m0 0h0m0 6h0m0 36h0m0-55h0m1-39h0m0 92h0m0-53h0m0 36h0m0 12h0m0-53h0m0-62h0m0 146h0m0-19h0m0-63h0m0 13h0m0 27h0m0-14h0m0-11h0m0-28h0m0 23h0m0-30h0m0-21h0m0 76h0m0-66h0m0-38h0m0 89h0m0-22h0m0 85h0m0-129h0m0 49h0m0 67h0m0-79h0m0 21h0m1 45h0m0-36h0m0-35h0m0 8h0m0 16h0m0-29h0m0 72h0m0-103h0m0 52h0m0 60h0m0-130h0m0 87h0m0 7h0m0-60h0m0 152h0m0-113h0m0-35h0m0 84h0m0-55h0m0 37h0m0-45h0m0 60h0m0-23h0m0-101h0m0 87h0m0 4h0m0 100h0m0-108h0m0 74h0m0-52h0m1-64h0m0 91h0m0-50h0m0-32h0m0-5h0m0 103h0m0-83h0m0-13h0m0-25h0m0 110h0m0-65h0m0-60h0m0 102h0m0-25h0m0-38h0m0 70h0m0 32h0m0-137h0m0 7h0m0-21h0m0 161h0m0-66h0m0-40h0m0-35h0m0 14h0m0 65h0m0 17h0m0-113h0m0 135h0m0-142h0m0 34h0m0 24h0m1 61h0m0 23h0m0-123h0m0 97h0m0-23h0m0 27h0m0-71h0m0-2h0m0 19h0m0 88h0m0-53h0m0-5h0m0 9h0m0-13h0m0-30h0m0 56h0m0-26h0m0 45h0m0-45h0m0-113h0m0 131h0m0-78h0m0 145h0m0-216h0m0 199h0m0-140h0m1 119h0m0-69h0m0 82h0m0-56h0m0 75h0m0-69h0m0 45h0m0-86h0m0 21h0m0-52h0m0 115h0m0-63h0m0 11h0m0 18h0m0-1h0m0 61h0m0-70h0m0-63h0m0 16h0m0 0h0m0 54h0m0 0h0m0-59h0m0 139h0m0-98h0m0-45h0m0 16h0m0 48h0m0-18h0m0 39h0m0-42h0m0-10h0m0 23h0m1-43h0m0 112h0m0-48h0m0-144h0m0 97h0m0-85h0m0 170h0m0-117h0m0 22h0m0 64h0m0-28h0m0-64h0m0 100h0m0 2h0m0-94h0m0 38h0m0-81h0m0 105h0m0-14h0m0 35h0m0-4h0m0-40h0m0-15h0m0 0h0m0-20h0m0-5h0m0-22h0m0 76h0m0-41h0m0 26h0m0 50h0m0 15h0m0-15h0m1-59h0m0 118h0m0-76h0m0-23h0m0-32h0m0 26h0m0 11h0m0-13h0m0 15h0m0 11h0m0 1h0m0-14h0m0-70h0m0-30h0m0 76h0m0 37h0m0-22h0m0 59h0m0-70h0m0-57h0m0 133h0m0-123h0m0-8h0m0 90h0m0-73h0m0 59h0m0-40h0m0 45h0m0-69h0m0 94h0m0-105h0m0 100h0m0-26h0m0 6h0m1-26h0m0 14h0m0-38h0m0 63h0m0-44h0m0 26h0m0-12h0m0 54h0m0-52h0m0-80h0m0 120h0m0-41h0m0-20h0m0 68h0m0-74h0m0 48h0m0 14h0m0-91h0m0-28h0m0 88h0m0-7h0m0-54h0m0 73h0m0-13h0m0 29h0m0-54h0m1 18h0m0-1h0m0-21h0m0-19h0m0 5h0m0 43h0m0 60h0m0-37h0m0 2h0m0 63h0m0-115h0m0 105h0m0-35h0m0-68h0m0 5h0m0-10h0m0 40h0m0-18h0m0-58h0m0-30h0m1 45h0m0 108h0m0-5h0m0-57h0m0-37h0m0 79h0m0-44h0m0 14h0m0-12h0m0 35h0m0-23h0m0 64h0m0-52h0m0 62h0m0-44h0m0-80h0m0 69h0m0-130h0m0 116h0m0-51h0m0 57h0m1 36h0m0-55h0m0-60h0m0 118h0m0-92h0m0-22h0m0 49h0m0 69h0m0-164h0m0 46h0m0 114h0m0-10h0m0-29h0m0-61h0m0 35h0m0 13h0m0-21h0m0 92h0m0-66h0m0 42h0m0-29h0m0-25h0m0 53h0m0-12h0m0-55h0m0 54h0m0-42h0m0 52h0m1-26h0m0-57h0m0 32h0m0 92h0m0-117h0m0 0h0m0 66h0m0-112h0m0 59h0m0 88h0m0-138h0m0 34h0m0 65h0m0 23h0m0-7h0m0-64h0m0 12h0m0-16h0m0-54h0m0 36h0m0 53h0m0-60h0m0-3h0m0 16h0m0-61h0m0 60h0m0 53h0m0 28h0m1-80h0m0 27h0m0-27h0m0 32h0m0 7h0m0-64h0m0 22h0m0 36h0m0-9h0m0-94h0m0 101h0m0-39h0m0 45h0m0 3h0m0 70h0m0-45h0m0-95h0m0 59h0m0 61h0m0-1h0m0-111h0m0-11h0m0 53h0m0 5h0m0 64h0m0-108h0m0 147h0m0-79h0m0 24h0m0-33h0m0-51h0m0-3h0m0 49h0m0 4h0m0-76h0m0 102h0m1-90h0m0 16h0m0 65h0m0-39h0m0 25h0m0 34h0m0 71h0m0-106h0m0-27h0m0-13h0m0 57h0m0-46h0m0 23h0m0 0h0m0 65h0m0-135h0m0 53h0m0-84h0m0 107h0m0-39h0m0 8h0m0 45h0m0 53h0m0-90h0m0-64h0m0 40h0m0 7h0m0 18h0m0-23h0m0 51h0m0-59h0m0 29h0m1-14h0m0 23h0m0 68h0m0-62h0m0-48h0m0 50h0m0 55h0m0 19h0m0-85h0m0 14h0m0-44h0m0 30h0m0-28h0m0-35h0m0 65h0m0-52h0m0 96h0m0-89h0m0 111h0m0-68h0m0-57h0m0 118h0m0-24h0m0-33h0m0 2h0m0 37h0m0-23h0m0 19h0m0-30h0m0 43h0m1-30h0m0-38h0m0-73h0m0 48h0m0 38h0m0 71h0m0-55h0m0 15h0m0 68h0m0-40h0m0-81h0m0-18h0m0 128h0m0-82h0m0 5h0m0-1h0m0 33h0m0-79h0m0 79h0m0-38h0m0-5h0m0-34h0m0 9h0m1 87h0m0-68h0m0-1h0m0 9h0m0-31h0m0 56h0m0 42h0m0-107h0m0 107h0m0-71h0m0-23h0m0 31h0m0 9h0m0-97h0m0 118h0m0 15h0m0-66h0m0 75h0m0-67h0m0 106h0m0-91h0m0 31h0m0-51h0m0 17h0m0 22h0m1-28h0m0 74h0m0-82h0m0 38h0m0-30h0m0 80h0m0-45h0m0-15h0m0-97h0m0 22h0m0 20h0m0 51h0m0-32h0m0 32h0m0 68h0m0-88h0m0 99h0m0-104h0m0 8h0m0-47h0m0-23h0m0 14h0m0 123h0m0-35h0m0 21h0m0-89h0m0 154h0m0-169h0m0 40h0m0 6h0m0-17h0m0 15h0m0 33h0m1-10h0m0 51h0m0 16h0m0-74h0m0 30h0m0-99h0m0 121h0m0-120h0m0 89h0m0-56h0m0 60h0m0-10h0m0 36h0m0-63h0m0 8h0m0 0h0m0-13h0m0 8h0m0-17h0m0-48h0m0 85h0m0-34h0m0 35h0m0-19h0m0 54h0m1 44h0m0-165h0m0-17h0m0 51h0m0 0h0m0 44h0m0-53h0m0-3h0m0 77h0m0-83h0m0 5h0m0 41h0m0 47h0m0-52h0m0-5h0m0-39h0m0 56h0m0 47h0m0-73h0m0 32h0m0-27h0m0 33h0m0-34h0m0-31h0m0 95h0m0-41h0m0-50h0m0 74h0m0-44h0m0 48h0m0-51h0m0-12h0m0 32h0m0-3h0m0-5h0m0-20h0m0 22h0m0 19h0m1 29h0m0-50h0m0-83h0m0 88h0m0 52h0m0-101h0m0 60h0m0-54h0m0 85h0m0 0h0m0-129h0m0 114h0m0 26h0m0-157h0m0 22h0m0 126h0m0-92h0m0 28h0m0 9h0m0 66h0m0-45h0m0-46h0m0 57h0m0-36h0m0 91h0m0-82h0m0-4h0m0-41h0m0 46h0m0-28h0m1-78h0m0 137h0m0 35h0m0-45h0m0-11h0m0-18h0m0-4h0m0 48h0m0 27h0m0-50h0m0-38h0m0 112h0m0-52h0m0 21h0m0-74h0m0 12h0m0 93h0m0-59h0m0 21h0m0-99h0m0 152h0m0 13h0m0-66h0m0-72h0m0-7h0m0 52h0m0-72h0m0 80h0m0 56h0m0-26h0m1-94h0m0 68h0m0-33h0m0 42h0m0-11h0m0-59h0m0-20h0m0 71h0m0-53h0m0-44h0m0 84h0m0-34h0m0 41h0m0-36h0m0 38h0m0 47h0m0-32h0m0-40h0m0 51h0m0 15h0m0-50h0m0 36h0m0-71h0m0 7h0m0 32h0m0-43h0m0 66h0m0-55h0m0 35h0m0-43h0m0-1h0m1 21h0m0-26h0m0 49h0m0 32h0m0-3h0m0-18h0m0 26h0m0-78h0m0 24h0m0 62h0m0-51h0m0-2h0m0 3h0m0-8h0m0 34h0m0 12h0m0-107h0m0 3h0m0 77h0m0-59h0m0 2h0m0 70h0m0-42h0m0-19h0m0 57h0m0-27h0m0 2h0m0 26h0m0-88h0m0 87h0m0 34h0m0-98h0m0-10h0m0 43h0m1-70h0m0 108h0m0-49h0m0 2h0m0-35h0m0 71h0m0-60h0m0 47h0m0 2h0m0-10h0m0-26h0m0 20h0m0 11h0m0-26h0m0 20h0m0 21h0m0 15h0m0-45h0m0-17h0m0 57h0m0-48h0m0-37h0m0 65h0m0-19h0m0 14h0m0 25h0m0-34h0m0 10h0m0 4h0m0-8h0m0 25h0m0-51h0m0 17h0m0 45h0m0-63h0m1 66h0m0-116h0m0 101h0m0 18h0m0-99h0m0 23h0m0 60h0m0-30h0m0 37h0m0-100h0m0 67h0m0-69h0m0 64h0m0-4h0m0-14h0m0 24h0m0-62h0m0 48h0m0 113h0m0-111h0m0 52h0m0-72h0m0-10h0m0 91h0m0-3h0m0-36h0m0 35h0m0-95h0m0 89h0m0-28h0m0 4h0m0-37h0m0 86h0m0-40h0m0-20h0m1 70h0m0-60h0m0-49h0m0 54h0m0 30h0m0-31h0m0-10h0m0 6h0m0 8h0m0 2h0m0 42h0m0-135h0m0 42h0m0 16h0m0 1h0m0 29h0m0-6h0m0-56h0m0 62h0m0-24h0m0-50h0m0 14h0m0 77h0m0-24h0m0 57h0m0-25h0m0-7h0m1-29h0m0-12h0m0-49h0m0 9h0m0-26h0m0 9h0m0 67h0m0-91h0m0 166h0m0-53h0m0-14h0m0-24h0m0-20h0m0 27h0m0 4h0m0 13h0m0-37h0m0 2h0m0 52h0m1-82h0m0 32h0m0-19h0m0-46h0m0 64h0m0-23h0m0-2h0m0 57h0m0-72h0m0-50h0m0 128h0m0 62h0m0-28h0m0-17h0m0-84h0m0 111h0m0-2h0m0-79h0m0 58h0m0-69h0m0 9h0m0-27h0m0 6h0m0 31h0m0-59h0m0 120h0m0-33h0m0 5h0m0 25h0m0-75h0m0-17h0m0 88h0m0-68h0m0-25h0m0 10h0m0 81h0m0-57h0m0 18h0m0 85h0m0-72h0m0-35h0m1 1h0m0 12h0m0-4h0m0 17h0m0-60h0m0 15h0m0 27h0m0-4h0m0-28h0m0 45h0m0 8h0m0-33h0m0 61h0m0-73h0m0 38h0m0 29h0m0-43h0m0 36h0m0-41h0m0 24h0m0-18h0m0 49h0m1-124h0m0 142h0m0-95h0m0 41h0m0 43h0m0 37h0m0-45h0m0-7h0m0 13h0m0-22h0m0 19h0m0-58h0m0-11h0m0-54h0m0 121h0m0-38h0m0-39h0m0 52h0m0 31h0m0-37h0m0 113h0m0-128h0m0 47h0m0-39h0m0-28h0m0 30h0m0 7h0m1 15h0m0 22h0m0-36h0m0 10h0m0-37h0m0-23h0m0 78h0m0-49h0m0 29h0m0-30h0m0-29h0m0 24h0m0-59h0m0 75h0m0 13h0m0-46h0m0 0h0m0 33h0m0-28h0m0 19h0m0 6h0m0-22h0m0 82h0m0-48h0m0 40h0m0-13h0m0 5h0m0-3h0m0-38h0m0-14h0m0 47h0m0-76h0m0-14h0m1 76h0m0-25h0m0-2h0m0-13h0m0 21h0m0-18h0m0 45h0m0-44h0m0 39h0m0 2h0m0 10h0m0 17h0m0-61h0m0 49h0m0-78h0m0 53h0m0-33h0m0 22h0m0-18h0m0-50h0m0 108h0m0-50h0m0-5h0m0-36h0m0 23h0m0 56h0m0-82h0m0 87h0m0 32h0m0-20h0m0-55h0m0 83h0m1-141h0m0 81h0m0-42h0m0-49h0m0 82h0m0-37h0m0 4h0m0-16h0m0-1h0m0 76h0m0-41h0m0 1h0m0 29h0m0 84h0m0-53h0m0-35h0m0 8h0m0 49h0m0-109h0m0 9h0m0 100h0m0-94h0m0 29h0m0-31h0m0 44h0m0-15h0m0 51h0m0-73h0m0 92h0m1 26h0m0-136h0m0 32h0m0-10h0m0 34h0m0 2h0m0-8h0m0-31h0m0 50h0m0-9h0m0-100h0m0 82h0m0-11h0m0-13h0m0 64h0m0-68h0m0 2h0m0-50h0m0 130h0m0-90h0m0 90h0m0-122h0m0 32h0m0 107h0m0-127h0m0 102h0m0-90h0m0 36h0m0-44h0m0 72h0m0-132h0m0 122h0m1-41h0m0 22h0m0-6h0m0 35h0m0-6h0m0-16h0m0-55h0m0 64h0m0-12h0m0 46h0m0-37h0m0 78h0m0-139h0m0 109h0m0-13h0m0 63h0m0-135h0m0 111h0m0-105h0m0-7h0m0 27h0m0-62h0m0 125h0m0-38h0m0-38h0m0 39h0m0-12h0m0-11h0m0-26h0m0-17h0m0-6h0m0 78h0m0-19h0m1 2h0m0-7h0m0-29h0m0 76h0m0-97h0m0 42h0m0-27h0m0 57h0m0-49h0m0-60h0m0 42h0m0-35h0m0 68h0m0 15h0m0 1h0m0-21h0m0-26h0m0 20h0m0 70h0m0-53h0m0-17h0m0 0h0m0 79h0m0-90h0m0 13h0m0 36h0m0-23h0m1 30h0m0-20h0m0-50h0m0 41h0m0 35h0m0 9h0m0-46h0m0 20h0m0-77h0m0 134h0m0 15h0m0-95h0m0-16h0m0 41h0m0-38h0m0 4h0m0 62h0m0-63h0m0-8h0m0 79h0m0-55h0m0-12h0m0-74h0m0 85h0m0 116h0m0-97h0m0 5h0m0-47h0m0 72h0m0-56h0m0-12h0m1 38h0m0-132h0m0 88h0m0 29h0m0-10h0m0 10h0m0 62h0m0-52h0m0-38h0m0-30h0m0 95h0m0-71h0m0 57h0m0 25h0m0-81h0m0 71h0m0-68h0m0-62h0m0 62h0m0-73h0m0 24h0m0 157h0m0-31h0m0-130h0m1 129h0m0 0h0m0-116h0m0 55h0m0-26h0m0 4h0m0 14h0m0 77h0m0-85h0m0 41h0m0 3h0m0-127h0m0 115h0m0-6h0m0 34h0m0-6h0m0-50h0m0 23h0m0 64h0m0-93h0m0 25h0m0 17h0m0-67h0m0 25h0m0 18h0m0-94h0m0 64h0m0 32h0m0 3h0m0 33h0m1-39h0m0 72h0m0-117h0m0-26h0m0 51h0m0 24h0m0 22h0m0 126h0m0-208h0m0 53h0m0 26h0m0-6h0m0 9h0m0 33h0m0-46h0m0-27h0m0 22h0m0 8h0m0-45h0m0 30h0m0 47h0m0-21h0m0-5h0m0-13h0m0-5h0m0 35h0m0-33h0m0 54h0m1-51h0m0-10h0m0-83h0m0 117h0m0-16h0m0 88h0m0-142h0m0 97h0m0-81h0m0 53h0m0-2h0m0-57h0m0 49h0m0 2h0m0-52h0m0 77h0m0-49h0m0 72h0m0-27h0m0-56h0m0 101h0m0-59h0m0-13h0m0-5h0m0-86h0m0 63h0m0 31h0m0-55h0m0 97h0m0-27h0m0-116h0m1 95h0m0 20h0m0-11h0m0-12h0m0-55h0m0 17h0m0-5h0m0 1h0m0 13h0m0-42h0m0 41h0m0 92h0m0-84h0m0 77h0m0-69h0m0 93h0m0-43h0m0-118h0m0 47h0m0 39h0m0-24h0m0-29h0m0 38h0m0 55h0m0-57h0m0 4h0m0-30h0m0 35h0m0-63h0m0 88h0m0-39h0m0-15h0m0 23h0m0 48h0m1-104h0m0 53h0m0 1h0m0 27h0m0-83h0m0 108h0m0-8h0m0-70h0m0-1h0m0 81h0m0-44h0m0 22h0m0-31h0m0 38h0m0 46h0m0-67h0m0 2h0m0 29h0m0 7h0m0-46h0m0 42h0m0-51h0m1-63h0m0 56h0m0-11h0m0 70h0m0-84h0m0 2h0m0 27h0m0 25h0m0 3h0m0-9h0m0-24h0m0 59h0m0-50h0m0-63h0m0 85h0m0-14h0m0 21h0m0-7h0m0 61h0m0-87h0m0-83h0m0 123h0m0-48h0m0 33h0m0-26h0m0-45h0m0-46h0m0 151h0m0-12h0m0-113h0m0 139h0m0-40h0m0-2h0m0 16h0m0-33h0m0 0h0m0-44h0m0 79h0m0-14h0m1-89h0m0 66h0m0 80h0m0-135h0m0 88h0m0-110h0m0 106h0m0-109h0m0-22h0m0 93h0m0-22h0m0 90h0m0-157h0m0 14h0m0 15h0m0 124h0m0-88h0m0 57h0m0 60h0m0-40h0m0-44h0m0-116h0m0 93h0m0 105h0m0-53h0m0-137h0m0 27h0m0 96h0m0 20h0m0-36h0m1 17h0m0-39h0m0-80h0m0 109h0m0 34h0m0-80h0m0 42h0m0-24h0m0-14h0m0 119h0m0 8h0m0-93h0m0 37h0m0-50h0m0 55h0m0 12h0m0-102h0m0 35h0m0-83h0m0 132h0m0-27h0m0 5h0m0-3h0m0 34h0m0 31h0m0-126h0m0 68h0m1 73h0m0-71h0m0-63h0m0 45h0m0 23h0m0 46h0m0-53h0m0-55h0m0-34h0m0 30h0m0-35h0m0 26h0m0 23h0m0-2h0m0 60h0m0-79h0m0 104h0m0-63h0m0-71h0m0 71h0m0 24h0m0-55h0m0 29h0m1-68h0m0 105h0m0-54h0m0 23h0m0 62h0m0-30h0m0-34h0m0-32h0m0-13h0m0 5h0m0 5h0m0 101h0m0-72h0m0 52h0m0-35h0m0 8h0m0-5h0m0-7h0m0-65h0m0 106h0m0-27h0m0-43h0m0 34h0m0-42h0m0 46h0m0-67h0m0 40h0m0-26h0m0 7h0m0 32h0m1-35h0m0 37h0m0 19h0m0 89h0m0-62h0m0-68h0m0 29h0m0-63h0m0 46h0m0 33h0m0 12h0m0 0h0m0-139h0m0 113h0m0-9h0m0 67h0m0-92h0m0 122h0m0-141h0m0 147h0m0-120h0m0 51h0m0-117h0m0 120h0m0-18h0m0 18h0m0-31h0m0 33h0m0 23h0m0-50h0m0-26h0m0 55h0m0-8h0m0-68h0m0 31h0m0-54h0m0-4h0m0 114h0m0-88h0m1 30h0m0-26h0m0 11h0m0 22h0m0-33h0m0-32h0m0 31h0m0 52h0m0-26h0m0-30h0m0 65h0m0 54h0m0-30h0m0-88h0m0 71h0m0-8h0m0-91h0m0-20h0m0 43h0m0 63h0m0-21h0m0 22h0m0-46h0m0 34h0m1-3h0m0 55h0m0-100h0m0 79h0m0 32h0m0-96h0m0 63h0m0-34h0m0 68h0m0-52h0m0 12h0m0-78h0m0 162h0m0-97h0m0-55h0m0 106h0m0-114h0m0 42h0m0 23h0m0-15h0m0-16h0m0 66h0m0-37h0m0 9h0m0-98h0m0 29h0m0 10h0m0-57h0m1 102h0m0-26h0m0-9h0m0 42h0m0 38h0m0-22h0m0-8h0m0-65h0m0-9h0m0 61h0m0-1h0m0-78h0m0 78h0m0-50h0m0-27h0m0 129h0m0-75h0m0 21h0m0-4h0m0-12h0m0 74h0m0-38h0m0-77h0m0 97h0m0-75h0m0-1h0m0 53h0m0-89h0m0 180h0m0-124h0m0 27h0m0 19h0m0 5h0m0-3h0m0-52h0m0 52h0m0-130h0m1 99h0m0-62h0m0 51h0m0-47h0m0 53h0m0-20h0m0-60h0m0 93h0m0-129h0m0 135h0m0 5h0m0-66h0m0 31h0m0 22h0m0-64h0m0-32h0m0 173h0m0-64h0m0-58h0m0 60h0m0-110h0m0 94h0m0-46h0m0 27h0m0 29h0m0-56h0m0 64h0m0 31h0m0-117h0m0 32h0m1-14h0m0-98h0m0 132h0m0-8h0m0-35h0m0 9h0m0 96h0m0-43h0m0-14h0m0 6h0m0 68h0m0-90h0m0 11h0m0 42h0m0 14h0m0-133h0m0 154h0m0-65h0m0-119h0m0 193h0m0-38h0m0-86h0m0 69h0m0-117h0m0 108h0m0-54h0m0 28h0m0-16h0m0-28h0m1-16h0m0 114h0m0-51h0m0-88h0m0 92h0m0-26h0m0 55h0m0-47h0m0-13h0m0 2h0m0 3h0m0 74h0m0-29h0m0-68h0m0 55h0m0 93h0m0-98h0m0-44h0m0-33h0m0 47h0m0 22h0m0 22h0m0-24h0m0 2h0m0 22h0m0 64h0m0-73h0m0-13h0m0 31h0m0-39h0m0-44h0m0 39h0m0-2h0m0-72h0m0 142h0m1-14h0m0-23h0m0 1h0m0-18h0m0 55h0m0-63h0m0 54h0m0-61h0m0-8h0m0 103h0m0-94h0m0-39h0m0 20h0m0 24h0m0-61h0m0 27h0m0 73h0m0 40h0m0-14h0m0-37h0m0-81h0m0 58h0m0-90h0m0 156h0m0-88h0m0 9h0m0 10h0m0 6h0m0 31h0m0-25h0m1 11h0m0-2h0m0-18h0m0 46h0m0-14h0m0-5h0m0-46h0m0 25h0m0 7h0m0 97h0m0-142h0m0-14h0m0 17h0m0 9h0m0 2h0m0 13h0m0 35h0m0 24h0m0-76h0m0-17h0m0-15h0m0 89h0m0-119h0m0 76h0m0-22h0m0-32h0m0 98h0m0 8h0m0-57h0m0 29h0m0-25h0m0 16h0m0-33h0m1-2h0m0 38h0m0 7h0m0-22h0m0 1h0m0-72h0m0 37h0m0 30h0m0 67h0m0-41h0m0 42h0m0-51h0m0 19h0m0-31h0m0-25h0m0 23h0m0 83h0m0-21h0m0-60h0m0-62h0m0 70h0m0 1h0m0 11h0m0 2h0m0-12h0m0 11h0m1-81h0m0 140h0m0-70h0m0-78h0m0 59h0m0-2h0m0 90h0m0-97h0m0 24h0m0 26h0m0 39h0m0-55h0m0-16h0m0 34h0m0-39h0m0-33h0m0 28h0m0 86h0m0-60h0m0-8h0m0-34h0m0 45h0m0 41h0m0-138h0m0 64h0m0 28h0m0 45h0m0-69h0m0 17h0m0-21h0m0-61h0m0 54h0m0 12h0m0 68h0m0-110h0m0 84h0m0 18h0m0-73h0m0 33h0m1 81h0m0-79h0m0 25h0m0-89h0m0 42h0m0 112h0m0-119h0m0 35h0m0 5h0m0-50h0m0 36h0m0-10h0m0-19h0m0 23h0m0 38h0m0-12h0m0 6h0m0-58h0m0 61h0m0 3h0m1-79h0m0 37h0m0-49h0m0 6h0m0 66h0m0-111h0m0 159h0m0-119h0m0 171h0m0-184h0m0 96h0m0 14h0m0-34h0m0-15h0m0 71h0m0-13h0m0-96h0m0 62h0m0 39h0m0-67h0m0-9h0m0 5h0m0-2h0m0-17h0m1 67h0m0-66h0m0 77h0m0-29h0m0-22h0m0 29h0m0-54h0m0 0h0m0 61h0m0 58h0m0-44h0m0 7h0m0 49h0m0-86h0m0-37h0m0-17h0m0 113h0m0-75h0m0-88h0m0 79h0m0-22h0m0 16h0m0 64h0m0-43h0m0-29h0m0 48h0m0-47h0m0 57h0m0-81h0m1 20h0m0-5h0m0 19h0m0 33h0m0 48h0m0-58h0m0-67h0m0 89h0m0 88h0m0-109h0m0-89h0m0 50h0m0 17h0m0-59h0m0 239h0m0-97h0m0-84h0m0 37h0m0-27h0m0-57h0m0 149h0m0-107h0m0 60h0m0-46h0m0-69h0m0 77h0m0-11h0m0-21h0m0-44h0m0 32h0m0 3h0m0-64h0m0 134h0m0 31h0m0 4h0m0-66h0m0-15h0m0 83h0m1-145h0m0 49h0m0 34h0m0 25h0m0-81h0m0 46h0m0 17h0m0-20h0m0 4h0m0 25h0m0 1h0m0 33h0m0 3h0m0-103h0m0 75h0m0-18h0m0-89h0m0 54h0m0-5h0m0 88h0m0-63h0m0 19h0m0 22h0m0-63h0m0 97h0m0-50h0m0-1h0m0-62h0m0 67h0m0 55h0m0-120h0m0 26h0m1-11h0m0 57h0m0-68h0m0 5h0m0 85h0m0-120h0m0 89h0m0-40h0m0-30h0m0-20h0m0 48h0m0 23h0m0 72h0m0-142h0m0 76h0m0-31h0m0 27h0m0 33h0m0-68h0m0 32h0m0 1h0m0 19h0m0-85h0m0 81h0m0-27h0m0-8h0m0 2h0m0-68h0m0 47h0m0-42h0m0 94h0m0-70h0m0 92h0m0-17h0m0 10h0m0-18h0m0-31h0m0-1h0m0 84h0m0-93h0m1-35h0m0-24h0m0 109h0m0-39h0m0 30h0m0 68h0m0-145h0m0 57h0m0 73h0m0-33h0m0-7h0m0-2h0m0-94h0m0 39h0m0-6h0m0 44h0m0 22h0m0-43h0m0 99h0m0-147h0m0 52h0m0-42h0m0-4h0m0 24h0m1 20h0m0 30h0m0-43h0m0-20h0m0 47h0m0-37h0m0 51h0m0-30h0m0-45h0m0-13h0m0 122h0m0-21h0m0-31h0m0-28h0m0 54h0m0-40h0m0 53h0m0-44h0m0 67h0m0-53h0m0-34h0m0 48h0m0-54h0m0-47h0m0 74h0m0 9h0m0-6h0m0 22h0m0 26h0m0-76h0m0 125h0m0-91h0m1-51h0m0 89h0m0-97h0m0 53h0m0-1h0m0 26h0m0-82h0m0 57h0m0 55h0m0-129h0m0 54h0m0 69h0m0-23h0m0-20h0m0 34h0m0-106h0m0 81h0m0-14h0m0 1h0m0 42h0m0-41h0m0 77h0m0-82h0m0 66h0m0-56h0m0-17h0m0 34h0m0-69h0m0-19h0m0 83h0m0-27h0m1-6h0m0 14h0m0-47h0m0 69h0m0 15h0m0-30h0m0-15h0m0-24h0m0 7h0m0-47h0m0 188h0m0-96h0m0-48h0m0 55h0m0-11h0m0-7h0m0-95h0m0 50h0m0 41h0m0 111h0m0-94h0m0-33h0m0 29h0m0-105h0m0 112h0m0-78h0m0 106h0m0-20h0m0-84h0m0 63h0m0-23h0m0 32h0m0-63h0m1 51h0m0-9h0m0 58h0m0-74h0m0-30h0m0 38h0m0-18h0m0-17h0m0 44h0m0-33h0m0 46h0m0-46h0m0-51h0m0 68h0m0-41h0m0 42h0m0 59h0m0-42h0m0-2h0m0 2h0m0-41h0m0 48h0m0 20h0m0-72h0m0 16h0m0 35h0m1-46h0m0 47h0m0 30h0m0-52h0m0 62h0m0-95h0m0 111h0m0-100h0m0 46h0m0-19h0m0-22h0m0 31h0m0-80h0m0 93h0m0-54h0m0 30h0m0 42h0m0-80h0m0 25h0m0-1h0m0 97h0m0-29h0m0-58h0m0 12h0m0-35h0m0 71h0m1 38h0m0-46h0m0 47h0m0-144h0m0 12h0m0 9h0m0 5h0m0 37h0m0 8h0m0-19h0m0-4h0m0 4h0m0 35h0m0-31h0m0 0h0m0 71h0m0-137h0m0 25h0m0 74h0m0-75h0m0 63h0m0 5h0m0-88h0m0 81h0m0-3h0m0 3h0m0-65h0m0 42h0m0 39h0m1-32h0m0 5h0m0 32h0m0 61h0m0-90h0m0-1h0m0 7h0m0-37h0m0 51h0m0-3h0m0-44h0m0 28h0m0 5h0m0 58h0m0-57h0m0-41h0m0 102h0m0-35h0m0-10h0m0-37h0m0-62h0m0-24h0m0 157h0m0-75h0m0 52h0m0-26h0m0-11h0m1-54h0m0 80h0m0-111h0m0 74h0m0-3h0m0 61h0m0-16h0m0 2h0m0 27h0m0-45h0m0-98h0m0 124h0m0-31h0m0 90h0m0-86h0m0-31h0m0 93h0m0-111h0m0 2h0m0 65h0m0-1h0m0-44h0m0 33h0m0-48h0m0 0h0m0 45h0m0-28h0m0-62h0m0-11h0m0 0h0m0 75h0m0 9h0m0-74h0m1 99h0m0-66h0m0-15h0m0 15h0m0 54h0m0-16h0m0-44h0m0 43h0m0-25h0m0 46h0m0 8h0m0 58h0m0-94h0m0 46h0m0-57h0m0-39h0m0 42h0m0 21h0m0-5h0m0-2h0m0-42h0m0 42h0m0 42h0m0-52h0m0 77h0m0-118h0m0 134h0m0-72h0m0 60h0m0-75h0m0-43h0m0 59h0m0-40h0m0 22h0m0-14h0m0-2h0m0-42h0m0 145h0m1-79h0m0-67h0m0 109h0m0-75h0m0 115h0m0-122h0m0-27h0m0 68h0m0-19h0m0 55h0m0 6h0m0-29h0m0 38h0m0-35h0m0 0h0m0-78h0m0 41h0m0-1h0m0 2h0m0 61h0m0 33h0m0-135h0m0 113h0m0-21h0m0-82h0m0-38h0m0 129h0m0-87h0m0 74h0m0-44h0m0-56h0m0 83h0m1-42h0m0 25h0m0 13h0m0 3h0m0-57h0m0 70h0m0-55h0m0 35h0m0-68h0m0 100h0m0 24h0m0-35h0m0 27h0m0-77h0m0 17h0m0 29h0m0-72h0m0-29h0m0 62h0m0 1h0m0 61h0m0-67h0m0 78h0m0-62h0m0-41h0m0 61h0m0-41h0m0-4h0m0 96h0m0-74h0m0 79h0m0-126h0m1 171h0m0-113h0m0 65h0m0-33h0m0-76h0m0 44h0m0-28h0m0-48h0m0 117h0m0-51h0m0-48h0m0 78h0m0 50h0m0-17h0m0-39h0m0 35h0m0-39h0m0 56h0m0-71h0m0-39h0m1 13h0m0 2h0m0 44h0m0-34h0m0 42h0m0-1h0m0-10h0m0-74h0m0 129h0m0-30h0m0 47h0m0-110h0m0 47h0m0-91h0m0 96h0m0-86h0m0 88h0m0 29h0m0-71h0m1-8h0m0 48h0m0-22h0m0 15h0m0-56h0m0 22h0m0 50h0m0-110h0m0 96h0m0-46h0m0 59h0m0 53h0m0-91h0m0 4h0m0-34h0m0-9h0m0 81h0m0-82h0m0 30h0m0-5h0m0 18h0m0 13h0m0 84h0m0-66h0m0-36h0m0-19h0m0 106h0m0-97h0m0-11h0m0 76h0m1-43h0m0 2h0m0-26h0m0 56h0m0-7h0m0-16h0m0 62h0m0-113h0m0 58h0m0-12h0m0-2h0m0-14h0m0-4h0m0 15h0m0-20h0m0-32h0m0 27h0m0 81h0m0-49h0m0-39h0m0 35h0m0 4h0m0-12h0m0 63h0m0-35h0m0-37h0m0 43h0m0-67h0m0 54h0m1-72h0m0 152h0m0-107h0m0-6h0m0 22h0m0-6h0m0-45h0m0 46h0m0 1h0m0-74h0m0 7h0m0 65h0m0 5h0m0 59h0m0 94h0m0-86h0m0-17h0m0-22h0m0-42h0m0 3h0m0 14h0m0-58h0m0 26h0m0-96h0m0 55h0m0 83h0m0-10h0m0-32h0m1-40h0m0 99h0m0-90h0m0 116h0m0-126h0m0-31h0m0 184h0m0-43h0m0 38h0m0-114h0m0 51h0m0-38h0m0-43h0m0 8h0m0 29h0m0 14h0m0-40h0m0 39h0m0-26h0m0 0h0m0-6h0m0 99h0m0-95h0m0 36h0m0-1h0m0 57h0m0-87h0m0 46h0m0 15h0m0-35h0m0 26h0m0 11h0m0-34h0m0-28h0m0 20h0m0-35h0m0 9h0m0 2h0m0 81h0m0 25h0m0-16h0m1 7h0m0 39h0m0-91h0m0-24h0m0 43h0m0-9h0m0 2h0m0-34h0m0 66h0m0-61h0m0-80h0m0 56h0m0 30h0m0-6h0m0 85h0m0-59h0m0 8h0m0-118h0m0 70h0m0 85h0m0-81h0m0 5h0m0-50h0m0 143h0m0-28h0m0-47h0m0-27h0m0 30h0m0 27h0m0-15h0m0-14h0m0-1h0m0-27h0m0 26h0m0 2h0m0 25h0m1-103h0m0 147h0m0-94h0m0-39h0m0 77h0m0 9h0m0 10h0m0-64h0m0-45h0m0 149h0m0-58h0m0-13h0m0 29h0m0-21h0m0-6h0m0 19h0m0-21h0m0-51h0m0 22h0m0-1h0m0 107h0m0-38h0m0-94h0m0 107h0m0 25h0m0-169h0m0 167h0m0-104h0m0 0h0m0 73h0m0-54h0m0-55h0m0 103h0m0-81h0m0 47h0m0-12h0m0 19h0m1 46h0m0-74h0m0 16h0m0 44h0m0 25h0m0-95h0m0 12h0m0-9h0m0 4h0m0-34h0m0 47h0m0 45h0m0-13h0m0 6h0m0-37h0m0-70h0m0 21h0m0 90h0m0-55h0m0-40h0m0 13h0m0 63h0m0-20h0m0 84h0m0-85h0m0 78h0m1-92h0m0-8h0m0 45h0m0-33h0m0-12h0m0 81h0m0-41h0m0-43h0m0 70h0m0-61h0m0 17h0m0-35h0m0 55h0m0 104h0m0-201h0m0-6h0m0 119h0m0-51h0m0 84h0m0-99h0m0 113h0m0-120h0m0-46h0m0 74h0m0 16h0m0-34h0m0 58h0m0-42h0m1 13h0m0-97h0m0 162h0m0-90h0m0 10h0m0-81h0m0 50h0m0 66h0m0 6h0m0-17h0m0 18h0m0-17h0m0-52h0m0 101h0m0-46h0m0 1h0m0 26h0m0-74h0m0 31h0m0 26h0m0 14h0m0-65h0m0-17h0m0 29h0m0 32h0m0-12h0m0 16h0m0-35h0m0-41h0m0 69h0m0-94h0m1 69h0m0-9h0m0 44h0m0 6h0m0-52h0m0-32h0m0 25h0m0 115h0m0-52h0m0-73h0m0 5h0m0 20h0m0-42h0m0 126h0m0-62h0m0 30h0m0-55h0m0 84h0m0-23h0m0 7h0m0 20h0m0-44h0m0-32h0m0-22h0m0 98h0m0 44h0m0-104h0m0-5h0m0 12h0m0-1h0m1-1h0m0 20h0m0-40h0m0 103h0m0-74h0m0-18h0m0-16h0m0 0h0m0-31h0m0 19h0m0-4h0m0-53h0m0 82h0m0-15h0m0-26h0m0 94h0m0-58h0m0 8h0m0-106h0m0 60h0m0-17h0m0 80h0m0-14h0m0-10h0m0 13h0m0-64h0m0 47h0m1-66h0m0 152h0m0-116h0m0 93h0m0-140h0m0 104h0m0-34h0m0 11h0m0 55h0m0-63h0m0 41h0m0 37h0m0-92h0m0 23h0m0 0h0m0 106h0m0-132h0m0 66h0m0 12h0m0-65h0m0 34h0m0-1h0m0-10h0m0 16h0m1 16h0m0 27h0m0-103h0m0 5h0m0 33h0m0 9h0m0-75h0m0 137h0m0-66h0m0-81h0m0 101h0m0-17h0m0-69h0m0 87h0m0-78h0m0-10h0m0 40h0m0 42h0m0-79h0m0 54h0m0 37h0m0 8h0m0-11h0m0-76h0m0-34h0m0 123h0m0-39h0m0 36h0m1-9h0m0-21h0m0 70h0m0-118h0m0-3h0m0 68h0m0 56h0m0-57h0m0-38h0m0-5h0m0 32h0m0 39h0m0 31h0m0-14h0m0-97h0m0-46h0m0 56h0m0-19h0m0 58h0m0-49h0m0 52h0m0 42h0m0-126h0m0 89h0m0 25h0m0-33h0m0-125h0m0 195h0m0-159h0m1 113h0m0-65h0m0 20h0m0 33h0m0-139h0m0 99h0m0 45h0m0-12h0m0-96h0m0 56h0m0 24h0m0-51h0m0 27h0m0 138h0m0-46h0m0-52h0m0-34h0m0-47h0m0 84h0m0-70h0m0-25h0m0 37h0m0 28h0m0-48h0m0 85h0m0-74h0m0 0h0m1 10h0m0-61h0m0 122h0m0-76h0m0 1h0m0 66h0m0 40h0m0-104h0m0-27h0m0 125h0m0 58h0m0-134h0m0 31h0m0-14h0m0 19h0m0-29h0m0 57h0m0-16h0m0-15h0m0-23h0m0-4h0m0-20h0m0-34h0m0 95h0m0 12h0m0-86h0m0 77h0m0-29h0m0-46h0m0 66h0m0-75h0m0 71h0m0-96h0m0 125h0m0-17h0m1 29h0m0 29h0m0-121h0m0-36h0m0 34h0m0-15h0m0 132h0m0-138h0m0 10h0m0 20h0m0 65h0m0-103h0m0 94h0m0-69h0m0-61h0m0 152h0m0-34h0m0-16h0m0-26h0m0 18h0m0-25h0m0-92h0m0 121h0m0-18h0m0-3h0m0-21h0m0 19h0m0 29h0m0-68h0m0 49h0m1-36h0m0 47h0m0-44h0m0 67h0m0-26h0m0 0h0m0 1h0m0 62h0m0-104h0m0 4h0m0 2h0m0 79h0m0-129h0m0 146h0m0-40h0m0 32h0m0-107h0m0 44h0m0 6h0m0-22h0m0 8h0m0-22h0m0 121h0m0-55h0m0-8h0m0-34h0m0 14h0m1-23h0m0 36h0m0-43h0m0 36h0m0 43h0m0 27h0m0-78h0m0 61h0m0-57h0m0-5h0m0-103h0m0 56h0m0 94h0m0-31h0m0-7h0m0 35h0m0-82h0m0-42h0m0 54h0m0-8h0m0 70h0m0-52h0m0 22h0m0 78h0m0-116h0m0 69h0m0-28h0m0-46h0m1 63h0m0-19h0m0-6h0m0 61h0m0 47h0m0-106h0m0-50h0m0 56h0m0 45h0m0-53h0m0 70h0m0 45h0m0-215h0m0 89h0m0 63h0m0-133h0m0 42h0m0 13h0m0 0h0m0 35h0m0 64h0m0-103h0m0 114h0m0-41h0m0-73h0m0 55h0m0-7h0m0 51h0m0-54h0m0-4h0m0-42h0m0 144h0m0-126h0m1 98h0m0-100h0m0-31h0m0 37h0m0-56h0m0 60h0m0 8h0m0 34h0m0-37h0m0 38h0m0 12h0m0 1h0m0 1h0m0-123h0m0 23h0m0 55h0m0 15h0m0-4h0m0-91h0m0 80h0m0-1h0m0-86h0m0 132h0m0-146h0m0 79h0m0 46h0m0-47h0m1 60h0m0 7h0m0-105h0m0 42h0m0 37h0m0-66h0m0 96h0m0-87h0m0 42h0m0-17h0m0-23h0m0 35h0m0 10h0m0-25h0m0-4h0m0-4h0m0-1h0m0 80h0m0-69h0m0 51h0m0-48h0m0 120h0m0-167h0m0 74h0m0-15h0m0-31h0m0 33h0m0 43h0m0 16h0m1-53h0m0 116h0m0-120h0m0 16h0m0-62h0m0 46h0m0-61h0m0 7h0m0 69h0m0-3h0m0 13h0m0-100h0m0 125h0m0-72h0m0 31h0m0-8h0m0 0h0m0-53h0m0 7h0m0 18h0m0 116h0m0-120h0m0 21h0m0 17h0m0-19h0m0 21h0m0 12h0m0 33h0m0-35h0m0 17h0m0-12h0m1 20h0m0-43h0m0 58h0m0 17h0m0-104h0m0-97h0m0 73h0m0 70h0m0-60h0m0-22h0m0 162h0m0-100h0m0-33h0m0 96h0m0-113h0m0 2h0m0-56h0m0 199h0m0-143h0m0 74h0m0-7h0m0-5h0m0-134h0m0 161h0m1-90h0m0 49h0m0 0h0m0-13h0m0-11h0m0 20h0m0 43h0m0-59h0m0 7h0m0-2h0m0-38h0m0 101h0m0 27h0m0-6h0m0-67h0m0 10h0m0-6h0m0 0h0m0-29h0m0-21h0m0 54h0m0 1h0m0-24h0m0 26h0m0-40h0m0 90h0m1-26h0m0-93h0m0 54h0m0-63h0m0 57h0m0-77h0m0 120h0m0 18h0m0-83h0m0 41h0m0-12h0m0 83h0m0-59h0m0 6h0m0-71h0m0 69h0m0 21h0m0-45h0m0-102h0m0 127h0m0 24h0m0-40h0m0 30h0m0-66h0m0 113h0m1-36h0m0-43h0m0-18h0m0 5h0m0 25h0m0-85h0m0 62h0m0-15h0m0 35h0m0-51h0m0-23h0m0 65h0m0 12h0m0 12h0m0-47h0m0 7h0m0-8h0m0 50h0m0-51h0m0 37h0m0-85h0m0 95h0m0-23h0m0-7h0m0-19h0m0-32h0m0 76h0m0 7h0m0-33h0m0-32h0m1 26h0m0 29h0m0-65h0m0 60h0m0-57h0m0 58h0m0-79h0m0 82h0m0-72h0m0 93h0m0-31h0m0-35h0m0-15h0m0 57h0m0-19h0m0 18h0m0-81h0m0 87h0m0-6h0m0-58h0m0 98h0m0-70h0m0-2h0m0-83h0m0 93h0m1 35h0m0-10h0m0 14h0m0-66h0m0 24h0m0 20h0m0 48h0m0-62h0m0-53h0m0-37h0m0 68h0m0 0h0m0 20h0m0-28h0m0 34h0m0-50h0m0 110h0m0-38h0m0-60h0m0 69h0m0-26h0m0-66h0m0-1h0m0 61h0m0 14h0m0-77h0m0 22h0m0 35h0m0 26h0m0-1h0m0-23h0m0-59h0m0-28h0m1 21h0m0 92h0m0-22h0m0 54h0m0-65h0m0-3h0m0 13h0m0 11h0m0-31h0m0-18h0m0 88h0m0-74h0m0 94h0m0-75h0m0-66h0m0 118h0m0 6h0m0-70h0m0-3h0m0-47h0m0 106h0m0 15h0m0-168h0m0 110h0m0 19h0m0-77h0m0 63h0m0-60h0m0 143h0m0-81h0m0-78h0m0 82h0m0-1h0m0-61h0m0 48h0m0 38h0m0 23h0m0-76h0m0 4h0m0 58h0m0-50h0m0-82h0m0 123h0m1-28h0m0-16h0m0 45h0m0-48h0m0 14h0m0 7h0m0-3h0m0-6h0m0 89h0m0-66h0m0-47h0m0 68h0m0-62h0m0-15h0m0 33h0m0-35h0m0 56h0m0-48h0m0-26h0m0 77h0m0-41h0m0 51h0m0-151h0m0 40h0m0 29h0m1 6h0m0 35h0m0-3h0m0 3h0m0 0h0m0 35h0m0 53h0m0-128h0m0-16h0m0 93h0m0-19h0m0-22h0m0 6h0m0 62h0m0-71h0m0 25h0m0-56h0m0 55h0m0 6h0m0 0h0m0-65h0m0 59h0m0 82h0m1 14h0m0-121h0m0 8h0m0-9h0m0 58h0m0-82h0m0 66h0m0-75h0m0 88h0m0-1h0m0-58h0m0-19h0m0 98h0m0-45h0m0 30h0m0-25h0m0-2h0m0-35h0m0-16h0m0 11h0m0 13h0m0 32h0m0-25h0m0 1h0m0 13h0m0-16h0m0 102h0m0-66h0m0-19h0m0 13h0m0 33h0m0-78h0m0-3h0m0 9h0m0 66h0m1-60h0m0-12h0m0 85h0m0-61h0m0-42h0m0 76h0m0-138h0m0 107h0m0 20h0m0 19h0m0-70h0m0 49h0m0 0h0m0-56h0m0 45h0m0-40h0m0 5h0m0 52h0m0 61h0m0-65h0m0 68h0m0-30h0m0-39h0m0-1h0m0-27h0m0-25h0m1 45h0m0-12h0m0 4h0m0-18h0m0-17h0m0 29h0m0 7h0m0 18h0m0 32h0m0-126h0m0 145h0m0-29h0m0-89h0m0 48h0m0-53h0m0 135h0m0-130h0m0-54h0m0 41h0m0 68h0m0-39h0m0 103h0m0-94h0m0 26h0m0-42h0m0 16h0m0 2h0m0 6h0m0-18h0m1-71h0m0 40h0m0 109h0m0-77h0m0 11h0m0 0h0m0-37h0m0-2h0m0 54h0m0 59h0m0-75h0m0-13h0m0 130h0m0-41h0m0-87h0m0 15h0m0 28h0m0-30h0m0-42h0m0 36h0m0 93h0m0-88h0m0-81h0m0 122h0m0 11h0m0-67h0m0 69h0m0-51h0m1 89h0m0-105h0m0 27h0m0-95h0m0 9h0m0 121h0m0-50h0m0 55h0m0-56h0m0 5h0m0 25h0m0-10h0m0 42h0m0 23h0m0-61h0m0 0h0m0-13h0m0 30h0m0-46h0m0-5h0m0 34h0m0-52h0m0 36h0m1 7h0m0 37h0m0-13h0m0-2h0m0-44h0m0 13h0m0-7h0m0-33h0m0 62h0m0-52h0m0 99h0m0-42h0m0-82h0m0 18h0m0 102h0m0-80h0m0-33h0m0 14h0m0 16h0m0-20h0m0 34h0m0-70h0m0 33h0m0 30h0m0-22h0m0 131h0m0-141h0m0 21h0m0 48h0m1-3h0m0-34h0m0 60h0m0-30h0m0 8h0m0-56h0m0-10h0m0 188h0m0-257h0m0 123h0m0 48h0m0 17h0m0 31h0m0-104h0m0 6h0m0 2h0m0-2h0m0-49h0m0-4h0m0 65h0m0-69h0m0-13h0m0 40h0m0-3h0m0 14h0m0-28h0m0 15h0m0 65h0m0-50h0m0 53h0m0-96h0m0 34h0m0 2h0m0 43h0m0-23h0m1 54h0m0-61h0m0-39h0m0 31h0m0 77h0m0-105h0m0 95h0m0-98h0m0 105h0m0-115h0m0 59h0m0 29h0m0-65h0m0-8h0m0 36h0m0-32h0m0 2h0m0 9h0m0 26h0m0-12h0m0-85h0m0 102h0m0-16h0m0-59h0m0 121h0m0-59h0m0 57h0m1-34h0m0-14h0m0 42h0m0-42h0m0-15h0m0-61h0m0 49h0m0 1h0m0-5h0m0 9h0m0-33h0m0 76h0m0-61h0m0 42h0m0-15h0m0-7h0m0 4h0m0 62h0m0-37h0m0 20h0m0 32h0m0-114h0m0 41h0m0-79h0m0 156h0m0-8h0m0-101h0m0 4h0m0 118h0m0-101h0m0-98h0m0 116h0m0-28h0m0 67h0m0-82h0m1 84h0m0-27h0m0 36h0m0-35h0m0 3h0m0 10h0m0-22h0m0 8h0m0-16h0m0 5h0m0 1h0m0-37h0m0 14h0m0 55h0m0-70h0m0 51h0m0-14h0m0 69h0m0-91h0m0 34h0m0 37h0m0-146h0m0 52h0m0 36h0m0-27h0m0 79h0m0-42h0m0-11h0m1 7h0m0-30h0m0-33h0m0 90h0m0 0h0m0 16h0m0-104h0m0 63h0m0-15h0m0 58h0m0-32h0m0-77h0m0 132h0m0-34h0m0 97h0m0-207h0m0 90h0m0-4h0m0-19h0m0-35h0m0-19h0m0 41h0m0-41h0m0 14h0m0-9h0m0 27h0m0-13h0m0 82h0m0-83h0m0-36h0m1 159h0m0-49h0m0 12h0m0-57h0m0-25h0m0-25h0m0 125h0m0-46h0m0-55h0m0 80h0m0-6h0m0-112h0m0 33h0m0 106h0m0-61h0m0-18h0m0 17h0m0 57h0m0-103h0m0 68h0m0 25h0m0-68h0m0 9h0m0 65h0m0-162h0m0 93h0m0 25h0m0 13h0m0-19h0m0 56h0m0-59h0m1 61h0m0-46h0m0-21h0m0 43h0m0-60h0m0 40h0m0-8h0m0 26h0m0-15h0m0 27h0m0-97h0m0 105h0m0-119h0m0 10h0m0 73h0m0-105h0m0 68h0m0 67h0m0 55h0m0-177h0m0 124h0m0-48h0m0 24h0m0 13h0m0-32h0m0 4h0m0-12h0m0-18h0m1-20h0m0 60h0m0-79h0m0 20h0m0 81h0m0-24h0m0 28h0m0-32h0m0 26h0m0-99h0m0 87h0m0-49h0m0-33h0m0 56h0m0-14h0m0-18h0m0 39h0m0 39h0m0-30h0m0-30h0m0-27h0m0-72h0m0 30h0m0 144h0m0-53h0m0 14h0m0-27h0m0 48h0m0-20h0m0-23h0m0-30h0m0 21h0m0 110h0m0-45h0m0 19h0m0-64h0m0-20h0m1 30h0m0-27h0m0 3h0m0 31h0m0-37h0m0-7h0m0-45h0m0 42h0m0 38h0m0 95h0m0-152h0m0-36h0m0 43h0m0 81h0m0-28h0m0-25h0m0 1h0m0 51h0m0-103h0m0 62h0m0-34h0m0 58h0m1-54h0m0 11h0m0-9h0m0 89h0m0-125h0m0 67h0m0-92h0m0 53h0m0 89h0m0-117h0m0 32h0m0-16h0m0-32h0m0 51h0m0 11h0m0 39h0m0-36h0m0-13h0m0 1h0m1 54h0m0-3h0m0 88h0m0-55h0m0-104h0m0 80h0m0-35h0m0-14h0m0 46h0m0-98h0m0 52h0m0 66h0m0-45h0m0 28h0m0-63h0m0-102h0m0 163h0m0 10h0m0-72h0m0 64h0m0-12h0m0 43h0m0-47h0m1-16h0m0-76h0m0 26h0m0 5h0m0 50h0m0-4h0m0-93h0m0 160h0m0-25h0m0-59h0m0-9h0m0 58h0m0 37h0m0-33h0m0-18h0m0-10h0m0-7h0m0-41h0m0-10h0m0 52h0m0-7h0m0-23h0m0 5h0m0-21h0m0 91h0m0-58h0m0-77h0m0 170h0m0-108h0m0 124h0m0-62h0m0 58h0m0-58h0m0-75h0m0 20h0m0-7h0m1-59h0m0 8h0m0 53h0m0-36h0m0 50h0m0 25h0m0 39h0m0-62h0m0 50h0m0-30h0m0 7h0m0-74h0m0-32h0m0 119h0m0 35h0m0-87h0m0 73h0m0 8h0m1-128h0m0 41h0m0 59h0m0-20h0m0-41h0m0 16h0m0 6h0m0 5h0m0-42h0m0-16h0m0 32h0m0 17h0m0-77h0m0 37h0m0-15h0m0 42h0m0 24h0m0-91h0m0 55h0m0 47h0m0-6h0m0 80h0m0-32h0m0-65h0m0-13h0m0 58h0m0-11h0m0-54h0m1-5h0m0-16h0m0 53h0m0 3h0m0 46h0m0-97h0m0 36h0m0 17h0m0 31h0m0-51h0m0-77h0m0 28h0m0 23h0m0 56h0m0-54h0m0-11h0m0 15h0m0-46h0m0-4h0m0-20h0m0 101h0m0-22h0m0-54h0m0 75h0m0 7h0m0-35h0m0-54h0m0 133h0m0 31h0m0-84h0m1-3h0m0-22h0m0-29h0m0 116h0m0 42h0m0-131h0m0 30h0m0-41h0m0 47h0m0 24h0m0-39h0m0 108h0m0-209h0m0 50h0m0-21h0m0 96h0m0-25h0m0 42h0m0-15h0m0 11h0m0-41h0m0-41h0m0 97h0m0-95h0m0 60h0m0 76h0m1-87h0m0-47h0m0 50h0m0-26h0m0 18h0m0-61h0m0 66h0m0-7h0m0 71h0m0-175h0m0 137h0m0-58h0m0 73h0m0-85h0m0 30h0m0 13h0m0-25h0m0 46h0m0-37h0m0 50h0m0-39h0m0-28h0m0-18h0m0-32h0m1 99h0m0 59h0m0-139h0m0 48h0m0-45h0m0 83h0m0-13h0m0 24h0m0 50h0m0-70h0m0-93h0m0-20h0m0 67h0m0 31h0m0-99h0m0 75h0m0 12h0m0-65h0m0 50h0m0 65h0m0-63h0m0 23h0m0 61h0m0-112h0m0-19h0m1 45h0m0-16h0m0 7h0m0-7h0m0 74h0m0-16h0m0 4h0m0-39h0m0 73h0m0 21h0m0-134h0m0 66h0m0-7h0m0-98h0m0 33h0m0-24h0m0 55h0m0 22h0m0 62h0m0-119h0m0-32h0m0 88h0m0 37h0m0-33h0m0-115h0m0 73h0m0 41h0m0-8h0m0-14h0m0-23h0"/>
<path stroke="#000" stroke-width="2" stroke-dasharray="6.3 3.6" d="M114 543.5H813.2M114 676.5H813.2"/>
<path stroke="#000" stroke-width="2" d="M114 543.5h-3.5M114 676.5h-3.5"/>
<rect x="114" y="439" width="699.2" height="339.7" fill="none" stroke="#111" stroke-width="2.1"/>
<g font-family="'DejaVu Sans', sans-serif" font-size="31" fill="#000">
<text x="106" y="555.2" text-anchor="end"><tspan font-style="oblique">q</tspan><tspan font-size="21.7" dy="4.8">1</tspan></text>
<text x="106" y="688.2" text-anchor="end"><tspan font-style="oblique">q</tspan><tspan font-size="21.7" dy="4.8">0</tspan></text>
<text x="463.6" y="807.2" text-anchor="middle">Time</text>
<text transform="translate(60.2 766.5) rotate(-90)" font-size="31.3">Measured extension</text>
</g>
<text x="12.2" y="431" font-family="'Liberation Sans', Arial, sans-serif" font-size="44">b</text>
<clipPath id="clb"><rect x="113.4" y="0" width="200" height="430"/></clipPath>
<clipPath id="crb"><rect x="700" y="0" width="115.3" height="430"/></clipPath>
<path fill="none" stroke="#4569ad" stroke-width="5.9" stroke-linecap="round" stroke-linejoin="round" d="M416.9 219.6C418 218.8 420.8 216.5 423.1 215C425.5 213.5 428.3 211.2 430.8 210.4C433.2 209.6 435.7 209.5 437.7 210.1C439.6 210.8 441.9 212.4 442.5 214.3C443.2 216.1 442.6 218.9 441.6 221.2C440.5 223.5 438.3 225.8 436.3 228.1C434.3 230.4 430.9 232.7 429.4 235.1C427.9 237.4 427 239.9 427.3 242C427.6 244 429.6 246.4 431.5 247.2C433.3 248 436.3 248 438.4 246.8C440.4 245.6 441.9 242.5 443.9 239.9C445.9 237.2 447.9 233.7 450.1 230.9C452.3 228.1 456 226.5 457.1 223.3C458.1 220.1 456.8 215.7 456.4 211.5C455.9 207.4 454.1 202.6 454.3 198.4C454.5 194.2 455 189.1 457.3 186.3C459.6 183.6 464.5 181.8 468.1 181.8C471.7 181.7 476.7 183.1 478.9 185.9C481.1 188.7 481.7 194.1 481.4 198.4C481.1 202.6 478.7 207.3 477.1 211.5C475.6 215.8 473.4 219.8 472.3 224C471.1 228.1 470.3 232.1 470.2 236.4C470.2 240.8 471.4 245.4 472 250.3C472.6 255.1 474.2 261 473.9 265.5C473.7 270 472.6 275 470.6 277.3C468.6 279.6 464.4 280.3 461.9 279.3C459.4 278.4 456.4 274.6 455.7 271.7C455 268.8 455.9 264.6 457.8 262C459.6 259.5 463.2 258.1 466.7 256.5C470.3 254.9 475.1 254.1 479.2 252.4C483.4 250.6 488.3 248.9 491.7 246.1C495 243.4 497.9 239.1 499.3 235.7C500.7 232.4 500.8 228.8 500 226.1C499.2 223.4 497.4 221.1 494.4 219.6C491.4 218 486.1 217.1 482 216.8C477.8 216.5 472.9 216.9 469.5 217.8C466.2 218.6 462.9 219.8 461.9 221.9C460.9 224 461.8 227.6 463.3 230.2C464.8 232.8 467.6 236.3 470.9 237.5C474.2 238.8 479.4 238.5 483.4 237.8C487.3 237.2 491.3 235.3 494.4 233.7C497.5 232.1 499.3 230.1 502 228.1C504.8 226.2 507.9 224.1 511 221.9C514.2 219.7 519.1 216.1 520.7 215"/>
<radialGradient id="bg" cx="0.45" cy="0.4" r="0.6"><stop offset="0" stop-color="#5aa496"/><stop offset="0.7" stop-color="#4b9688"/><stop offset="1" stop-color="#3d8579"/></radialGradient>
<g fill="url(#bg)" stroke="#3e8479" stroke-width="0.5"><circle cx="176.8" cy="223.9" r="3.65"/><circle cx="182.4" cy="219.4" r="3.65"/><circle cx="189.6" cy="215.9" r="3.65"/><circle cx="197.1" cy="212.9" r="3.65"/><circle cx="204.7" cy="210.3" r="3.65"/><circle cx="212.5" cy="209.1" r="3.65"/><circle cx="220.2" cy="209.1" r="3.65"/><circle cx="228" cy="210.6" r="3.65"/><circle cx="235.9" cy="212.6" r="3.65"/><circle cx="243.5" cy="214.9" r="3.65"/><circle cx="251.4" cy="216.8" r="3.65"/><circle cx="259.2" cy="217.9" r="3.65"/><circle cx="266.9" cy="217.6" r="3.65"/><circle cx="274.7" cy="216.4" r="3.65"/><circle cx="282.3" cy="213.8" r="3.65"/><circle cx="289.8" cy="211.1" r="3.65"/><circle cx="297.1" cy="207.8" r="3.65"/><circle cx="304.6" cy="205.4" r="3.65"/><circle cx="312.1" cy="203.6" r="3.65"/><circle cx="320" cy="202.4" r="3.65"/><circle cx="327.8" cy="202.1" r="3.65"/><circle cx="335.5" cy="202.8" r="3.65"/><circle cx="343.3" cy="204" r="3.65"/><circle cx="350.9" cy="206.6" r="3.65"/><circle cx="358.4" cy="210.3" r="3.65"/><circle cx="365.2" cy="214.1" r="3.65"/><circle cx="372" cy="217.9" r="3.65"/><circle cx="379.5" cy="220.9" r="3.65"/><circle cx="387" cy="222.4" r="3.65"/><circle cx="395" cy="222.9" r="3.65"/><circle cx="403.2" cy="221.7" r="3.65"/><circle cx="410.8" cy="220.4" r="3.65"/><circle cx="418.7" cy="218.9" r="3.65"/><circle cx="519" cy="215.6" r="3.65"/><circle cx="526.6" cy="212.3" r="3.65"/><circle cx="533.9" cy="209.6" r="3.65"/><circle cx="541.6" cy="207.3" r="3.65"/><circle cx="549.5" cy="205.8" r="3.65"/><circle cx="557.3" cy="205.1" r="3.65"/><circle cx="565.3" cy="205.5" r="3.65"/><circle cx="573.1" cy="207.6" r="3.65"/><circle cx="580.4" cy="210.3" r="3.65"/><circle cx="587.9" cy="213.4" r="3.65"/><circle cx="595.4" cy="216.4" r="3.65"/><circle cx="603" cy="218.2" r="3.65"/><circle cx="611" cy="218.6" r="3.65"/><circle cx="618.8" cy="217.9" r="3.65"/><circle cx="626.6" cy="216.7" r="3.65"/><circle cx="634.2" cy="214.4" r="3.65"/><circle cx="641.8" cy="211.9" r="3.65"/><circle cx="649.7" cy="210.6" r="3.65"/><circle cx="657.5" cy="209.6" r="3.65"/><circle cx="665.2" cy="209.6" r="3.65"/><circle cx="673" cy="210.3" r="3.65"/><circle cx="681" cy="211.9" r="3.65"/><circle cx="688.6" cy="214.1" r="3.65"/><circle cx="695.7" cy="218.2" r="3.65"/><circle cx="702" cy="222.9" r="3.65"/><circle cx="708.5" cy="227.7" r="3.65"/><circle cx="715" cy="232.2" r="3.65"/><circle cx="722" cy="236" r="3.65"/><circle cx="729.6" cy="238.7" r="3.65"/><circle cx="737.1" cy="240.2" r="3.65"/><circle cx="744.9" cy="240.9" r="3.65"/><circle cx="752.2" cy="240.9" r="3.65"/></g>
<circle clip-path="url(#clb)" cx="-113.5" cy="215.6" r="288.2" fill="#f0716b" stroke="#ff0000" stroke-width="4.4"/>
<circle clip-path="url(#crb)" cx="1037.5" cy="217.2" r="282.6" fill="#f0716b" stroke="#ff0000" stroke-width="4.4"/>
<path fill="none" stroke="#4472c4" stroke-width="4.3" stroke-linejoin="round" d="M177.7 157.7C177.7 140 178.5 130.2 185 130.2H458C461.5 130.2 462.5 125 463.1 117L464.3 102.5M464.3 102.5L465.5 117C466.1 125 467.1 130.2 470.5 130.2H744C749.5 130.2 751 140 751.2 157.4"/>
<text x="290.5" y="80.3" font-family="'Liberation Sans', Arial, sans-serif" font-size="35.5" fill="#2f5597">Measured extension q</text>
<path fill="none" stroke="#000" stroke-width="4.2" stroke-linejoin="round" d="M422.2 294.2C422.2 306 423 314.5 429 314.5H463C466 314.5 467.3 318 467.7 324L468.3 333.8M468.3 333.8L468.9 324C469.3 318 470.6 314.5 473.6 314.5H508C514 314.5 514.8 306 514.8 294.2"/>
<g font-family="'Liberation Sans', Arial, sans-serif" font-size="35.7" fill="#000">
<text x="307.8" y="380.5">Molecular extension</text>
<text x="468" y="422.3" text-anchor="middle">x</text>
</g>
<text x="11.9" y="36.3" font-family="'Liberation Sans', Arial, sans-serif" font-size="44">a</text>
<clipPath id="cm"><rect x="948.2" y="216.8" width="561" height="560.6"/></clipPath>
<clipPath id="ct"><rect x="948.2" y="39.8" width="561" height="172.5"/></clipPath>
<clipPath id="cr"><rect x="1513.8" y="216.8" width="173.2" height="560.6"/></clipPath>
<g clip-path="url(#cm)" fill="none" stroke-width="3.9" stroke-linejoin="round">
<path stroke="#472f7d" d="M1066 629.9L1062.4 628.4L1060.4 627L1058.5 625.2L1056.7 622.6L1055.4 620L1054.6 617.6L1053.9 614.1L1053.5 610.5L1053.5 606.9L1054 602.1L1054.8 597.9L1055.9 593.8L1058.9 585.4L1061.1 580.6L1063.6 575.9L1066 572L1069.8 566.7L1075.4 560L1079.1 556.2L1082.8 552.9L1086.6 550.1L1090.3 547.7L1094.1 545.8L1097.8 544.3L1103.4 543L1107.2 542.8L1109 543L1111.8 543.6L1114.6 544.9L1116.5 546.2L1118.4 548L1120.2 550.6L1121.5 553.2L1122.3 555.6L1123 559.2L1123.4 565.1L1123.2 568.7L1122.5 573.5L1120.3 581.8L1117 590.2L1113.3 597.3L1109 604L1103.4 611.2L1097.8 617L1094.1 620.3L1090.3 623.1L1086.6 625.5L1082.8 627.4L1077.2 629.5L1071.6 630.4L1067.9 630.2L1066 629.9M1346.5 450.9L1342.9 449.4L1340.9 448L1339 446.2L1337.2 443.6L1335.9 441L1335.1 438.6L1334.4 435L1334 431.5L1334 427.9L1334.5 423.1L1335.3 418.9L1336.4 414.8L1339.4 406.4L1341.6 401.6L1344.1 396.9L1346.5 393L1350.2 387.6L1355.9 381L1359.6 377.2L1363.3 373.9L1367.1 371.1L1370.8 368.7L1374.6 366.8L1378.3 365.3L1383.9 363.9L1387.7 363.8L1389.5 364L1392.3 364.6L1395.1 365.9L1397 367.2L1398.9 369L1400.7 371.6L1402 374.2L1402.8 376.6L1403.5 380.1L1403.9 386.1L1403.7 389.7L1403 394.5L1400.8 402.8L1397.5 411.2L1393.8 418.3L1389.5 425L1383.9 432.2L1378.3 438L1374.6 441.3L1370.8 444.1L1367.1 446.5L1363.3 448.4L1357.7 450.5L1352.1 451.4L1348.4 451.2L1346.5 450.9"/>
<path stroke="#414487" d="M1056.7 647.8L1052.9 646.4L1049.2 644.1L1046.4 641.5L1044.5 639.1L1042.5 635.5L1040.7 630.8L1039.6 626L1039.1 621.2L1039 616.4L1039.5 610.5L1040.4 604.5L1041.8 598.5L1043.7 592.6L1046.4 585.4L1049.2 579.2L1052.9 572.2L1056.7 566L1060.4 560.6L1064.2 555.6L1069.8 549.1L1074 544.8L1079.1 540.2L1084.7 535.8L1090.3 532.1L1095.9 529.1L1099.7 527.5L1105.3 525.7L1109 524.9L1114.6 524.6L1118.4 525L1122.1 526L1125.9 527.8L1129.3 530.5L1131.5 532.8L1133.3 535.6L1135.2 539.4L1136.6 543.6L1137.3 547.2L1137.8 552L1137.9 556.8L1137.5 561.5L1136.7 567.5L1135.4 573.5L1134 578.3L1131.9 584.2L1129.6 590L1124 601L1120.2 607.2L1116.5 612.7L1109 622L1105.3 626L1099.7 631.4L1095.9 634.6L1090.3 638.7L1086.6 641.1L1081 644.1L1075.4 646.4L1071.6 647.5L1067.9 648.3L1064.1 648.6L1060.4 648.5L1056.7 647.8M1337.2 468.8L1333.4 467.4L1329.7 465.1L1326.9 462.5L1325 460.1L1323 456.5L1321.2 451.8L1320.1 447L1319.6 442.2L1319.5 437.4L1320 431.5L1320.9 425.5L1322.3 419.5L1324.2 413.6L1326.9 406.4L1329.7 400.2L1333.4 393.2L1337.2 387L1340.9 381.5L1344.7 376.6L1350.2 370.1L1354.5 365.8L1359.6 361.2L1365.2 356.8L1370.8 353.1L1376.4 350.1L1380.2 348.5L1385.8 346.7L1389.5 345.9L1395.1 345.6L1398.9 346L1402.6 347L1406.4 348.8L1409.8 351.5L1412 353.8L1413.8 356.5L1415.7 360.4L1417.1 364.6L1417.8 368.2L1418.3 373L1418.4 377.8L1418 382.5L1417.2 388.5L1415.9 394.5L1414.5 399.2L1412.4 405.2L1410.1 411L1404.5 422L1400.7 428.2L1397 433.6L1389.5 443L1385.8 447L1380.2 452.4L1376.4 455.6L1370.8 459.7L1367.1 462.1L1361.5 465.1L1355.9 467.4L1352.1 468.5L1348.4 469.3L1344.6 469.6L1340.9 469.4L1337.2 468.8"/>
<path stroke="#39568c" d="M1051.1 661.9L1046.7 660.6L1042 658.2L1038 654.9L1035.6 652.2L1032.6 647.5L1030.5 642.7L1028.9 636.7L1028.1 630.8L1027.9 623.6L1028.4 616.4L1029.5 609.3L1031.1 602.1L1033.3 595L1036.1 587.2L1039.8 578.7L1043.7 571.1L1047.9 563.9L1052.9 556.3L1058.5 548.9L1064.1 542.3L1069.8 536.4L1075.4 531.1L1081 526.5L1088.5 521.2L1095.9 517L1101.5 514.4L1107.2 512.5L1112.8 511.2L1118.4 510.7L1124 511L1129.6 512.4L1133.3 514.1L1137.1 516.6L1140.3 519.8L1142.7 522.9L1144.9 526.9L1146.7 531.7L1148 536.5L1148.8 542.4L1149 548.4L1148.7 554.4L1148 560.4L1146.7 567.5L1144.8 574.7L1142.4 581.8L1139.6 589L1136.9 595L1133.2 602.1L1129.6 608.3L1124.3 616.4L1120.2 622L1115 628.4L1110.9 633L1105.3 638.7L1099.7 643.7L1094.1 648.1L1088.5 652L1082.8 655.3L1077.2 658L1071.6 660.1L1066 661.6L1060.4 662.4L1054.8 662.4L1051.1 661.9M1331.6 482.9L1327.2 481.6L1322.5 479.2L1318.5 475.9L1316.1 473.2L1313.1 468.5L1311 463.7L1309.4 457.7L1308.6 451.8L1308.4 444.6L1308.9 437.4L1310 430.3L1311.6 423.1L1313.8 415.9L1316.6 408.2L1320.3 399.7L1324.2 392.1L1328.4 384.9L1333.4 377.3L1339 369.9L1344.6 363.2L1350.2 357.4L1355.9 352.1L1361.5 347.5L1369 342.2L1376.4 338L1382 335.4L1387.7 333.5L1393.3 332.2L1398.9 331.7L1404.5 332L1410.1 333.4L1413.8 335.1L1417.6 337.6L1420.8 340.8L1423.2 343.9L1425.4 347.9L1427.2 352.7L1428.5 357.5L1429.3 363.4L1429.5 369.4L1429.2 375.4L1428.5 381.3L1427.2 388.5L1425.3 395.7L1422.9 402.8L1420.1 410L1417.4 415.9L1413.7 423.1L1410.1 429.3L1404.8 437.4L1400.7 442.9L1395.5 449.4L1391.4 454L1385.8 459.6L1380.2 464.7L1374.6 469.1L1369 473L1363.3 476.3L1357.7 479L1352.1 481.1L1346.5 482.6L1340.9 483.4L1335.3 483.4L1331.6 482.9"/>
<path stroke="#31688e" d="M1047.3 673.9L1041.7 672.6L1036.1 670.1L1032.4 667.5L1030 665.4L1027.9 663L1024.6 658.2L1021.9 652.2L1020.1 646.3L1018.9 639.1L1018.5 632L1018.9 623.6L1019.9 615.2L1021.7 606.9L1024.4 597.3L1027.3 589L1031.4 579.4L1036.1 569.9L1041.7 560.3L1047.3 551.8L1053.4 543.6L1060.4 535.4L1066.1 529.3L1073.5 522.4L1081 516.3L1088.5 511.1L1095.9 506.8L1103.4 503.3L1110.9 500.8L1116.5 499.6L1120.2 499.1L1124 498.9L1129.6 499.3L1135.2 500.6L1140.6 503.1L1144.6 505.7L1148.3 509.4L1151.5 513.8L1153.9 518.2L1155.8 523.4L1157.3 529.3L1158.1 535.3L1158.4 542.4L1158 549.6L1157.2 556.8L1155.8 563.9L1153.9 571.4L1151.3 579.4L1148.3 587.5L1144.6 595.9L1140.8 603.3L1136.7 610.5L1131.5 618.7L1125.9 626.5L1120.2 633.5L1114.6 639.9L1109 645.6L1103.1 651L1095.9 656.9L1090.3 660.9L1082.8 665.4L1075.4 669.1L1069.8 671.3L1064.1 672.9L1058.5 673.9L1052.9 674.3L1047.3 673.9M1327.8 494.9L1322.2 493.6L1316.6 491L1312.9 488.5L1310.5 486.4L1308.4 484L1305.1 479.2L1302.4 473.2L1300.6 467.3L1299.4 460.1L1299 452.9L1299.4 444.6L1300.4 436.2L1302.2 427.9L1304.9 418.3L1307.8 410L1311.9 400.4L1316.6 390.9L1322.2 381.3L1327.8 372.8L1333.9 364.6L1340.9 356.4L1346.6 350.3L1354 343.4L1361.5 337.3L1369 332.1L1376.4 327.8L1383.9 324.3L1391.4 321.8L1397 320.6L1400.7 320.1L1404.5 319.9L1410.1 320.3L1415.7 321.6L1421.1 324.1L1425.1 326.7L1428.8 330.3L1432 334.8L1434.4 339.2L1436.3 344.3L1437.8 350.3L1438.6 356.3L1438.9 363.4L1438.5 370.6L1437.7 377.8L1436.3 384.9L1434.4 392.4L1431.8 400.4L1428.8 408.5L1425.1 416.9L1421.3 424.3L1417.2 431.5L1412 439.7L1406.4 447.5L1400.7 454.5L1395.1 460.9L1389.5 466.6L1383.6 472L1376.4 477.9L1370.8 481.9L1363.3 486.4L1355.9 490.1L1350.2 492.3L1344.6 493.9L1339 494.9L1333.4 495.3L1327.8 494.9"/>
<path stroke="#2a788e" d="M1045.4 684.5L1041.7 684.1L1038 683.3L1032.4 681.2L1029.6 679.7L1026.7 677.8L1022.2 673.7L1018.5 668.9L1015.3 663L1012.7 655.8L1011.8 652.1L1011 647.5L1010.3 639.1L1010.5 629.6L1011.6 620L1013.5 610.5L1016.1 600.9L1019.3 591.4L1023.7 580.6L1028.9 569.9L1034.3 560.4L1041.1 549.6L1047.3 541.1L1054.8 531.9L1062.3 523.8L1069.8 516.6L1077.3 510.2L1086.6 503.4L1095.9 497.8L1103.4 494.2L1110.9 491.4L1118.4 489.5L1125.9 488.6L1129.6 488.6L1133.3 488.9L1137.1 489.5L1140.8 490.5L1146.4 493L1150.8 495.9L1154.7 499.5L1158.4 504.3L1161.9 510.2L1164.5 516.2L1166.3 522.2L1167.3 528.1L1167.8 535.3L1167.5 542.4L1166.6 549.6L1165 558L1162.8 566.3L1159.3 577.1L1155.8 586.6L1152 595.1L1148 603.3L1142.7 612.8L1137.4 621.2L1131.5 629.6L1125.9 636.8L1119.8 643.9L1112.8 651.3L1106.7 657L1099.7 663L1092.2 668.5L1084.7 673.3L1077.2 677.3L1071.6 679.8L1064.1 682.3L1058.5 683.7L1051.1 684.6L1045.4 684.5M1325.9 505.5L1322.2 505.1L1318.5 504.2L1312.9 502.2L1310.1 500.7L1307.2 498.8L1302.7 494.7L1300.7 492.3L1298.2 488.7L1294.4 481.6L1291.8 474.4L1290.2 467.3L1289.6 460.1L1289.9 451.8L1291 443.4L1293 433.8L1296.1 423.1L1300.2 411.2L1304.7 400.4L1309.4 390.9L1314.8 381.3L1321.6 370.6L1327.8 362.1L1335.3 352.9L1342.8 344.8L1350.2 337.6L1357.8 331.2L1367.1 324.4L1376.4 318.8L1383.9 315.2L1391.4 312.4L1398.9 310.5L1406.4 309.6L1410.1 309.6L1413.8 309.9L1417.6 310.5L1421.3 311.5L1426.9 314L1431.3 316.9L1435.2 320.5L1438.9 325.3L1441.9 330.6L1444 336L1445.6 342.1L1446.7 349.1L1447.1 356.3L1446.9 364.6L1446 373L1444.4 381.3L1442.4 389.7L1439.8 398L1436.3 407.6L1432.5 416.1L1428.5 424.3L1423.2 433.8L1417.9 442.2L1412 450.6L1406.4 457.8L1400.3 464.9L1393.3 472.3L1387.2 478L1380.2 483.9L1372.7 489.5L1365.2 494.3L1357.7 498.3L1352.1 500.7L1344.6 503.3L1339 504.7L1331.6 505.6L1325.9 505.5"/>
<path stroke="#23888e" d="M1036.1 693.2L1032.4 692.3L1028.6 690.9L1023.1 688L1019.8 685.7L1017.4 683.6L1013.7 679.4L1009.9 673.6L1008 669.8L1006.4 665.4L1004.3 657.5L1003.1 648.7L1002.8 639.1L1003.4 629.6L1005 618.8L1007.5 608.1L1011.1 596.2L1015.2 585.4L1020 574.7L1025.6 563.9L1032.4 552.6L1039.8 541.5L1047.3 531.8L1054.8 523.1L1062.6 515L1071.6 506.7L1079.1 500.7L1088.5 494.2L1097.8 488.8L1107.2 484.5L1116.5 481.4L1124 479.8L1131.5 479.2L1135.2 479.3L1138.9 479.7L1142.7 480.4L1146.4 481.6L1152 484.1L1155.6 486.4L1157.6 488L1163.6 493.5L1168.8 499.5L1172.9 505.5L1175.3 510.2L1177.4 516.2L1178.6 522.2L1179 529.3L1178.5 536.5L1177.1 544.8L1175 553.2L1171.9 562.7L1167.9 573.5L1162.4 586.6L1156.3 599.7L1151.3 609.3L1144.9 620L1138.9 629.1L1133.3 636.7L1125.9 645.9L1118.4 654.1L1110.9 661.5L1103.4 668.1L1095.9 673.9L1086.6 680.2L1079.1 684.5L1071.6 688L1064.1 690.8L1056.7 692.7L1049.2 693.8L1041.7 693.9L1036.1 693.2M1316.6 514.2L1312.9 513.2L1309.1 511.9L1303.5 509L1300.3 506.6L1297.5 504.3L1293.8 500.7L1290.5 497.1L1286 491.1L1283.9 487.6L1282.1 484L1280.7 480.4L1279.7 476.8L1278.6 469.7L1278.5 462.5L1279.4 454.1L1281.1 445.8L1283.9 436.2L1288.1 424.3L1293.5 411.2L1300 396.9L1306.1 384.9L1312.9 373.5L1320.3 362.5L1327.8 352.8L1335.3 344.1L1343.1 336L1352.1 327.7L1359.6 321.7L1369 315.2L1378.3 309.7L1387.7 305.5L1397 302.4L1404.5 300.8L1412 300.2L1415.7 300.3L1419.4 300.7L1423.2 301.4L1426.9 302.5L1432.5 305.1L1437.6 308.5L1441.9 312.6L1445.6 317.5L1447.5 320.6L1449.2 324.1L1451.4 330L1453.2 337.2L1454.3 345.5L1454.6 353.9L1454.2 362.2L1453 371.8L1451.1 381.3L1448.6 390.9L1445.4 400.4L1441.7 410L1436.8 420.7L1431.8 430.3L1425.4 441L1419.4 450L1413.8 457.7L1406.4 466.9L1398.9 475.1L1391.4 482.5L1383.9 489.1L1376.4 494.9L1367.1 501.2L1359.6 505.4L1352.1 509L1344.6 511.7L1337.2 513.7L1329.7 514.8L1322.2 514.9L1316.6 514.2"/>
<path stroke="#1f988b" d="M1038 702.5L1034.2 702.1L1030.5 701.4L1026.7 700.4L1023 698.9L1019.3 697L1016.4 695.2L1013.7 693.1L1010.8 690.4L1008 687.3L1006 684.5L1003.8 680.9L1002 677.3L1000.5 673.7L998.9 668.9L997.8 664.2L996.9 659.4L996 649.9L996.1 639.1L997.2 628.4L999.4 616.4L1002.5 604.5L1006.5 592.6L1011.8 579.7L1017.4 568L1023 557.8L1030.5 545.8L1038 535.2L1047.3 523.4L1056.7 513.1L1066 504.1L1075.4 496.1L1084.7 489.2L1090.3 485.6L1095.9 482.3L1105.3 477.7L1114.6 474.1L1124 471.7L1129.6 470.9L1133.3 470.7L1140.8 470.9L1144.6 471.4L1148.3 472.3L1152 473.5L1155.8 475.2L1164.5 480.4L1173.1 486.4L1179 491.1L1183.9 495.9L1187.7 500.7L1190.5 505.5L1192.3 510.2L1193.4 516.2L1193.5 522.2L1192.5 529.3L1190.8 536.5L1188.1 544.8L1184.4 554.4L1179.1 566.3L1173.4 578.3L1165.5 593.8L1157.3 609.3L1152 618.6L1146.4 627.4L1138.9 638L1131.5 647.6L1124 656.1L1116.2 664.2L1107.2 672.5L1099.7 678.6L1090.3 685.2L1081 690.9L1071.6 695.5L1062.3 699.1L1054.8 701.1L1049.2 702.1L1045.4 702.5L1038 702.5M1318.5 523.5L1314.7 523.1L1311 522.4L1307.2 521.4L1303.2 519.8L1299.8 518L1292.9 513.8L1282.7 506.6L1275.8 500.7L1272.4 497.1L1270.5 494.7L1268.9 492.3L1266.9 488.7L1265.5 485.2L1264.5 481.6L1263.9 475.6L1264.3 468.5L1265.6 461.3L1268.5 451.8L1272.5 441L1277.8 429.1L1284 415.9L1291.9 400.4L1300.7 383.7L1307 373L1314.7 361.3L1322.2 351.3L1331.6 340.1L1340.9 330.4L1350.3 321.7L1361.5 312.9L1367.1 309L1372.7 305.4L1382 300.4L1387.7 297.9L1393.3 295.7L1402.6 293.1L1408.2 292.1L1412 291.7L1417.6 291.6L1421.3 291.9L1425.1 292.4L1428.8 293.3L1432.5 294.5L1436.3 296.1L1441.9 299.6L1446.6 303.8L1450.6 308.5L1454.2 314.5L1456.9 320.5L1459.4 328.8L1460.8 337.2L1461.4 345.5L1461.3 353.9L1460.5 363.4L1458.8 374.2L1456.6 383.7L1453.4 394.5L1449.5 405.2L1445.5 414.8L1440 426.2L1434.4 436.4L1427.9 447L1421.3 456.5L1413.8 466.3L1406.4 475L1398.9 483L1391.4 490.1L1382 498.1L1374.6 503.7L1365.2 509.7L1355.9 514.8L1348.4 518.1L1340.9 520.6L1333.4 522.5L1325.9 523.4L1318.5 523.5"/>
<path stroke="#22a884" d="M1028.6 709.8L1023 708.4L1019.3 707L1014.6 704.8L1009.9 701.6L1006.2 698.3L1002.4 694.2L999 689.2L996.4 684.5L994.4 679.7L992.5 673.7L991.1 667.8L990.1 660.6L989.6 653.4L989.6 646.3L990 639.1L991 630.8L992.4 622.4L994 615.2L996.2 606.9L998.9 598.5L1002.4 589L1005.8 580.6L1009.7 572.3L1013.7 564.5L1017.9 556.8L1023 548.3L1028.6 539.8L1034.2 532L1039.8 524.7L1045.4 517.9L1051.3 511.4L1058.5 504L1067.9 495.3L1077.2 487.7L1086.6 481.1L1097.8 474.4L1103.4 471.5L1109 469.1L1118.4 465.8L1127.7 463.6L1133.3 462.8L1137.1 462.6L1142.7 462.7L1146.4 463.1L1152 464.3L1155.8 465.4L1228.7 497.1L1229.2 495.9L1230.6 494L1299.8 375.5L1306.5 364.6L1316.6 350.5L1325.9 338.9L1335.3 328.7L1346.5 318L1354 311.6L1361.5 305.9L1369 300.9L1376.4 296.4L1383.9 292.5L1391.4 289.3L1398.9 286.8L1406.4 284.9L1413.8 283.8L1419.4 283.6L1426.9 284.1L1432.5 285.3L1438.1 287.2L1443.8 290L1448 293L1452 296.6L1455 300L1457.6 303.8L1459.7 307.3L1462 312.1L1463.8 316.9L1465.2 321.7L1466.3 326.4L1467.2 332.4L1467.7 338.4L1467.8 344.3L1467.3 356.3L1465.4 369.4L1464 376.6L1462.2 383.7L1458.1 396.9L1452.6 411.2L1445.6 426.1L1438.1 439.8L1428.8 454.4L1419.4 467.2L1410.1 478.4L1398.9 490.2L1389.5 498.9L1380.2 506.5L1370.8 513.1L1359.6 519.8L1354 522.7L1348.4 525.1L1339 528.4L1329.7 530.6L1324.1 531.4L1320.3 531.6L1314.7 531.5L1311 531.1L1305.4 529.9L1301.6 528.8L1228.7 497.1L1228.2 498.3L1226.8 500.2L1153.9 624.9L1146.4 636.1L1138.9 646.2L1131.5 655.3L1124 663.5L1112.8 674.6L1106.9 679.7L1099.7 685.5L1094.1 689.6L1086.6 694.5L1081 697.8L1075.4 700.8L1067.9 704.1L1062.3 706.2L1056.7 708L1051.1 709.3L1045.4 710.2L1039.8 710.6L1034.2 710.5L1028.6 709.8"/>
<path stroke="#35b779" d="M1030.5 718L1024.9 717.2L1019.3 715.9L1013.7 713.7L1008.2 710.7L1004.3 707.9L999.7 703.6L996.7 700L993.1 694.6L989.8 688L987.6 682.1L985.7 674.9L984.6 668.9L983.8 661.8L983.6 654.6L983.8 646.3L984.5 637.9L985.7 629.6L987.5 620.4L989.6 611.7L992.5 602.1L995.4 593.8L999.1 584.2L1003.4 574.7L1008 565.2L1012.6 556.8L1017.4 548.7L1023 539.9L1028.7 531.7L1034.2 524.3L1041.7 515.1L1047.3 508.7L1054.8 500.9L1062.4 493.5L1071.6 485.6L1081 478.5L1090.3 472.2L1099.7 466.9L1109 462.5L1118.4 459L1125.9 457L1133.3 455.6L1138.9 455.1L1144.6 455.1L1150.2 455.7L1155.8 456.8L1170.7 461.3L1182 464.1L1191.3 465.9L1198.8 466.6L1206.3 466.7L1213.7 465.6L1219.4 464L1225 461.5L1228.7 459.4L1232.4 456.8L1236.2 453.7L1239.9 450.3L1247.4 442.4L1254.9 433.3L1264.2 420.8L1275.5 404.5L1305.4 358.1L1312.9 347.7L1320.3 338.3L1329.7 327.7L1339 318.2L1348.4 309.7L1359.6 300.8L1367.1 295.6L1374.6 291L1382 286.9L1387.7 284.3L1395.1 281.3L1400.7 279.4L1408.2 277.6L1413.8 276.6L1421.3 276.1L1426.9 276.2L1432.5 277L1438.1 278.3L1442.4 279.9L1447.5 282.4L1452.6 285.9L1456.6 289.4L1459.8 293L1462.5 296.6L1465.3 301.4L1467.6 306.2L1469.8 312.1L1471.2 316.9L1472.2 321.7L1473.1 327.6L1473.6 333.6L1473.8 339.6L1473.8 345.5L1473.3 352.7L1472.5 359.9L1471.3 367L1468.1 381.3L1463.7 395.7L1457.8 411.2L1451.1 425.5L1442.7 441L1433.7 455.3L1423.4 469.7L1413.8 481.3L1402.6 493.3L1395 500.7L1385.8 508.6L1376.4 515.7L1367.1 522L1357.7 527.3L1348.4 531.7L1339 535.2L1331.6 537.2L1324.1 538.6L1318.5 539.1L1312.9 539.1L1307.2 538.5L1301.6 537.4L1286.7 532.9L1275.5 530.1L1266.1 528.3L1256.8 527.5L1249.3 527.7L1243.7 528.6L1239.9 529.6L1236.2 530.9L1230.6 533.7L1225 537.4L1221.2 540.5L1217.5 543.9L1211.9 549.7L1204.4 558.5L1195 570.8L1185.7 584.2L1172.6 604L1155.6 630.8L1146.4 644L1138.9 653.6L1131.5 662.4L1124 670.5L1114.6 679.5L1105.3 687.6L1094.1 696.1L1082.8 703.2L1071.6 709.1L1066 711.5L1060.4 713.6L1051.1 716.2L1045.4 717.3L1039.8 718L1034.2 718.1L1030.5 718"/>
<path stroke="#54c568" d="M1028.6 725.1L1023 724.6L1017.4 723.4L1011.8 721.5L1006.2 718.8L1001.1 715.5L996.8 711.9L993.1 707.9L989.1 702.4L986.4 697.6L983.7 691.6L981.3 684.5L979.6 677.3L978.6 670.1L978 661.8L977.9 653.4L978.5 643.9L979.7 634.3L981.2 626L983.4 616.4L986.1 606.9L989.3 596.9L993.1 587.1L996.8 578.3L1001.9 567.5L1006.3 559.2L1011.8 549.5L1017.4 540.5L1024.2 530.5L1030.5 522L1038 512.7L1044.2 505.5L1051.1 498.2L1058.5 490.8L1067.9 482.5L1075.4 476.5L1084.7 469.7L1094.1 463.8L1103.4 458.8L1112.8 454.7L1120.2 452L1127.7 450L1133.3 448.9L1140.8 448.1L1146.4 448L1153.9 448.6L1168.9 451.8L1180.1 453.5L1189.4 454.2L1198.8 453.9L1206.3 452.9L1213.7 450.9L1221.2 447.9L1228.7 443.7L1236.2 438.4L1243.7 431.8L1251.1 424.2L1260.5 413.5L1269.8 401.6L1279.2 388.8L1288.5 375.4L1302.2 355.1L1309 345.5L1318.5 333.6L1327.8 323.1L1333.8 316.9L1340.9 310.1L1346.6 305L1354 298.9L1360.2 294.2L1367.1 289.5L1372.8 285.9L1380.2 281.7L1391.4 276.4L1397 274.3L1402.6 272.4L1408.2 271L1413.8 269.9L1419.4 269.2L1425.1 269L1430.7 269.2L1436.3 270L1441.9 271.4L1445.6 272.7L1449.4 274.4L1453.1 276.5L1456.8 279.1L1460.6 282.3L1463.9 285.9L1466.7 289.4L1469.8 294.2L1472.2 299L1474.2 303.8L1476.1 309.7L1477.5 315.7L1478.5 321.7L1479.2 327.6L1479.5 334.8L1479.5 340.8L1479.1 347.9L1478.4 355.1L1477.3 362.2L1475.7 370.6L1474 377.8L1471.8 385.8L1469.4 393.3L1466.5 401.6L1463.1 410L1456.1 425.5L1447.8 441L1438.1 456.5L1428.8 469.8L1417.6 483.8L1406.4 496L1398.9 503.4L1389.5 511.7L1380.2 519.2L1370.8 525.7L1361.5 531.4L1352.1 536.3L1342.8 540.2L1335.3 542.8L1327.8 544.6L1322.2 545.6L1316.6 546.1L1311 546.2L1303.5 545.6L1288.5 542.4L1279.2 540.9L1269.8 540.1L1260.5 540.2L1253 541L1245.5 542.7L1238.1 545.4L1230.6 549.3L1223.1 554.4L1215.6 560.6L1208.1 568L1200.7 576.3L1191.3 587.8L1182 600.2L1170.7 616.1L1153.9 641L1148.3 648.8L1142.8 655.8L1135.2 664.9L1127.7 673.1L1120 680.9L1110.9 689.1L1101.5 696.8L1090.3 704.7L1079.1 711.5L1067.9 717L1062.3 719.3L1056.7 721.2L1047.3 723.6L1038 725L1032.4 725.2L1028.6 725.1"/>
<path stroke="#7ad151" d="M1019.3 731.2L1013.7 730L1008 728.1L1002.4 725.4L996.8 721.8L993.1 718.7L988.9 714.3L985.2 709.5L981.7 703.6L978.9 697.6L976.4 690.4L974.6 683.3L973.4 676.1L972.7 667.8L972.5 659.4L972.8 651L973.7 641.5L975 633.1L976.9 623.6L979.3 614.1L982.1 604.5L985.6 594.4L989.3 584.9L993.8 574.7L998.7 564.6L1004.2 554.4L1009.8 544.8L1015.5 535.8L1021.1 527.7L1026.9 519.8L1034.2 510.6L1041.7 501.9L1049.2 493.9L1056.8 486.4L1066 478.1L1073.5 472L1082.8 465.2L1092.2 459.1L1101.5 453.9L1110.9 449.5L1118.4 446.6L1125.9 444.3L1131.5 442.9L1138.9 441.7L1144.6 441.3L1150.2 441.2L1153.9 441.5L1168.9 443.6L1178.2 444.4L1187.6 444.5L1196.9 443.7L1206.3 441.8L1213.7 439.3L1219.4 436.9L1223.1 435L1230.6 430.5L1238.1 425L1245.5 418.5L1253 411.2L1262.4 400.9L1271.7 389.6L1281.1 377.5L1290.4 364.7L1303.5 346L1309.3 338.4L1318.5 327.1L1329.7 314.9L1335.3 309.3L1342.8 302.4L1348.4 297.5L1355.9 291.6L1361.5 287.5L1369 282.4L1375.1 278.7L1382 274.9L1389.5 271.3L1395.1 269L1400.7 266.9L1406.4 265.3L1412 263.9L1417.6 262.9L1423.2 262.4L1428.8 262.2L1434.4 262.5L1440 263.3L1444.4 264.4L1449.4 266.1L1453.1 267.8L1457.6 270.4L1461 272.7L1465.2 276.3L1468.5 279.9L1471.8 284.1L1475.1 289.4L1477.4 294.1L1479.4 299L1481.3 305L1482.8 310.9L1483.8 316.9L1484.5 322.9L1484.9 330L1484.9 337.2L1484.5 344.3L1483.8 351.5L1482.6 359.9L1481.2 367.6L1479.3 375.7L1477.1 383.7L1474.5 392.1L1471.6 400.4L1468.3 408.8L1464.3 417.9L1460.7 425.5L1452.5 441L1443.8 455.5L1438.1 463.9L1432.5 471.7L1421.3 485.9L1415.7 492.3L1408.2 500.3L1400.6 507.8L1391.4 516.1L1383.9 522.2L1374.6 529L1365.2 535.1L1355.9 540.3L1346.5 544.7L1339 547.6L1331.6 549.9L1325.9 551.3L1318.5 552.5L1312.9 552.9L1307.2 553L1303.5 552.7L1288.5 550.6L1279.2 549.8L1269.8 549.7L1262.4 550.3L1253 552L1245.5 554.2L1238.1 557.3L1230.6 561.3L1223.1 566.3L1215.6 572.3L1208.1 579.2L1198.8 589L1189.4 599.9L1180.1 611.8L1168.9 626.9L1152 650.7L1140.8 664.9L1133 673.7L1124 683.1L1114.6 691.8L1105.3 699.7L1094.1 708L1082.8 715.2L1071.6 721.2L1060.4 726L1054.8 727.9L1049.2 729.4L1043.6 730.7L1038 731.5L1028.6 732L1023 731.7L1019.3 731.2"/>
<path stroke="#a5db36" d="M1021.1 738.2L1013.7 737.2L1008 735.7L1002.4 733.5L996.8 730.6L991.2 726.6L986.9 722.7L982.7 717.9L978.7 711.9L975.5 705.9L972.6 698.8L970.5 691.6L968.8 683.3L967.8 674.9L967.3 666.6L967.4 658.2L968.1 648.7L969.3 639.1L971 629.6L973.5 618.8L976.3 608.9L980 597.6L983.7 587.8L987.7 578.3L993.1 566.9L998.7 556.1L1004.3 546.3L1009.9 537.2L1016.8 526.9L1023 518.4L1030.5 508.8L1038 500L1045.4 491.8L1053.3 484L1062.3 475.7L1071.6 467.9L1081 460.9L1090.3 454.7L1099.7 449.3L1109 444.6L1116.5 441.5L1124 439L1129.6 437.4L1137.1 435.8L1142.7 435.1L1152 434.8L1168.9 436.2L1178.2 436.4L1187.6 435.9L1196.9 434.6L1206.3 432.2L1213.7 429.5L1223.1 425L1230.6 420.4L1238.1 415L1247.4 407.1L1254.9 399.9L1264.2 389.9L1271.7 381.2L1281.1 369.6L1290.4 357.3L1303.5 339.4L1311 329.8L1320.3 318.9L1331.3 307.3L1342.8 296.7L1348.4 291.8L1355.9 286L1361.5 281.9L1369 276.9L1376.4 272.3L1382 269.3L1389.5 265.6L1395.1 263.2L1406.4 259.4L1413.8 257.5L1419.4 256.5L1425.1 255.9L1430.7 255.7L1436.3 256L1441.9 256.7L1447.5 257.9L1451.2 259.1L1456.8 261.5L1460.6 263.6L1465.2 266.8L1469.3 270.4L1472.7 273.9L1476.4 278.7L1479.3 283.2L1481.9 288.3L1483.9 293L1485.9 299L1487.5 305L1488.8 312.1L1489.6 319.3L1490 326.4L1490 333.6L1489.7 340.8L1488.9 349.1L1487.9 356.3L1486.4 364.6L1484.5 373L1482.3 381.3L1479.8 389.7L1473.7 406.5L1466.2 423.5L1461.6 432.7L1456.8 441.5L1447.5 457L1441.9 465.4L1436.3 473.3L1425.1 487.7L1419 494.7L1412 502.4L1404.1 510.2L1395.1 518.5L1385.8 526.3L1376.4 533.3L1367.1 539.5L1357.7 544.9L1348.4 549.6L1340.9 552.7L1333.4 555.2L1325.9 557.3L1318.5 558.6L1312.9 559.3L1303.5 559.4L1290.4 558.1L1281.1 557.8L1271.7 558.1L1262.4 559.3L1253 561.4L1245.5 564L1238.1 567.3L1230.6 571.4L1223.1 576.4L1215.6 582.2L1208.1 588.9L1198.8 598.2L1189.4 608.6L1180.1 619.9L1168.9 634.4L1152 657.3L1140.6 671.3L1133 679.7L1124 688.9L1114.6 697.5L1105.3 705.3L1094.1 713.6L1082.8 720.8L1071.6 726.8L1062.3 731L1051.1 734.8L1041.7 737L1036.1 737.9L1030.5 738.4L1021.1 738.2"/>
<path stroke="#d2e21b" d="M1015.5 744.1L1008 742.7L1002.4 741L996.8 738.5L991.2 735.3L985.7 731L981.9 727.3L977.1 721.5L973.3 715.5L969.8 708.3L967.2 701.2L965 693.1L963.7 685.7L962.8 677.3L962.4 668.9L962.6 659.4L963.3 649.9L964.8 639.1L966.6 629.6L969.1 618.8L972.2 608.1L975.8 597.3L979.9 586.6L984 577.1L989.3 565.8L995 555L1000.6 545.1L1006.6 535.3L1013.7 524.8L1021.1 514.5L1028.6 505L1036.1 496.2L1043.6 488.1L1051.2 480.4L1060.4 471.8L1069.8 464L1079.1 456.9L1088.5 450.5L1097.8 444.9L1105.3 441L1114.6 436.8L1122.1 434L1129.6 431.7L1137.1 430L1142.7 429.2L1152 428.5L1167 429.2L1176.3 429.1L1185.7 428.4L1195 426.8L1204.4 424.3L1213.7 420.7L1223.1 416.1L1230.6 411.5L1238.1 406.2L1247.4 398.4L1254.9 391.5L1264.2 381.8L1273.6 371.3L1282.9 360L1292.3 348L1303.5 333.1L1311 323.8L1320.3 313.1L1331.6 301.5L1342.8 291.2L1355.9 280.6L1369 271.5L1374.6 268.1L1382 263.9L1389.5 260.2L1397 257L1404.5 254.4L1410.1 252.7L1417.6 251L1423.2 250.1L1428.8 249.6L1434.4 249.5L1440 249.9L1445.6 250.7L1451.2 252L1456.1 253.6L1460.6 255.7L1465.4 258.4L1469.9 261.7L1473.7 265L1477.4 269L1481.2 273.9L1484.1 278.7L1486.8 284L1489 289.4L1491.3 296.6L1492.7 302.6L1493.9 309.7L1494.6 316.9L1495 324.1L1495 331.2L1494.5 339.6L1493.7 347.9L1492.4 356.3L1490.8 364.6L1488.9 373L1486.6 381.3L1483.6 390.9L1477.4 407.7L1469.9 424.6L1465.3 433.8L1460.6 442.6L1455 452.2L1449.4 461.1L1438.4 476.8L1426.9 491.4L1421 498.3L1413.8 506.1L1406.2 513.8L1397 522.4L1387.7 530.2L1378.3 537.3L1369 543.7L1359.6 549.3L1352.1 553.2L1342.8 557.4L1335.3 560.2L1327.8 562.5L1320.3 564.2L1314.7 565L1305.4 565.7L1290.4 565L1281.1 565.1L1271.7 565.8L1264.2 567L1254.9 569.3L1247.4 571.9L1239.9 575.2L1232.4 579.2L1225 584L1215.6 591L1206.3 599.2L1196.9 608.4L1187.6 618.6L1178.2 629.6L1167 643.8L1152 663.5L1146.4 670.4L1138.9 679.1L1131.5 687.1L1122.1 696.3L1112.8 704.6L1103.4 712.2L1092.1 720.3L1084.7 725L1079.1 728.3L1067.9 734L1056.7 738.6L1045.4 742L1036.1 743.8L1030.5 744.4L1024.9 744.7L1019.3 744.5L1015.5 744.1"/>
<path stroke="#fde725" d="M1013.7 750.2L1006.2 748.9L1000.6 747.3L993.1 744.1L987.5 740.8L981.9 736.5L977.5 732.2L972.7 726.2L968.9 720.3L965.9 714.3L963.1 707.1L960.7 698.8L959.1 690.4L958.1 682.1L957.6 672.5L957.8 663L958.6 652.2L960 641.5L962.1 630.8L964.6 620L967.7 609.3L971.3 598.5L975.8 586.6L980 576.9L985.5 565.1L991.1 554.4L996.8 544.3L1003.1 534.1L1010.2 523.4L1017.4 513.4L1024.9 503.8L1032.5 494.7L1041.7 484.6L1049.3 476.8L1058.5 468.2L1067.9 460.3L1077.2 453.1L1086.6 446.6L1095.9 440.9L1105.3 435.8L1112.8 432.3L1120.2 429.3L1127.7 426.8L1135.2 424.9L1140.8 423.8L1146.4 423L1152 422.6L1167 422.8L1176.3 422.3L1185.7 421.2L1195 419.3L1204.4 416.6L1213.7 412.8L1223.1 408L1230.6 403.4L1238.1 398.1L1247.4 390.6L1256.8 382L1266.1 372.5L1273.6 364.2L1282.9 353.3L1292.3 341.6L1304 326.4L1312.9 315.8L1322.2 305.5L1333.4 294.4L1344.6 284.4L1357.7 274.1L1370.8 265.2L1378.3 260.8L1383.9 257.8L1391.4 254.2L1398.9 251L1406.4 248.4L1412 246.8L1419.4 245.1L1425.1 244.2L1430.7 243.7L1436.3 243.6L1441.9 243.8L1447.5 244.5L1453.1 245.8L1458.7 247.6L1464.3 250.1L1468.5 252.5L1473.6 256L1477.4 259.4L1481.2 263.4L1484.9 268.2L1488.5 273.9L1490.9 278.7L1493.4 284.7L1495.4 290.6L1497.2 297.8L1498.5 305L1499.3 312.1L1499.7 320.5L1499.7 327.6L1499.3 336L1498.5 344.3L1497.4 352.7L1495.8 361.1L1493.7 370.6L1491.1 380.1L1488.6 388.5L1485.3 398L1481.6 407.6L1477.5 417.1L1473.7 425.4L1469.5 433.8L1464.3 443.4L1458.7 453L1453.1 462L1441.9 478.3L1435.8 486.4L1428.8 495L1422.8 501.9L1415.7 509.6L1408.1 517.4L1398.9 526L1389.5 533.9L1380.2 541.1L1370.8 547.6L1361.5 553.3L1352.1 558.4L1342.8 562.7L1335.3 565.5L1327.8 567.9L1320.3 569.7L1314.7 570.7L1305.4 571.6L1290.4 571.4L1281.1 571.9L1271.7 573L1264.2 574.4L1254.9 577L1247.4 579.8L1239.9 583.2L1232.4 587.2L1225 592L1215.6 599L1206.3 606.9L1196.9 615.9L1187.6 625.8L1178.2 636.5L1168.9 647.9L1150.2 671.7L1144.4 678.5L1137.1 686.7L1129.6 694.4L1120.2 703.3L1110.9 711.4L1101.5 718.7L1090.3 726.6L1077.2 734.4L1066 740L1054.8 744.5L1043.6 747.9L1034.2 749.7L1028.6 750.4L1023 750.6L1013.7 750.2"/>
</g>
<path clip-path="url(#cm)" fill="none" stroke="#000" stroke-width="1.8" stroke-linejoin="round" d="M1116.7 597.8L1098.1 598.1L1073.4 600.7L1031.6 602.5L1044.4 627.3L1072.2 621.7L1069.4 615.3L1051.6 612.4L1079.9 611.2L1098.9 610.6L1084.1 621.7L1091.1 616.4L1077.2 619.4L1119.5 616.3L1084.4 622.3L1059.8 618.3L1091.2 621.1L1083.3 623.7L1019.5 628.1L1038.7 613.5L1071.6 618.3L1065.6 610.1L1074.2 610.7L1107 616.5L1090.2 623.2L1076.5 614.8L1089.7 618.4L1076.1 612.2L1081.8 596.1L1093.6 603.8L1046 606.8L1046.6 613.6L1023.2 607.6L1076.4 616.9L1029.5 612.9L1069.9 609.1L1109.8 602.5L1094.6 598.4L1113.1 602.2L1079.7 593.8L1114.7 603.8L1104.8 613.9L1093 609.7L1064.2 605.5L1103.2 597.9L1071.8 599.8L1080.4 607.2L1050.6 597.4L1069 609.6L1091.2 612.1L1074.3 614.5L1070.9 619.8L1057.7 619.2L1068.8 621.5L1079.5 636.5L1110.6 639L1042.3 630.5L1053.2 629.9L1019.9 633.7L1083.3 620.2L1057.4 613.3L1072.1 617.7L1120.5 615.5L1106.9 616.1L1124.6 620.5L1121.3 611.8L1086.1 606.9L1112.7 613.1L1081 610.3L1088.8 606.6L1060.1 611.6L1126 610.6L1079.5 603.7L1048.5 609.7L1087.1 610.9L1087.3 612.4L1083.1 602.7L1068.8 606.3L1057.4 605.1L1053.1 605.1L1088.6 604.6L1077.1 612.4L1091.2 624L1035.4 627.1L1053.9 624.8L1088.5 629.2L1103.2 626.4L1120.2 621.5L1086.9 624.9L1067.9 636.5L1096.6 639L1082.3 630.2L1082.3 631L1065.7 629.3L1073.2 636.1L1061.3 637.5L1058.2 625.3L1055.8 614.6L1073.8 621.3L1079.7 623.6L1113.6 623L1092.3 618.9L1046.3 622.7L1029.3 624.8L1062.4 629.6L1071.1 620.2L1083.1 615L1074.9 615L1073.4 613.5L1057.7 612.4L1024.3 611.7L1034.9 619.7L1092.2 605.4L1084.7 606.7L1056.4 612L1060.7 600.8L1066.3 603.2L1076.1 597.7L1090.2 606.7L1055.8 604.1L1068.9 602.9L1112.8 607L1065.6 603.6L1072.3 621.3L1071.7 620.4L1086.7 618.5L1129.9 613.9L1109.2 615L1100.3 606.9L1122.8 607.9L1091.5 603.2L1065.3 609.7L1095.1 615.7L1109 620L1087.2 624L1093.1 620.9L1097.8 627.7L1088.4 621.9L1096.2 632.5L1078.1 627.3L1074.3 632L1035.9 629.9L1090.8 620.6L1113.8 622.5L1076 621.7L1043 616L1106.9 609.6L1126.4 610.2L1113.7 611.4L1038.8 608.3L1073 602.9L1069.5 601.1L1076.2 594.3L1078.9 593.3L1082.7 589.4L1103.9 585.6L1086 579.7L1092.1 577.8L1097.8 573.9L1093.7 570L1091.6 561.4L1078.5 545.8L1086.9 537.6L1082.1 544.3L1093.7 565.7L1113 555.9L1116.5 555.8L1095.2 561.1L1087.4 534.8L1109 532.9L1126.1 531.2L1090.5 545.9L1081.4 547.2L1117.3 547.5L1104.6 547.6L1114.9 541.1L1114.5 546.2L1140.7 543.5L1098.9 549.2L1094.3 550.3L1101 557.5L1091 553.7L1061 545L1112.4 540.1L1093.7 532.4L1107.7 536.9L1084.9 543.8L1100.1 549.6L1090.9 561.1L1104.2 556.2L1094.1 551.6L1112 548L1120.8 551.5L1127.5 555.8L1108 539.2L1107.7 546.4L1105.5 550.1L1095.1 546L1084.9 555.7L1098.6 549.4L1079.9 547.2L1116.7 550L1094.7 559.2L1120.9 562.8L1119 566.7L1114.7 566.9L1093.2 572.4L1102.2 572.5L1070.2 570.8L1106.7 561.8L1109.6 563.1L1112.4 554.6L1102.3 559.6L1120.9 556.7L1108.1 555.2L1119 545L1086.1 545.9L1079.6 541.4L1095.9 545.8L1083.1 551.4L1068.6 553.8L1067.2 542.3L1100.7 540L1088.8 538L1104.4 539.4L1101.6 548.5L1090.2 544.2L1089.8 552.9L1112.8 560.3L1104 555.3L1114.9 549.9L1117.9 553.9L1095.4 551.1L1097.5 562.2L1139.4 557.2L1112.7 537.5L1107.8 539.3L1086.7 546.5L1072.8 544.5L1094.7 535.6L1112.2 545.6L1083.2 535.2L1104.8 537.4L1083.7 537.2L1094.2 538.1L1111.6 542.6L1131.2 553.2L1120.4 559L1127 560.6L1090.1 563L1098.8 570.3L1101.8 567.8L1106.3 572.5L1105.3 563.7L1107 555.8L1105.3 553L1106.4 565L1096.4 560.3L1096.6 561.4L1081.6 552.2L1094.6 554.4L1098.4 548.4L1087 551.3L1118.8 552.1L1109.2 553.5L1089.1 549.1L1093.3 550.2L1098.2 540.1L1117.3 553.6L1101.9 554.4L1107.1 537.5L1090.3 534.7L1098.3 531.9L1108.6 522.6L1110.7 522.1L1104.6 515L1108.7 504.2L1131.9 507.4L1125.3 510.1L1114.1 504.7L1151.1 504.8L1109.4 489.3L1112.8 495.8L1121.3 495.1L1138.3 492.3L1138.1 496.6L1141.5 497.8L1128.2 498.9L1126.5 502.5L1166.1 497.2L1114.6 495.2L1133.2 499.3L1148.2 495.2L1127.7 500.1L1117.5 502.4L1126 502.6L1141 502.7L1147.1 496.5L1141.9 496.3L1140.5 500.6L1132.3 496.2L1123.8 495L1141 492.5L1151.6 494.9L1136.3 490.6L1178.7 498.6L1184.5 498.7L1206.4 497.8L1214.7 499.2L1228.7 496.3L1235 496.4L1248.3 493.9L1264.8 494.5L1276.7 494.1L1292.6 493.3L1293.2 493.6L1308.8 491L1316.1 489.6L1310.2 489.8L1309.6 487.4L1314 484.5L1312.8 470.2L1369.5 469.3L1361 462.2L1368.6 446.7L1332 446.9L1328.1 441.6L1345.9 443.1L1347.4 462.6L1378.5 473.9L1362.1 465.1L1321.8 459.8L1294 453.1L1356.4 470.2L1380.1 458.6L1375.4 450L1382.2 450.1L1385.2 477.5L1387.6 497L1369.9 485.4L1393.2 497.1L1353.4 489.7L1319.6 480.9L1367.1 475L1345.2 456.9L1361.9 464.8L1372.6 465.7L1329.4 481.7L1346.6 475.1L1371.4 449.2L1359 449.2L1366.1 464.3L1370.8 443.9L1352 448.4L1358.5 436.9L1315.5 446.3L1352.4 448L1312.1 467.7L1291 461.7L1388.4 458.9L1371.5 446.3L1394.3 435.1L1373.8 440.6L1335.3 452.7L1314.7 446.4L1342.9 444.1L1363.7 455.9L1351 450.4L1341.7 447.8L1371.8 447.2L1370.8 448.1L1339.5 458.5L1325.3 458L1383.7 446.5L1362.9 432.2L1345.4 421.7L1343.9 423.1L1355.6 445.8L1362.9 454.6L1356.8 452.4L1335.6 434.7L1351.6 455.6L1366.5 450.2L1400.1 447L1353.9 436.4L1331.5 437.8L1398.2 439.3L1343.1 436.5L1346.6 422.9L1356.3 436.7L1364.1 446.7L1326.4 431.2L1379 447.3L1324.7 451.2L1347.2 457.7L1358.5 452.2L1361.6 454.6L1356.5 436L1291 431.9L1296 439.3L1355.7 445.3L1346.8 448.2L1382.2 442.3L1386.7 452.3L1371.7 467.8L1342.9 475.1L1329 463.4L1321.6 466.5L1322.4 464.9L1317.7 474L1390.1 472.7L1407 475.1L1421 472.3L1336.5 484.2L1347 468L1337 449L1346.2 439.5L1389.9 449.6L1325 435.5L1332.6 419.9L1346.3 426.7L1333.9 427L1361.7 447.3L1394.8 449.4L1388.9 443.2L1376.1 436L1380.1 427.3L1339.3 433L1364.8 422.9L1345.3 430.9L1358.5 427.4L1359.1 430.4L1391.8 441.2L1333.9 421.7L1351.8 440.6L1359.1 452.7L1344.9 439.4L1371.2 443.8L1377.5 432.1L1367 430.5L1379.3 429.7L1347.9 429L1384.9 434.7L1345.8 428.5L1327.1 448.9L1302.3 441.7L1355.7 456.6L1352.2 464.5L1373.7 472.8L1362.5 486.3L1363.3 496.1L1331.3 497.8L1318 474.4L1357.6 462.6L1368.3 450.7L1400.4 452.2L1342.2 455.2L1374.8 447.9L1375.6 470.9L1384.6 468.3L1351.7 472.3L1318.4 438.5L1329.5 431.5L1392.7 438.4L1344 430.7L1366.2 427.9L1346.1 433.2L1356.8 439.4L1360.7 456.7L1401.3 440.4L1421 445.5L1408.1 440.8L1381.5 446.8L1368.3 458.1L1377.2 448.1L1361.3 457.9L1376.5 454.9L1357 454.3L1330.8 442.3L1389.2 441.8L1370.2 437.7L1394.3 460L1363.9 465.2L1341.5 482.2L1376.5 469.1L1395 470.9L1379.8 472.4L1348.4 464.4L1371 462.9L1338.8 483L1347.4 472.6L1337.9 477L1376.5 476.1L1385.4 457.5L1357.3 453.1L1358.2 459.3L1307.7 491.2L1321.6 488.3L1367.8 491.2L1367 455.1L1333.8 463.6L1327.8 451.8L1291 465.6L1350.3 455L1352 454.6L1328 452.4L1354.7 459.1L1387.8 459.1L1354.7 462.8L1340.6 448.9L1380.3 446.7L1366.8 455.4L1332.3 462.2L1360.5 460.2L1367.6 451.8L1305.3 450L1318.6 460.2L1351.8 454.2L1356.4 468.5L1384.7 470L1375.7 464.5L1359.1 469L1354.4 469.6L1328.3 450L1305.9 446.9L1374.3 461L1337.2 444.3L1370.4 451.5L1326.8 463.4L1351.9 475.5L1363.7 480.9L1366.7 466.3L1353.8 457.5L1376.3 447.2L1324.4 456.1L1375.3 470.9L1389.2 452.7L1349 447.9L1353.7 427.7L1355.4 436.3L1332.5 441.6L1378.8 445L1389.3 457.7L1376.5 461.4L1353.2 473.1L1343.8 462.7L1370.1 454L1371.1 465.3L1362.8 464.7L1381.1 470.7L1325.7 454.6L1380.3 459L1312 444.8L1343.8 437.2L1364.4 441.9L1371.1 433L1376.4 457.8L1342.9 471L1376.9 474.8L1361.2 459.4L1336.3 466.7L1374.9 477.3L1386.1 482.5L1354.8 465.1L1361.3 468.6L1360.3 450.8L1345 437.1L1356.9 430.4L1352.7 439L1359 456.7L1330.1 434.5L1372.3 453.4L1397.1 457.1L1382.4 458.4L1332.5 452.4L1362 447.5L1405.8 433.8L1360.9 449.9L1343.2 439.9L1319.2 436L1383.2 444.5L1377.7 441.8L1384.3 446.1L1342.4 443.8L1357.8 458.5L1355.9 463.4L1406.9 454.1L1341.3 464.9L1363.3 462.5L1365.6 458.1L1372.5 454.6L1381.7 443.3L1344.3 447.4L1341.7 456.6L1351.6 451.3L1360.8 447.2L1319.7 437.8L1326.2 437L1350.4 450.5L1369 470.2L1392.5 465.8L1409 476.4L1361.7 475.9L1386 474.9L1391.3 475.6L1385.2 468.9L1375.3 463.1L1379.7 444.9L1372.6 460.4L1376.5 459.7L1376.7 450.8L1342.8 448.7L1349.5 460.5L1333.1 470.3L1311.3 459.9L1342.8 471.4L1338 446.9L1362.2 448.9L1332.2 440.2L1332.7 444.8L1366.6 432.4L1417.1 437.2L1366.2 448.3L1362.9 474.1L1386.4 467.2L1356.5 460.4L1348.8 466.8L1338.9 481.5L1349.9 475.4L1378.8 451.8L1340.7 459.2L1352.8 458.9L1365.9 452.6L1355.8 439.8L1310.5 456.4L1320.2 449.4L1380.9 462L1351.4 455.8L1353.6 446.5L1369.9 450.3L1364.3 459.5L1377.3 478L1401 456.5L1392.7 445.4L1332.6 455.2L1332.5 452.5L1376.4 446.8L1340.9 452.4L1382.8 458.9L1326.4 452.1L1344.3 472.9L1375.6 478.6L1392.7 471.3L1379.9 473.7L1339.9 470.4L1366.1 456.9L1380 464.8L1389.8 455.5L1369.8 470.9L1380.7 460.2L1370 474.3L1359.2 474.9L1421 471.1L1373.7 458.2L1345.9 473.3L1350.4 458.1L1332 458.1L1368.6 450.4L1378.2 446.8L1372.2 454.2L1376.6 450.4L1358.6 456.9L1325.2 458.7L1359.9 469L1356.6 464.6L1360 455.5L1352.2 459.9L1362 448.5L1349.8 428.4L1374 428.5L1367.3 422.8L1357.2 433.9L1380.5 424.4L1384 428.9L1344.9 439L1345 439.3L1334.9 444.7L1350.2 445L1330.1 441.8L1357.7 457.5L1355.4 471.4L1355.1 457L1370.9 446.8L1369.9 459.3L1352.1 457.6L1415.5 459.5L1379.9 466.5L1360.3 463.3L1366.3 437.3L1393.7 430L1340.1 440.5L1351.5 430.7L1359.4 423.9L1339.3 414.9L1330.1 427L1350.8 435.7L1376.8 439.2L1345.5 439.5L1393.2 443L1374.6 444.4L1367.2 450.9L1358.7 450.2L1337 442.5L1359.9 452.7L1379.6 453.7L1342.2 460.4L1366.6 444L1378.6 452.2L1403.6 441.3L1338.2 452L1305.8 445.2L1313.5 436.9L1295.7 438.1L1361.6 446.1L1368.3 444.3L1395.1 451.8L1393.4 436.8L1375.5 428.9L1370.2 436.2L1332.2 441.9L1377.4 449.8L1376.9 442.2L1345.4 433.6L1356 450.2L1366.7 451.3L1331.5 456.7L1342.8 437.2L1309.3 437.5L1319.9 458L1346.1 447.1L1341 465.1L1328.1 471.1L1358.5 483L1370 473.6L1373.3 470.8L1385.4 467.2L1413.8 464L1384.4 455.8L1367.8 456.2L1364 465.4L1345.4 455.1L1380.5 452.5L1347.1 465L1372.9 436.5L1352.1 448.5L1375.8 445L1401 439.3L1364.2 444.1L1358.8 454.9L1382.5 454.9L1399 448.4L1364.2 467.6L1361.5 476.4L1347.6 469.9L1351.6 469.1L1347 467L1370.6 477.3L1363.8 480L1381.6 464.6L1325.7 479.6L1380.3 475.8"/>
<g stroke="#808080" stroke-width="2.2" stroke-dasharray="9 4.6" fill="none">
<path d="M1088.5 777.4V216.8"/>
<path d="M1369 777.4V216.8"/>
<path d="M948.2 586.6H1509.2"/>
<path d="M948.2 407.6H1509.2"/>
<path d="M948.2 197.8H1509.2"/>
<path d="M948.2 125.7H1509.2"/>
<path d="M948.2 53.6H1509.2"/>
<path d="M1527.7 777.4V216.8"/>
<path d="M1599.6 777.4V216.8"/>
<path d="M1671.5 777.4V216.8"/>
</g>
<path clip-path="url(#ct)" fill="none" stroke="#000" stroke-width="3.8" stroke-linejoin="round" d="M948.2 -34.2L957.1 -5.7L966 20.9L974.8 45.6L983.3 67.3L992.1 88.4L1001 107.7L1005.2 116.1L1009.9 125.1L1014.1 132.6L1018.3 139.8L1023 147.3L1027.2 153.6L1031.4 159.4L1035.6 164.9L1039.8 169.9L1044.5 175L1049.2 179.6L1053.4 183.3L1058.1 186.9L1062.3 189.7L1066.5 192.1L1070.7 194.1L1074.9 195.6L1079.6 196.9L1083.8 197.5L1088.5 197.8L1093.1 197.5L1097.3 196.9L1102 195.6L1106.2 194.1L1110.4 192.1L1114.6 189.7L1118.8 186.9L1123.5 183.3L1128.2 179.2L1132.9 174.5L1137.5 169.4L1142.2 163.7L1146.4 158.2L1151.1 151.5L1155.3 145.1L1163.2 132.4L1170.3 122.3L1174.5 116.7L1178.7 111.6L1182.9 106.9L1187.1 102.6L1192.2 98L1197.4 93.9L1202.5 90.4L1207.7 87.6L1212.8 85.4L1217.9 83.8L1222.6 82.9L1227.8 82.5L1232.9 82.6L1238.1 83.5L1243.2 84.9L1248.3 86.9L1253.5 89.6L1258.6 92.9L1263.8 96.8L1268.9 101.3L1273.1 105.5L1277.3 110L1281.5 115L1286.2 121L1293.7 131.7L1302.6 145.8L1307.2 152.9L1312.4 160.1L1317.5 166.6L1323.6 173.5L1329.2 179.2L1335.3 184.4L1340.9 188.5L1344.2 190.6L1347.4 192.3L1350.7 193.9L1354 195.2L1357.3 196.2L1360.5 197L1363.8 197.5L1366.6 197.7L1369.9 197.8L1372.7 197.6L1376 197.2L1379.2 196.6L1382.5 195.6L1385.8 194.5L1389.1 193L1392.3 191.4L1395.6 189.4L1399.3 186.9L1403.1 184.1L1406.8 180.9L1410.1 177.8L1413.8 174L1417.6 169.9L1421.3 165.5L1428.3 156.2L1435.8 145.1L1443.3 132.6L1450.8 118.9L1457.8 104.7L1465.3 88.4L1472.7 70.8L1480.2 51.8L1487.7 31.5L1494.7 11.3L1501.7 -10.1L1509.2 -34.2"/>
<path clip-path="url(#cr)" fill="none" stroke="#1f77b4" stroke-width="3.5" stroke-linejoin="round" d="M1892.4 807.4L1871 800.8L1848.4 793.7L1828.4 787.1L1807.3 779.9L1788.7 773.4L1769 766.2L1751.7 759.6L1733.6 752.5L1717.6 745.9L1700.9 738.8L1686.3 732.2L1671.1 725L1657.8 718.5L1644.1 711.3L1631.1 704.2L1618.9 697L1608.3 690.4L1597.6 683.3L1588.4 676.7L1579.2 669.5L1571.3 663L1563.5 655.8L1557.1 649.3L1550.7 642.1L1545.6 635.5L1540.8 628.4L1537 621.8L1533.6 614.6L1531.2 608.1L1529.2 600.9L1528.1 593.8L1527.7 586.6L1527.8 582.4L1528.3 577.7L1529.1 572.9L1530.3 568.1L1531.7 563.3L1533.6 558.6L1535.7 553.8L1538.3 549L1540.7 544.8L1543.9 540.1L1546.9 535.9L1550.6 531.1L1556.3 524.5L1569.3 510.8L1573.4 506.1L1575 503.7L1576 501.9L1576.7 500.1L1577.1 498.3L1577.1 495.9L1576.5 493.5L1575.4 491.1L1573.8 488.7L1569.8 484L1558 471.4L1551.1 463.7L1544.7 455.3L1539.6 447.6L1535.5 439.8L1533.6 435.6L1532.2 432.1L1530.8 427.9L1529.8 424.3L1528.4 417.1L1527.9 412.4L1527.7 408.2L1527.8 403.4L1528.2 399.2L1529 394.5L1529.9 390.3L1531.2 386.1L1532.6 381.9L1534.6 377.2L1536.7 373L1539.3 368.2L1541.9 364L1545.2 359.3L1548.3 355.1L1555.4 346.7L1560.5 341.4L1565.4 336.6L1571.3 331.2L1577 326.4L1583.7 321.1L1590.1 316.3L1603.8 306.8L1612.1 301.4L1619.9 296.6L1637.5 286.5L1656.6 276.3L1676.1 266.8L1698.2 256.6L1721.9 246.5L1747.1 236.3L1772.2 226.8L1800.5 216.7L1830.2 206.5L1861.5 196.4L1892.4 186.8"/>
<path stroke="#000" stroke-width="2" fill="none" d="M1041.7 212.3v-6M1135.2 212.3v-6M1228.7 212.3v-6M1322.2 212.3v-6M1415.7 212.3v-6M1513.8 735.8h6M1513.8 616.4h6M1513.8 497.1h6M1513.8 377.8h6M1513.8 258.4h6"/>
<g fill="none" stroke="#000" stroke-width="2.1">
<rect x="948.2" y="39.8" width="561" height="172.5"/>
<rect x="948.2" y="216.8" width="561" height="560.6"/>
<rect x="1513.8" y="216.8" width="173.2" height="560.6"/>
</g>
<rect x="965.4" y="233.2" width="25.8" height="173.7" fill="#fff"/>
<path stroke="#440154" stroke-width="3.8" d="M965.4 406.9H991.2"/>
<path stroke="#481a6c" stroke-width="3.8" d="M965.4 395.3H991.2"/>
<path stroke="#472f7d" stroke-width="3.8" d="M965.4 383.7H991.2"/>
<path stroke="#414487" stroke-width="3.8" d="M965.4 372.2H991.2"/>
<path stroke="#39568c" stroke-width="3.8" d="M965.4 360.6H991.2"/>
<path stroke="#31688e" stroke-width="3.8" d="M965.4 349H991.2"/>
<path stroke="#2a788e" stroke-width="3.8" d="M965.4 337.4H991.2"/>
<path stroke="#23888e" stroke-width="3.8" d="M965.4 325.8H991.2"/>
<path stroke="#1f988b" stroke-width="3.8" d="M965.4 314.3H991.2"/>
<path stroke="#22a884" stroke-width="3.8" d="M965.4 302.7H991.2"/>
<path stroke="#35b779" stroke-width="3.8" d="M965.4 291.1H991.2"/>
<path stroke="#54c568" stroke-width="3.8" d="M965.4 279.5H991.2"/>
<path stroke="#7ad151" stroke-width="3.8" d="M965.4 267.9H991.2"/>
<path stroke="#a5db36" stroke-width="3.8" d="M965.4 256.4H991.2"/>
<path stroke="#d2e21b" stroke-width="3.8" d="M965.4 244.8H991.2"/>
<path stroke="#fde725" stroke-width="3.8" d="M965.4 233.2H991.2"/>
<rect x="965.4" y="233.2" width="25.8" height="173.7" fill="none" stroke="#000" stroke-width="1.2"/>
<path stroke="#000" stroke-width="1.5" d="M991.2 406.9h6M991.2 349h6M991.2 291.1h6M991.2 233.2h6"/>
<path fill="#f00" d="M1226.5 198.6V106H1221.3L1228.7 84.2L1236.1 106H1230.9V198.6Z"/>
<path fill="#f00" d="M1525.3 495.1H1547.6V491.6L1573.3 497L1547.6 502.4V498.9H1525.3Z"/>
<g font-family="'DejaVu Sans', sans-serif" fill="#000">
<text x="942.2" y="206.4" font-size="23.6" text-anchor="end">0</text>
<text x="942.2" y="134.3" font-size="23.6" text-anchor="end">5</text>
<text x="942.2" y="62.2" font-size="23.6" text-anchor="end">10</text>
<text transform="translate(897.2 126) rotate(-90)" font-size="31" text-anchor="middle"><tspan font-style="oblique">G</tspan><tspan font-size="21.7" dy="5">0</tspan><tspan dy="-5">(</tspan><tspan font-style="oblique">x</tspan>)</text>
<text x="1031.3" y="111.5" font-size="31">Hidden</text>
<text x="942" y="415.1" font-size="23.6" text-anchor="end"><tspan font-style="oblique">q</tspan><tspan font-size="16.5" dy="3.8">1</tspan></text>
<text x="942" y="594.1" font-size="23.6" text-anchor="end"><tspan font-style="oblique">q</tspan><tspan font-size="16.5" dy="3.8">0</tspan></text>
<text x="1089.5" y="801.9" font-size="23.6" text-anchor="middle"><tspan font-style="oblique">x</tspan><tspan font-size="16.5" dy="3.8">0</tspan></text>
<text x="1370" y="801.9" font-size="23.6" text-anchor="middle"><tspan font-style="oblique">x</tspan><tspan font-size="16.5" dy="3.8">1</tspan></text>
<text x="1228.4" y="836.9" font-size="31" text-anchor="middle">Molecular extension <tspan font-style="oblique">x</tspan></text>
<text transform="translate(901.7 497.2) rotate(-90)" font-size="31" text-anchor="middle">Measured extension <tspan font-style="oblique">q</tspan></text>
<text x="1003.5" y="415.5" font-size="23.6">0</text>
<text x="1003.5" y="357.6" font-size="23.6">5</text>
<text x="1003.5" y="299.7" font-size="23.6">10</text>
<text x="1003.5" y="241.8" font-size="23.6">15</text>
<text x="1043.2" y="269" font-size="31">Energy [<tspan font-style="oblique">k</tspan><tspan font-style="oblique" font-size="21.7" dy="5">B</tspan><tspan font-style="oblique" dy="-5">T</tspan>]</text>
<text x="1527.7" y="802.3" font-size="23.6" text-anchor="middle">0</text>
<text x="1599.6" y="802.3" font-size="23.6" text-anchor="middle">5</text>
<text x="1671.5" y="802.3" font-size="23.6" text-anchor="middle">10</text>
<text x="1600.4" y="837.6" font-size="31" text-anchor="middle"><tspan font-style="oblique">G</tspan>(<tspan font-style="oblique">q</tspan>)</text>
<text fill="#f00" x="1553" y="466.9" font-size="24">2.5 [<tspan font-style="oblique">k</tspan><tspan font-style="oblique" font-size="16.8" dy="3.8">B</tspan><tspan font-style="oblique" dy="-3.8">T</tspan>]</text>
<text fill="#f00" transform="translate(1217.5 187.3) rotate(-90)" font-size="24">8 [<tspan font-style="oblique">k</tspan><tspan font-style="oblique" font-size="16.8" dy="3.8">B</tspan><tspan font-style="oblique" dy="-3.8">T</tspan>]</text>
</g>
<text x="1526.5" y="259" font-family="'Liberation Sans', Arial, sans-serif" font-size="33">Observed</text>
<text transform="translate(853.4 36.7) scale(1.1 1)" font-family="'Liberation Sans', Arial, sans-serif" font-size="44">c</text>
</svg>
</body></html>
